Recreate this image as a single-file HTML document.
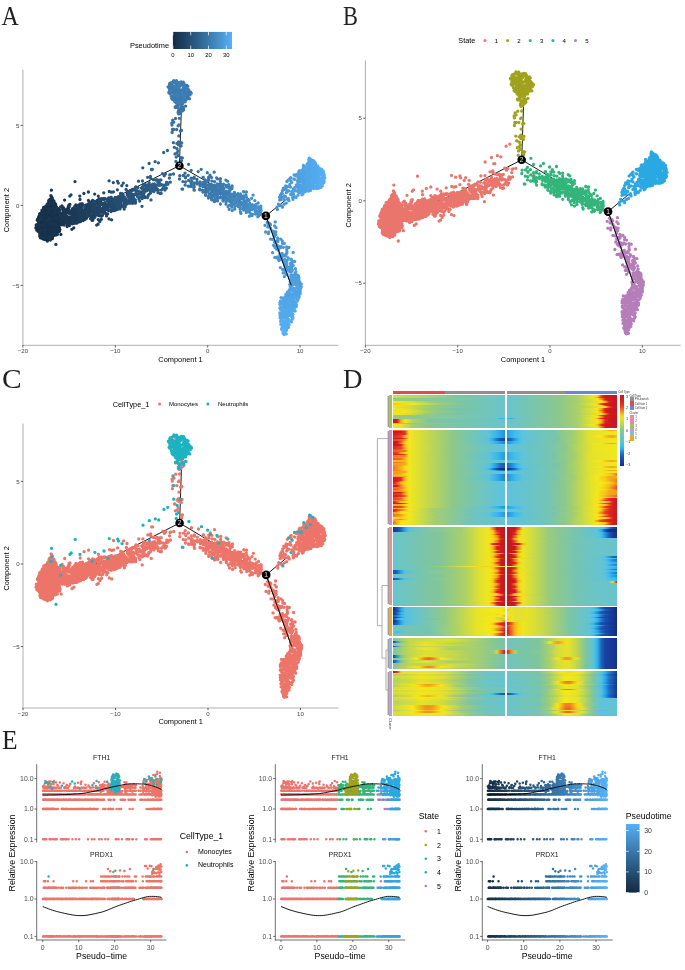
<!DOCTYPE html>
<html><head><meta charset="utf-8"><title>Figure</title>
<style>
html,body{margin:0;padding:0;background:#fff;}
#fig{position:relative;width:685px;height:970px;overflow:hidden;background:#fff;filter:blur(0.3px);font-family:"Liberation Sans",sans-serif;}
.hr{position:absolute;}
</style></head><body><div id="fig">
<div class="hr" style="left:393.2px;top:394.90px;width:112.1px;height:1.94px;background:linear-gradient(90deg,#d3dc3d 0%,#bdd655 21.4%,#80c59a 57.1%,#6ac4c9 100%)"></div>
<div class="hr" style="left:507.2px;top:394.90px;width:110.0px;height:1.94px;background:linear-gradient(90deg,#68c4cc 0%,#8ac88e 46.4%,#aad067 64.3%,#ede621 78.6%,#f7d717 82.1%,#e94724 85.7%,#cd181f 89.3%,#c8161e 100%)"></div>
<div class="hr" style="left:393.2px;top:396.53px;width:112.1px;height:1.94px;background:linear-gradient(90deg,#d3dc3d 0%,#bdd655 21.4%,#80c59a 57.1%,#6ac4c9 100%)"></div>
<div class="hr" style="left:507.2px;top:396.53px;width:110.0px;height:1.94px;background:linear-gradient(90deg,#68c4cc 0%,#8ac88e 46.4%,#acd166 64.3%,#f6ea16 78.6%,#f6a41d 82.1%,#dc1f22 85.7%,#cc181f 89.3%,#c8161e 100%)"></div>
<div class="hr" style="left:393.2px;top:398.17px;width:112.1px;height:1.94px;background:linear-gradient(90deg,#98cb7d 0%,#6ac4c9 100%)"></div>
<div class="hr" style="left:507.2px;top:398.17px;width:110.0px;height:1.94px;background:linear-gradient(90deg,#68c4cc 0%,#8ac88e 46.4%,#a9d069 64.3%,#f6e616 82.1%,#f5941f 85.7%,#d81d21 89.3%,#ca171e 96.4%,#c8161e 100%)"></div>
<div class="hr" style="left:393.2px;top:399.81px;width:112.1px;height:1.94px;background:linear-gradient(90deg,#98cb7d 0%,#6ac4c9 100%)"></div>
<div class="hr" style="left:507.2px;top:399.81px;width:110.0px;height:1.94px;background:linear-gradient(90deg,#68c4cc 0%,#8ac88e 46.4%,#a8d06a 64.3%,#ede621 82.1%,#f7d817 85.7%,#ea4924 89.3%,#cd181f 92.9%,#c8161e 100%)"></div>
<div class="hr" style="left:393.2px;top:401.44px;width:112.1px;height:1.94px;background:linear-gradient(90deg,#f4e919 0%,#d8de38 17.9%,#9bcc79 35.7%,#7ac5a7 64.3%,#6ac4c9 100%)"></div>
<div class="hr" style="left:507.2px;top:401.44px;width:110.0px;height:1.94px;background:linear-gradient(90deg,#68c4cc 0%,#8ac88e 46.4%,#a7cf6b 64.3%,#f5e917 85.7%,#f6af1b 89.3%,#de2522 92.9%,#cb171f 96.4%,#c8161e 100%)"></div>
<div class="hr" style="left:393.2px;top:403.07px;width:112.1px;height:1.94px;background:linear-gradient(90deg,#f8c918 0%,#f1e81c 17.9%,#cfdb41 28.6%,#9bcc7a 42.9%,#79c5a8 67.9%,#6ac4c9 100%)"></div>
<div class="hr" style="left:507.2px;top:403.07px;width:110.0px;height:1.94px;background:linear-gradient(90deg,#68c4cc 0%,#8ac88e 46.4%,#aad067 64.3%,#ede621 78.6%,#f7d817 82.1%,#e94824 85.7%,#cd181f 89.3%,#c8161e 100%)"></div>
<div class="hr" style="left:393.2px;top:404.71px;width:112.1px;height:1.94px;background:linear-gradient(90deg,#efe71e 0%,#d5dd3b 14.3%,#9dcd77 28.6%,#7dc5a0 53.6%,#6ac4c9 100%)"></div>
<div class="hr" style="left:507.2px;top:404.71px;width:110.0px;height:1.94px;background:linear-gradient(90deg,#68c4cc 0%,#8ac88e 46.4%,#a8d069 64.3%,#efe71e 82.1%,#f7d417 85.7%,#e63e23 89.3%,#cc181f 92.9%,#c8161e 100%)"></div>
<div class="hr" style="left:393.2px;top:406.34px;width:112.1px;height:1.94px;background:linear-gradient(90deg,#e7e328 0%,#d0db40 14.3%,#96cb7f 35.7%,#78c5ab 67.9%,#6ac4c9 100%)"></div>
<div class="hr" style="left:507.2px;top:406.34px;width:110.0px;height:1.94px;background:linear-gradient(90deg,#68c4cc 0%,#8ac88e 46.4%,#b3d35e 67.9%,#ede621 85.7%,#f7d817 89.3%,#ea4924 92.9%,#cc181f 96.4%,#c8161e 100%)"></div>
<div class="hr" style="left:393.2px;top:407.98px;width:112.1px;height:1.94px;background:linear-gradient(90deg,#f3e91a 0%,#dbdf35 14.3%,#9fcd74 28.6%,#7fc59c 50%,#6ac4c9 100%)"></div>
<div class="hr" style="left:507.2px;top:407.98px;width:110.0px;height:1.94px;background:linear-gradient(90deg,#68c4cc 0%,#8ac88e 46.4%,#a9d069 64.3%,#f5ea17 82.1%,#f6ab1c 85.7%,#dd2322 89.3%,#cc181f 92.9%,#c8161e 100%)"></div>
<div class="hr" style="left:393.2px;top:409.62px;width:112.1px;height:1.94px;background:linear-gradient(90deg,#f7db17 0%,#f2e81b 10.7%,#cfdb41 21.4%,#a0cd73 32.1%,#7ec59e 53.6%,#6ac4c9 100%)"></div>
<div class="hr" style="left:507.2px;top:409.62px;width:110.0px;height:1.94px;background:linear-gradient(90deg,#68c4cc 0%,#8ac88e 46.4%,#aad068 64.3%,#f7e017 82.1%,#f07122 85.7%,#d01920 89.3%,#c8161e 100%)"></div>
<div class="hr" style="left:393.2px;top:411.25px;width:112.1px;height:1.94px;background:linear-gradient(90deg,#f7dd17 0%,#f1e81c 10.7%,#cfdb41 21.4%,#98cb7d 35.7%,#7bc5a4 60.7%,#6ac4c9 100%)"></div>
<div class="hr" style="left:507.2px;top:411.25px;width:110.0px;height:1.94px;background:linear-gradient(90deg,#68c4cc 0%,#8ac88e 46.4%,#a9d069 64.3%,#f5ea17 82.1%,#f6ad1b 85.7%,#de2422 89.3%,#cc181f 92.9%,#c8161e 100%)"></div>
<div class="hr" style="left:393.2px;top:412.88px;width:112.1px;height:1.94px;background:linear-gradient(90deg,#f6e916 0%,#dcdf34 14.3%,#9bcc79 28.6%,#7ec59e 50%,#6ac4c9 100%)"></div>
<div class="hr" style="left:507.2px;top:412.88px;width:110.0px;height:1.94px;background:linear-gradient(90deg,#68c4cc 0%,#8ac88e 46.4%,#a8cf6a 64.3%,#f6e316 85.7%,#f38420 89.3%,#d41b20 92.9%,#c8161e 100%)"></div>
<div class="hr" style="left:393.2px;top:414.52px;width:112.1px;height:1.94px;background:linear-gradient(90deg,#98cb7d 0%,#6ac4c9 100%)"></div>
<div class="hr" style="left:507.2px;top:414.52px;width:110.0px;height:1.94px;background:linear-gradient(90deg,#68c4cc 0%,#8ac88e 46.4%,#abd067 64.3%,#f0e71d 78.6%,#f8d018 82.1%,#e53923 85.7%,#cc181f 89.3%,#c8161e 100%)"></div>
<div class="hr" style="left:393.2px;top:416.16px;width:112.1px;height:1.94px;background:linear-gradient(90deg,#98cb7d 0%,#6ac4c9 100%)"></div>
<div class="hr" style="left:507.2px;top:416.16px;width:110.0px;height:1.94px;background:linear-gradient(90deg,#68c4cc 0%,#8ac88e 46.4%,#a9d069 64.3%,#f6e916 82.1%,#f59e1d 85.7%,#db1e22 89.3%,#ca171e 96.4%,#c8161e 100%)"></div>
<div class="hr" style="left:393.2px;top:417.79px;width:112.1px;height:1.94px;background:linear-gradient(90deg,#98cb7d 0%,#6fc4be 85.7%,#6ac4c8 89.3%,#58c2e0 92.9%,#2eadec 96.4%,#3fbdef 100%)"></div>
<div class="hr" style="left:507.2px;top:417.79px;width:110.0px;height:1.94px;background:linear-gradient(90deg,#3bbbef 0%,#2baaeb 3.6%,#55c2e2 7.1%,#6ac4c9 10.7%,#95ca81 53.6%,#acd166 64.3%,#f6ea16 78.6%,#f6a81c 82.1%,#dd2122 85.7%,#cc181f 89.3%,#c8161e 100%)"></div>
<div class="hr" style="left:393.2px;top:419.43px;width:112.1px;height:1.94px;background:linear-gradient(90deg,#c8161e 0%,#d61c21 3.6%,#f6ac1c 7.1%,#f6e616 10.7%,#b2d35f 17.9%,#7fc59c 32.1%,#68c4cc 100%)"></div>
<div class="hr" style="left:507.2px;top:419.43px;width:110.0px;height:1.94px;background:linear-gradient(90deg,#68c4cc 0%,#8ac88e 46.4%,#a9d069 64.3%,#f4e919 82.1%,#f7b91a 85.7%,#e02b23 89.3%,#cc181f 92.9%,#c8161e 100%)"></div>
<div class="hr" style="left:393.2px;top:421.06px;width:112.1px;height:1.94px;background:linear-gradient(90deg,#c8161e 0%,#d61c21 3.6%,#f6ac1c 7.1%,#f6e616 10.7%,#b2d35f 17.9%,#7fc59c 32.1%,#68c4cc 100%)"></div>
<div class="hr" style="left:507.2px;top:421.06px;width:110.0px;height:1.94px;background:linear-gradient(90deg,#68c4cc 0%,#8ac88e 46.4%,#a9d069 64.3%,#f5e918 82.1%,#f7b11b 85.7%,#df2622 89.3%,#cc181f 92.9%,#c8161e 100%)"></div>
<div class="hr" style="left:393.2px;top:422.69px;width:112.1px;height:1.94px;background:linear-gradient(90deg,#98cb7d 0%,#6ac4c9 100%)"></div>
<div class="hr" style="left:507.2px;top:422.69px;width:110.0px;height:1.94px;background:linear-gradient(90deg,#68c4cc 0%,#8ac88e 46.4%,#a9d068 64.3%,#f6e516 82.1%,#f48c20 85.7%,#d61c21 89.3%,#c8161e 100%)"></div>
<div class="hr" style="left:393.2px;top:424.33px;width:112.1px;height:1.94px;background:linear-gradient(90deg,#f6e416 0%,#e9e426 7.1%,#a1ce72 17.9%,#85c694 32.1%,#6ac4c9 100%)"></div>
<div class="hr" style="left:507.2px;top:424.33px;width:110.0px;height:1.94px;background:linear-gradient(90deg,#68c4cc 0%,#8ac88e 46.4%,#abd067 64.3%,#f1e81b 78.6%,#f8ca18 82.1%,#e33423 85.7%,#cc181f 89.3%,#c8161e 100%)"></div>
<div class="hr" style="left:393.2px;top:425.97px;width:112.1px;height:1.94px;background:linear-gradient(90deg,#f6e416 0%,#e9e426 7.1%,#a1ce72 17.9%,#85c694 32.1%,#6ac4c9 100%)"></div>
<div class="hr" style="left:507.2px;top:425.97px;width:110.0px;height:1.94px;background:linear-gradient(90deg,#68c4cc 0%,#8ac88e 46.4%,#aad068 64.3%,#f6e216 82.1%,#f27f21 85.7%,#d31a20 89.3%,#c8161e 100%)"></div>
<div class="hr" style="left:388.9px;top:394.9px;width:3.1px;height:32.7px;background:#a8c43c"></div>
<div class="hr" style="left:393.2px;top:429.80px;width:112.1px;height:1.89px;background:linear-gradient(90deg,#ed6023 0%,#f06f22 7.1%,#f38420 10.7%,#f2e81b 14.3%,#c3d74e 32.1%,#8cc88b 53.6%,#60c3d8 85.7%,#34b4ee 92.9%,#238fda 100%)"></div>
<div class="hr" style="left:507.2px;top:429.80px;width:110.0px;height:1.89px;background:linear-gradient(90deg,#26a1e7 0%,#3ebdef 7.1%,#60c3d8 14.3%,#79c5aa 42.9%,#a4ce6f 60.7%,#e2e12e 75%,#f5e918 85.7%,#f6af1b 92.9%,#f6a81c 96.4%,#f8c618 100%)"></div>
<div class="hr" style="left:393.2px;top:431.39px;width:112.1px;height:1.89px;background:linear-gradient(90deg,#c9171e 0%,#d41b20 7.1%,#e53b23 10.7%,#f2e81b 14.3%,#c3d74e 32.1%,#8cc88b 53.6%,#60c3d8 85.7%,#34b4ee 92.9%,#238fda 100%)"></div>
<div class="hr" style="left:507.2px;top:431.39px;width:110.0px;height:1.89px;background:linear-gradient(90deg,#26a1e7 0%,#3ebdef 7.1%,#60c3d8 14.3%,#79c5aa 42.9%,#a4ce6f 60.7%,#e2e12e 75%,#f2e81a 100%)"></div>
<div class="hr" style="left:393.2px;top:432.98px;width:112.1px;height:1.89px;background:linear-gradient(90deg,#da1d22 0%,#e22f23 10.7%,#f2e81b 14.3%,#c3d74e 32.1%,#8cc88b 53.6%,#60c3d8 85.7%,#34b4ee 92.9%,#238fda 100%)"></div>
<div class="hr" style="left:507.2px;top:432.98px;width:110.0px;height:1.89px;background:linear-gradient(90deg,#26a1e7 0%,#3ebdef 7.1%,#60c3d8 14.3%,#79c5aa 42.9%,#a4ce6f 60.7%,#e2e12e 75%,#f2e81a 100%)"></div>
<div class="hr" style="left:393.2px;top:434.56px;width:112.1px;height:1.89px;background:linear-gradient(90deg,#dd2222 0%,#e73f24 7.1%,#f7ba1a 10.7%,#f2e81b 14.3%,#c3d74e 32.1%,#8cc88b 53.6%,#60c3d8 85.7%,#34b4ee 92.9%,#238fda 100%)"></div>
<div class="hr" style="left:507.2px;top:434.56px;width:110.0px;height:1.89px;background:linear-gradient(90deg,#26a1e7 0%,#3ebdef 7.1%,#60c3d8 14.3%,#79c5aa 42.9%,#a4ce6f 60.7%,#e2e12e 75%,#f5e918 85.7%,#f6af1b 92.9%,#f6a81c 96.4%,#f8c618 100%)"></div>
<div class="hr" style="left:393.2px;top:436.15px;width:112.1px;height:1.89px;background:linear-gradient(90deg,#e12e23 0%,#e74124 7.1%,#f6ac1c 10.7%,#f2e81b 14.3%,#c3d74e 32.1%,#8cc88b 53.6%,#60c3d8 85.7%,#34b4ee 92.9%,#238fda 100%)"></div>
<div class="hr" style="left:507.2px;top:436.15px;width:110.0px;height:1.89px;background:linear-gradient(90deg,#26a1e7 0%,#3ebdef 7.1%,#60c3d8 14.3%,#79c5aa 42.9%,#a4ce6f 60.7%,#e2e12e 75%,#f5e918 85.7%,#f6af1b 92.9%,#f6a81c 96.4%,#f8c618 100%)"></div>
<div class="hr" style="left:393.2px;top:437.74px;width:112.1px;height:1.89px;background:linear-gradient(90deg,#d11a20 0%,#da1d22 7.1%,#e63e23 10.7%,#f2e81b 14.3%,#c3d74e 32.1%,#8cc88b 53.6%,#63c3d4 82.1%,#4fc0e6 85.7%,#2baaeb 89.3%,#1d72c6 92.9%,#1a50ae 96.4%,#1943a3 100%)"></div>
<div class="hr" style="left:507.2px;top:437.74px;width:110.0px;height:1.89px;background:linear-gradient(90deg,#1b59b4 0%,#1c68bf 3.6%,#2498e0 7.1%,#3ebdef 10.7%,#5dc3dd 14.3%,#7dc5a0 46.4%,#b3d35e 64.3%,#e2e12e 75%,#f2e81a 100%)"></div>
<div class="hr" style="left:393.2px;top:439.33px;width:112.1px;height:1.89px;background:linear-gradient(90deg,#e84524 0%,#ec5823 7.1%,#f2e81b 14.3%,#c3d74e 32.1%,#8cc88b 53.6%,#63c3d4 82.1%,#4fc0e6 85.7%,#2baaeb 89.3%,#1d72c6 92.9%,#1a50ae 96.4%,#1943a3 100%)"></div>
<div class="hr" style="left:507.2px;top:439.33px;width:110.0px;height:1.89px;background:linear-gradient(90deg,#1b59b4 0%,#1c68bf 3.6%,#2498e0 7.1%,#3ebdef 10.7%,#5dc3dd 14.3%,#7dc5a0 46.4%,#b3d35e 64.3%,#e2e12e 75%,#f2e81a 100%)"></div>
<div class="hr" style="left:393.2px;top:440.92px;width:112.1px;height:1.89px;background:linear-gradient(90deg,#c8161e 0%,#cc181f 3.6%,#ec5623 7.1%,#f8ca18 10.7%,#f2e81b 14.3%,#c3d74e 32.1%,#8cc88b 53.6%,#5fc3da 85.7%,#2fafec 92.9%,#2083d2 100%)"></div>
<div class="hr" style="left:507.2px;top:440.92px;width:110.0px;height:1.89px;background:linear-gradient(90deg,#2498e0 0%,#28a7ea 3.6%,#3abaef 7.1%,#60c3d8 14.3%,#79c5aa 42.9%,#a4ce6f 60.7%,#e2e12e 75%,#f2e81a 100%)"></div>
<div class="hr" style="left:393.2px;top:442.51px;width:112.1px;height:1.89px;background:linear-gradient(90deg,#cf191f 0%,#d41b20 3.6%,#f38320 7.1%,#f8ce18 10.7%,#f2e81b 14.3%,#c3d74e 32.1%,#8cc88b 53.6%,#5fc3da 85.7%,#2fafec 92.9%,#2083d2 100%)"></div>
<div class="hr" style="left:507.2px;top:442.51px;width:110.0px;height:1.89px;background:linear-gradient(90deg,#2498e0 0%,#28a7ea 3.6%,#3abaef 7.1%,#60c3d8 14.3%,#79c5aa 42.9%,#a4ce6f 60.7%,#e2e12e 75%,#f5e918 85.7%,#f6af1b 92.9%,#f6a81c 96.4%,#f8c618 100%)"></div>
<div class="hr" style="left:393.2px;top:444.10px;width:112.1px;height:1.89px;background:linear-gradient(90deg,#c8161e 0%,#d71c21 7.1%,#f7b51a 10.7%,#f2e81b 14.3%,#c3d84e 32.1%,#8cc88b 53.6%,#65c4d1 89.3%,#5cc3de 100%)"></div>
<div class="hr" style="left:507.2px;top:444.10px;width:110.0px;height:1.89px;background:linear-gradient(90deg,#5cc3de 0%,#72c4b9 35.7%,#8fc988 53.6%,#c5d84c 67.9%,#e8e426 78.6%,#f2e81a 100%)"></div>
<div class="hr" style="left:393.2px;top:445.68px;width:112.1px;height:1.89px;background:linear-gradient(90deg,#de2422 0%,#e12d23 3.6%,#ea4d24 7.1%,#f7c019 10.7%,#f2e81b 14.3%,#c3d84e 32.1%,#8cc88b 53.6%,#65c4d1 89.3%,#5cc3de 100%)"></div>
<div class="hr" style="left:507.2px;top:445.68px;width:110.0px;height:1.89px;background:linear-gradient(90deg,#5cc3de 0%,#72c4b9 35.7%,#8fc988 53.6%,#c5d84c 67.9%,#e8e426 78.6%,#f2e81a 100%)"></div>
<div class="hr" style="left:393.2px;top:447.27px;width:112.1px;height:1.89px;background:linear-gradient(90deg,#e02a23 0%,#e63d23 7.1%,#f6a21d 10.7%,#f2e81b 14.3%,#c3d84e 32.1%,#8cc88b 53.6%,#65c4d1 89.3%,#5cc3de 100%)"></div>
<div class="hr" style="left:507.2px;top:447.27px;width:110.0px;height:1.89px;background:linear-gradient(90deg,#5cc3de 0%,#72c4b9 35.7%,#8fc988 53.6%,#c5d84c 67.9%,#e8e426 78.6%,#f2e81a 100%)"></div>
<div class="hr" style="left:393.2px;top:448.86px;width:112.1px;height:1.89px;background:linear-gradient(90deg,#e94624 0%,#eb4e24 3.6%,#ee6622 7.1%,#f7bc19 10.7%,#f2e81b 14.3%,#c3d84e 32.1%,#8cc88b 53.6%,#65c4d1 89.3%,#5cc3de 100%)"></div>
<div class="hr" style="left:507.2px;top:448.86px;width:110.0px;height:1.89px;background:linear-gradient(90deg,#5cc3de 0%,#72c4b9 35.7%,#8fc988 53.6%,#c5d84c 67.9%,#e8e426 78.6%,#f2e81a 100%)"></div>
<div class="hr" style="left:393.2px;top:450.45px;width:112.1px;height:1.89px;background:linear-gradient(90deg,#ec5723 0%,#f17521 10.7%,#f2e81b 14.3%,#c3d84e 32.1%,#8cc88b 53.6%,#65c4d1 89.3%,#5cc3de 100%)"></div>
<div class="hr" style="left:507.2px;top:450.45px;width:110.0px;height:1.89px;background:linear-gradient(90deg,#5cc3de 0%,#72c4b9 35.7%,#8fc988 53.6%,#c5d84c 67.9%,#e8e426 78.6%,#f2e81a 100%)"></div>
<div class="hr" style="left:393.2px;top:452.04px;width:112.1px;height:1.89px;background:linear-gradient(90deg,#e23223 0%,#e53a23 3.6%,#f59b1e 7.1%,#f8d018 10.7%,#f2e81b 14.3%,#c3d74e 32.1%,#8cc88b 53.6%,#61c3d7 85.7%,#39b9ef 92.9%,#259ae2 100%)"></div>
<div class="hr" style="left:507.2px;top:452.04px;width:110.0px;height:1.89px;background:linear-gradient(90deg,#2aa9eb 0%,#43beec 7.1%,#61c3d7 14.3%,#79c5aa 42.9%,#a4ce6f 60.7%,#e2e12e 75%,#f2e81a 100%)"></div>
<div class="hr" style="left:393.2px;top:453.62px;width:112.1px;height:1.89px;background:linear-gradient(90deg,#d71c21 0%,#de2622 7.1%,#ea4924 10.7%,#f2e81b 14.3%,#c3d74e 32.1%,#8cc88b 53.6%,#61c3d7 85.7%,#39b9ef 92.9%,#259ae2 100%)"></div>
<div class="hr" style="left:507.2px;top:453.62px;width:110.0px;height:1.89px;background:linear-gradient(90deg,#2aa9eb 0%,#43beec 7.1%,#61c3d7 14.3%,#79c5aa 42.9%,#a4ce6f 60.7%,#e2e12e 75%,#f2e81a 100%)"></div>
<div class="hr" style="left:393.2px;top:455.21px;width:112.1px;height:1.89px;background:linear-gradient(90deg,#f06f22 0%,#f38620 10.7%,#f2e81b 14.3%,#c3d74e 32.1%,#8cc88b 53.6%,#61c3d7 85.7%,#39b9ef 92.9%,#259ae2 100%)"></div>
<div class="hr" style="left:507.2px;top:455.21px;width:110.0px;height:1.89px;background:linear-gradient(90deg,#2aa9eb 0%,#43beec 7.1%,#61c3d7 14.3%,#79c5aa 42.9%,#a4ce6f 60.7%,#e2e12e 75%,#f2e81a 100%)"></div>
<div class="hr" style="left:393.2px;top:456.80px;width:112.1px;height:1.89px;background:linear-gradient(90deg,#f38121 0%,#f48c20 7.1%,#f6a81c 10.7%,#f2e81b 14.3%,#c3d74e 32.1%,#8cc88b 53.6%,#61c3d7 85.7%,#39b9ef 92.9%,#259ae2 100%)"></div>
<div class="hr" style="left:507.2px;top:456.80px;width:110.0px;height:1.89px;background:linear-gradient(90deg,#2aa9eb 0%,#43beec 7.1%,#61c3d7 14.3%,#79c5aa 42.9%,#a4ce6f 60.7%,#e2e12e 75%,#f2e81a 100%)"></div>
<div class="hr" style="left:393.2px;top:458.39px;width:112.1px;height:1.89px;background:linear-gradient(90deg,#ec5a23 0%,#f06d22 7.1%,#f7b61a 10.7%,#f2e81b 14.3%,#c3d74e 32.1%,#8cc88b 53.6%,#61c3d7 85.7%,#39b9ef 92.9%,#259ae2 100%)"></div>
<div class="hr" style="left:507.2px;top:458.39px;width:110.0px;height:1.89px;background:linear-gradient(90deg,#2aa9eb 0%,#43beec 7.1%,#61c3d7 14.3%,#79c5aa 42.9%,#a4ce6f 60.7%,#e2e12e 75%,#f2e81a 100%)"></div>
<div class="hr" style="left:393.2px;top:459.98px;width:112.1px;height:1.89px;background:linear-gradient(90deg,#f7b41b 0%,#f7b81a 7.1%,#f7b31b 10.7%,#f2e81b 14.3%,#c3d84e 32.1%,#8cc88b 53.6%,#65c4d1 89.3%,#5cc3de 100%)"></div>
<div class="hr" style="left:507.2px;top:459.98px;width:110.0px;height:1.89px;background:linear-gradient(90deg,#5cc3de 0%,#72c4b9 35.7%,#8fc988 53.6%,#c5d84c 67.9%,#e9e426 78.6%,#f5e918 85.7%,#f6af1b 92.9%,#f6a81c 96.4%,#f8c618 100%)"></div>
<div class="hr" style="left:393.2px;top:461.57px;width:112.1px;height:1.89px;background:linear-gradient(90deg,#f17921 0%,#f38520 7.1%,#f6a71c 10.7%,#f2e81b 14.3%,#c3d84e 32.1%,#8cc88b 53.6%,#65c4d1 89.3%,#5cc3de 100%)"></div>
<div class="hr" style="left:507.2px;top:461.57px;width:110.0px;height:1.89px;background:linear-gradient(90deg,#5cc3de 0%,#72c4b9 35.7%,#8fc988 53.6%,#c5d84c 67.9%,#e8e426 78.6%,#f2e81a 100%)"></div>
<div class="hr" style="left:393.2px;top:463.16px;width:112.1px;height:1.89px;background:linear-gradient(90deg,#f5951f 0%,#f6a71c 10.7%,#f2e81b 14.3%,#c3d74e 32.1%,#8cc88b 53.6%,#64c4d1 82.1%,#58c2e0 85.7%,#36b6ee 89.3%,#1c67bf 96.4%,#1b5ab5 100%)"></div>
<div class="hr" style="left:507.2px;top:463.16px;width:110.0px;height:1.89px;background:linear-gradient(90deg,#1c6ec4 0%,#2083d2 3.6%,#2aaaeb 7.1%,#47bfea 10.7%,#5ec3db 14.3%,#7dc5a0 46.4%,#b3d35e 64.3%,#e2e12e 75%,#f2e81a 100%)"></div>
<div class="hr" style="left:393.2px;top:464.74px;width:112.1px;height:1.89px;background:linear-gradient(90deg,#f48b20 0%,#f5981e 7.1%,#f2e81b 14.3%,#c3d74e 32.1%,#8cc88b 53.6%,#64c4d1 82.1%,#58c2e0 85.7%,#36b6ee 89.3%,#1c67bf 96.4%,#1b5ab5 100%)"></div>
<div class="hr" style="left:507.2px;top:464.74px;width:110.0px;height:1.89px;background:linear-gradient(90deg,#1c6ec4 0%,#2083d2 3.6%,#2aaaeb 7.1%,#47bfea 10.7%,#5ec3db 14.3%,#7dc5a0 46.4%,#b3d35e 64.3%,#e2e12e 75%,#f2e81a 100%)"></div>
<div class="hr" style="left:393.2px;top:466.33px;width:112.1px;height:1.89px;background:linear-gradient(90deg,#f07321 0%,#f7d817 10.7%,#f2e81b 14.3%,#c3d74e 32.1%,#8cc88b 53.6%,#64c4d1 82.1%,#58c2e0 85.7%,#36b6ee 89.3%,#1c67bf 96.4%,#1b5ab5 100%)"></div>
<div class="hr" style="left:507.2px;top:466.33px;width:110.0px;height:1.89px;background:linear-gradient(90deg,#1c6ec4 0%,#2083d2 3.6%,#2aaaeb 7.1%,#47bfea 10.7%,#5ec3db 14.3%,#7dc5a0 46.4%,#b3d35e 64.3%,#e2e12e 75%,#f5e918 85.7%,#f6af1b 92.9%,#f6a81c 96.4%,#f8c618 100%)"></div>
<div class="hr" style="left:393.2px;top:467.92px;width:112.1px;height:1.89px;background:linear-gradient(90deg,#f17621 0%,#f48f1f 3.6%,#f7d717 10.7%,#f2e81b 14.3%,#c3d74e 32.1%,#8cc88b 53.6%,#69c4cb 78.6%,#5fc3d9 82.1%,#3bbbef 85.7%,#207fcf 89.3%,#1a46a6 92.9%,#142c8a 96.4%,#142c8a 100%)"></div>
<div class="hr" style="left:507.2px;top:467.92px;width:110.0px;height:1.89px;background:linear-gradient(90deg,#163392 0%,#1941a1 3.6%,#1c6ac0 7.1%,#2eadec 10.7%,#54c2e2 14.3%,#69c4ca 25%,#85c694 50%,#b3d35e 64.3%,#e2e12e 75%,#f2e81a 100%)"></div>
<div class="hr" style="left:393.2px;top:469.51px;width:112.1px;height:1.89px;background:linear-gradient(90deg,#f28021 0%,#f48920 3.6%,#f6a31d 7.1%,#f8cf18 10.7%,#f2e81b 14.3%,#c3d74e 32.1%,#8cc88b 53.6%,#5bc3de 85.7%,#3bbbef 89.3%,#259be2 92.9%,#1e74c8 96.4%,#1c65bd 100%)"></div>
<div class="hr" style="left:507.2px;top:469.51px;width:110.0px;height:1.89px;background:linear-gradient(90deg,#1f7ccd 0%,#30afec 7.1%,#5fc3da 14.3%,#79c5aa 42.9%,#a4ce6f 60.7%,#e2e12e 75%,#f5e918 85.7%,#f6af1b 92.9%,#f6a81c 96.4%,#f8c618 100%)"></div>
<div class="hr" style="left:393.2px;top:471.10px;width:112.1px;height:1.89px;background:linear-gradient(90deg,#f59c1e 0%,#f6a71c 10.7%,#f2e81b 14.3%,#c3d84e 32.1%,#8cc88b 53.6%,#65c4d1 89.3%,#5cc3de 100%)"></div>
<div class="hr" style="left:507.2px;top:471.10px;width:110.0px;height:1.89px;background:linear-gradient(90deg,#5cc3de 0%,#72c4b9 35.7%,#8fc988 53.6%,#c5d84c 67.9%,#e8e426 78.6%,#f2e81a 100%)"></div>
<div class="hr" style="left:393.2px;top:472.69px;width:112.1px;height:1.89px;background:linear-gradient(90deg,#f48a20 0%,#f6a81c 7.1%,#f7d117 10.7%,#f2e81b 14.3%,#c3d84e 32.1%,#8cc88b 53.6%,#65c4d1 89.3%,#5cc3de 100%)"></div>
<div class="hr" style="left:507.2px;top:472.69px;width:110.0px;height:1.89px;background:linear-gradient(90deg,#5cc3de 0%,#72c4b9 35.7%,#8fc988 53.6%,#c5d84c 67.9%,#e8e426 78.6%,#f6e716 85.7%,#f8c219 92.9%,#f27d21 100%)"></div>
<div class="hr" style="left:393.2px;top:474.27px;width:112.1px;height:1.89px;background:linear-gradient(90deg,#f6a31d 0%,#f7bb1a 7.1%,#f2e81b 14.3%,#c3d74e 32.1%,#8cc88b 53.6%,#5fc3da 85.7%,#2fafec 92.9%,#2083d2 100%)"></div>
<div class="hr" style="left:507.2px;top:474.27px;width:110.0px;height:1.89px;background:linear-gradient(90deg,#2498e0 0%,#28a7ea 3.6%,#3abaef 7.1%,#60c3d8 14.3%,#79c5aa 42.9%,#a4ce6f 60.7%,#e2e12e 75%,#f6ea16 85.7%,#f7d117 92.9%,#f7b41b 96.4%,#f38221 100%)"></div>
<div class="hr" style="left:393.2px;top:475.86px;width:112.1px;height:1.89px;background:linear-gradient(90deg,#f59e1d 0%,#f6a91c 10.7%,#f2e81b 14.3%,#c3d74e 32.1%,#8cc88b 53.6%,#5fc3da 85.7%,#2fafec 92.9%,#2083d2 100%)"></div>
<div class="hr" style="left:507.2px;top:475.86px;width:110.0px;height:1.89px;background:linear-gradient(90deg,#2498e0 0%,#28a7ea 3.6%,#3abaef 7.1%,#60c3d8 14.3%,#79c5aa 42.9%,#a4ce6f 60.7%,#e2e12e 75%,#f3e81a 82.1%,#f8c419 89.3%,#f6a91c 92.9%,#f6aa1c 100%)"></div>
<div class="hr" style="left:393.2px;top:477.45px;width:112.1px;height:1.89px;background:linear-gradient(90deg,#d71c21 0%,#db1d22 3.6%,#e23023 7.1%,#f7b81a 10.7%,#f2e81b 14.3%,#c3d74e 32.1%,#8cc88b 53.6%,#5fc3da 85.7%,#2fafec 92.9%,#2083d2 100%)"></div>
<div class="hr" style="left:507.2px;top:477.45px;width:110.0px;height:1.89px;background:linear-gradient(90deg,#2498e0 0%,#28a7ea 3.6%,#3abaef 7.1%,#60c3d8 14.3%,#79c5aa 42.9%,#a4ce6f 60.7%,#e2e12e 75%,#f2e81b 82.1%,#f8ca18 89.3%,#f6aa1c 92.9%,#f59a1e 100%)"></div>
<div class="hr" style="left:393.2px;top:479.04px;width:112.1px;height:1.89px;background:linear-gradient(90deg,#d21a20 0%,#d61b21 3.6%,#e12d23 7.1%,#f7bb1a 10.7%,#f2e81b 14.3%,#c3d74e 32.1%,#8cc88b 53.6%,#5fc3da 85.7%,#2fafec 92.9%,#2083d2 100%)"></div>
<div class="hr" style="left:507.2px;top:479.04px;width:110.0px;height:1.89px;background:linear-gradient(90deg,#2498e0 0%,#28a7ea 3.6%,#3abaef 7.1%,#60c3d8 14.3%,#79c5aa 42.9%,#a4ce6f 60.7%,#e2e12e 75%,#f2e81b 82.1%,#f8cb18 89.3%,#f38121 100%)"></div>
<div class="hr" style="left:393.2px;top:480.63px;width:112.1px;height:1.89px;background:linear-gradient(90deg,#d61c21 0%,#da1d22 3.6%,#f48a20 7.1%,#f8ce18 10.7%,#f2e81b 14.3%,#c3d84e 32.1%,#8cc88b 53.6%,#65c4d1 89.3%,#5cc3de 100%)"></div>
<div class="hr" style="left:507.2px;top:480.63px;width:110.0px;height:1.89px;background:linear-gradient(90deg,#5cc3de 0%,#72c4b9 35.7%,#8fc988 53.6%,#c5d84c 67.9%,#e8e426 78.6%,#f6e616 85.7%,#f7be19 92.9%,#f27a21 100%)"></div>
<div class="hr" style="left:393.2px;top:482.22px;width:112.1px;height:1.89px;background:linear-gradient(90deg,#d31b20 0%,#eb4f24 3.6%,#f7ba1a 7.1%,#f2e81b 14.3%,#c3d84e 32.1%,#8cc88b 53.6%,#65c4d1 89.3%,#5cc3de 100%)"></div>
<div class="hr" style="left:507.2px;top:482.22px;width:110.0px;height:1.89px;background:linear-gradient(90deg,#5cc3de 0%,#72c4b9 35.7%,#8fc988 53.6%,#c5d84c 67.9%,#e8e426 78.6%,#f6ea16 85.7%,#f8d018 92.9%,#f7b31b 96.4%,#f38620 100%)"></div>
<div class="hr" style="left:393.2px;top:483.80px;width:112.1px;height:1.89px;background:linear-gradient(90deg,#e94824 0%,#eb5224 3.6%,#f8cc18 10.7%,#f2e81b 14.3%,#c3d84e 32.1%,#8cc88b 53.6%,#65c4d1 89.3%,#5cc3de 100%)"></div>
<div class="hr" style="left:507.2px;top:483.80px;width:110.0px;height:1.89px;background:linear-gradient(90deg,#5cc3de 0%,#72c4b9 35.7%,#8fc988 53.6%,#c5d84c 67.9%,#e8e426 78.6%,#f6e516 85.7%,#f5941f 100%)"></div>
<div class="hr" style="left:393.2px;top:485.39px;width:112.1px;height:1.89px;background:linear-gradient(90deg,#d31a20 0%,#d71c21 3.6%,#f27f21 7.1%,#f8cd18 10.7%,#f2e81b 14.3%,#c3d84e 32.1%,#8cc88b 53.6%,#65c4d1 89.3%,#5cc3de 100%)"></div>
<div class="hr" style="left:507.2px;top:485.39px;width:110.0px;height:1.89px;background:linear-gradient(90deg,#5cc3de 0%,#72c4b9 35.7%,#8fc988 53.6%,#c5d84c 67.9%,#e8e426 78.6%,#f6e516 85.7%,#f7bc1a 92.9%,#f5921f 96.4%,#ec5823 100%)"></div>
<div class="hr" style="left:393.2px;top:486.98px;width:112.1px;height:1.89px;background:linear-gradient(90deg,#ee6622 0%,#f17a21 7.1%,#f7b91a 10.7%,#f2e81b 14.3%,#c3d84e 32.1%,#8cc88b 53.6%,#65c4d1 89.3%,#5cc3de 100%)"></div>
<div class="hr" style="left:507.2px;top:486.98px;width:110.0px;height:1.89px;background:linear-gradient(90deg,#5cc3de 0%,#72c4b9 35.7%,#8fc988 53.6%,#c5d84c 67.9%,#f2e81b 82.1%,#f8ca18 89.3%,#f6ab1c 92.9%,#ea4c24 100%)"></div>
<div class="hr" style="left:393.2px;top:488.57px;width:112.1px;height:1.89px;background:linear-gradient(90deg,#eb4f24 0%,#ec5923 3.6%,#f6a61c 7.1%,#f7d117 10.7%,#f2e81b 14.3%,#c3d84e 32.1%,#8cc88b 53.6%,#65c4d1 89.3%,#5cc3de 100%)"></div>
<div class="hr" style="left:507.2px;top:488.57px;width:110.0px;height:1.89px;background:linear-gradient(90deg,#5cc3de 0%,#72c4b9 35.7%,#8fc988 53.6%,#c5d84c 67.9%,#e8e426 78.6%,#f6e716 85.7%,#f8c319 92.9%,#f59d1e 96.4%,#ed5e23 100%)"></div>
<div class="hr" style="left:393.2px;top:490.16px;width:112.1px;height:1.89px;background:linear-gradient(90deg,#f27a21 0%,#f48a20 7.1%,#f2e81b 14.3%,#c3d84e 32.1%,#8cc88b 53.6%,#65c4d1 89.3%,#5cc3de 100%)"></div>
<div class="hr" style="left:507.2px;top:490.16px;width:110.0px;height:1.89px;background:linear-gradient(90deg,#5cc3de 0%,#72c4b9 35.7%,#8fc988 53.6%,#c5d84c 67.9%,#f2e81b 82.1%,#f8ca18 89.3%,#f6ab1c 92.9%,#f5971e 100%)"></div>
<div class="hr" style="left:393.2px;top:491.75px;width:112.1px;height:1.89px;background:linear-gradient(90deg,#c8161e 0%,#d41b20 7.1%,#f48920 10.7%,#f2e81b 14.3%,#c3d84e 32.1%,#8cc88b 53.6%,#65c4d1 89.3%,#5cc3de 100%)"></div>
<div class="hr" style="left:507.2px;top:491.75px;width:110.0px;height:1.89px;background:linear-gradient(90deg,#5cc3de 0%,#72c4b9 35.7%,#8fc988 53.6%,#c5d84c 67.9%,#f3e919 82.1%,#f6a81c 92.9%,#f6a31d 100%)"></div>
<div class="hr" style="left:393.2px;top:493.33px;width:112.1px;height:1.89px;background:linear-gradient(90deg,#e12e23 0%,#e74224 7.1%,#f6ab1c 10.7%,#f2e81b 14.3%,#c3d84e 32.1%,#8cc88b 53.6%,#65c4d1 89.3%,#5cc3de 100%)"></div>
<div class="hr" style="left:507.2px;top:493.33px;width:110.0px;height:1.89px;background:linear-gradient(90deg,#5cc3de 0%,#72c4b9 35.7%,#8fc988 53.6%,#c5d84c 67.9%,#f2e81a 82.1%,#f8c518 89.3%,#f6a81c 92.9%,#f5961e 100%)"></div>
<div class="hr" style="left:393.2px;top:494.92px;width:112.1px;height:1.89px;background:linear-gradient(90deg,#db1d22 0%,#e12d23 7.1%,#ee6722 10.7%,#f2e81b 14.3%,#c3d84e 32.1%,#8cc88b 53.6%,#65c4d1 89.3%,#5cc3de 100%)"></div>
<div class="hr" style="left:507.2px;top:494.92px;width:110.0px;height:1.89px;background:linear-gradient(90deg,#5cc3de 0%,#72c4b9 35.7%,#8fc988 53.6%,#c5d84c 67.9%,#f5ea17 82.1%,#ef6822 100%)"></div>
<div class="hr" style="left:393.2px;top:496.51px;width:112.1px;height:1.89px;background:linear-gradient(90deg,#e94824 0%,#eb5224 3.6%,#f8cb18 10.7%,#f2e81b 14.3%,#c3d84e 32.1%,#8cc88b 53.6%,#65c4d1 89.3%,#5cc3de 100%)"></div>
<div class="hr" style="left:507.2px;top:496.51px;width:110.0px;height:1.89px;background:linear-gradient(90deg,#5cc3de 0%,#72c4b9 35.7%,#8fc988 53.6%,#c5d84c 67.9%,#e8e426 78.6%,#f6e416 85.7%,#f6ab1c 96.4%,#f6ae1b 100%)"></div>
<div class="hr" style="left:393.2px;top:498.10px;width:112.1px;height:1.89px;background:linear-gradient(90deg,#e73f24 0%,#e94724 3.6%,#ee6123 7.1%,#f7bd19 10.7%,#f2e81b 14.3%,#c3d84e 32.1%,#8cc88b 53.6%,#65c4d1 89.3%,#5cc3de 100%)"></div>
<div class="hr" style="left:507.2px;top:498.10px;width:110.0px;height:1.89px;background:linear-gradient(90deg,#5cc3de 0%,#72c4b9 35.7%,#8fc988 53.6%,#c5d84c 67.9%,#f6ea16 82.1%,#f8cd18 85.7%,#ef6a22 89.3%,#e02c23 92.9%,#d41b20 96.4%,#cd181f 100%)"></div>
<div class="hr" style="left:393.2px;top:499.69px;width:112.1px;height:1.89px;background:linear-gradient(90deg,#f07321 0%,#f28021 7.1%,#f59e1d 10.7%,#f2e81b 14.3%,#c3d84e 32.1%,#8cc88b 53.6%,#65c4d1 89.3%,#5cc3de 100%)"></div>
<div class="hr" style="left:507.2px;top:499.69px;width:110.0px;height:1.89px;background:linear-gradient(90deg,#5cc3de 0%,#72c4b9 35.7%,#8fc988 53.6%,#c5d84c 67.9%,#f6e216 82.1%,#f5a01d 85.7%,#e84324 89.3%,#de2522 92.9%,#cd181f 100%)"></div>
<div class="hr" style="left:393.2px;top:501.28px;width:112.1px;height:1.89px;background:linear-gradient(90deg,#ce181f 0%,#ec5723 3.6%,#f7bc19 7.1%,#f2e81b 14.3%,#c3d84e 32.1%,#8cc88b 53.6%,#65c4d1 89.3%,#5cc3de 100%)"></div>
<div class="hr" style="left:507.2px;top:501.28px;width:110.0px;height:1.89px;background:linear-gradient(90deg,#5cc3de 0%,#72c4b9 35.7%,#8fc988 53.6%,#c5d84c 67.9%,#f2e81b 82.1%,#f8cf18 89.3%,#f48b20 92.9%,#d41b20 96.4%,#cd181f 100%)"></div>
<div class="hr" style="left:393.2px;top:502.86px;width:112.1px;height:1.89px;background:linear-gradient(90deg,#ce181f 0%,#d81c21 7.1%,#eb4e24 10.7%,#f2e81b 14.3%,#c3d84e 32.1%,#8cc88b 53.6%,#65c4d1 89.3%,#5cc3de 100%)"></div>
<div class="hr" style="left:507.2px;top:502.86px;width:110.0px;height:1.89px;background:linear-gradient(90deg,#5cc3de 0%,#72c4b9 35.7%,#8fc988 53.6%,#c5d84c 67.9%,#e8e426 78.6%,#f7dc17 82.1%,#f38520 85.7%,#e63d23 89.3%,#de2322 92.9%,#cd181f 100%)"></div>
<div class="hr" style="left:393.2px;top:504.45px;width:112.1px;height:1.89px;background:linear-gradient(90deg,#f59b1e 0%,#f6af1b 7.1%,#f7d417 10.7%,#f2e81b 14.3%,#c3d84e 32.1%,#8cc88b 53.6%,#65c4d1 89.3%,#5cc3de 100%)"></div>
<div class="hr" style="left:507.2px;top:504.45px;width:110.0px;height:1.89px;background:linear-gradient(90deg,#5cc3de 0%,#72c4b9 35.7%,#8fc988 53.6%,#c5d84c 67.9%,#f3e81a 82.1%,#f8c818 89.3%,#ec5a23 92.9%,#d41b20 96.4%,#cd181f 100%)"></div>
<div class="hr" style="left:393.2px;top:506.04px;width:112.1px;height:1.89px;background:linear-gradient(90deg,#e33323 0%,#e84424 7.1%,#f5941f 10.7%,#f2e81b 14.3%,#c3d74e 32.1%,#8cc88b 53.6%,#60c3d8 85.7%,#34b4ee 92.9%,#238fda 100%)"></div>
<div class="hr" style="left:507.2px;top:506.04px;width:110.0px;height:1.89px;background:linear-gradient(90deg,#26a1e7 0%,#3ebdef 7.1%,#60c3d8 14.3%,#79c5aa 42.9%,#a4ce6f 60.7%,#e2e12e 75%,#f6e316 82.1%,#f6a61c 85.7%,#e84424 89.3%,#de2522 92.9%,#cd181f 100%)"></div>
<div class="hr" style="left:393.2px;top:507.63px;width:112.1px;height:1.89px;background:linear-gradient(90deg,#f5981e 0%,#f7df17 10.7%,#e8e327 17.9%,#a5cf6e 35.7%,#73c4b6 67.9%,#62c3d5 85.7%,#3ebdef 92.9%,#27a6ea 100%)"></div>
<div class="hr" style="left:507.2px;top:507.63px;width:110.0px;height:1.89px;background:linear-gradient(90deg,#26a1e7 0%,#3ebdef 7.1%,#60c3d8 14.3%,#79c5aa 42.9%,#a4ce6f 60.7%,#e2e12e 75%,#f4e918 82.1%,#f7d517 85.7%,#f5941f 89.3%,#e43623 92.9%,#d41b20 96.4%,#cd181f 100%)"></div>
<div class="hr" style="left:393.2px;top:509.22px;width:112.1px;height:1.89px;background:linear-gradient(90deg,#d91d21 0%,#e63f23 3.6%,#f5ea17 14.3%,#a5cf6e 35.7%,#73c4b6 67.9%,#64c4d2 100%)"></div>
<div class="hr" style="left:507.2px;top:509.22px;width:110.0px;height:1.89px;background:linear-gradient(90deg,#5cc3de 0%,#72c4b9 35.7%,#8fc988 53.6%,#c5d84c 67.9%,#f6e816 82.1%,#f8c918 85.7%,#ed5c23 89.3%,#e02a23 92.9%,#cd181f 100%)"></div>
<div class="hr" style="left:393.2px;top:510.81px;width:112.1px;height:1.89px;background:linear-gradient(90deg,#ce181f 0%,#ef6d22 3.6%,#f6e816 7.1%,#dedf32 21.4%,#a5cf6e 35.7%,#73c4b6 67.9%,#64c4d2 100%)"></div>
<div class="hr" style="left:507.2px;top:510.81px;width:110.0px;height:1.89px;background:linear-gradient(90deg,#5cc3de 0%,#72c4b9 35.7%,#8fc988 53.6%,#c5d84c 67.9%,#f6e416 82.1%,#f6a81c 85.7%,#e84524 89.3%,#de2622 92.9%,#cd181f 100%)"></div>
<div class="hr" style="left:393.2px;top:512.39px;width:112.1px;height:1.89px;background:linear-gradient(90deg,#f48820 0%,#f7dc17 7.1%,#f0e71d 14.3%,#cdda44 25%,#9ecd76 39.3%,#70c4bd 71.4%,#61c3d7 85.7%,#39b8ef 92.9%,#259ae2 100%)"></div>
<div class="hr" style="left:507.2px;top:512.39px;width:110.0px;height:1.89px;background:linear-gradient(90deg,#2498e0 0%,#28a7ea 3.6%,#3abaef 7.1%,#60c3d8 14.3%,#79c5aa 42.9%,#a4ce6f 60.7%,#e2e12e 75%,#f7dc17 82.1%,#f38520 85.7%,#e63d23 89.3%,#de2322 92.9%,#cd181f 100%)"></div>
<div class="hr" style="left:393.2px;top:513.98px;width:112.1px;height:1.89px;background:linear-gradient(90deg,#f07122 0%,#f59a1e 7.1%,#f8ca18 10.7%,#f3e919 14.3%,#a5cf6e 35.7%,#73c4b6 67.9%,#61c3d7 85.7%,#39b8ef 92.9%,#259ae2 100%)"></div>
<div class="hr" style="left:507.2px;top:513.98px;width:110.0px;height:1.89px;background:linear-gradient(90deg,#2498e0 0%,#28a7ea 3.6%,#3abaef 7.1%,#60c3d8 14.3%,#79c5aa 42.9%,#a4ce6f 60.7%,#e2e12e 75%,#f5e917 82.1%,#f7d317 85.7%,#e23223 92.9%,#d41b20 96.4%,#cd181f 100%)"></div>
<div class="hr" style="left:393.2px;top:515.57px;width:112.1px;height:1.89px;background:linear-gradient(90deg,#f27a21 0%,#f7d417 10.7%,#f2e81a 14.3%,#cdda44 25%,#9ecd76 39.3%,#70c4bd 71.4%,#61c3d7 85.7%,#39b8ef 92.9%,#259ae2 100%)"></div>
<div class="hr" style="left:507.2px;top:515.57px;width:110.0px;height:1.89px;background:linear-gradient(90deg,#2498e0 0%,#28a7ea 3.6%,#3abaef 7.1%,#60c3d8 14.3%,#79c5aa 42.9%,#a4ce6f 60.7%,#e2e12e 75%,#f7de17 82.1%,#e63f23 89.3%,#de2322 92.9%,#cd181f 100%)"></div>
<div class="hr" style="left:393.2px;top:517.16px;width:112.1px;height:1.89px;background:linear-gradient(90deg,#f7d717 0%,#f8c918 7.1%,#f1e81c 14.3%,#cdda44 25%,#9ecd76 39.3%,#70c4bd 71.4%,#64c4d2 100%)"></div>
<div class="hr" style="left:507.2px;top:517.16px;width:110.0px;height:1.89px;background:linear-gradient(90deg,#5cc3de 0%,#72c4b9 35.7%,#8fc988 53.6%,#c5d84c 67.9%,#f2e81b 82.1%,#f8cf18 89.3%,#f38520 92.9%,#d41b20 96.4%,#cd181f 100%)"></div>
<div class="hr" style="left:393.2px;top:518.75px;width:112.1px;height:1.89px;background:linear-gradient(90deg,#f6ab1c 0%,#f38720 7.1%,#f8c119 10.7%,#f4e918 14.3%,#a5cf6e 35.7%,#73c4b6 67.9%,#64c4d2 100%)"></div>
<div class="hr" style="left:507.2px;top:518.75px;width:110.0px;height:1.89px;background:linear-gradient(90deg,#5cc3de 0%,#72c4b9 35.7%,#8fc988 53.6%,#c5d84c 67.9%,#e8e426 78.6%,#f7db17 82.1%,#f28021 85.7%,#e63c23 89.3%,#dd2222 92.9%,#cd181f 100%)"></div>
<div class="hr" style="left:393.2px;top:520.34px;width:112.1px;height:1.89px;background:linear-gradient(90deg,#f48a20 0%,#f7dc17 7.1%,#f0e71d 14.3%,#cdda44 25%,#9ecd76 39.3%,#70c4bd 71.4%,#64c4d2 100%)"></div>
<div class="hr" style="left:507.2px;top:520.34px;width:110.0px;height:1.89px;background:linear-gradient(90deg,#5cc3de 0%,#72c4b9 35.7%,#8fc988 53.6%,#c5d84c 67.9%,#e8e426 78.6%,#f59c1e 82.1%,#e84524 85.7%,#dc1e22 92.9%,#cd181f 100%)"></div>
<div class="hr" style="left:393.2px;top:521.92px;width:112.1px;height:1.89px;background:linear-gradient(90deg,#ed5f23 0%,#f6ad1b 3.6%,#f6ea17 7.1%,#dedf32 21.4%,#a5cf6e 35.7%,#73c4b6 67.9%,#64c4d2 100%)"></div>
<div class="hr" style="left:507.2px;top:521.92px;width:110.0px;height:1.89px;background:linear-gradient(90deg,#5cc3de 0%,#72c4b9 35.7%,#8fc988 53.6%,#c5d84c 67.9%,#f3e91a 82.1%,#f7db17 85.7%,#f7be19 89.3%,#eb4e24 92.9%,#d41b20 96.4%,#cd181f 100%)"></div>
<div class="hr" style="left:393.2px;top:523.51px;width:112.1px;height:1.89px;background:linear-gradient(90deg,#f5961e 0%,#f7e017 7.1%,#f0e71d 14.3%,#cdda44 25%,#9ecd76 39.3%,#70c4bd 71.4%,#64c4d2 100%)"></div>
<div class="hr" style="left:507.2px;top:523.51px;width:110.0px;height:1.89px;background:linear-gradient(90deg,#5cc3de 0%,#72c4b9 35.7%,#8fc988 53.6%,#c5d84c 67.9%,#f4e919 82.1%,#f7d717 85.7%,#f5a01d 89.3%,#e53a23 92.9%,#d41b20 96.4%,#cd181f 100%)"></div>
<div class="hr" style="left:388.9px;top:429.8px;width:3.1px;height:95.3px;background:#e184c8"></div>
<div class="hr" style="left:393.2px;top:527.30px;width:112.1px;height:1.89px;background:linear-gradient(90deg,#173a99 0%,#1944a4 3.6%,#1c67be 7.1%,#28a7ea 10.7%,#54c1e3 14.3%,#6fc4bf 21.4%,#a1ce72 60.7%,#e3e12d 78.6%,#f0e71d 85.7%,#f27f21 89.3%,#cd181f 92.9%,#c8161e 100%)"></div>
<div class="hr" style="left:507.2px;top:527.30px;width:110.0px;height:1.89px;background:linear-gradient(90deg,#c8161e 0%,#c8161e 7.1%,#ea4d24 10.7%,#ece522 14.3%,#95ca81 39.3%,#74c4b4 64.3%,#5fc3da 85.7%,#39b9ef 89.3%,#1e78cb 92.9%,#1a47a7 96.4%,#173a99 100%)"></div>
<div class="hr" style="left:393.2px;top:528.89px;width:112.1px;height:1.89px;background:linear-gradient(90deg,#173a99 0%,#1944a4 3.6%,#1c67be 7.1%,#28a7ea 10.7%,#54c1e3 14.3%,#6fc4bf 21.4%,#a1ce72 60.7%,#e3e12d 78.6%,#f0e71d 85.7%,#f38420 89.3%,#cd181f 92.9%,#c8161e 100%)"></div>
<div class="hr" style="left:507.2px;top:528.89px;width:110.0px;height:1.89px;background:linear-gradient(90deg,#c8161e 0%,#c8161e 7.1%,#eb5223 10.7%,#ece522 14.3%,#95ca81 39.3%,#74c4b4 64.3%,#5dc3dd 82.1%,#2eadec 85.7%,#1b54b0 89.3%,#142c8a 92.9%,#142c8a 100%)"></div>
<div class="hr" style="left:393.2px;top:530.49px;width:112.1px;height:1.89px;background:linear-gradient(90deg,#173a99 0%,#1944a4 3.6%,#1c67be 7.1%,#28a7ea 10.7%,#54c1e3 14.3%,#6fc4bf 21.4%,#a1ce72 60.7%,#e3e12d 78.6%,#f0e71d 85.7%,#f8c319 89.3%,#e23023 92.9%,#cb171f 96.4%,#c8161e 100%)"></div>
<div class="hr" style="left:507.2px;top:530.49px;width:110.0px;height:1.89px;background:linear-gradient(90deg,#c8161e 0%,#d01920 7.1%,#f7b91a 10.7%,#ece522 14.3%,#95ca81 39.3%,#74c4b4 64.3%,#5dc3dd 82.1%,#2eadec 85.7%,#1b54b0 89.3%,#142c8a 92.9%,#142c8a 100%)"></div>
<div class="hr" style="left:393.2px;top:532.08px;width:112.1px;height:1.89px;background:linear-gradient(90deg,#68c4cc 0%,#84c695 42.9%,#add164 64.3%,#e3e12d 78.6%,#f0e71d 85.7%,#f8cf18 89.3%,#ed5b23 92.9%,#cc181f 96.4%,#c8161e 100%)"></div>
<div class="hr" style="left:507.2px;top:532.08px;width:110.0px;height:1.89px;background:linear-gradient(90deg,#c8161e 0%,#c8161e 3.6%,#e12f23 7.1%,#f8cf18 10.7%,#ece522 14.3%,#95ca81 39.3%,#74c4b4 64.3%,#60c3d7 82.1%,#45bfeb 85.7%,#2496df 89.3%,#1b5ab5 92.9%,#173b9a 96.4%,#15318f 100%)"></div>
<div class="hr" style="left:393.2px;top:533.68px;width:112.1px;height:1.89px;background:linear-gradient(90deg,#68c4cc 0%,#84c695 42.9%,#add164 64.3%,#e3e12d 78.6%,#f0e71d 85.7%,#f7b71a 89.3%,#db1e22 92.9%,#c8161e 100%)"></div>
<div class="hr" style="left:507.2px;top:533.68px;width:110.0px;height:1.89px;background:linear-gradient(90deg,#c8161e 0%,#c8161e 7.1%,#f5981e 10.7%,#ece522 14.3%,#95ca81 39.3%,#74c4b4 64.3%,#60c3d7 82.1%,#45bfeb 85.7%,#2496df 89.3%,#1b5ab5 92.9%,#173b9a 96.4%,#15318f 100%)"></div>
<div class="hr" style="left:393.2px;top:535.27px;width:112.1px;height:1.89px;background:linear-gradient(90deg,#68c4cc 0%,#84c695 42.9%,#add164 64.3%,#e3e12d 78.6%,#f0e71d 85.7%,#f7d517 89.3%,#f48c20 92.9%,#cd181f 96.4%,#c8161e 100%)"></div>
<div class="hr" style="left:507.2px;top:535.27px;width:110.0px;height:1.89px;background:linear-gradient(90deg,#c8161e 0%,#c8161e 3.6%,#ed5b23 7.1%,#f7d717 10.7%,#ece522 14.3%,#95ca81 39.3%,#74c4b4 64.3%,#60c3d7 82.1%,#45bfeb 85.7%,#2496df 89.3%,#1b5ab5 92.9%,#173b9a 96.4%,#15318f 100%)"></div>
<div class="hr" style="left:393.2px;top:536.86px;width:112.1px;height:1.89px;background:linear-gradient(90deg,#68c4cc 0%,#84c695 42.9%,#add164 64.3%,#e3e12d 78.6%,#f0e71d 85.7%,#f7d417 89.3%,#f48720 92.9%,#cd181f 96.4%,#c8161e 100%)"></div>
<div class="hr" style="left:507.2px;top:536.86px;width:110.0px;height:1.89px;background:linear-gradient(90deg,#c8161e 0%,#c8161e 3.6%,#ec5623 7.1%,#f7d617 10.7%,#ece522 14.3%,#95ca81 39.3%,#74c4b4 64.3%,#60c3d7 82.1%,#45bfeb 85.7%,#2496df 89.3%,#1b5ab5 92.9%,#173b9a 96.4%,#15318f 100%)"></div>
<div class="hr" style="left:393.2px;top:538.46px;width:112.1px;height:1.89px;background:linear-gradient(90deg,#68c4cc 0%,#84c695 42.9%,#add164 64.3%,#e3e12d 78.6%,#f0e71d 85.7%,#f7da17 89.3%,#f7b41b 92.9%,#e02b23 96.4%,#c8161e 100%)"></div>
<div class="hr" style="left:507.2px;top:538.46px;width:110.0px;height:1.89px;background:linear-gradient(90deg,#c8161e 0%,#cd181f 3.6%,#f6b11b 7.1%,#f7df17 10.7%,#e3e12d 17.9%,#9ecd76 35.7%,#79c5a9 57.1%,#6bc4c7 78.6%,#68c4cc 100%)"></div>
<div class="hr" style="left:393.2px;top:540.05px;width:112.1px;height:1.89px;background:linear-gradient(90deg,#68c4cc 0%,#84c695 42.9%,#add164 64.3%,#e3e12d 78.6%,#f0e71d 85.7%,#f7d317 89.3%,#f27d21 92.9%,#cc181f 96.4%,#c8161e 100%)"></div>
<div class="hr" style="left:507.2px;top:540.05px;width:110.0px;height:1.89px;background:linear-gradient(90deg,#c8161e 0%,#c8161e 3.6%,#ea4a24 7.1%,#f7d517 10.7%,#ece522 14.3%,#95ca81 39.3%,#74c4b4 64.3%,#6bc4c8 82.1%,#68c4cc 100%)"></div>
<div class="hr" style="left:393.2px;top:541.64px;width:112.1px;height:1.89px;background:linear-gradient(90deg,#68c4cc 0%,#84c695 42.9%,#add164 64.3%,#e3e12d 78.6%,#f0e71d 85.7%,#f7d417 89.3%,#f38620 92.9%,#cd181f 96.4%,#c8161e 100%)"></div>
<div class="hr" style="left:507.2px;top:541.64px;width:110.0px;height:1.89px;background:linear-gradient(90deg,#c8161e 0%,#c8161e 3.6%,#ec5423 7.1%,#f7d617 10.7%,#ece522 14.3%,#95ca81 39.3%,#74c4b4 64.3%,#6bc4c8 82.1%,#68c4cc 100%)"></div>
<div class="hr" style="left:393.2px;top:543.24px;width:112.1px;height:1.89px;background:linear-gradient(90deg,#68c4cc 0%,#84c695 42.9%,#add164 64.3%,#e3e12d 78.6%,#f0e71d 85.7%,#df2722 89.3%,#cc171f 92.9%,#c8161e 100%)"></div>
<div class="hr" style="left:507.2px;top:543.24px;width:110.0px;height:1.89px;background:linear-gradient(90deg,#c8161e 0%,#cb171f 10.7%,#f6a91c 14.3%,#e3e12d 17.9%,#9ecd76 35.7%,#79c5a9 57.1%,#6bc4c7 78.6%,#68c4cc 100%)"></div>
<div class="hr" style="left:393.2px;top:544.83px;width:112.1px;height:1.89px;background:linear-gradient(90deg,#68c4cc 0%,#84c695 42.9%,#add164 64.3%,#e3e12d 78.6%,#f0e71d 85.7%,#f7d517 89.3%,#f4911f 92.9%,#cd181f 96.4%,#c8161e 100%)"></div>
<div class="hr" style="left:507.2px;top:544.83px;width:110.0px;height:1.89px;background:linear-gradient(90deg,#c8161e 0%,#c8161e 3.6%,#ee6223 7.1%,#f7d817 10.7%,#ece522 14.3%,#95ca81 39.3%,#74c4b4 64.3%,#6bc4c8 82.1%,#68c4cc 100%)"></div>
<div class="hr" style="left:393.2px;top:546.43px;width:112.1px;height:1.89px;background:linear-gradient(90deg,#68c4cc 0%,#84c695 42.9%,#add164 64.3%,#e3e12d 78.6%,#f0e71d 85.7%,#f6af1b 89.3%,#d71c21 92.9%,#c8161e 100%)"></div>
<div class="hr" style="left:507.2px;top:546.43px;width:110.0px;height:1.89px;background:linear-gradient(90deg,#c8161e 0%,#c8161e 7.1%,#f48820 10.7%,#ece522 14.3%,#95ca81 39.3%,#74c4b4 64.3%,#6bc4c8 82.1%,#68c4cc 100%)"></div>
<div class="hr" style="left:393.2px;top:548.02px;width:112.1px;height:1.89px;background:linear-gradient(90deg,#68c4cc 0%,#84c695 42.9%,#add164 64.3%,#e3e12d 78.6%,#f0e71d 85.7%,#f6ac1c 89.3%,#d51b21 92.9%,#c8161e 100%)"></div>
<div class="hr" style="left:507.2px;top:548.02px;width:110.0px;height:1.89px;background:linear-gradient(90deg,#c8161e 0%,#c8161e 7.1%,#f38220 10.7%,#ece522 14.3%,#95ca81 39.3%,#74c4b4 64.3%,#6bc4c8 82.1%,#68c4cc 100%)"></div>
<div class="hr" style="left:393.2px;top:549.61px;width:112.1px;height:1.89px;background:linear-gradient(90deg,#68c4cc 0%,#84c695 42.9%,#add164 64.3%,#e3e12d 78.6%,#f0e71d 85.7%,#f7d517 89.3%,#f4911f 92.9%,#cd181f 96.4%,#c8161e 100%)"></div>
<div class="hr" style="left:507.2px;top:549.61px;width:110.0px;height:1.89px;background:linear-gradient(90deg,#c8161e 0%,#c8161e 3.6%,#ee6123 7.1%,#f7d817 10.7%,#ece522 14.3%,#95ca81 39.3%,#74c4b4 64.3%,#6bc4c8 82.1%,#68c4cc 100%)"></div>
<div class="hr" style="left:393.2px;top:551.21px;width:112.1px;height:1.89px;background:linear-gradient(90deg,#68c4cc 0%,#84c695 42.9%,#add164 64.3%,#e3e12d 78.6%,#f0e71d 85.7%,#f7b51a 89.3%,#da1d22 92.9%,#c8161e 100%)"></div>
<div class="hr" style="left:507.2px;top:551.21px;width:110.0px;height:1.89px;background:linear-gradient(90deg,#c8161e 0%,#c8161e 7.1%,#f5941f 10.7%,#ece522 14.3%,#95ca81 39.3%,#74c4b4 64.3%,#6bc4c8 82.1%,#68c4cc 100%)"></div>
<div class="hr" style="left:393.2px;top:552.80px;width:112.1px;height:1.89px;background:linear-gradient(90deg,#68c4cc 0%,#84c695 42.9%,#add164 64.3%,#e3e12d 78.6%,#f7e017 89.3%,#f6a51c 96.4%,#d31a20 100%)"></div>
<div class="hr" style="left:507.2px;top:552.80px;width:110.0px;height:1.89px;background:linear-gradient(90deg,#c8161e 0%,#f17a21 3.6%,#f8ce18 7.1%,#f6e616 10.7%,#95ca81 39.3%,#74c4b4 64.3%,#6bc4c8 82.1%,#68c4cc 100%)"></div>
<div class="hr" style="left:393.2px;top:554.40px;width:112.1px;height:1.89px;background:linear-gradient(90deg,#68c4cc 0%,#84c695 42.9%,#add164 64.3%,#e3e12d 78.6%,#f0e71d 85.7%,#f7d217 89.3%,#f07421 92.9%,#cc181f 96.4%,#c8161e 100%)"></div>
<div class="hr" style="left:507.2px;top:554.40px;width:110.0px;height:1.89px;background:linear-gradient(90deg,#c8161e 0%,#c8161e 3.6%,#e84324 7.1%,#f7d317 10.7%,#ece522 14.3%,#95ca81 39.3%,#74c4b4 64.3%,#6bc4c8 82.1%,#68c4cc 100%)"></div>
<div class="hr" style="left:393.2px;top:555.99px;width:112.1px;height:1.89px;background:linear-gradient(90deg,#68c4cc 0%,#84c695 42.9%,#add164 64.3%,#e3e12d 78.6%,#f0e71d 85.7%,#f8c319 89.3%,#e23023 92.9%,#cb171f 96.4%,#c8161e 100%)"></div>
<div class="hr" style="left:507.2px;top:555.99px;width:110.0px;height:1.89px;background:linear-gradient(90deg,#c8161e 0%,#d01920 7.1%,#f7b81a 10.7%,#ece522 14.3%,#95ca81 39.3%,#74c4b4 64.3%,#61c3d6 85.7%,#47bfea 89.3%,#259ae2 92.9%,#1c65bd 96.4%,#1b55b1 100%)"></div>
<div class="hr" style="left:393.2px;top:557.58px;width:112.1px;height:1.89px;background:linear-gradient(90deg,#68c4cc 0%,#84c695 42.9%,#add164 64.3%,#e3e12d 78.6%,#f0e71d 85.7%,#f7dc17 89.3%,#f7ba1a 92.9%,#e74124 96.4%,#c8161e 100%)"></div>
<div class="hr" style="left:507.2px;top:557.58px;width:110.0px;height:1.89px;background:linear-gradient(90deg,#c8161e 0%,#d91d21 3.6%,#f7be19 7.1%,#f7e117 10.7%,#c3d84e 25%,#8ec98a 42.9%,#6bc4c7 78.6%,#61c3d6 89.3%,#3ebdef 96.4%,#37b7ee 100%)"></div>
<div class="hr" style="left:393.2px;top:559.18px;width:112.1px;height:1.89px;background:linear-gradient(90deg,#68c4cc 0%,#84c695 42.9%,#add164 64.3%,#e3e12d 78.6%,#f0e71d 85.7%,#f7d617 89.3%,#f5981e 92.9%,#ce191f 96.4%,#c8161e 100%)"></div>
<div class="hr" style="left:507.2px;top:559.18px;width:110.0px;height:1.89px;background:linear-gradient(90deg,#c8161e 0%,#c8161e 3.6%,#ef6922 7.1%,#f7d917 10.7%,#ece522 14.3%,#95ca81 39.3%,#74c4b4 64.3%,#63c3d3 85.7%,#54c1e3 89.3%,#31b0ed 92.9%,#2188d6 96.4%,#1e74c8 100%)"></div>
<div class="hr" style="left:393.2px;top:560.77px;width:112.1px;height:1.89px;background:linear-gradient(90deg,#68c4cc 0%,#84c695 42.9%,#add164 64.3%,#e3e12d 78.6%,#f0e71d 85.7%,#f7d717 89.3%,#f6a31d 92.9%,#d21a20 96.4%,#c8161e 100%)"></div>
<div class="hr" style="left:507.2px;top:560.77px;width:110.0px;height:1.89px;background:linear-gradient(90deg,#c8161e 0%,#c8161e 3.6%,#f17721 7.1%,#f7da17 10.7%,#ece522 14.3%,#95ca81 39.3%,#74c4b4 64.3%,#64c4d2 85.7%,#59c2e0 89.3%,#38b8ef 92.9%,#2599e1 96.4%,#2188d5 100%)"></div>
<div class="hr" style="left:393.2px;top:562.37px;width:112.1px;height:1.89px;background:linear-gradient(90deg,#68c4cc 0%,#84c695 42.9%,#add164 64.3%,#e3e12d 78.6%,#f0e71d 85.7%,#f8c718 89.3%,#e53a23 92.9%,#cb171f 96.4%,#c8161e 100%)"></div>
<div class="hr" style="left:507.2px;top:562.37px;width:110.0px;height:1.89px;background:linear-gradient(90deg,#c8161e 0%,#d51b21 7.1%,#f8c119 10.7%,#ece522 14.3%,#95ca81 39.3%,#74c4b4 64.3%,#5fc3da 89.3%,#32b2ed 96.4%,#2aa9eb 100%)"></div>
<div class="hr" style="left:393.2px;top:563.96px;width:112.1px;height:1.89px;background:linear-gradient(90deg,#68c4cc 0%,#84c695 42.9%,#add164 64.3%,#e3e12d 78.6%,#f0e71d 85.7%,#f7d617 89.3%,#f59a1e 92.9%,#cf191f 96.4%,#c8161e 100%)"></div>
<div class="hr" style="left:507.2px;top:563.96px;width:110.0px;height:1.89px;background:linear-gradient(90deg,#c8161e 0%,#c8161e 3.6%,#ef6c22 7.1%,#f7d917 10.7%,#ece522 14.3%,#95ca81 39.3%,#74c4b4 64.3%,#64c4d2 85.7%,#58c2e0 89.3%,#36b6ee 92.9%,#2496df 96.4%,#2083d2 100%)"></div>
<div class="hr" style="left:393.2px;top:565.55px;width:112.1px;height:1.89px;background:linear-gradient(90deg,#68c4cc 0%,#79c5aa 25%,#99cc7b 42.9%,#eae425 64.3%,#f6e416 71.4%,#f8ca18 85.7%,#f7e017 100%)"></div>
<div class="hr" style="left:507.2px;top:565.55px;width:110.0px;height:1.89px;background:linear-gradient(90deg,#efe71f 0%,#ece522 14.3%,#95ca81 39.3%,#74c4b4 64.3%,#62c3d5 89.3%,#3dbdf0 100%)"></div>
<div class="hr" style="left:393.2px;top:567.15px;width:112.1px;height:1.89px;background:linear-gradient(90deg,#68c4cc 0%,#84c695 42.9%,#add164 64.3%,#e3e12d 78.6%,#f0e71d 85.7%,#f8cf18 89.3%,#ec5923 92.9%,#cc181f 96.4%,#c8161e 100%)"></div>
<div class="hr" style="left:507.2px;top:567.15px;width:110.0px;height:1.89px;background:linear-gradient(90deg,#c8161e 0%,#c8161e 3.6%,#e12e23 7.1%,#f8ce18 10.7%,#ece522 14.3%,#95ca81 39.3%,#74c4b4 64.3%,#5fc3d9 89.3%,#36b6ee 96.4%,#2eadec 100%)"></div>
<div class="hr" style="left:393.2px;top:568.74px;width:112.1px;height:1.89px;background:linear-gradient(90deg,#68c4cc 0%,#84c695 42.9%,#add164 64.3%,#e3e12d 78.6%,#f0e71d 85.7%,#f7d517 89.3%,#f48d20 92.9%,#cd181f 96.4%,#c8161e 100%)"></div>
<div class="hr" style="left:507.2px;top:568.74px;width:110.0px;height:1.89px;background:linear-gradient(90deg,#c8161e 0%,#c8161e 3.6%,#ed5d23 7.1%,#f7d717 10.7%,#ece522 14.3%,#95ca81 39.3%,#74c4b4 64.3%,#63c3d3 85.7%,#52c1e4 89.3%,#2eadec 92.9%,#2082d1 96.4%,#1c6dc3 100%)"></div>
<div class="hr" style="left:393.2px;top:570.33px;width:112.1px;height:1.89px;background:linear-gradient(90deg,#1a4fad 0%,#1c65bd 3.6%,#28a7ea 7.1%,#59c2e0 10.7%,#73c4b6 21.4%,#95cb80 53.6%,#add164 64.3%,#e3e12d 78.6%,#f0e71d 85.7%,#f7d917 89.3%,#f6b01b 92.9%,#dd2122 96.4%,#c8161e 100%)"></div>
<div class="hr" style="left:507.2px;top:570.33px;width:110.0px;height:1.89px;background:linear-gradient(90deg,#c8161e 0%,#c8161e 3.6%,#f59f1d 7.1%,#f7dd17 10.7%,#e3e12d 17.9%,#9ecd76 35.7%,#79c5a9 57.1%,#60c3d9 89.3%,#36b6ee 96.4%,#2eadec 100%)"></div>
<div class="hr" style="left:393.2px;top:571.93px;width:112.1px;height:1.89px;background:linear-gradient(90deg,#1a4fad 0%,#1c65bd 3.6%,#28a7ea 7.1%,#59c2e0 10.7%,#73c4b6 21.4%,#95cb80 53.6%,#add164 64.3%,#e3e12d 78.6%,#f0e71d 85.7%,#f7d217 89.3%,#f07321 92.9%,#cc181f 96.4%,#c8161e 100%)"></div>
<div class="hr" style="left:507.2px;top:571.93px;width:110.0px;height:1.89px;background:linear-gradient(90deg,#c8161e 0%,#c8161e 3.6%,#e74224 7.1%,#f7d317 10.7%,#ece522 14.3%,#95ca81 39.3%,#74c4b4 64.3%,#64c3d2 85.7%,#56c2e2 89.3%,#33b3ed 92.9%,#228eda 96.4%,#1f7bcc 100%)"></div>
<div class="hr" style="left:393.2px;top:573.52px;width:112.1px;height:1.89px;background:linear-gradient(90deg,#68c4cc 0%,#84c695 42.9%,#add164 64.3%,#e3e12d 78.6%,#f0e71d 85.7%,#f7de17 89.3%,#f8c219 92.9%,#ef6c22 96.4%,#c8161e 100%)"></div>
<div class="hr" style="left:507.2px;top:573.52px;width:110.0px;height:1.89px;background:linear-gradient(90deg,#c8161e 0%,#e63d23 3.6%,#f8c718 7.1%,#f6e316 10.7%,#95ca81 39.3%,#74c4b4 64.3%,#5dc3dc 89.3%,#42beed 92.9%,#2cabeb 96.4%,#269ee5 100%)"></div>
<div class="hr" style="left:393.2px;top:575.12px;width:112.1px;height:1.89px;background:linear-gradient(90deg,#68c4cc 0%,#84c695 42.9%,#add164 64.3%,#e3e12d 78.6%,#f0e71d 85.7%,#f7d717 89.3%,#f5a01d 92.9%,#d11a20 96.4%,#c8161e 100%)"></div>
<div class="hr" style="left:507.2px;top:575.12px;width:110.0px;height:1.89px;background:linear-gradient(90deg,#c8161e 0%,#c8161e 3.6%,#f07321 7.1%,#f7da17 10.7%,#ece522 14.3%,#95ca81 39.3%,#74c4b4 64.3%,#65c4d1 85.7%,#5bc3de 89.3%,#3abaef 92.9%,#269fe5 96.4%,#228eda 100%)"></div>
<div class="hr" style="left:393.2px;top:576.71px;width:112.1px;height:1.89px;background:linear-gradient(90deg,#68c4cc 0%,#84c695 42.9%,#add164 64.3%,#e3e12d 78.6%,#f0e71d 85.7%,#f7d617 89.3%,#f59f1d 92.9%,#d11920 96.4%,#c8161e 100%)"></div>
<div class="hr" style="left:507.2px;top:576.71px;width:110.0px;height:1.89px;background:linear-gradient(90deg,#c8161e 0%,#c8161e 3.6%,#f07221 7.1%,#f7da17 10.7%,#ece522 14.3%,#95ca81 39.3%,#74c4b4 64.3%,#5ec3db 89.3%,#45bfeb 92.9%,#27a4e9 100%)"></div>
<div class="hr" style="left:393.2px;top:578.30px;width:112.1px;height:1.89px;background:linear-gradient(90deg,#1a4fad 0%,#1c65bd 3.6%,#28a7ea 7.1%,#59c2e0 10.7%,#73c4b6 21.4%,#95cb80 53.6%,#add164 64.3%,#e3e12d 78.6%,#f0e71d 85.7%,#f8cf18 89.3%,#ed5f23 92.9%,#cc181f 96.4%,#c8161e 100%)"></div>
<div class="hr" style="left:507.2px;top:578.30px;width:110.0px;height:1.89px;background:linear-gradient(90deg,#c8161e 0%,#c8161e 3.6%,#e23223 7.1%,#f8cf18 10.7%,#ece522 14.3%,#95ca81 39.3%,#74c4b4 64.3%,#61c3d7 89.3%,#3cbcf0 96.4%,#35b4ee 100%)"></div>
<div class="hr" style="left:393.2px;top:579.90px;width:112.1px;height:1.89px;background:linear-gradient(90deg,#68c4cc 0%,#84c695 42.9%,#add164 64.3%,#e3e12d 78.6%,#f0e71d 85.7%,#f8c019 89.3%,#e02b23 92.9%,#cb171f 96.4%,#c8161e 100%)"></div>
<div class="hr" style="left:507.2px;top:579.90px;width:110.0px;height:1.89px;background:linear-gradient(90deg,#c8161e 0%,#cd181f 7.1%,#f6b01b 10.7%,#ece522 14.3%,#95ca81 39.3%,#74c4b4 64.3%,#62c3d5 89.3%,#3dbdf0 100%)"></div>
<div class="hr" style="left:393.2px;top:581.49px;width:112.1px;height:1.89px;background:linear-gradient(90deg,#68c4cc 0%,#84c695 42.9%,#add164 64.3%,#e3e12d 78.6%,#f0e71d 85.7%,#f8c518 89.3%,#e33423 92.9%,#cb171f 96.4%,#c8161e 100%)"></div>
<div class="hr" style="left:507.2px;top:581.49px;width:110.0px;height:1.89px;background:linear-gradient(90deg,#c8161e 0%,#d21a20 7.1%,#f7bc1a 10.7%,#ece522 14.3%,#95ca81 39.3%,#74c4b4 64.3%,#6bc4c8 82.1%,#6ac4c9 89.3%,#6fc4bf 92.9%,#ebe522 96.4%,#d71c21 100%)"></div>
<div class="hr" style="left:393.2px;top:583.09px;width:112.1px;height:1.89px;background:linear-gradient(90deg,#68c4cc 0%,#84c695 42.9%,#add164 64.3%,#e3e12d 78.6%,#f0e71d 85.7%,#f7d717 89.3%,#f5a01d 92.9%,#d11a20 96.4%,#c8161e 100%)"></div>
<div class="hr" style="left:507.2px;top:583.09px;width:110.0px;height:1.89px;background:linear-gradient(90deg,#c8161e 0%,#c8161e 3.6%,#f07321 7.1%,#f7da17 10.7%,#ece522 14.3%,#95ca81 39.3%,#74c4b4 64.3%,#6bc4c8 82.1%,#68c4cc 100%)"></div>
<div class="hr" style="left:393.2px;top:584.68px;width:112.1px;height:1.89px;background:linear-gradient(90deg,#68c4cc 0%,#84c695 42.9%,#add164 64.3%,#e3e12d 78.6%,#f0e71d 85.7%,#f7d417 89.3%,#f38320 92.9%,#cd181f 96.4%,#c8161e 100%)"></div>
<div class="hr" style="left:507.2px;top:584.68px;width:110.0px;height:1.89px;background:linear-gradient(90deg,#c8161e 0%,#c8161e 3.6%,#eb5124 7.1%,#f7d617 10.7%,#ece522 14.3%,#95ca81 39.3%,#74c4b4 64.3%,#6bc4c8 82.1%,#68c4cc 100%)"></div>
<div class="hr" style="left:393.2px;top:586.27px;width:112.1px;height:1.89px;background:linear-gradient(90deg,#68c4cc 0%,#84c695 42.9%,#add164 64.3%,#e3e12d 78.6%,#f0e71d 85.7%,#f8cc18 89.3%,#ea4a24 92.9%,#cc171f 96.4%,#c8161e 100%)"></div>
<div class="hr" style="left:507.2px;top:586.27px;width:110.0px;height:1.89px;background:linear-gradient(90deg,#c8161e 0%,#c8161e 3.6%,#dd2222 7.1%,#f8ca18 10.7%,#ece522 14.3%,#95ca81 39.3%,#74c4b4 64.3%,#6bc4c8 82.1%,#68c4cc 100%)"></div>
<div class="hr" style="left:393.2px;top:587.87px;width:112.1px;height:1.89px;background:linear-gradient(90deg,#68c4cc 0%,#84c695 42.9%,#add164 64.3%,#e3e12d 78.6%,#f0e71d 85.7%,#f7d617 89.3%,#f59d1e 92.9%,#d01920 96.4%,#c8161e 100%)"></div>
<div class="hr" style="left:507.2px;top:587.87px;width:110.0px;height:1.89px;background:linear-gradient(90deg,#c8161e 0%,#c8161e 3.6%,#f07022 7.1%,#f7d917 10.7%,#ece522 14.3%,#95ca81 39.3%,#74c4b4 64.3%,#6bc4c8 82.1%,#68c4cc 100%)"></div>
<div class="hr" style="left:393.2px;top:589.46px;width:112.1px;height:1.89px;background:linear-gradient(90deg,#68c4cc 0%,#84c695 42.9%,#add164 64.3%,#e3e12d 78.6%,#f0e71d 85.7%,#f8cb18 89.3%,#e94624 92.9%,#cc171f 96.4%,#c8161e 100%)"></div>
<div class="hr" style="left:507.2px;top:589.46px;width:110.0px;height:1.89px;background:linear-gradient(90deg,#c8161e 0%,#c8161e 3.6%,#dc1e22 7.1%,#f8c918 10.7%,#ece522 14.3%,#95ca81 39.3%,#74c4b4 64.3%,#6bc4c8 82.1%,#68c4cc 100%)"></div>
<div class="hr" style="left:393.2px;top:591.06px;width:112.1px;height:1.89px;background:linear-gradient(90deg,#68c4cc 0%,#84c695 42.9%,#add164 64.3%,#e3e12d 78.6%,#f0e71d 85.7%,#f7b61a 89.3%,#db1d22 92.9%,#c8161e 100%)"></div>
<div class="hr" style="left:507.2px;top:591.06px;width:110.0px;height:1.89px;background:linear-gradient(90deg,#c8161e 0%,#c8161e 7.1%,#f5961e 10.7%,#ece522 14.3%,#95ca81 39.3%,#74c4b4 64.3%,#6bc4c8 82.1%,#68c4cc 100%)"></div>
<div class="hr" style="left:393.2px;top:592.65px;width:112.1px;height:1.89px;background:linear-gradient(90deg,#68c4cc 0%,#84c695 42.9%,#add164 64.3%,#e3e12d 78.6%,#f0e71d 85.7%,#f7da17 89.3%,#f7b31b 92.9%,#df2722 96.4%,#c8161e 100%)"></div>
<div class="hr" style="left:507.2px;top:592.65px;width:110.0px;height:1.89px;background:linear-gradient(90deg,#c8161e 0%,#cb171f 3.6%,#f6aa1c 7.1%,#f7de17 10.7%,#e3e12d 17.9%,#9ecd76 35.7%,#79c5a9 57.1%,#6bc4c7 78.6%,#68c4cc 100%)"></div>
<div class="hr" style="left:393.2px;top:594.24px;width:112.1px;height:1.89px;background:linear-gradient(90deg,#68c4cc 0%,#84c695 42.9%,#add164 64.3%,#e3e12d 78.6%,#f0e71d 85.7%,#f7df17 89.3%,#f8c419 92.9%,#f27c21 96.4%,#c8161e 100%)"></div>
<div class="hr" style="left:507.2px;top:594.24px;width:110.0px;height:1.89px;background:linear-gradient(90deg,#c8161e 0%,#ea4924 3.6%,#f8c918 7.1%,#f6e416 10.7%,#95ca81 39.3%,#74c4b4 64.3%,#6bc4c8 82.1%,#68c4cc 100%)"></div>
<div class="hr" style="left:393.2px;top:595.84px;width:112.1px;height:1.89px;background:linear-gradient(90deg,#68c4cc 0%,#84c695 42.9%,#add164 64.3%,#e3e12d 78.6%,#f0e71d 85.7%,#f7b41b 89.3%,#d91d21 92.9%,#c8161e 100%)"></div>
<div class="hr" style="left:507.2px;top:595.84px;width:110.0px;height:1.89px;background:linear-gradient(90deg,#c8161e 0%,#c8161e 7.1%,#f4911f 10.7%,#ece522 14.3%,#95ca81 39.3%,#74c4b4 64.3%,#6bc4c8 82.1%,#68c4cc 100%)"></div>
<div class="hr" style="left:393.2px;top:597.43px;width:112.1px;height:1.89px;background:linear-gradient(90deg,#68c4cc 0%,#84c695 42.9%,#add164 64.3%,#e3e12d 78.6%,#f0e71d 85.7%,#f7d317 89.3%,#f27c21 92.9%,#cc181f 96.4%,#c8161e 100%)"></div>
<div class="hr" style="left:507.2px;top:597.43px;width:110.0px;height:1.89px;background:linear-gradient(90deg,#c8161e 0%,#c8161e 3.6%,#ea4924 7.1%,#f7d517 10.7%,#ece522 14.3%,#95ca81 39.3%,#74c4b4 64.3%,#6bc4c8 82.1%,#68c4cc 100%)"></div>
<div class="hr" style="left:393.2px;top:599.02px;width:112.1px;height:1.89px;background:linear-gradient(90deg,#68c4cc 0%,#84c695 42.9%,#add164 64.3%,#e3e12d 78.6%,#f0e71d 85.7%,#f8c818 89.3%,#e53b23 92.9%,#cb171f 96.4%,#c8161e 100%)"></div>
<div class="hr" style="left:507.2px;top:599.02px;width:110.0px;height:1.89px;background:linear-gradient(90deg,#c8161e 0%,#d61b21 7.1%,#f8c119 10.7%,#ece522 14.3%,#95ca81 39.3%,#74c4b4 64.3%,#6bc4c8 82.1%,#68c4cc 100%)"></div>
<div class="hr" style="left:393.2px;top:600.62px;width:112.1px;height:1.89px;background:linear-gradient(90deg,#68c4cc 0%,#84c695 42.9%,#add164 64.3%,#e3e12d 78.6%,#f0e71d 85.7%,#f7dd17 89.3%,#f7bd19 92.9%,#eb4e24 96.4%,#c8161e 100%)"></div>
<div class="hr" style="left:507.2px;top:600.62px;width:110.0px;height:1.89px;background:linear-gradient(90deg,#c8161e 0%,#de2522 3.6%,#f8c219 7.1%,#f6e216 10.7%,#95ca81 39.3%,#74c4b4 64.3%,#6bc4c8 82.1%,#68c4cc 100%)"></div>
<div class="hr" style="left:393.2px;top:602.21px;width:112.1px;height:1.89px;background:linear-gradient(90deg,#68c4cc 0%,#84c695 42.9%,#add164 64.3%,#e3e12d 78.6%,#f0e71d 85.7%,#f38320 89.3%,#cd181f 92.9%,#c8161e 100%)"></div>
<div class="hr" style="left:507.2px;top:602.21px;width:110.0px;height:1.89px;background:linear-gradient(90deg,#c8161e 0%,#c8161e 7.1%,#eb5124 10.7%,#ece522 14.3%,#95ca81 39.3%,#74c4b4 64.3%,#6bc4c8 82.1%,#68c4cc 100%)"></div>
<div class="hr" style="left:393.2px;top:603.81px;width:112.1px;height:1.89px;background:linear-gradient(90deg,#68c4cc 0%,#84c695 42.9%,#add164 64.3%,#e3e12d 78.6%,#f0e71d 85.7%,#f8c718 89.3%,#e43923 92.9%,#cb171f 96.4%,#c8161e 100%)"></div>
<div class="hr" style="left:507.2px;top:603.81px;width:110.0px;height:1.89px;background:linear-gradient(90deg,#c8161e 0%,#d41b20 7.1%,#f7c019 10.7%,#ece522 14.3%,#95ca81 39.3%,#74c4b4 64.3%,#6bc4c8 82.1%,#68c4cc 100%)"></div>
<div class="hr" style="left:388.9px;top:527.3px;width:3.1px;height:78.1px;background:#f28e8e"></div>
<div class="hr" style="left:393.2px;top:607.40px;width:112.1px;height:1.88px;background:linear-gradient(90deg,#153190 0%,#1b59b5 3.6%,#26a0e6 7.1%,#55c2e2 10.7%,#6dc4c4 25%,#92ca84 46.4%,#e7e327 75%,#f5e917 89.3%,#f7df17 100%)"></div>
<div class="hr" style="left:507.2px;top:607.40px;width:110.0px;height:1.88px;background:linear-gradient(90deg,#ece522 0%,#e0e030 7.1%,#e8e327 17.9%,#c9d948 32.1%,#7bc5a6 57.1%,#63c3d4 75%,#49bfe9 78.6%,#2aa9eb 82.1%,#1c68bf 85.7%,#1a49a9 89.3%,#142c8a 100%)"></div>
<div class="hr" style="left:393.2px;top:608.98px;width:112.1px;height:1.88px;background:linear-gradient(90deg,#142c8a 0%,#1b52af 3.6%,#28a7ea 7.1%,#55c2e2 10.7%,#6dc4c4 25%,#92ca84 46.4%,#e7e327 75%,#f5e918 89.3%,#f5e918 96.4%,#f7d517 100%)"></div>
<div class="hr" style="left:507.2px;top:608.98px;width:110.0px;height:1.88px;background:linear-gradient(90deg,#f7bf19 0%,#f3e81a 3.6%,#e0e030 7.1%,#e8e327 17.9%,#c9d948 32.1%,#7bc5a6 57.1%,#60c3d8 78.6%,#41beee 82.1%,#259be2 85.7%,#1b5eb8 89.3%,#173897 96.4%,#142c8a 100%)"></div>
<div class="hr" style="left:393.2px;top:610.57px;width:112.1px;height:1.88px;background:linear-gradient(90deg,#1941a1 0%,#1a50ae 3.6%,#228bd7 7.1%,#55c2e2 10.7%,#6dc4c4 25%,#92ca84 46.4%,#e7e327 75%,#f5e918 89.3%,#f3e91a 96.4%,#f7dd17 100%)"></div>
<div class="hr" style="left:507.2px;top:610.57px;width:110.0px;height:1.88px;background:linear-gradient(90deg,#f5ea17 0%,#e0e030 7.1%,#e8e327 17.9%,#c9d948 32.1%,#7bc5a6 57.1%,#61c3d6 75%,#45bfeb 78.6%,#26a2e7 82.1%,#1b63bb 85.7%,#1a48a8 89.3%,#142c8a 100%)"></div>
<div class="hr" style="left:393.2px;top:612.15px;width:112.1px;height:1.88px;background:linear-gradient(90deg,#142d8b 0%,#1c6ac1 3.6%,#32b2ed 7.1%,#55c2e2 10.7%,#6dc4c4 25%,#92ca84 46.4%,#e7e327 75%,#f2e81b 92.9%,#f2e81b 100%)"></div>
<div class="hr" style="left:507.2px;top:612.15px;width:110.0px;height:1.88px;background:linear-gradient(90deg,#e3e22c 0%,#e5e22a 10.7%,#e3e12c 21.4%,#bbd556 35.7%,#7bc5a6 57.1%,#5dc3dd 75%,#3abaef 78.6%,#228cd8 82.1%,#1b55b1 85.7%,#142c8a 100%)"></div>
<div class="hr" style="left:393.2px;top:613.73px;width:112.1px;height:1.88px;background:linear-gradient(90deg,#142c8a 0%,#1b59b4 3.6%,#26a3e8 7.1%,#55c2e2 10.7%,#6dc4c4 25%,#92ca84 46.4%,#e7e327 75%,#f6e516 89.3%,#f7d817 92.9%,#ede620 100%)"></div>
<div class="hr" style="left:507.2px;top:613.73px;width:110.0px;height:1.88px;background:linear-gradient(90deg,#f6e916 0%,#e0e030 7.1%,#e8e327 17.9%,#c9d948 32.1%,#7bc5a6 57.1%,#5ec3db 78.6%,#3dbdf0 82.1%,#2393dd 85.7%,#1b59b4 89.3%,#142c8a 100%)"></div>
<div class="hr" style="left:393.2px;top:615.32px;width:112.1px;height:1.88px;background:linear-gradient(90deg,#1b58b4 0%,#36b5ee 7.1%,#55c2e2 10.7%,#6dc4c4 25%,#92ca84 46.4%,#e7e327 75%,#f4e919 89.3%,#ede621 92.9%,#f6ea16 96.4%,#f6ae1b 100%)"></div>
<div class="hr" style="left:507.2px;top:615.32px;width:110.0px;height:1.88px;background:linear-gradient(90deg,#f7da17 0%,#ece622 3.6%,#e0e030 7.1%,#e8e327 17.9%,#c9d948 32.1%,#7bc5a6 57.1%,#65c4d1 75%,#55c2e2 78.6%,#34b4ee 82.1%,#1f7ccd 85.7%,#1a4eac 89.3%,#142c8a 100%)"></div>
<div class="hr" style="left:393.2px;top:616.90px;width:112.1px;height:1.88px;background:linear-gradient(90deg,#142c8a 0%,#1a4dac 3.6%,#2393dd 7.1%,#55c2e2 10.7%,#6dc4c4 25%,#92ca84 46.4%,#e7e327 75%,#f3e919 85.7%,#efe71f 89.3%,#d5dd3b 92.9%,#cfdb42 96.4%,#ede620 100%)"></div>
<div class="hr" style="left:507.2px;top:616.90px;width:110.0px;height:1.88px;background:linear-gradient(90deg,#e8e327 0%,#e5e22a 10.7%,#e3e12c 21.4%,#bbd556 35.7%,#7bc5a6 57.1%,#59c2e0 75%,#37b6ee 78.6%,#2082d1 82.1%,#1a4fad 85.7%,#142c8a 100%)"></div>
<div class="hr" style="left:393.2px;top:618.48px;width:112.1px;height:1.88px;background:linear-gradient(90deg,#1944a4 0%,#27a4e8 3.6%,#4cc0e7 7.1%,#6ac4c9 21.4%,#7fc59c 39.3%,#e7e327 75%,#f3e919 85.7%,#efe71e 89.3%,#bdd654 96.4%,#b7d45b 100%)"></div>
<div class="hr" style="left:507.2px;top:618.48px;width:110.0px;height:1.88px;background:linear-gradient(90deg,#f7bf19 0%,#f3e81a 3.6%,#e0e030 7.1%,#e8e327 17.9%,#c9d948 32.1%,#7bc5a6 57.1%,#65c4d0 75%,#57c2e1 78.6%,#35b5ee 82.1%,#1f7ecf 85.7%,#1a4eac 89.3%,#142c8a 100%)"></div>
<div class="hr" style="left:393.2px;top:620.07px;width:112.1px;height:1.88px;background:linear-gradient(90deg,#142c8a 0%,#1b59b4 3.6%,#27a6ea 7.1%,#55c2e2 10.7%,#6dc4c4 25%,#92ca84 46.4%,#e7e327 75%,#f6e716 92.9%,#f8cf18 96.4%,#f38520 100%)"></div>
<div class="hr" style="left:507.2px;top:620.07px;width:110.0px;height:1.88px;background:linear-gradient(90deg,#f7d617 0%,#ede620 3.6%,#e0e030 7.1%,#e8e327 17.9%,#c9d948 32.1%,#7bc5a6 57.1%,#65c4d1 75%,#55c2e2 78.6%,#34b4ee 82.1%,#1f7bcd 85.7%,#1a4eac 89.3%,#142c8a 100%)"></div>
<div class="hr" style="left:393.2px;top:621.65px;width:112.1px;height:1.88px;background:linear-gradient(90deg,#15318f 0%,#1b5cb6 3.6%,#26a3e8 7.1%,#55c2e2 10.7%,#6dc4c4 25%,#92ca84 46.4%,#e7e327 75%,#f3e919 85.7%,#f7db17 89.3%,#f6aa1c 92.9%,#e02a23 100%)"></div>
<div class="hr" style="left:507.2px;top:621.65px;width:110.0px;height:1.88px;background:linear-gradient(90deg,#ca171e 0%,#eb5024 3.6%,#f7b31b 7.1%,#f7d717 10.7%,#efe71e 14.3%,#c9d948 32.1%,#7bc5a6 57.1%,#5ec3db 75%,#3dbdf0 78.6%,#2392dd 82.1%,#1b59b4 85.7%,#163593 96.4%,#142c8a 100%)"></div>
<div class="hr" style="left:393.2px;top:623.23px;width:112.1px;height:1.88px;background:linear-gradient(90deg,#1a46a6 0%,#1c67be 3.6%,#27a5ea 7.1%,#55c2e2 10.7%,#6dc4c4 25%,#92ca84 46.4%,#e7e327 75%,#f3e919 85.7%,#f8cb18 89.3%,#ec5523 92.9%,#dc1e22 96.4%,#da1d22 100%)"></div>
<div class="hr" style="left:507.2px;top:623.23px;width:110.0px;height:1.88px;background:linear-gradient(90deg,#c8161e 0%,#ea4b24 3.6%,#f7b31b 7.1%,#f7d717 10.7%,#efe71e 14.3%,#c9d948 32.1%,#7bc5a6 57.1%,#65c4d0 71.4%,#55c2e2 75%,#34b4ee 78.6%,#1f7ccd 82.1%,#1a4eac 85.7%,#142c8a 100%)"></div>
<div class="hr" style="left:393.2px;top:624.82px;width:112.1px;height:1.88px;background:linear-gradient(90deg,#67c4cd 0%,#76c4b0 17.9%,#74c4b4 32.1%,#b0d261 57.1%,#e7e327 75%,#f3e919 85.7%,#f7df17 89.3%,#f7c019 92.9%,#ef6c22 96.4%,#cc181f 100%)"></div>
<div class="hr" style="left:507.2px;top:624.82px;width:110.0px;height:1.88px;background:linear-gradient(90deg,#e94624 0%,#f7b31b 7.1%,#f7d717 10.7%,#efe71e 14.3%,#c9d948 32.1%,#7bc5a6 57.1%,#60c3d8 78.6%,#42beed 82.1%,#259de4 85.7%,#1b5fb9 89.3%,#1945a5 92.9%,#142c8a 100%)"></div>
<div class="hr" style="left:393.2px;top:626.40px;width:112.1px;height:1.88px;background:linear-gradient(90deg,#6bc4c7 0%,#73c4b6 7.1%,#73c4b6 25%,#74c4b4 32.1%,#b0d261 57.1%,#e7e327 75%,#f3e919 85.7%,#f7e117 89.3%,#f8c918 92.9%,#f4911f 96.4%,#e63c23 100%)"></div>
<div class="hr" style="left:507.2px;top:626.40px;width:110.0px;height:1.88px;background:linear-gradient(90deg,#e02a23 0%,#f7b31b 7.1%,#f7d717 10.7%,#efe71e 14.3%,#c9d948 32.1%,#7bc5a6 57.1%,#60c3d8 75%,#42beed 78.6%,#259de4 82.1%,#1b5fb9 85.7%,#1a47a7 89.3%,#142c8a 100%)"></div>
<div class="hr" style="left:393.2px;top:627.98px;width:112.1px;height:1.88px;background:linear-gradient(90deg,#6bc4c7 0%,#71c4ba 10.7%,#75c4b3 21.4%,#74c4b4 32.1%,#b0d261 57.1%,#e7e327 75%,#f3e919 85.7%,#f7d917 89.3%,#de2522 100%)"></div>
<div class="hr" style="left:507.2px;top:627.98px;width:110.0px;height:1.88px;background:linear-gradient(90deg,#dd2122 0%,#f7b31b 7.1%,#f7d717 10.7%,#efe71e 14.3%,#c9d948 32.1%,#7bc5a6 57.1%,#5cc3dd 75%,#3ab9ef 78.6%,#228ad7 82.1%,#1b54b1 85.7%,#142c8a 100%)"></div>
<div class="hr" style="left:393.2px;top:629.57px;width:112.1px;height:1.88px;background:linear-gradient(90deg,#65c4d1 0%,#6ac4c9 7.1%,#76c4b0 17.9%,#74c4b4 32.1%,#b0d261 57.1%,#e7e327 75%,#f3e919 85.7%,#f7d517 89.3%,#e53b23 96.4%,#cf191f 100%)"></div>
<div class="hr" style="left:507.2px;top:629.57px;width:110.0px;height:1.88px;background:linear-gradient(90deg,#d01920 0%,#ec5823 3.6%,#f7b31b 7.1%,#f7d717 10.7%,#efe71e 14.3%,#c9d948 32.1%,#7bc5a6 57.1%,#65c4d1 75%,#54c1e3 78.6%,#33b3ed 82.1%,#1e79cb 85.7%,#1a4dac 89.3%,#142c8a 100%)"></div>
<div class="hr" style="left:393.2px;top:631.15px;width:112.1px;height:1.88px;background:linear-gradient(90deg,#71c4bb 0%,#40beee 3.6%,#50c1e5 7.1%,#71c4ba 10.7%,#75c4b3 21.4%,#74c4b4 32.1%,#b0d261 57.1%,#e7e327 75%,#f6e616 89.3%,#f7dc17 92.9%,#f59d1e 96.4%,#d81c21 100%)"></div>
<div class="hr" style="left:507.2px;top:631.15px;width:110.0px;height:1.88px;background:linear-gradient(90deg,#d21a20 0%,#ed5a23 3.6%,#f7b31b 7.1%,#f7d717 10.7%,#efe71e 14.3%,#c9d948 32.1%,#7bc5a6 57.1%,#62c3d4 75%,#48bfea 78.6%,#28a7ea 82.1%,#1c66be 85.7%,#1a48a8 89.3%,#142c8a 100%)"></div>
<div class="hr" style="left:393.2px;top:632.73px;width:112.1px;height:1.88px;background:linear-gradient(90deg,#59c2e0 0%,#71c4bb 7.1%,#75c4b3 21.4%,#74c4b4 32.1%,#b0d261 57.1%,#e7e327 75%,#f3e919 85.7%,#f7d517 89.3%,#e63c23 96.4%,#cc181f 100%)"></div>
<div class="hr" style="left:507.2px;top:632.73px;width:110.0px;height:1.88px;background:linear-gradient(90deg,#ca171e 0%,#eb5024 3.6%,#f7b31b 7.1%,#f7d717 10.7%,#efe71e 14.3%,#c9d948 32.1%,#7bc5a6 57.1%,#61c3d7 78.6%,#44beec 82.1%,#26a0e6 85.7%,#1b61ba 89.3%,#1945a5 92.9%,#142c8a 100%)"></div>
<div class="hr" style="left:393.2px;top:634.32px;width:112.1px;height:1.88px;background:linear-gradient(90deg,#79c5a9 0%,#71c4ba 10.7%,#75c4b3 21.4%,#74c4b4 32.1%,#b0d261 57.1%,#e7e327 75%,#f3e919 85.7%,#f7d517 89.3%,#e63f23 96.4%,#cf191f 100%)"></div>
<div class="hr" style="left:507.2px;top:634.32px;width:110.0px;height:1.88px;background:linear-gradient(90deg,#de2322 0%,#f7b31b 7.1%,#f7d717 10.7%,#efe71e 14.3%,#c9d948 32.1%,#7bc5a6 57.1%,#5fc3d9 75%,#3fbdef 78.6%,#2497e0 82.1%,#1b5cb7 85.7%,#183e9d 92.9%,#142c8a 100%)"></div>
<div class="hr" style="left:388.9px;top:607.4px;width:3.1px;height:28.5px;background:#f2a81e"></div>
<div class="hr" style="left:393.2px;top:637.90px;width:112.1px;height:1.86px;background:linear-gradient(90deg,#80c59a 0%,#c0d751 14.3%,#c0d751 42.9%,#a3ce70 75%,#76c4b0 100%)"></div>
<div class="hr" style="left:507.2px;top:637.90px;width:110.0px;height:1.86px;background:linear-gradient(90deg,#71c4bb 0%,#7fc59c 28.6%,#abd067 39.3%,#d6dd3b 46.4%,#e5e22a 53.6%,#e1e02f 57.1%,#b9d459 64.3%,#7fc59c 71.4%,#5ec3dc 78.6%,#33b3ed 82.1%,#1c64bd 85.7%,#1941a1 89.3%,#15318f 100%)"></div>
<div class="hr" style="left:393.2px;top:639.46px;width:112.1px;height:1.86px;background:linear-gradient(90deg,#80c59a 0%,#c0d751 14.3%,#e0e030 50%,#80c59b 92.9%,#76c4b0 100%)"></div>
<div class="hr" style="left:507.2px;top:639.46px;width:110.0px;height:1.86px;background:linear-gradient(90deg,#71c4bb 0%,#7fc59c 28.6%,#abd067 39.3%,#d6dd3b 46.4%,#e5e22a 53.6%,#e1e02f 57.1%,#b9d459 64.3%,#7fc59c 71.4%,#5ec3dc 78.6%,#33b3ed 82.1%,#1c64bd 85.7%,#1941a1 89.3%,#15318f 100%)"></div>
<div class="hr" style="left:393.2px;top:641.02px;width:112.1px;height:1.86px;background:linear-gradient(90deg,#1943a3 0%,#2496df 3.6%,#74c4b5 7.1%,#a3ce70 10.7%,#bfd653 14.3%,#e3e12d 28.6%,#c4d84c 57.1%,#80c59b 92.9%,#76c4b0 100%)"></div>
<div class="hr" style="left:507.2px;top:641.02px;width:110.0px;height:1.86px;background:linear-gradient(90deg,#71c4bb 0%,#80c59a 28.6%,#91c986 32.1%,#b8d459 35.7%,#f1e81c 39.3%,#f7b41b 42.9%,#f59a1e 46.4%,#f7e017 53.6%,#d0db40 60.7%,#7fc59c 71.4%,#5ec3dc 78.6%,#33b3ed 82.1%,#1c64bd 85.7%,#1941a1 89.3%,#15318f 100%)"></div>
<div class="hr" style="left:393.2px;top:642.58px;width:112.1px;height:1.86px;background:linear-gradient(90deg,#80c59a 0%,#c0d751 14.3%,#e3e12c 28.6%,#c5d84c 42.9%,#b0d262 53.6%,#aad068 71.4%,#76c4b0 100%)"></div>
<div class="hr" style="left:507.2px;top:642.58px;width:110.0px;height:1.86px;background:linear-gradient(90deg,#71c4bb 0%,#80c59a 28.6%,#91c986 32.1%,#b8d459 35.7%,#f1e81c 39.3%,#f7b41b 42.9%,#f59a1e 46.4%,#f7e017 53.6%,#d0db40 60.7%,#7fc59c 71.4%,#5ec3dc 78.6%,#33b3ed 82.1%,#1c64bd 85.7%,#1941a1 89.3%,#15318f 100%)"></div>
<div class="hr" style="left:393.2px;top:644.14px;width:112.1px;height:1.86px;background:linear-gradient(90deg,#80c59a 0%,#c0d751 14.3%,#ebe523 28.6%,#d2dc3e 46.4%,#88c790 89.3%,#76c4b0 100%)"></div>
<div class="hr" style="left:507.2px;top:644.14px;width:110.0px;height:1.86px;background:linear-gradient(90deg,#71c4bb 0%,#7fc59c 28.6%,#abd067 39.3%,#d6dd3b 46.4%,#e5e22a 53.6%,#e1e02f 57.1%,#b9d459 64.3%,#7fc59c 71.4%,#5ec3dc 78.6%,#33b3ed 82.1%,#1c64bd 85.7%,#1941a1 89.3%,#15318f 100%)"></div>
<div class="hr" style="left:393.2px;top:645.70px;width:112.1px;height:1.86px;background:linear-gradient(90deg,#1943a3 0%,#2496df 3.6%,#74c4b5 7.1%,#a3ce70 10.7%,#bfd653 14.3%,#c6d84b 39.3%,#a3ce70 75%,#76c4b0 100%)"></div>
<div class="hr" style="left:507.2px;top:645.70px;width:110.0px;height:1.86px;background:linear-gradient(90deg,#71c4bb 0%,#7fc59c 28.6%,#abd067 39.3%,#d6dd3b 46.4%,#e5e22a 53.6%,#e1e02f 57.1%,#b9d459 64.3%,#7fc59c 71.4%,#5ec3dc 78.6%,#33b3ed 82.1%,#1c64bd 85.7%,#1941a1 89.3%,#15318f 100%)"></div>
<div class="hr" style="left:393.2px;top:647.26px;width:112.1px;height:1.86px;background:linear-gradient(90deg,#80c59a 0%,#c0d751 14.3%,#ebe523 28.6%,#d9de38 39.3%,#b0d261 50%,#aad068 71.4%,#76c4b0 100%)"></div>
<div class="hr" style="left:507.2px;top:647.26px;width:110.0px;height:1.86px;background:linear-gradient(90deg,#71c4bb 0%,#7fc59c 28.6%,#abd067 39.3%,#d6dd3b 46.4%,#e5e22a 53.6%,#e1e02f 57.1%,#b9d459 64.3%,#7fc59c 71.4%,#5ec3dc 78.6%,#33b3ed 82.1%,#1c64bd 85.7%,#1941a1 89.3%,#15318f 100%)"></div>
<div class="hr" style="left:393.2px;top:648.82px;width:112.1px;height:1.86px;background:linear-gradient(90deg,#80c59a 0%,#c0d751 14.3%,#ede621 28.6%,#d7dd39 39.3%,#a8d06a 50%,#aad068 71.4%,#76c4b0 100%)"></div>
<div class="hr" style="left:507.2px;top:648.82px;width:110.0px;height:1.86px;background:linear-gradient(90deg,#71c4bb 0%,#7fc59c 28.6%,#abd067 39.3%,#d6dd3b 46.4%,#e5e22a 53.6%,#e1e02f 57.1%,#b9d459 64.3%,#7fc59c 71.4%,#5ec3dc 78.6%,#33b3ed 82.1%,#1c64bd 85.7%,#1941a1 89.3%,#15318f 100%)"></div>
<div class="hr" style="left:393.2px;top:650.38px;width:112.1px;height:1.86px;background:linear-gradient(90deg,#80c59a 0%,#c0d751 14.3%,#e1e02f 32.1%,#92ca84 85.7%,#94ca82 89.3%,#d4dc3c 92.9%,#ef6a22 96.4%,#d21a20 100%)"></div>
<div class="hr" style="left:507.2px;top:650.38px;width:110.0px;height:1.86px;background:linear-gradient(90deg,#d71c21 0%,#f38320 3.6%,#b4d35d 7.1%,#7dc5a2 10.7%,#7ac5a7 17.9%,#8ac88e 32.1%,#d6dd3b 46.4%,#e5e22a 53.6%,#e1e02f 57.1%,#b9d459 64.3%,#7fc59c 71.4%,#5ec3dc 78.6%,#33b3ed 82.1%,#1c64bd 85.7%,#1941a1 89.3%,#15318f 100%)"></div>
<div class="hr" style="left:393.2px;top:651.94px;width:112.1px;height:1.86px;background:linear-gradient(90deg,#80c59a 0%,#c0d751 14.3%,#e2e12d 28.6%,#b2d35f 64.3%,#92ca84 85.7%,#94ca82 89.3%,#d4dc3c 92.9%,#ef6a22 96.4%,#d21a20 100%)"></div>
<div class="hr" style="left:507.2px;top:651.94px;width:110.0px;height:1.86px;background:linear-gradient(90deg,#d71c21 0%,#f38320 3.6%,#b4d35d 7.1%,#7dc5a2 10.7%,#7ac5a7 17.9%,#8ac88e 32.1%,#d6dd3b 46.4%,#e5e22a 53.6%,#e1e02f 57.1%,#b9d459 64.3%,#7fc59c 71.4%,#5ec3dc 78.6%,#33b3ed 82.1%,#1c64bd 85.7%,#1941a1 89.3%,#15318f 100%)"></div>
<div class="hr" style="left:393.2px;top:653.50px;width:112.1px;height:1.86px;background:linear-gradient(90deg,#80c59a 0%,#c0d751 14.3%,#dcdf34 32.1%,#ccda44 53.6%,#80c59b 92.9%,#76c4b0 100%)"></div>
<div class="hr" style="left:507.2px;top:653.50px;width:110.0px;height:1.86px;background:linear-gradient(90deg,#71c4bb 0%,#7fc59c 28.6%,#abd067 39.3%,#d6dd3b 46.4%,#e5e22a 53.6%,#e1e02f 57.1%,#b9d459 64.3%,#7fc59c 71.4%,#5ec3dc 78.6%,#33b3ed 82.1%,#1c64bd 85.7%,#1941a1 89.3%,#15318f 100%)"></div>
<div class="hr" style="left:393.2px;top:655.06px;width:112.1px;height:1.86px;background:linear-gradient(90deg,#1943a3 0%,#2496df 3.6%,#74c4b5 7.1%,#a3ce70 10.7%,#bfd653 14.3%,#e6e329 28.6%,#d1dc3f 42.9%,#b6d45c 60.7%,#91ca85 85.7%,#76c4b0 100%)"></div>
<div class="hr" style="left:507.2px;top:655.06px;width:110.0px;height:1.86px;background:linear-gradient(90deg,#71c4bb 0%,#7fc59c 28.6%,#abd067 39.3%,#d6dd3b 46.4%,#e5e22a 53.6%,#e1e02f 57.1%,#b9d459 64.3%,#7fc59c 71.4%,#5ec3dc 78.6%,#33b3ed 82.1%,#1c64bd 85.7%,#1941a1 89.3%,#15318f 100%)"></div>
<div class="hr" style="left:393.2px;top:656.62px;width:112.1px;height:1.86px;background:linear-gradient(90deg,#1943a3 0%,#2496df 3.6%,#74c4b4 7.1%,#a4cf6e 10.7%,#dddf33 17.9%,#f1e81c 21.4%,#f8c918 25%,#f5941f 28.6%,#f28021 32.1%,#f59b1e 35.7%,#f8d018 39.3%,#ede621 42.9%,#c4d84d 50%,#91ca85 85.7%,#76c4b0 100%)"></div>
<div class="hr" style="left:507.2px;top:656.62px;width:110.0px;height:1.86px;background:linear-gradient(90deg,#71c4bb 0%,#7fc59c 28.6%,#aed164 39.3%,#f0e71d 46.4%,#f8c718 50%,#f5931f 53.6%,#f5a11d 57.1%,#f7dd17 60.7%,#dbde36 64.3%,#a0cd73 67.9%,#80c59a 71.4%,#5ec3dc 78.6%,#33b3ed 82.1%,#1c64bd 85.7%,#1941a1 89.3%,#15318f 100%)"></div>
<div class="hr" style="left:393.2px;top:658.18px;width:112.1px;height:1.86px;background:linear-gradient(90deg,#80c59a 0%,#c7d949 14.3%,#f6ea16 21.4%,#f27a21 28.6%,#ee6422 32.1%,#f38221 35.7%,#f6e816 42.9%,#cbda46 53.6%,#80c59b 92.9%,#76c4b0 100%)"></div>
<div class="hr" style="left:507.2px;top:658.18px;width:110.0px;height:1.86px;background:linear-gradient(90deg,#71c4bb 0%,#7fc59c 28.6%,#aed164 39.3%,#f0e71d 46.4%,#f8c718 50%,#f5931f 53.6%,#f5a11d 57.1%,#f7dd17 60.7%,#dbde36 64.3%,#a0cd73 67.9%,#80c59a 71.4%,#5ec3dc 78.6%,#33b3ed 82.1%,#1c64bd 85.7%,#1941a1 89.3%,#15318f 100%)"></div>
<div class="hr" style="left:393.2px;top:659.74px;width:112.1px;height:1.86px;background:linear-gradient(90deg,#1943a3 0%,#2496df 3.6%,#74c4b5 7.1%,#a3ce70 10.7%,#bfd653 14.3%,#ccda45 32.1%,#a3ce70 75%,#76c4b0 100%)"></div>
<div class="hr" style="left:507.2px;top:659.74px;width:110.0px;height:1.86px;background:linear-gradient(90deg,#71c4bb 0%,#7fc59c 28.6%,#abd067 39.3%,#d6dd3b 46.4%,#e5e22a 53.6%,#e1e02f 57.1%,#b9d459 64.3%,#7fc59c 71.4%,#5ec3dc 78.6%,#33b3ed 82.1%,#1c64bd 85.7%,#1941a1 89.3%,#15318f 100%)"></div>
<div class="hr" style="left:393.2px;top:661.30px;width:112.1px;height:1.86px;background:linear-gradient(90deg,#1943a3 0%,#2496df 3.6%,#74c4b5 7.1%,#a3ce70 10.7%,#bfd653 14.3%,#e8e427 28.6%,#d0db41 39.3%,#a6cf6c 50%,#aad068 71.4%,#76c4b0 100%)"></div>
<div class="hr" style="left:507.2px;top:661.30px;width:110.0px;height:1.86px;background:linear-gradient(90deg,#71c4bb 0%,#7fc59c 28.6%,#abd067 39.3%,#d6dd3b 46.4%,#e5e22a 53.6%,#e1e02f 57.1%,#b9d459 64.3%,#7fc59c 71.4%,#5ec3dc 78.6%,#33b3ed 82.1%,#1c64bd 85.7%,#1941a1 89.3%,#15318f 100%)"></div>
<div class="hr" style="left:393.2px;top:662.86px;width:112.1px;height:1.86px;background:linear-gradient(90deg,#80c59a 0%,#c0d751 14.3%,#c5d84c 53.6%,#88c790 89.3%,#76c4b0 100%)"></div>
<div class="hr" style="left:507.2px;top:662.86px;width:110.0px;height:1.86px;background:linear-gradient(90deg,#71c4bb 0%,#7fc59c 28.6%,#abd067 39.3%,#d6dd3b 46.4%,#e5e22a 53.6%,#e1e02f 57.1%,#b9d459 64.3%,#7fc59c 71.4%,#5ec3dc 78.6%,#33b3ed 82.1%,#1c64bd 85.7%,#1941a1 89.3%,#15318f 100%)"></div>
<div class="hr" style="left:393.2px;top:664.42px;width:112.1px;height:1.86px;background:linear-gradient(90deg,#80c59a 0%,#c0d751 14.3%,#bad557 32.1%,#dade36 50%,#7bc5a6 96.4%,#76c4b0 100%)"></div>
<div class="hr" style="left:507.2px;top:664.42px;width:110.0px;height:1.86px;background:linear-gradient(90deg,#71c4bb 0%,#7fc59c 28.6%,#abd067 39.3%,#d6dd3b 46.4%,#e5e22a 53.6%,#e1e02f 57.1%,#b9d459 64.3%,#7fc59c 71.4%,#5ec3dc 78.6%,#33b3ed 82.1%,#1c64bd 85.7%,#1941a1 89.3%,#15318f 100%)"></div>
<div class="hr" style="left:393.2px;top:665.98px;width:112.1px;height:1.86px;background:linear-gradient(90deg,#80c59a 0%,#f0e71e 21.4%,#f8cc18 25%,#f5981e 28.6%,#f38220 32.1%,#f5991e 35.7%,#f8cb18 39.3%,#f2e81b 42.9%,#c3d84e 57.1%,#80c59b 92.9%,#76c4b0 100%)"></div>
<div class="hr" style="left:507.2px;top:665.98px;width:110.0px;height:1.86px;background:linear-gradient(90deg,#71c4bb 0%,#7fc59c 28.6%,#abd067 39.3%,#d6dd3b 46.4%,#e5e22a 53.6%,#e1e02f 57.1%,#b9d459 64.3%,#7fc59c 71.4%,#5ec3dc 78.6%,#33b3ed 82.1%,#1c64bd 85.7%,#1941a1 89.3%,#15318f 100%)"></div>
<div class="hr" style="left:393.2px;top:667.54px;width:112.1px;height:1.86px;background:linear-gradient(90deg,#80c59a 0%,#c0d751 14.3%,#e8e327 28.6%,#d1db40 42.9%,#bad557 53.6%,#9dcd77 78.6%,#76c4b0 100%)"></div>
<div class="hr" style="left:507.2px;top:667.54px;width:110.0px;height:1.86px;background:linear-gradient(90deg,#71c4bb 0%,#7fc59c 28.6%,#abd067 39.3%,#d6dd3b 46.4%,#e5e22a 53.6%,#e1e02f 57.1%,#b9d459 64.3%,#7fc59c 71.4%,#5ec3dc 78.6%,#33b3ed 82.1%,#1c64bd 85.7%,#1941a1 89.3%,#15318f 100%)"></div>
<div class="hr" style="left:388.9px;top:637.9px;width:3.1px;height:31.2px;background:#8db6e6"></div>
<div class="hr" style="left:393.2px;top:670.90px;width:112.1px;height:1.91px;background:linear-gradient(90deg,#c8161e 0%,#e23023 3.6%,#f8cf18 7.1%,#e7e328 10.7%,#e8e427 35.7%,#cedb42 50%,#89c790 67.9%,#71c4ba 82.1%,#69c4ca 100%)"></div>
<div class="hr" style="left:507.2px;top:670.90px;width:110.0px;height:1.91px;background:linear-gradient(90deg,#71c4bb 0%,#7fc59b 28.6%,#b4d35e 39.3%,#e5e22a 46.4%,#f2e81a 50%,#f7db17 57.1%,#f0e71d 64.3%,#e2e12e 67.9%,#8dc88a 78.6%,#60c3d8 85.7%,#35b4ee 89.3%,#2082d1 92.9%,#183f9e 100%)"></div>
<div class="hr" style="left:393.2px;top:672.51px;width:112.1px;height:1.91px;background:linear-gradient(90deg,#d1dc3f 0%,#f2e81a 25%,#e2e12e 46.4%,#90c987 67.9%,#75c4b2 82.1%,#6cc4c6 100%)"></div>
<div class="hr" style="left:507.2px;top:672.51px;width:110.0px;height:1.91px;background:linear-gradient(90deg,#6ec4c3 0%,#7cc5a3 28.6%,#aad068 39.3%,#e0e030 46.4%,#f6e316 53.6%,#ebe523 64.3%,#d9de37 67.9%,#86c792 78.6%,#6fc4c0 82.1%,#5dc3dc 85.7%,#30afec 89.3%,#1f7acc 92.9%,#173b9b 100%)"></div>
<div class="hr" style="left:393.2px;top:674.12px;width:112.1px;height:1.91px;background:linear-gradient(90deg,#aed163 0%,#e1e02f 25%,#cada46 42.9%,#7cc5a3 67.9%,#69c4ca 82.1%,#62c3d5 100%)"></div>
<div class="hr" style="left:507.2px;top:674.12px;width:110.0px;height:1.91px;background:linear-gradient(90deg,#65c4d0 0%,#72c4b9 28.6%,#96cb7f 39.3%,#dedf32 50%,#ece522 53.6%,#e5e22a 60.7%,#dade36 64.3%,#8bc88c 75%,#4bc0e8 85.7%,#259de4 89.3%,#1c67be 92.9%,#153291 100%)"></div>
<div class="hr" style="left:393.2px;top:675.73px;width:112.1px;height:1.91px;background:linear-gradient(90deg,#d2dc3f 0%,#f2e81a 25%,#e2e12e 46.4%,#90c987 67.9%,#75c4b2 82.1%,#6cc4c6 100%)"></div>
<div class="hr" style="left:507.2px;top:675.73px;width:110.0px;height:1.91px;background:linear-gradient(90deg,#6cc4c7 0%,#7ac5a8 28.6%,#93ca84 35.7%,#eae524 50%,#f6e716 57.1%,#e8e426 64.3%,#82c697 78.6%,#6dc4c4 82.1%,#5bc3df 85.7%,#2dacec 89.3%,#1e76c9 92.9%,#173a99 100%)"></div>
<div class="hr" style="left:393.2px;top:677.34px;width:112.1px;height:1.91px;background:linear-gradient(90deg,#c2d74f 0%,#ebe524 25%,#dedf32 42.9%,#b8d459 53.6%,#7ec59f 71.4%,#6ec4c2 85.7%,#68c4cc 100%)"></div>
<div class="hr" style="left:507.2px;top:677.34px;width:110.0px;height:1.91px;background:linear-gradient(90deg,#6bc4c7 0%,#79c5a9 28.6%,#91ca85 35.7%,#e9e425 50%,#f6e916 53.6%,#e7e327 64.3%,#81c599 78.6%,#6cc4c6 82.1%,#5ac3df 85.7%,#2cabeb 89.3%,#1e74c8 92.9%,#173998 100%)"></div>
<div class="hr" style="left:393.2px;top:678.95px;width:112.1px;height:1.91px;background:linear-gradient(90deg,#b1d261 0%,#e2e12e 25%,#cdda44 42.9%,#7dc5a1 67.9%,#6ac4c9 82.1%,#63c3d4 100%)"></div>
<div class="hr" style="left:507.2px;top:678.95px;width:110.0px;height:1.91px;background:linear-gradient(90deg,#69c4cb 0%,#76c5af 28.6%,#9ecd76 39.3%,#e5e22a 50%,#f2e81a 53.6%,#e3e12c 64.3%,#7ec59f 78.6%,#6ac4c9 82.1%,#54c1e3 85.7%,#28a7ea 89.3%,#1c6ec3 92.9%,#163695 100%)"></div>
<div class="hr" style="left:393.2px;top:680.56px;width:112.1px;height:1.91px;background:linear-gradient(90deg,#afd263 0%,#e1e02f 25%,#cbda46 42.9%,#7cc5a2 67.9%,#6ac4ca 82.1%,#62c3d4 100%)"></div>
<div class="hr" style="left:507.2px;top:680.56px;width:110.0px;height:1.91px;background:linear-gradient(90deg,#69c4ca 0%,#77c5ae 28.6%,#8fc988 35.7%,#a7cf6b 39.3%,#f6e616 46.4%,#f07321 53.6%,#f17521 57.1%,#f7db17 64.3%,#e2e12d 67.9%,#b4d35d 71.4%,#7fc59d 78.6%,#6ac4c8 82.1%,#55c2e2 85.7%,#29a8ea 89.3%,#1d6fc4 92.9%,#163796 100%)"></div>
<div class="hr" style="left:393.2px;top:682.17px;width:112.1px;height:1.91px;background:linear-gradient(90deg,#bbd557 0%,#e7e328 25%,#d7dd3a 42.9%,#81c599 67.9%,#6dc4c4 82.1%,#66c4d0 100%)"></div>
<div class="hr" style="left:507.2px;top:682.17px;width:110.0px;height:1.91px;background:linear-gradient(90deg,#65c4d0 0%,#72c4b9 28.6%,#86c793 35.7%,#9dcd77 39.3%,#f2e81b 46.4%,#f38320 53.6%,#f38520 57.1%,#f6e616 64.3%,#d6dd3a 67.9%,#a6cf6c 71.4%,#4bc0e8 85.7%,#259de4 89.3%,#1c67be 92.9%,#153291 100%)"></div>
<div class="hr" style="left:393.2px;top:683.79px;width:112.1px;height:1.91px;background:linear-gradient(90deg,#c4d84d 0%,#f3e919 17.9%,#f7d617 21.4%,#f59e1d 28.6%,#f5981e 32.1%,#f6a71c 35.7%,#f6e416 42.9%,#bfd653 53.6%,#87c792 67.9%,#70c4bd 82.1%,#68c4cc 100%)"></div>
<div class="hr" style="left:507.2px;top:683.79px;width:110.0px;height:1.91px;background:linear-gradient(90deg,#70c4bd 0%,#7ec59e 28.6%,#b1d260 39.3%,#e4e22b 46.4%,#f1e81c 50%,#f7dd17 57.1%,#f6e916 60.7%,#e0e02f 67.9%,#8bc88d 78.6%,#71c4ba 82.1%,#5fc3d9 85.7%,#33b3ed 89.3%,#2080d0 92.9%,#183e9d 100%)"></div>
<div class="hr" style="left:393.2px;top:685.40px;width:112.1px;height:1.91px;background:linear-gradient(90deg,#b1d260 0%,#eae424 17.9%,#f6e416 21.4%,#f7b21b 28.6%,#f6ac1c 32.1%,#f0e71d 42.9%,#9dcd77 57.1%,#72c4b8 75%,#67c4cd 89.3%,#63c3d3 100%)"></div>
<div class="hr" style="left:507.2px;top:685.40px;width:110.0px;height:1.91px;background:linear-gradient(90deg,#66c4d0 0%,#72c4b8 28.6%,#96cb7f 39.3%,#dfe032 50%,#ece621 53.6%,#e5e22a 60.7%,#dade36 64.3%,#8cc88c 75%,#4bc0e8 85.7%,#259ee4 89.3%,#1c67be 92.9%,#153391 100%)"></div>
<div class="hr" style="left:393.2px;top:687.01px;width:112.1px;height:1.91px;background:linear-gradient(90deg,#d6dd3b 0%,#f3e81a 28.6%,#dddf33 50%,#9dcd77 64.3%,#76c5af 82.1%,#6dc4c3 100%)"></div>
<div class="hr" style="left:507.2px;top:687.01px;width:110.0px;height:1.91px;background:linear-gradient(90deg,#66c4cf 0%,#73c4b6 28.6%,#98cb7d 39.3%,#e1e02f 50%,#eee620 53.6%,#e6e329 60.7%,#dddf33 64.3%,#8ec98a 75%,#4dc0e7 85.7%,#26a0e6 89.3%,#1c68bf 92.9%,#163392 100%)"></div>
<div class="hr" style="left:393.2px;top:688.62px;width:112.1px;height:1.91px;background:linear-gradient(90deg,#e1e02f 0%,#f6e616 28.6%,#eae424 46.4%,#c7d94a 57.1%,#90c987 71.4%,#79c5aa 85.7%,#72c4ba 100%)"></div>
<div class="hr" style="left:507.2px;top:688.62px;width:110.0px;height:1.91px;background:linear-gradient(90deg,#69c4cb 0%,#76c5af 28.6%,#8ec989 35.7%,#a5cf6d 39.3%,#f6e716 46.4%,#f17521 53.6%,#f17721 57.1%,#f7dc17 64.3%,#e1e12e 67.9%,#b3d35f 71.4%,#7ec59e 78.6%,#6ac4c9 82.1%,#54c1e3 85.7%,#28a7ea 89.3%,#1c6ec3 92.9%,#163695 100%)"></div>
<div class="hr" style="left:393.2px;top:690.23px;width:112.1px;height:1.91px;background:linear-gradient(90deg,#c5d84c 0%,#ece522 25%,#e0e030 42.9%,#bbd557 53.6%,#7ec59e 71.4%,#6fc4c0 85.7%,#68c4cb 100%)"></div>
<div class="hr" style="left:507.2px;top:690.23px;width:110.0px;height:1.91px;background:linear-gradient(90deg,#69c4ca 0%,#77c5ae 28.6%,#8dc98a 35.7%,#e6e329 50%,#f3e919 53.6%,#e4e22b 64.3%,#7fc59d 78.6%,#6ac4c8 82.1%,#55c2e2 85.7%,#29a8ea 89.3%,#1d6fc4 92.9%,#163796 100%)"></div>
<div class="hr" style="left:393.2px;top:691.84px;width:112.1px;height:1.91px;background:linear-gradient(90deg,#e1e02f 0%,#f6e616 28.6%,#eae425 46.4%,#c6d84b 57.1%,#90c987 71.4%,#79c5aa 85.7%,#71c4ba 100%)"></div>
<div class="hr" style="left:507.2px;top:691.84px;width:110.0px;height:1.91px;background:linear-gradient(90deg,#6bc4c8 0%,#79c5aa 28.6%,#90c986 35.7%,#e8e426 50%,#f6ea17 53.6%,#e6e328 64.3%,#80c59a 78.6%,#6cc4c6 82.1%,#58c2e0 85.7%,#2baaeb 89.3%,#1d73c7 92.9%,#173897 100%)"></div>
<div class="hr" style="left:393.2px;top:693.45px;width:112.1px;height:1.91px;background:linear-gradient(90deg,#ccda45 0%,#f0e71e 25%,#dedf32 46.4%,#8cc88c 67.9%,#5fc3da 85.7%,#3abaef 89.3%,#228bd8 92.9%,#1b61ba 96.4%,#1b54b0 100%)"></div>
<div class="hr" style="left:507.2px;top:693.45px;width:110.0px;height:1.91px;background:linear-gradient(90deg,#1b51af 0%,#1c63bc 3.6%,#259ce3 7.1%,#4ec0e6 10.7%,#65c4d0 14.3%,#7dc5a1 32.1%,#b6d45b 42.9%,#e6e329 50%,#f3e81a 53.6%,#e3e22c 64.3%,#7ec59e 78.6%,#6ac4c9 82.1%,#54c1e3 85.7%,#28a7ea 89.3%,#1c6ec3 92.9%,#163795 100%)"></div>
<div class="hr" style="left:393.2px;top:695.06px;width:112.1px;height:1.91px;background:linear-gradient(90deg,#a8d06a 0%,#d3dc3d 14.3%,#f5e917 21.4%,#f7bc1a 28.6%,#f7b61a 32.1%,#f7dc17 39.3%,#ece522 42.9%,#a4ce6f 53.6%,#7ac5a8 67.9%,#68c4cd 82.1%,#61c3d7 100%)"></div>
<div class="hr" style="left:507.2px;top:695.06px;width:110.0px;height:1.91px;background:linear-gradient(90deg,#64c4d1 0%,#71c4bb 28.6%,#94ca82 39.3%,#eae524 53.6%,#e3e12d 60.7%,#d6dd3a 64.3%,#89c78f 75%,#66c4d0 82.1%,#48bfe9 85.7%,#259ae2 89.3%,#1c65bd 92.9%,#153190 100%)"></div>
<div class="hr" style="left:393.2px;top:696.67px;width:112.1px;height:1.91px;background:linear-gradient(90deg,#dddf33 0%,#f6ea16 28.6%,#e2e12e 50%,#97cb7e 67.9%,#79c5aa 82.1%,#70c4bd 100%)"></div>
<div class="hr" style="left:507.2px;top:696.67px;width:110.0px;height:1.91px;background:linear-gradient(90deg,#6bc4c7 0%,#79c5a9 28.6%,#92ca85 35.7%,#eae425 50%,#f6e916 53.6%,#e8e327 64.3%,#82c598 78.6%,#6cc4c5 82.1%,#5ac3df 85.7%,#2cabeb 89.3%,#1e75c8 92.9%,#173998 100%)"></div>
<div class="hr" style="left:393.2px;top:698.28px;width:112.1px;height:1.91px;background:linear-gradient(90deg,#ccda45 0%,#efe71e 25%,#dddf33 46.4%,#8cc88c 67.9%,#73c4b7 82.1%,#6ac4c8 100%)"></div>
<div class="hr" style="left:507.2px;top:698.28px;width:110.0px;height:1.91px;background:linear-gradient(90deg,#6bc4c8 0%,#78c5ab 28.6%,#90c987 35.7%,#e8e426 50%,#f5ea17 53.6%,#e6e329 64.3%,#80c59a 78.6%,#6cc4c7 82.1%,#5fc3d9 85.7%,#64c4d1 96.4%,#63c3d4 100%)"></div>
<div class="hr" style="left:393.2px;top:699.89px;width:112.1px;height:1.91px;background:linear-gradient(90deg,#bad558 0%,#e6e329 25%,#d6dd3b 42.9%,#80c59a 67.9%,#6dc4c5 82.1%,#65c4d0 100%)"></div>
<div class="hr" style="left:507.2px;top:699.89px;width:110.0px;height:1.91px;background:linear-gradient(90deg,#69c4ca 0%,#77c5ae 28.6%,#9fcd74 39.3%,#e6e329 50%,#f3e919 53.6%,#e4e22b 64.3%,#7ec59d 78.6%,#6ac4c8 82.1%,#5ec3db 85.7%,#63c3d3 96.4%,#61c3d6 100%)"></div>
<div class="hr" style="left:393.2px;top:701.50px;width:112.1px;height:1.91px;background:linear-gradient(90deg,#b3d35e 0%,#e3e12c 25%,#cfdb41 42.9%,#7ec59f 67.9%,#6bc4c8 82.1%,#64c3d2 100%)"></div>
<div class="hr" style="left:507.2px;top:701.50px;width:110.0px;height:1.91px;background:linear-gradient(90deg,#6ac4ca 0%,#77c5ad 28.6%,#8ec989 35.7%,#e7e328 50%,#f4e919 53.6%,#e4e22b 64.3%,#7fc59d 78.6%,#6bc4c8 82.1%,#5ec3da 85.7%,#63c3d3 96.4%,#62c3d6 100%)"></div>
<div class="hr" style="left:393.2px;top:703.11px;width:112.1px;height:1.91px;background:linear-gradient(90deg,#b7d45b 0%,#e5e22a 25%,#d3dc3e 42.9%,#7fc59c 67.9%,#6cc4c6 82.1%,#65c4d1 100%)"></div>
<div class="hr" style="left:507.2px;top:703.11px;width:110.0px;height:1.91px;background:linear-gradient(90deg,#67c4cd 0%,#74c4b4 28.6%,#8ac88e 35.7%,#a1ce72 39.3%,#f5e918 46.4%,#f27c21 53.6%,#f27e21 57.1%,#f7e117 64.3%,#dcdf34 67.9%,#acd165 71.4%,#68c4cc 82.1%,#5cc3de 85.7%,#61c3d7 96.4%,#5fc3d9 100%)"></div>
<div class="hr" style="left:393.2px;top:704.73px;width:112.1px;height:1.91px;background:linear-gradient(90deg,#cbda46 0%,#f6e916 17.9%,#f5971e 28.6%,#f4911f 32.1%,#f5a01d 35.7%,#f7df17 42.9%,#dee032 50%,#a1ce72 60.7%,#76c4b0 78.6%,#6ac4c9 100%)"></div>
<div class="hr" style="left:507.2px;top:704.73px;width:110.0px;height:1.91px;background:linear-gradient(90deg,#67c4ce 0%,#74c4b5 28.6%,#89c78f 35.7%,#a0cd73 39.3%,#f4e919 46.4%,#f27e21 53.6%,#f28021 57.1%,#f6e216 64.3%,#dbde35 67.9%,#abd067 71.4%,#68c4cc 82.1%,#5bc3df 85.7%,#60c3d7 96.4%,#5fc3da 100%)"></div>
<div class="hr" style="left:393.2px;top:706.34px;width:112.1px;height:1.91px;background:linear-gradient(90deg,#cedb42 0%,#f6e616 17.9%,#f5931f 28.6%,#f48d20 32.1%,#f59c1e 35.7%,#f7dc17 42.9%,#eee620 46.4%,#98cb7d 64.3%,#74c4b5 82.1%,#6bc4c7 100%)"></div>
<div class="hr" style="left:507.2px;top:706.34px;width:110.0px;height:1.91px;background:linear-gradient(90deg,#6ac4c9 0%,#78c5ac 28.6%,#90c986 35.7%,#a8d069 39.3%,#d7dd39 42.9%,#f6e416 46.4%,#f07122 53.6%,#f07321 57.1%,#f7d917 64.3%,#e3e12c 67.9%,#b6d45b 71.4%,#7fc59c 78.6%,#6bc4c8 82.1%,#5fc3da 85.7%,#64c3d3 96.4%,#62c3d5 100%)"></div>
<div class="hr" style="left:393.2px;top:707.95px;width:112.1px;height:1.91px;background:linear-gradient(90deg,#c9d947 0%,#f6ea16 17.9%,#f5981e 28.6%,#f5921f 32.1%,#f6a11d 35.7%,#f7e017 42.9%,#dddf33 50%,#a0cd73 60.7%,#75c4b2 78.6%,#6ac4c9 100%)"></div>
<div class="hr" style="left:507.2px;top:707.95px;width:110.0px;height:1.91px;background:linear-gradient(90deg,#6ec4c2 0%,#7cc5a3 28.6%,#99cb7c 35.7%,#b5d35c 39.3%,#e2e12e 42.9%,#f7db17 46.4%,#ee6322 53.6%,#ee6622 57.1%,#f8cf18 64.3%,#e9e425 67.9%,#a0cd74 75%,#87c792 78.6%,#6fc4bf 82.1%,#62c3d5 85.7%,#67c4cd 96.4%,#65c4d0 100%)"></div>
<div class="hr" style="left:393.2px;top:709.56px;width:112.1px;height:1.91px;background:linear-gradient(90deg,#a9d068 0%,#d5dd3c 14.3%,#f6ea17 21.4%,#f7bb1a 28.6%,#f7b51b 32.1%,#f7db17 39.3%,#ece621 42.9%,#a5cf6e 53.6%,#7ac5a6 67.9%,#68c4cc 82.1%,#61c3d7 100%)"></div>
<div class="hr" style="left:507.2px;top:709.56px;width:110.0px;height:1.91px;background:linear-gradient(90deg,#62c3d6 0%,#6dc4c3 28.6%,#8dc88a 39.3%,#e5e22a 53.6%,#dbdf35 60.7%,#afd262 67.9%,#63c3d4 82.1%,#4ec0e6 85.7%,#5dc3dc 92.9%,#56c2e2 100%)"></div>
<div class="hr" style="left:393.2px;top:711.17px;width:112.1px;height:1.91px;background:linear-gradient(90deg,#cedb43 0%,#f6e716 17.9%,#f5941f 28.6%,#f48e20 32.1%,#f59d1e 35.7%,#f7dc17 42.9%,#ede620 46.4%,#98cb7d 64.3%,#74c4b5 82.1%,#6bc4c8 100%)"></div>
<div class="hr" style="left:507.2px;top:711.17px;width:110.0px;height:1.91px;background:linear-gradient(90deg,#6cc4c6 0%,#7ac5a7 28.6%,#95cb81 35.7%,#afd262 39.3%,#dedf32 42.9%,#f7df17 46.4%,#ef6922 53.6%,#ef6c22 57.1%,#f7d417 64.3%,#e7e328 67.9%,#9ccc78 75%,#83c696 78.6%,#6dc4c4 82.1%,#61c3d7 85.7%,#66c4d0 96.4%,#64c3d2 100%)"></div>
<div class="hr" style="left:393.2px;top:712.78px;width:112.1px;height:1.91px;background:linear-gradient(90deg,#e3e12c 0%,#f6e516 21.4%,#f1e81c 42.9%,#dcdf34 53.6%,#9dcd77 67.9%,#7cc5a3 82.1%,#73c4b6 100%)"></div>
<div class="hr" style="left:507.2px;top:712.78px;width:110.0px;height:1.91px;background:linear-gradient(90deg,#6bc4c7 0%,#79c5a9 28.6%,#91ca85 35.7%,#e9e425 50%,#f6ea16 53.6%,#e7e328 64.3%,#81c599 78.6%,#6cc4c6 82.1%,#60c3d8 85.7%,#65c4d1 96.4%,#63c3d3 100%)"></div>
<div class="hr" style="left:393.2px;top:714.39px;width:112.1px;height:1.91px;background:linear-gradient(90deg,#d1dc3f 0%,#f2e81a 25%,#e2e12e 46.4%,#90c987 67.9%,#75c4b2 82.1%,#6cc4c6 100%)"></div>
<div class="hr" style="left:507.2px;top:714.39px;width:110.0px;height:1.91px;background:linear-gradient(90deg,#64c4d1 0%,#71c4bb 28.6%,#94ca82 39.3%,#eae524 53.6%,#e3e12d 60.7%,#d6dd3a 64.3%,#89c78f 75%,#66c4d0 82.1%,#55c2e2 85.7%,#5ec3db 96.4%,#5cc3dd 100%)"></div>
<div class="hr" style="left:388.9px;top:670.9px;width:3.1px;height:45.1px;background:#c69ad0"></div>
<div class="hr" style="left:393.2px;top:390.6px;width:52.0px;height:3.0px;background:#e8475a"></div>
<div class="hr" style="left:445.2px;top:390.6px;width:60.1px;height:3.0px;background:#909090"></div>
<div class="hr" style="left:507.2px;top:390.6px;width:57.6px;height:3.0px;background:#909090"></div>
<div class="hr" style="left:564.8px;top:390.6px;width:52.4px;height:3.0px;background:#6f86cc"></div>
<div class="hr" style="left:619.6px;top:395.1px;width:4.4px;height:70.7px;background:linear-gradient(180deg,#c8161e 0.0%,#dc1e22 8.3%,#e8401f 15.8%,#f07f1e 21.7%,#f6b81a 26.7%,#f4e31a 30.8%,#d8df30 36.7%,#b5d452 42.5%,#88c88c 50.0%,#70c3b8 58.3%,#5ec3d2 66.7%,#2dbff0 74.2%,#1e8fd8 79.2%,#1c62bc 85.0%,#1a48a8 91.7%,#142c8a 100.0%)"></div>
<div class="hr" style="left:629.5px;top:397.4px;width:4.4px;height:4.6px;background:#909090"></div>
<div class="hr" style="left:629.5px;top:401.4px;width:4.4px;height:4.9px;background:#e8475a"></div>
<div class="hr" style="left:629.5px;top:405.7px;width:4.4px;height:4.8px;background:#6f86cc"></div>
<div class="hr" style="left:629.5px;top:415.1px;width:4.4px;height:4.7px;background:#f28e8e"></div>
<div class="hr" style="left:629.5px;top:419.2px;width:4.4px;height:4.9px;background:#e184c8"></div>
<div class="hr" style="left:629.5px;top:423.5px;width:4.4px;height:4.8px;background:#a8c43c"></div>
<div class="hr" style="left:629.5px;top:427.7px;width:4.4px;height:4.9px;background:#c69ad0"></div>
<div class="hr" style="left:629.5px;top:432.0px;width:4.4px;height:5.0px;background:#8db6e6"></div>
<div class="hr" style="left:629.5px;top:436.4px;width:4.4px;height:4.8px;background:#f2a81e"></div>
<svg width="685" height="970" viewBox="0 0 685 970" style="position:absolute;left:0;top:0"><text x="0.0" y="0.0" font-size="27.60" fill="#231f20" text-anchor="start" font-family='"Liberation Serif", serif' transform="translate(1.40 24.50) scale(0.867 1)">A</text><text x="0.0" y="0.0" font-size="27.60" fill="#231f20" text-anchor="start" font-family='"Liberation Serif", serif' transform="translate(342.98 24.50) scale(0.810 1)">B</text><text x="0.0" y="0.0" font-size="27.60" fill="#231f20" text-anchor="start" font-family='"Liberation Serif", serif' transform="translate(1.97 387.70) scale(1.067 1)">C</text><text x="0.0" y="0.0" font-size="27.60" fill="#231f20" text-anchor="start" font-family='"Liberation Serif", serif' transform="translate(342.91 387.80) scale(0.976 1)">D</text><text x="0.0" y="0.0" font-size="27.60" fill="#231f20" text-anchor="start" font-family='"Liberation Serif", serif' transform="translate(2.03 749.00) scale(0.923 1)">E</text><defs><linearGradient id="gA" x1="0" x2="1" y1="0" y2="0"><stop offset="0.00" stop-color="#132b43"/><stop offset="0.10" stop-color="#193753"/><stop offset="0.20" stop-color="#1f4364"/><stop offset="0.30" stop-color="#265075"/><stop offset="0.40" stop-color="#2c5d86"/><stop offset="0.50" stop-color="#336a98"/><stop offset="0.60" stop-color="#3a78aa"/><stop offset="0.70" stop-color="#4186bd"/><stop offset="0.80" stop-color="#4894d0"/><stop offset="0.90" stop-color="#4fa2e3"/><stop offset="1.00" stop-color="#56b1f7"/></linearGradient><linearGradient id="gE" x1="0" x2="0" y1="1" y2="0"><stop offset="0.00" stop-color="#132b43"/><stop offset="0.10" stop-color="#193753"/><stop offset="0.20" stop-color="#1f4364"/><stop offset="0.30" stop-color="#265075"/><stop offset="0.40" stop-color="#2c5d86"/><stop offset="0.50" stop-color="#336a98"/><stop offset="0.60" stop-color="#3a78aa"/><stop offset="0.70" stop-color="#4186bd"/><stop offset="0.80" stop-color="#4894d0"/><stop offset="0.90" stop-color="#4fa2e3"/><stop offset="1.00" stop-color="#56b1f7"/></linearGradient></defs><rect x="172.9" y="31.9" width="59.1" height="17.1" fill="url(#gA)"/><line x1="172.9" y1="31.9" x2="172.9" y2="35.3" stroke="#fff" stroke-width="0.70"/><line x1="172.9" y1="45.6" x2="172.9" y2="49.0" stroke="#fff" stroke-width="0.70"/><text x="172.9" y="57.2" font-size="5.90" fill="#000" text-anchor="middle" font-family='"Liberation Sans", sans-serif' >0</text><line x1="190.7" y1="31.9" x2="190.7" y2="35.3" stroke="#fff" stroke-width="0.70"/><line x1="190.7" y1="45.6" x2="190.7" y2="49.0" stroke="#fff" stroke-width="0.70"/><text x="190.7" y="57.2" font-size="5.90" fill="#000" text-anchor="middle" font-family='"Liberation Sans", sans-serif' >10</text><line x1="208.5" y1="31.9" x2="208.5" y2="35.3" stroke="#fff" stroke-width="0.70"/><line x1="208.5" y1="45.6" x2="208.5" y2="49.0" stroke="#fff" stroke-width="0.70"/><text x="208.5" y="57.2" font-size="5.90" fill="#000" text-anchor="middle" font-family='"Liberation Sans", sans-serif' >20</text><line x1="226.3" y1="31.9" x2="226.3" y2="35.3" stroke="#fff" stroke-width="0.70"/><line x1="226.3" y1="45.6" x2="226.3" y2="49.0" stroke="#fff" stroke-width="0.70"/><text x="226.3" y="57.2" font-size="5.90" fill="#000" text-anchor="middle" font-family='"Liberation Sans", sans-serif' >30</text><text x="169.0" y="47.8" font-size="7.40" fill="#000" text-anchor="end" font-family='"Liberation Sans", sans-serif' >Pseudotime</text><text x="458.3" y="43.0" font-size="7.30" fill="#000" text-anchor="start" font-family='"Liberation Sans", sans-serif' >State</text><circle cx="485.0" cy="40.6" r="1.5" fill="#e9756c"/><text x="496.4" y="42.8" font-size="6.10" fill="#000" text-anchor="middle" font-family='"Liberation Sans", sans-serif' >1</text><circle cx="507.6" cy="40.6" r="1.5" fill="#a0a21e"/><text x="519.0" y="42.8" font-size="6.10" fill="#000" text-anchor="middle" font-family='"Liberation Sans", sans-serif' >2</text><circle cx="530.2" cy="40.6" r="1.5" fill="#32b47a"/><text x="541.6" y="42.8" font-size="6.10" fill="#000" text-anchor="middle" font-family='"Liberation Sans", sans-serif' >3</text><circle cx="552.9" cy="40.6" r="1.5" fill="#2aa8e2"/><text x="564.3" y="42.8" font-size="6.10" fill="#000" text-anchor="middle" font-family='"Liberation Sans", sans-serif' >4</text><circle cx="575.5" cy="40.6" r="1.5" fill="#b57db9"/><text x="586.9" y="42.8" font-size="6.10" fill="#000" text-anchor="middle" font-family='"Liberation Sans", sans-serif' >5</text><text x="112.8" y="406.7" font-size="7.30" fill="#000" text-anchor="start" font-family='"Liberation Sans", sans-serif' >CellType_1</text><circle cx="159.6" cy="404.1" r="1.5" fill="#ec7469"/><text x="168.9" y="406.2" font-size="6.00" fill="#000" text-anchor="start" font-family='"Liberation Sans", sans-serif' >Monocytes</text><circle cx="207.9" cy="404.1" r="1.5" fill="#1bb3c1"/><text x="218.0" y="406.2" font-size="6.00" fill="#000" text-anchor="start" font-family='"Liberation Sans", sans-serif' >Neutrophils</text><line x1="388.2" y1="396.0" x2="388.2" y2="427.0" stroke="#555" stroke-width="0.8"/><line x1="388.2" y1="431.0" x2="388.2" y2="524.0" stroke="#555" stroke-width="0.8"/><line x1="388.2" y1="528.0" x2="388.2" y2="604.0" stroke="#555" stroke-width="0.8"/><line x1="388.2" y1="608.0" x2="388.2" y2="635.0" stroke="#555" stroke-width="0.8"/><line x1="388.2" y1="639.0" x2="388.2" y2="668.0" stroke="#555" stroke-width="0.8"/><line x1="388.2" y1="672.0" x2="388.2" y2="715.0" stroke="#555" stroke-width="0.8"/><line x1="377.4" y1="438.6" x2="377.4" y2="625.7" stroke="#9a9a9a" stroke-width="0.8"/><line x1="377.4" y1="438.6" x2="388.0" y2="438.6" stroke="#9a9a9a" stroke-width="0.8"/><line x1="377.4" y1="625.7" x2="382.0" y2="625.7" stroke="#9a9a9a" stroke-width="0.8"/><line x1="382.0" y1="585.5" x2="382.0" y2="658.2" stroke="#9a9a9a" stroke-width="0.8"/><line x1="382.0" y1="585.5" x2="388.0" y2="585.5" stroke="#9a9a9a" stroke-width="0.8"/><line x1="382.0" y1="658.2" x2="386.0" y2="658.2" stroke="#9a9a9a" stroke-width="0.8"/><line x1="386.0" y1="650.0" x2="386.0" y2="690.0" stroke="#9a9a9a" stroke-width="0.8"/><line x1="386.0" y1="650.0" x2="388.0" y2="650.0" stroke="#9a9a9a" stroke-width="0.8"/><line x1="386.0" y1="690.0" x2="388.0" y2="690.0" stroke="#9a9a9a" stroke-width="0.8"/><text x="626.0" y="397.5" font-size="3.80" fill="#333" text-anchor="start" font-family='"Liberation Sans", sans-serif' >3</text><text x="626.0" y="409.0" font-size="3.80" fill="#333" text-anchor="start" font-family='"Liberation Sans", sans-serif' >2</text><text x="626.0" y="420.2" font-size="3.80" fill="#333" text-anchor="start" font-family='"Liberation Sans", sans-serif' >1</text><text x="626.0" y="432.1" font-size="3.80" fill="#333" text-anchor="start" font-family='"Liberation Sans", sans-serif' >0</text><text x="626.0" y="443.4" font-size="3.80" fill="#333" text-anchor="start" font-family='"Liberation Sans", sans-serif' >−1</text><text x="626.0" y="454.8" font-size="3.80" fill="#333" text-anchor="start" font-family='"Liberation Sans", sans-serif' >−2</text><text x="626.0" y="465.9" font-size="3.80" fill="#333" text-anchor="start" font-family='"Liberation Sans", sans-serif' >−3</text><text x="618.2" y="393.2" font-size="2.80" fill="#333" text-anchor="start" font-family='"Liberation Sans", sans-serif' >Cell Type</text><text x="629.5" y="396.6" font-size="2.80" fill="#333" text-anchor="start" font-family='"Liberation Sans", sans-serif' >Cell Type</text><text x="634.8" y="400.4" font-size="2.80" fill="#333" text-anchor="start" font-family='"Liberation Sans", sans-serif' >Pre-branch</text><text x="634.8" y="404.6" font-size="2.80" fill="#333" text-anchor="start" font-family='"Liberation Sans", sans-serif' >Cell fate 1</text><text x="634.8" y="408.8" font-size="2.80" fill="#333" text-anchor="start" font-family='"Liberation Sans", sans-serif' >Cell fate 2</text><text x="629.5" y="414.0" font-size="2.80" fill="#333" text-anchor="start" font-family='"Liberation Sans", sans-serif' >Cluster</text><text x="635.2" y="418.2" font-size="2.80" fill="#333" text-anchor="start" font-family='"Liberation Sans", sans-serif' >1</text><text x="635.2" y="422.4" font-size="2.80" fill="#333" text-anchor="start" font-family='"Liberation Sans", sans-serif' >2</text><text x="635.2" y="426.7" font-size="2.80" fill="#333" text-anchor="start" font-family='"Liberation Sans", sans-serif' >3</text><text x="635.2" y="430.9" font-size="2.80" fill="#333" text-anchor="start" font-family='"Liberation Sans", sans-serif' >4</text><text x="635.2" y="435.2" font-size="2.80" fill="#333" text-anchor="start" font-family='"Liberation Sans", sans-serif' >5</text><text x="635.2" y="439.4" font-size="2.80" fill="#333" text-anchor="start" font-family='"Liberation Sans", sans-serif' >6</text><text x="0.0" y="0.0" font-size="3.60" fill="#222" text-anchor="start" font-family='"Liberation Sans", sans-serif' transform="translate(389.0 718.2) rotate(90)">Cluster</text><line x1="22.9" y1="69.7" x2="22.9" y2="345.8" stroke="#a6a6a6" stroke-width="0.90"/><line x1="22.5" y1="345.3" x2="338.3" y2="345.3" stroke="#a6a6a6" stroke-width="0.90"/><line x1="20.7" y1="125.4" x2="22.9" y2="125.4" stroke="#333" stroke-width="0.80"/><text x="19.5" y="127.5" font-size="6.10" fill="#444" text-anchor="end" font-family='"Liberation Sans", sans-serif' >5</text><line x1="20.7" y1="205.4" x2="22.9" y2="205.4" stroke="#333" stroke-width="0.80"/><text x="19.5" y="207.5" font-size="6.10" fill="#444" text-anchor="end" font-family='"Liberation Sans", sans-serif' >0</text><line x1="20.7" y1="285.4" x2="22.9" y2="285.4" stroke="#333" stroke-width="0.80"/><text x="19.5" y="287.5" font-size="6.10" fill="#444" text-anchor="end" font-family='"Liberation Sans", sans-serif' >−5</text><line x1="22.9" y1="345.3" x2="22.9" y2="347.5" stroke="#333" stroke-width="0.80"/><text x="22.9" y="353.2" font-size="6.10" fill="#444" text-anchor="middle" font-family='"Liberation Sans", sans-serif' >−20</text><line x1="115.3" y1="345.3" x2="115.3" y2="347.5" stroke="#333" stroke-width="0.80"/><text x="115.3" y="353.2" font-size="6.10" fill="#444" text-anchor="middle" font-family='"Liberation Sans", sans-serif' >−10</text><line x1="207.7" y1="345.3" x2="207.7" y2="347.5" stroke="#333" stroke-width="0.80"/><text x="207.7" y="353.2" font-size="6.10" fill="#444" text-anchor="middle" font-family='"Liberation Sans", sans-serif' >0</text><line x1="300.1" y1="345.3" x2="300.1" y2="347.5" stroke="#333" stroke-width="0.80"/><text x="300.1" y="353.2" font-size="6.10" fill="#444" text-anchor="middle" font-family='"Liberation Sans", sans-serif' >10</text><text x="180.5" y="361.6" font-size="7.40" fill="#000" text-anchor="middle" font-family='"Liberation Sans", sans-serif' >Component 1</text><text x="0.0" y="0.0" font-size="7.40" fill="#000" text-anchor="middle" font-family='"Liberation Sans", sans-serif' transform="translate(8.7 210.1) rotate(-90)">Component 2</text><line x1="179.4" y1="165.7" x2="181.2" y2="114.0" stroke="#000" stroke-width="0.90"/><line x1="179.4" y1="165.7" x2="265.9" y2="215.9" stroke="#000" stroke-width="0.90"/><line x1="265.9" y1="215.9" x2="287.0" y2="198.9" stroke="#000" stroke-width="0.90"/><line x1="265.9" y1="215.9" x2="291.2" y2="285.2" stroke="#000" stroke-width="0.90"/><line x1="179.4" y1="165.7" x2="109.6" y2="200.3" stroke="#000" stroke-width="0.90"/><line x1="109.6" y1="200.3" x2="77.6" y2="211.5" stroke="#000" stroke-width="0.90"/><path d="M51.9 201.6h0m-3 .6h0m3.2-.3h0m.8 1.4h0m2.1 .4h0m-4 1.4h0m-1.9 .8h0m4.5 .3h0m-8.2 .4h0m3.5 .8h0m2 .2h0m-1.9 .7h0m6.2 .1h0m-.8 .5h0m-3.3 .4h0m6.1 .7h0m-10.5 1.1h0m2.8 .2h0m3.9 0h0m-8.9 1.2h0m3.1 0h0m2-.2h0m-4.6 .6h0m8.7 0h0m.5 .8h0m3.3 0h0m-17.8 .1h0m18.2 .2h0m-11.5 .6h0m4.1 .5h0m-5.1 .3h0m6.9 .2h0m-13.1 .2h0m4.8 .3h0m6.6 .3h0m-.5 .6h0m4.7-.1h0m-14 .8h0m4.5 0h0m4.7-.4h0m4.8 .4h0m-10.3 .4h0m.3 0h0m1.4 0h0m4.3 0h0m5.2 0h0m-17 .5h0m21 0h0m-11.3 .2h0m2.7 .3h0m6.5-.2h0m1.9 .1h0m-22 .6h0m12.2 0h0m2.4-.3h0m-9.2 .8h0m16.4-.1h0m1.7 .2h0m-12.6 .3h0m-3.2 .6h0m10.5 .1h0m.3-.1h0m-8.9 .3h0m1.8 .2h0m6.6 .4h0m-3.5 .6h0m-6.8 .6h0m13 .5h0m-17.2 .5h0m9.4-.4h0m6.5 .1h0m3.4 .2h0m-17 .5h0m.4 .3h0m1.6 .3h0m2.3-.1h0m7.4-.3h0m-12 .9h0m1.2 .1h0m.7 0h0m.8 .1h0m2.9 0h0m.2 0h0m6.4-.1h0m-14.2 .7h0m10.4-.2h0m2.3 .4h0m-13.6 .5h0m1.4 0h0m13.5-.4h0m-15.2 1.4h0m2.7 0h0m1-.1h0m1.2 1.1h0m8.5-.3h0m-13 .4h0m14.6 .4h0m4.7-.1h0m-20.8 .6h0m8.4-.1h0m4.6 0h0m1.9-.1h0m1.9-.1h0m3.8 .2h0m-15.9 .4h0m7 .2h0m1.3 0h0m1-.3h0m-9 .5h0m9.2 .3h0m2.5-.3h0m-15.7 .5h0m2.1 .1h0m2.5 .2h0m-2.6 .4h0m1-.3h0m6.5 .3h0m7.3 0h0m-11.4 .4h0m5.4 .2h0m1.2-.4h0m5.1 .2h0m-16.5 .3h0m.8 .2h0m1.3 0h0m6.7 .1h0m-8 .2h0m2.2 .3h0m3 .1h0m1.4 .4h0m1.4-.2h0m1.1 0h0m6.5 .1h0m-2.4 .6h0m-4.3 .6h0m-3.9 .5h0m-.3 .3h0m6.4 0h0m-8.3 .9h0m-3.2 1h0m1.8 .7h0m.9 0h0m9 0h0" stroke="#132b43" stroke-width="3.30" stroke-linecap="round" fill="none"/><path d="M52.2 197.8h0m-1.9 4.1h0m1.6 .9h0m1.6 .2h0m-1.6 .6h0m.7 .6h0m-5.4 .3h0m6.6-.2h0m1.9 .4h0m-8.3 .4h0m7.4 .4h0m-.9 .9h0m1.4 .1h0m-9.3 .7h0m10.4-.2h0m-12.7 .3h0m1.9 .3h0m7.8-.2h0m-8.2 1.1h0m2.5 .1h0m2-.1h0m1.3-.2h0m-5.8 .7h0m5.3-.2h0m1.4 .7h0m-6.1 .3h0m3.3 .4h0m-2.7 .5h0m3-.4h0m-7.4 .6h0m3 .1h0m5.6 0h0m.5 0h0m1-.2h0m-.2 .6h0m1.7 .3h0m5-.1h0m-13.4 .4h0m4.3-.2h0m.3 .1h0m8.7 .1h0m-1.7 .5h0m-16 .6h0m3.3-.3h0m2.4 .2h0m.3 0h0m6.5-.2h0m-5.4 .7h0m.8 .1h0m3.3-.3h0m2.2 .2h0m3.8-.2h0m-14 .5h0m1.2 .4h0m8.2-.3h0m6.4 .1h0m-19.2 .7h0m5.3-.4h0m9.2 0h0m-7.5 .8h0m1.8-.1h0m-7.7 .5h0m2.7 0h0m2-.2h0m.5 .2h0m9.6 0h0m2.3 .2h0m-11.7 .1h0m-3.4 .9h0m4.1-.1h0m3 .1h0m6.8-.1h0m.8-.1h0m-13.3 .5h0m.7 .2h0m14.2-.4h0m-18.6 .7h0m3.3 .2h0m5.9-.3h0m1.2-.1h0m8.1 .2h0m-20.7 .5h0m6-.1h0m6.1 .3h0m2.7-.4h0m3 .2h0m.5 .2h0m-19.2 .4h0m1.4-.1h0m2.3-.2h0m6.7 .3h0m5.7 .1h0m-14.9 .4h0m16 .1h0m2.1-.4h0m-17.7 .5h0m10.9 .1h0m1.6 .2h0m.5-.3h0m-9.1 .7h0m6-.2h0m-12.5 .5h0m6.3 .1h0m8 .2h0m1.9-.2h0m-11.6 .8h0m5.8-.1h0m.2 .1h0m-9.4 .5h0m2.6-.2h0m2.6 .2h0m14.2 0h0m-16.3 .2h0m.7-.1h0m2.9 .3h0m-6.2 .3h0m12.4 0h0m6.9-.1h0m-15.8 .6h0m2.3 0h0m1.4 0h0m2.7-.1h0m8.6 .1h0m-10.8 .4h0m6.1 .3h0m4 .1h0m-18.3 .4h0m4.5-.2h0m3.7 .3h0m1.2 0h0m-5.8 .3h0m1.1-.2h0m9.1 .1h0m3.8 0h0m-14.2 .4h0m3.7 .2h0m3.6 0h0m1.1-.1h0m2.9-.1h0m-12.2 .9h0m3-.3h0m6.6 .1h0m6.2-.1h0m-9.2 .4h0m1.5 .3h0m6.2 .1h0m1.3 0h0m-20.2 .2h0m.9-.1h0m2.5 .2h0m1.3-.2h0m3.3 .4h0m3.1 0h0m2.9-.2h0m2.4-.2h0m2.8 .3h0m3-.2h0m-14.7 .4h0m2.8 0h0m.4 0h0m-5.2 .6h0m.6 .3h0m3-.4h0m1.2 .2h0m1.2 0h0m2.4 .2h0m9-.2h0m-23.4 .4h0m6.1 0h0m7.9 .1h0m.5-.2h0m2.3 .3h0m3.6 .1h0m-19.1 .5h0m4.5 0h0m3.9-.3h0m8.6 .1h0m1-.1h0m1.8-.1h0m-13.5 .9h0m2.1 0h0m2.3-.2h0m5.6 .1h0m-7.9 .2h0m5.5 .3h0m8.8 0h0m-23.1 .6h0m3.7-.3h0m11.4 .3h0m2.6-.4h0m-8.5 .9h0m6.8-.3h0m-14.8 .8h0m8.2-.2h0m8.8 .1h0m4.4-.2h0m-20.5 .4h0m5.4 .2h0m6.3-.2h0m3.9 .2h0m5-.2h0m-18.3 .6h0m3.5 .3h0m.6-.4h0m2.3 0h0m.8 .2h0m6.2 0h0m-11.6 .4h0m2.4-.1h0m4.4 .1h0m2.8 .1h0m1.2 .2h0m-10.3 .1h0m.7 0h0m.4 .3h0m1.2-.3h0m1.5 .1h0m-5.7 .5h0m4.7 .3h0m5.7 0h0m.9-.2h0m-10.7 .5h0m-1.9 .3h0m8.8 .2h0m7.6 0h0m-15.9 .6h0m1.9-.1h0m1.8-.2h0m8.7 .4h0m.5 0h0m1 0h0m.2 0h0m1.4-.4h0m-7.9 .9h0m.5-.4h0m-5 .9h0m1.8-.3h0m6.2-.1h0m.4 .9h0m-7 .4h0m4-.2h0m1-.1h0m-10 .5h0m5.5 .7h0m1.4 .5h0m-3.4 .7h0m6.1-.3h0m-2.6 .6h0m3.3 .1h0m-.2 .5h0m-3 .9h0" stroke="#142e47" stroke-width="3.30" stroke-linecap="round" fill="none"/><path d="M50.9 195.7h0m.3 2.6h0m-1.3 1.1h0m1 .4h0m1.8 .4h0m-3.7 .7h0m4.9 .1h0m-3.6 .9h0m3.7 .1h0m-2.4 1.3h0m3.2 .4h0m-7.2 .2h0m6.7 .2h0m-5.5 .3h0m-1.4 2h0m4.8 .4h0m2.5 .3h0m-9.5 .4h0m.2-.1h0m0 .5h0m4.6 .6h0m1 0h0m2.9 .1h0m-2.3 .6h0m1.2-.2h0m-9.3 .4h0m1.9-.1h0m-2.1 .6h0m8.9-.1h0m3.5 0h0m-9.4 1.3h0m2.6-.3h0m.6 .1h0m1.7 0h0m1.7 .3h0m.4 0h0m-7.1 .4h0m2-.2h0m.7 .3h0m3.8 .3h0m1.8-.1h0m-10.2 .5h0m-1.8 .6h0m14.3 .4h0m-16.5 .7h0m.8-.3h0m5.7 .3h0m2.8-.3h0m5.7 .9h0m-10 .2h0m5.9 0h0m.5 .3h0m8.6-.2h0m-8.5 .7h0m-8.1 .2h0m-4.3 .6h0m4.9 0h0m1.7 0h0m.8 0h0m.5 .2h0m6.9-.1h0m.4-.2h0m-6.8 .5h0m6.8 .2h0m-16.2 .3h0m2.3 .1h0m11.9 .1h0m.7-.2h0m-3.6 .7h0m6.6 .4h0m.6 0h0m1.3 .2h0m-11.6 .4h0m-6.6 .5h0m3.8 .1h0m3.3-.2h0m1.1 .1h0m6.9-.2h0m1.2 0h0m-13.5 .8h0m9.4-.3h0m7.3 .3h0m-16.6 .3h0m.6-.2h0m2.7 .4h0m10.2-.2h0m4.8 0h0m-16.8 .6h0m15.7-.1h0m-17.5 .3h0m18.1 .3h0m-14.2 .5h0m6.8-.3h0m5.2 .1h0m-15.5 .5h0m2-.1h0m7 .3h0m1.2-.1h0m4.2 .1h0m-13 .2h0m6.9 .4h0m3.5-.3h0m-10.6 .5h0m1.9 .3h0m3.7-.2h0m7.4-.2h0m-12.4 .6h0m1.4 .3h0m8.6-.3h0m5.7-.1h0m-23.1 .9h0m1.5 0h0m4.7 0h0m1.7 0h0m2-.1h0m3.6 0h0m1.1-.1h0m.6 .1h0m-10.5 .5h0m2 .1h0m2.3-.2h0m1.3 0h0m7.4-.2h0m-9.1 .6h0m1.4 .2h0m7.3 0h0m.3-.1h0m1.1-.1h0m-15 .8h0m.4-.4h0m14.2 .4h0m1.3-.1h0m1.5 0h0m-12.7 .6h0m8.3-.1h0m.3 .1h0m-14 .4h0m7.3 .1h0m1.5-.2h0m-5.6 .6h0m.4-.2h0m1.6 0h0m10.7 .3h0m-19.9 .1h0m9.4 .3h0m.6-.3h0m4.8 .3h0m7-.3h0m-18.1 .8h0m2.7-.1h0m2.4 0h0m1.3 .2h0m1.5-.3h0m3.6-.1h0m-7.6 .5h0m12 .2h0m1.7-.2h0m-14.9 .7h0m1.3-.2h0m2.6 .2h0m6.1-.2h0m2.6 0h0m-11.3 .5h0m4.5 .2h0m6.6 .2h0m.1-.4h0m-12.2 .9h0m7.9 0h0m7.9-.4h0m-18.2 .5h0m2.2 0h0m6.8 .3h0m1-.1h0m2.1-.2h0m1.7 .1h0m1 .1h0m1.2-.2h0m-17.6 .8h0m1.4-.3h0m11.5 .3h0m4-.2h0m2.3 .3h0m-19.2 .3h0m14-.1h0m3.6 .1h0m-12 .5h0m6.6 0h0m-7.9 1h0m6.6-.1h0m-10.2 .7h0m5-.3h0m2.2 .1h0m4.9 .3h0m-2.1 .5h0m7.4-.4h0m3.7 .1h0m-20.7 .4h0m.7 .2h0m9.4 .1h0m3.7-.3h0m-14.2 1.3h0m6.6-.2h0m1.8-.1h0m1.7 .3h0m-4.5 .5h0m4.2-.1h0m1.9 .4h0m1-.1h0m-9.2 .6h0m1.9 .8h0m1.6 0h0m1.4-.4h0m-2.5 1.4h0m1.4-.2h0m-1.8 .7h0" stroke="#16314b" stroke-width="3.30" stroke-linecap="round" fill="none"/><path d="M51.4 196.9h0m13.2 3.2h0m-15.7 .4h0m4.4 1.9h0m-4.2 1.1h0m4.9 .2h0m-6.7 .7h0m1.3 .8h0m-1.4 .3h0m7.2 .8h0m1.7 1.4h0m-12.4 .3h0m19.2 .2h0m-15.9 .4h0m2.7-.1h0m3.4 .1h0m5.2 .1h0m-.3 .3h0m1.7 .7h0m-17.6 .4h0m7.7-.3h0m16.7 .5h0m-17.4 .7h0m6.1 .1h0m2.9 .6h0m.5-.4h0m.7 0h0m-4.9 1.4h0m6.7 .5h0m-1.7 .2h0m1.5 .3h0m-8.1 .5h0m9.7-.1h0M40 216.2h0m20.4-.1h0m.4-.3h0m1.4 .4h0m.1 0h0m-4.8 .2h0m-16.3 .7h0m21.1-.2h0m.8 0h0m-14.4 .7h0m11.9-.1h0m2.6-.1h0m.3 .7h0m-8 .2h0m5.8 .2h0m-19.3 .6h0m14.6-.3h0m3.5 .1h0m.8 .1h0m1.4 .1h0m-21.9 .2h0m10.2 0h0m12.4 .1h0m-13.9 .7h0m.7-.3h0m11 .2h0m.2 .6h0m.8-.2h0m.8 .1h0m1.4 0h0m-25.3 .6h0m7.7-.1h0m13.6-.2h0m1 .6h0m1.1 .3h0m-23.5 .5h0m23.5-.4h0m2.4 .4h0m-2.5 .1h0m-.2 .7h0m1.2-.2h0m1.6 .4h0m-13.3 .2h0m3.7 .2h0m6.9 .1h0m-12.9 .1h0m3.9 .2h0m1.7 .1h0m-11.5 .4h0m17.5 .2h0m.8-.1h0m.6-.1h0m-25.8 .4h0m4.1 0h0m15.3 .1h0m6.4-.2h0m2.2 .3h0m5.2 .5h0m-25.2 .2h0m10.1 3.8h0m-9.8 .4h0m1.4-.1h0m5 0h0m-9.8 .5h0m-.8 .9h0m15.3 .3h0m-11.3 1.1h0m11.2 .2h0m1.6 1.6h0m-4.8 .3h0m1.1 0h0m-1.6 .5h0m-11.5 .7h0m10.4 .4h0m.6-.1h0m-10.8 .5h0m3.8 .4h0m6.1-.2h0m-2.4 .4h0m.5 1.5h0m1.6 .2h0" stroke="#18344f" stroke-width="3.30" stroke-linecap="round" fill="none"/><path d="M51.4 190.2h0m.5 8.1h0m-1 4.6h0m11.1 2.9h0m6.3 .9h0m.5 .3h0m-5.4 .7h0m5.1 .5h0m-5.8 .7h0m4.2 0h0m1.3 .3h0m-3 .7h0m.4 .3h0m3.5-.3h0m-6.1 .6h0m2.2-.1h0m3.3 .2h0m-2.7 .2h0m-2.4 .7h0m1-.2h0m2.9 .9h0m1.5-.4h0m-3.7 .7h0m.3-.1h0m1 .1h0m.6 0h0m.4 0h0m-3.6 .4h0m4.6 .2h0m-2.1 .2h0m2.8 .1h0m-4.9 .5h0m-1.2 .6h0m1.5 .1h0m-.8 .7h0m0 1.4h0m3.3-.3h0m.6 .3h0m-.3 .4h0m2.4-.3h0m3.7 .3h0m-9.7 .5h0m1.5-.3h0m5.6 .4h0m-3 .1h0m1.1 .4h0m.1 .2h0m-5.1 .9h0m1 0h0m4.3 .3h0m-2.4 .6h0m1.7 .3h0m2.1 .2h0m.7-.1h0m-6.3 1.6h0m1.5-.3h0m1.2 .1h0m2 .2h0m.1 .4h0m.8 .6h0M67 224h0m1.9 0h0m3.2-.2h0m-5 2.8h0m6.7 1.2h0m-1.9 1.5h0" stroke="#193753" stroke-width="3.30" stroke-linecap="round" fill="none"/><path d="M69.9 204.4h0m-1 .5h0m7 0h0m-1 1.3h0m-5.7 .3h0m-8.6 .3h0m13.5 .9h0m-1.3 .7h0m1.1 .3h0m-1.6 .5h0m2 0h0m1.9 0h0m.3 0h0m-.7 .9h0m1.3-.3h0m-2.5 .5h0m2.1 .6h0m-6.1 .7h0m1.4 .1h0m.5 0h0m1.5-.1h0m2 0h0m2-.2h0m-5.3 .8h0m1.4-.4h0m2.6 0h0m-1.8 .5h0m3 .2h0m-3.1 .4h0m2.4 .2h0m-6.4 .5h0m2.9 .1h0m4.2-.4h0m-6.1 .6h0m3.2-.1h0m1.7 .2h0m.8 .1h0m-4.6 .3h0m.7 .7h0m.5 .1h0m4.4-.2h0m-17.9 1.1h0m11.1 0h0m1.2-.3h0m2.2 .4h0m2-.2h0m.6 0h0m-1.3 .6h0m-4 .6h0m.7 0h0m-.5 .5h0m3.4-.1h0m1.7-.1h0M72 218h0m6.5 .1h0m-4.6 .2h0m5.6 .4h0m-6.1 .2h0m.8 0h0m-1.8 .5h0m5 .4h0m-4.6 .5h0m1 .4h0m2.2-.2h0m-2.5 .5h0m.4 .1h0m5.2 .8h0m-5.4 .7h0m2.2-.1h0m1.5-.1h0m-2.2 .7h0m1.5 .1h0m-3.3 .2h0m-17.5 21h0" stroke="#1b3a57" stroke-width="3.30" stroke-linecap="round" fill="none"/><path d="M83.9 193.5h0M71 194.8h0m-1.2 1.3h0m10.2 3.4h0m2.2 4.1h0m-2 .3h0m-1.6 1.2h0m1.1-.1h0m3.3 0h0m-6.3 .7h0m3.3 .3h0m1.9-.1h0m0 .4h0m-4.5 .9h0m2.9-.3h0m.8 .2h0m1 0h0m-1.8 .6h0m-1.2 .8h0m.3-.1h0m2.3 .2h0m-4.2 .8h0m3.8-.1h0m3.5 .4h0m-4.9 .2h0m2.3-.1h0m1.4 .8h0m-5.7 .4h0m1.3 .2h0m-1.2 .3h0m.8-.2h0m1.1 .3h0m4.3-.2h0m-5.7 .6h0m.8 .1h0m5.2-.2h0m-3.6 .5h0m.8-.1h0m.5 .8h0m1-.1h0m.3 .1h0m-3.5 .5h0m.8 .1h0m3.9 .3h0m-4.2 .3h0m.2 .5h0m.5 .1h0m1 0h0m2.7 .4h0m1.3 .2h0m-7.1 .6h0m.7 .4h0m2-.1h0m2.8 0h0m.8 0h0m-5.1 .8h0m5.6 0h0m-2.9 .5h0m.5-.2h0m3 .7h0m-4.7 .1h0m2.6 .3h0m-.6 .5h0m-3.9 .3h0m5.4-.1h0m-3.8 .5h0m2.1 .1h0m-3.8 .8h0m3.1-.4h0m.4 .3h0m-2.8 1h0" stroke="#1c3d5b" stroke-width="3.30" stroke-linecap="round" fill="none"/><path d="M75 181.6h0M88.4 192h0m0 8.4h0m1.1 2.5h0m-1.2 1.1h0m2.1-.1h0m-4.7 1.3h0m.6-.3h0m1 .3h0m3.4-.1h0m-4.9 .6h0m3.8-.1h0m-2.3 .3h0m1.4 .6h0m1.2 .1h0m1.8 .1h0m-2.2 .1h0m.3 .2h0m.9-.2h0m-5.7 .7h0m3.9 .6h0m1.5-.2h0m.6 0h0m-4.2 .8h0m-1.6 .5h0m3.2-.2h0m3 0h0m-4.2 .3h0m1.5 .4h0m1.2-.2h0m-3.9 .7h0m1.2-.4h0m.6 .1h0m4.6 .2h0m-5.5 .5h0m1.8 0h0m-2.8 .5h0m.8 0h0m1-.2h0m1.2 .2h0m2.7 .1h0m1.3-.4h0m0 .9h0m-6.9 .2h0m.4 0h0m5.2 0h0m.5 .2h0m1.3-.2h0m-4.3 1h0m-2.3 .6h0m6.6 .7h0m-6.4 .2h0m2.7 .1h0m-2.5 .5h0m3.8 .1h0m-4.5 .4h0m.5-.2h0m2.4 0h0m4.2 .1h0m-6.1 .4h0m.6 .3h0m-.6 .2h0m.4 0h0m3.4 0h0m3.4 .8h0m-.2 .4h0m-1.3 .7h0m.1-.3h0m-2.8 .7h0m2.5 .4h0m-1 1.3h0m.8 0h0m5.3 3.9h0m-1.4 .9h0" stroke="#1e405f" stroke-width="3.30" stroke-linecap="round" fill="none"/><path d="M79.8 196.1h0m12.8 4.4h0m4.6 0h0m-3.2 .6h0m2.8 .1h0m-1 .4h0m-4.9 .3h0m1.2 .1h0m4-.2h0m1.5 .6h0m.1 .5h0m1.1 0h0m-2.9 .4h0m-2.1 1h0m-.8 .9h0m5.3-.2h0m-3.7 .8h0m3.5 0h0m.8 .1h0m.8 .1h0m-5.5 .6h0m1-.1h0m3.4 0h0m-4.9 .7h0m1.1-.4h0m-2.1 .6h0m.8 .2h0m4.2 .1h0m1.5-.3h0m-5.4 .4h0m.9 0h0m3.8 .1h0m-5.1 1.2h0m1.3-.3h0m.5 .3h0m.2 .2h0m1.3 .1h0m.1 .1h0m.8-.2h0m-1.2 .6h0m2.1 .3h0m.6-.4h0m-4.2 .9h0m.5-.1h0m.5 .6h0m.6 0h0m.9 .1h0m.9 0h0m1.9 0h0m-3.4 .6h0m1.4 .3h0m3.5 .1h0m-6.4 .6h0m2.5 0h0m1.5 0h0m-2.6 .5h0m-.9 .6h0m1.6 .7h0m.5-.3h0m-1.8 .4h0m3.5 .4h0m-1.1 .2h0m3.9 0h0m-2.6 .4h0m1.5 .4h0m-6.2 .4h0m3.1 3h0m3.2-.3h0m-1.6 2.2h0" stroke="#1f4364" stroke-width="3.30" stroke-linecap="round" fill="none"/><path d="M94.7 194.1h0m3.6 2h0m2.8 2.5h0m2.8-.1h0m.9 .1h0M99 199h0m3.6 0h0m-4.2 .7h0m5.5-.2h0m-3 .5h0m-2.2 .6h0m.8 .6h0m1.5-.3h0m-.6 .7h0m.4 .5h0m-8.7 .8h0m12.6 0h0m-3.4 .7h0m.6-.3h0m1.2 .9h0m3.3-.4h0m-5.5 .8h0m1.9 .1h0m.7 0h0m1-.3h0m-.4 .4h0m1 .4h0m2.1 0h0m-2.4 .5h0m2.5 .1h0m-.2 1h0m-3.9 .6h0m1 0h0m.4 .1h0m3.4 .2h0m.3-.3h0m-5.1 .4h0m4.5 .3h0m-6.9 .3h0m1.6 0h0m1.2 .2h0m4.5-.2h0m-6.2 .5h0m2.4-.1h0m2.1 .1h0m.7 .4h0m.5 .1h0m.4 .2h0m-5.3 .4h0m1.1 0h0m1 .6h0m3.6 0h0m-6.7 .8h0m1.1 .2h0m0 .5h0m2 .4h0m.8 .7h0m-1.7 .1h0m2.6 .3h0m1.2 .2h0m-1.2 2.1h0m2.5 3h0m2.6 .9h0" stroke="#214668" stroke-width="3.30" stroke-linecap="round" fill="none"/><path d="M109.3 191.5h0m-5.5 1.3h0m7 4.5h0m.5 .1h0m-2.7 .6h0m3.3 .6h0m-6.7 .2h0m1.3 .5h0m3.4 .4h0m1.9 .3h0m.7-.1h0m-3.4 .8h0m1.2 .1h0m.9 .2h0m.5 0h0m1.8 .1h0m.7 .1h0m-6.4 .1h0m3.1 0h0m.6 .3h0m.3 .1h0m-1.4 .5h0m1-.4h0m.5 .4h0m.9 0h0m.5-.2h0m.6 .2h0m-.3 .6h0m-4.9 .6h0m2.7 0h0m2.1 .3h0m-5 .3h0m4.8-.1h0m-4.9 .7h0m.7-.1h0m-1.5 .6h0m2.7-.3h0m.5 .3h0m3.6 .1h0m-4.3 .4h0m2.7 0h0m2.1-.3h0m-5.7 .5h0m2.2 0h0m-.9 .9h0m1.5 .5h0m2.1-.4h0m2 .1h0m-3.5 .4h0m.7 0h0m.8 .2h0m-.2 .4h0m1.1 .4h0m-3 .7h0m3.3-.1h0m.5 0h0m1.4 0h0m-6.1 .7h0m2.2-.2h0m.6 .1h0m1.9 .2h0m1.6-.3h0m-7.2 .8h0m3.5 0h0m2-.1h0m.4-.3h0m-4.4 .6h0m2.4 .3h0m.3-.4h0m-3.3 1.2h0" stroke="#22496c" stroke-width="3.30" stroke-linecap="round" fill="none"/><path d="M109.1 180.8h0m4.2 1.8h0m-1.8 9.6h0m2-.4h0m4.5 5.2h0m2.8 .2h0m-5.7 .2h0m2.8-.1h0m.9 .3h0m2.2 .4h0m-3.2 .5h0m1.6 .1h0m1.2 0h0m-2.2 .5h0m-3.2 .2h0m1 0h0m5.5 .1h0m-13.9 .5h0m8.3-.1h0m2.9 .2h0m-3.9 .5h0m1.2 .1h0m5.7 .5h0m-2.2 .5h0m-5.2 .6h0m2.3 0h0m1.3 0h0m2.8-.4h0m-4.3 .8h0m1.2 0h0m2.9 .5h0m-5.5 .6h0m.9-.4h0m1.4 .6h0m-.4 .6h0m1.2-.1h0m.6 0h0m-.3 .8h0m1.6-.3h0m1-.1h0m-3.2 .6h0m2.5 .7h0m-3.5 .4h0m1.9 .2h0m1.5-.3h0m2.4-.1h0m.6 .4h0m-6.1 .4h0m3.1 .3h0m3.4 .3h0m-4.3 .9h0m.4 .3h0m4.2 .2h0" stroke="#244d70" stroke-width="3.30" stroke-linecap="round" fill="none"/><path d="M117.5 181.3h0m.8 1.8h0m-.9 6.7h0m9.7 3.3h0m-6.6 .2h0m1.7 .3h0m-.4 .6h0m.2 .3h0m1.2 .7h0m4-.1h0m-6.6 .2h0m7.9 1.7h0m-6.1 .7h0m1.1-.3h0m1.1 .1h0m-2.5 .6h0m1.2-.2h0m2.4 .8h0m3.9 1h0m-5.9 .2h0m2.8 0h0m-1.3 1h0m-.8 .5h0m2.1 0h0m1.1 0h0m1.4 .3h0m-4.6 .1h0m.6 .2h0m1.6-.2h0m1.9 .9h0m2.5 0h0m-2.9 .5h0m2.3 0h0m-6.5 .4h0m1.5 .5h0m1.3-.1h0m-2.4 .7h0m-.1 .1h0m1 1.9h0" stroke="#265075" stroke-width="3.30" stroke-linecap="round" fill="none"/><path d="M123.3 183.1h0m-1.5 2.6h0m5-.1h0m-.7 3.9h0m6.3-.2h0m1.9 .7h0m-4 .5h0m1.6 .2h0m-4.7 .4h0m2.5-.3h0m.9 .3h0m-2.9 .3h0m2.8 .4h0m-1.4 .7h0m1.8 .4h0m-1.6 1.1h0m3.8 .3h0m2.4 .2h0m-6.6 .5h0m-.6 .3h0m2.3 .6h0m.8 .2h0m.9-.1h0m1.1-.1h0m-4.6 .5h0m.3 .5h0m1.5 .1h0m2.1-.2h0m-.6 1.4h0m0 .5h0m1.8-.4h0m-2.4 1h0m2.2 .2h0m.5-.1h0m-.4 .6h0m1.6-.1h0m-3.8 .6h0m-.8 .4h0m1.8 .3h0m2.9 .7h0m0 .5h0m-.2 .8h0m-2.7 .1h0" stroke="#275379" stroke-width="3.30" stroke-linecap="round" fill="none"/><path d="M135.8 187h0m-.4 .5h0m2.5 0h0m3.5 .6h0m-4.9 2.4h0m.1 .3h0m2.5 .3h0m3.8-.1h0m-6.8 1.6h0m4.6 .1h0m2.4-.1h0m.1 .4h0m-4 .7h0m2.1-.3h0m2.6 .1h0m-7.4 .4h0m3-.1h0m1.7 .1h0m2.2 .9h0m-5.9 1.7h0m5.6 0h0m1.9 .2h0m-6.5 .3h0m2.8 0h0m3.8 .5h0m-2.9 1h0m-3.3 .6h0m.8 2h0m2.3 5.2h0" stroke="#29567d" stroke-width="3.30" stroke-linecap="round" fill="none"/><path d="M142.8 167.8h0m-4.3 13.4h0m6.2 3.1h0m-1.7 .6h0m4 .1h0m1.1 0h0m-3.7 .4h0m2 .6h0m.8 .2h0m-4.8 .9h0m5.7-.1h0m-.1 .3h0m-2.6 1.2h0m3.9 .1h0m-6.5 .4h0m2.7 .1h0m-2.1 .4h0m7.2-.2h0m-3 .6h0m1.6 0h0m-2.3 .8h0m4.2 0h0m-7.8 .4h0m2.5-.1h0m4.6 0h0m-6.1 1h0m6.2 1.1h0m-1.2 1h0m-.7 .6h0m-.5 1.3h0m-.6 1.6h0m3.5 2.3h0" stroke="#2a5a82" stroke-width="3.30" stroke-linecap="round" fill="none"/><path d="M149.1 163.5h0m4.2 16.1h0m-10.8 1.4h0m6.6 1.6h0m3.6 1.6h0m1.7-.4h0m-4.3 1.2h0m5.1 .3h0m-4.8 .5h0m2.1 .5h0m-.4 .5h0m3.8 .1h0m-6.1 .8h0m.5-.3h0m.6 0h0m0 .4h0m2.4 0h0m2.3 .8h0m1.2-.1h0m-5.4 1.1h0m6.2-.3h0m-4.6 .6h0m2.2 .2h0m1.6-.2h0m-5.3 .6h0m6.7-.2h0m-4.5 1.4h0m4.3 1h0m2.2 .8h0" stroke="#2c5d86" stroke-width="3.30" stroke-linecap="round" fill="none"/><path d="M155.1 161.7h0m3.3 1.1h0m-8 13.6h0m-2.8 .9h0m3 .9h0m5 1.9h0m3.6 .1h0m1.7-.2h0m-3.1 .8h0m0 1.5h0m1 .1h0m.9 1h0m-6.2 1.2h0m6.4-.2h0m.7 .1h0m-3.4 .4h0m3.5 0h0m1.9 0h0m2.9 .1h0m-6.5 .3h0m4.9 .7h0m-.6 2.2h0m-.8 .8h0m0 .3h0m-1.2 .8h0m-3.1 .2h0m3 3h0" stroke="#2e608a" stroke-width="3.30" stroke-linecap="round" fill="none"/><path d="M167.4 150.5h0m-3.7 2h0m-12.3 17h0m.9 0h0m13.1 4.6h0m-1.2 1.7h0m5.2 2.3h0m-12.5 1.5h0m13.4 2.6h0m-3.8 .1h0m.9 .3h0m-7.8 1.8h0m6.6 .1h0m-6.4 .6h0m4.5 3h0m2.1 .1h0m-1.4 1.9h0" stroke="#2f638f" stroke-width="3.30" stroke-linecap="round" fill="none"/><path d="M181.4 160.7h0m-5.5 .7h0m-13.4 12.3h0m11 .3h0m-3 .6h0m-.7 .3h0m10 .8h0m-11.9 8.6h0" stroke="#316793" stroke-width="3.30" stroke-linecap="round" fill="none"/><path d="M178.6 144.9h0m2.5 1h0m-6.8 1.4h0m2.7 1.4h0m1 2.5h0m-1.1 1.7h0m-1.9 1h0m3.3 1.6h0m-2.1 1.6h0m4.5 .6h0m1.6 .2h0m2.8 15.2h0m-1.9 2.4h0m5-.2h0m-2.6 1.6h0m-.1 .9h0m-6 1.2h0m3.4 2.6h0m-.9 7.5h0m.6 .1h0" stroke="#336a98" stroke-width="3.30" stroke-linecap="round" fill="none"/><path d="M172.5 129.5h0m1.1 0h0m3 0h0m4.9 .9h0m-1.2 .6h0m-8.2 1.4h0m6.7 3.5h0m-.3 5.9h0m-5.1 .9h0m7 .2h0m1.3 0h0m-4.8 .5h0m11.7 20.9h0m2.6 6h0m3 6.9h0m-3 .9h0m-.2 .2h0m3 .1h0m3 1.1h0m-8.6 .9h0m3.3 .7h0m-6.2 .9h0m5.4-.1h0m.4 .9h0m-.1 .7h0m.1 .2h0m.2 .5h0m-6.4 .9h0m6.1 .2h0m-3 .8h0m.3 .3h0m2.8 0h0" stroke="#346e9c" stroke-width="3.30" stroke-linecap="round" fill="none"/><path d="M182.4 103.8h0m-3.6 .5h0m6.8 1.8h0m-6.8 5.2h0m1.9 1.5h0m-5.2 5.7h0m3.8-.2h0m-6.6 1.9h0m1 2h0m-1.9 1h0m.2 1.9h0m6.9-.2h0m-.8 .9h0m23.1 43.5h0m-3 2.3h0m1.8 10.2h0m-3.1 .6h0m-2.7 .6h0m5.9 .1h0m-2.9 .8h0m-3.1 1.7h0m5.9 0h0m-5.8 1.3h0m-.4 .9h0m6 1.2h0m-.1 .7h0m-5.7 .4h0m.3 .1h0" stroke="#3671a1" stroke-width="3.30" stroke-linecap="round" fill="none"/><path d="M179.2 96.8h0m-1.4 7.9h0m-1 1.2h0m4.5 .6h0m-6.2 .4h0m2.8 .2h0m5.1-.1h0m-7.6 .6h0m6.4-.3h0m-3.7 .8h0m3.7 0h0m1.6 0h0m-3.7 1.1h0m3.7-.3h0m-4.3 1.1h0m4.5-.1h0m-1.3 1h0m-4 .5h0m.7-.1h0m-.9 1.2h0m1.2 .2h0m1 .4h0m-.6 .2h0m.1 .1h0m-1.1 .5h0m28.6 58.8h0m2.7 2.5h0m-7.1 2.1h0m.4 0h0m5.2 .2h0m.1 1.9h0m-3.3 .5h0m3.3 .4h0m-2.8 1.3h0m.3 .6h0m-2.8 .1h0m2.4 0h0m-3 .6h0m3 .9h0m-3.1 .7h0m6.1 .1h0m-5.6 .3h0m2.9 .3h0m3.1-.4h0m-6.3 .6h0m.3 .4h0m2.6 .1h0m-2.9 .6h0m3.1 0h0m-.2 .4h0m-.1 .8h0m.4-.1h0m0 1.3h0m-.1 .5h0m.4 .1h0m-6.2 .3h0m2.5 .3h0m3-.1h0m0 1.4h0m-2.7 .7h0m2.7 .5h0m-.1 2.4h0m.2 .3h0" stroke="#3874a6" stroke-width="3.30" stroke-linecap="round" fill="none"/><path d="M173.3 81.9h0m7.9-.1h0m-8.7 .5h0m7.2 .2h0m.5 0h0m-8.7 .3h0m3.7 .2h0m.8 .2h0m-6.2 .1h0m11.7 .2h0m1.2 .2h0m-1.4 .5h0m-11.8 .2h0m1.7 .2h0m1 .6h0m4.6 0h0m6.7-.3h0m3.4 .5h0m-8.5 .4h0m9.5 .5h0m-14.5 .6h0m-3 .5h0m2.5 0h0m3.2-.1h0m8 .3h0m-8 .9h0m1.6 .3h0m.5 .3h0m8.1 .1h0m-12.1 .2h0m1 .7h0m4.6-.2h0m3.6 .3h0m-11.4 .2h0m2.9-.1h0m.7 .4h0m13.4-.1h0m-1.2 .6h0m-9.1 .5h0m-7.5 .1h0m19.4 .4h0m-18.1 .1h0m1.5 .1h0m.3 1.1h0m14.6-.2h0m-5 .5h0m-6.3 .6h0m1.6 .3h0m.7-.4h0m8.1 .2h0m.5 .5h0M178 96.5h0m9.5 .1h0m-5.4 .4h0m5.5 .1h0m-11.5 .3h0m7 0h0m.2 .5h0m5.5 .3h0m-17 .3h0m.7 .1h0m5.2-.1h0m.9 .1h0m8.8-.3h0m-13.1 .6h0m1.8 .3h0m.8-.1h0m4.1-.2h0m-6.3 .6h0m11.4 .2h0m-11.3 .3h0m6.4-.2h0m-1.7 1.4h0m2.2-.1h0m-.8 .5h0m4.3 .2h0m-5.7 .7h0m.6-.2h0m2.3 0h0m-.7 .5h0m.9 0h0m-1.4 1h0m33 68.4h0m-4.1 4.5h0m1.5 .9h0m5 .2h0m3.8 .9h0m-2.9 .2h0m-5.7 2.2h0m2.8 .5h0m-3.2 2.9h0m-.3 .7h0m3.3 0h0m-5.6 .8h0m3.1 .2h0m2.6 0h0m-5.5 1h0m3 0h0m-3.3 .1h0m3.2 .3h0m2.5-.3h0m-5.9 .9h0m5.6-.2h0m.5 .1h0m-3.1 .3h0m2.9 .3h0m.4 0h0m-6.2 .1h0m2.9 0h0m0 .7h0m.4 .2h0m2.3-.2h0m.1 .1h0m-5.8 .9h0m6.3 .1h0m-.4 .2h0m-7.3 .5h0m4.6 .4h0m-2.8 1.9h0m2.1-.1h0m.6 .8h0m2.9 0h0m-3 1h0m-3 1.2h0m3 1h0m-3.1 .5h0m3.5 1.8h0" stroke="#3a78aa" stroke-width="3.30" stroke-linecap="round" fill="none"/><path d="M176.4 80.6h0m6.9 1.5h0m-11 .3h0m-1.2 .6h0m9 .5h0m-9.5 .3h0m6.4 0h0m5.4 .2h0m-12.3 .3h0m10.4 1.3h0m3.4-.2h0m1 .1h0m1.6 0h0m-17.2 .6h0M172 86h0m1.7 .2h0m4-.1h0m2.6 0h0m5-.2h0m-7.5 .6h0m-9.7 .3h0m.3 .4h0m4.6 0h0m10.9-.2h0m-14.5 .5h0m8 .2h0m1.4-.1h0m6 .1h0m1.1 0h0m-13.8 .4h0m.5 .1h0m-2.5 .3h0m2.4-.2h0m-3 .7h0m14.1-.2h0m3.2 .3h0m-9.3 .4h0m5.1 0h0m.7 0h0m3.1-.2h0m-13.7 .6h0m.2 .1h0m12.7-.2h0m-8 .5h0m4.2 .1h0m5.8 .2h0m-14.2 .5h0m11.6 .1h0m2.1-.2h0m-17.6 .3h0m4.8 0h0m1.2 0h0m.7 .1h0m.9 0h0m8.9 .1h0m-17.2 1h0m.7-.1h0m.9 .3h0m9-.3h0m8.5 .1h0m2.4 .1h0m-21 .5h0m8.3-.1h0m9.5-.1h0m-16.9 .7h0m13.3-.2h0m5.7 .2h0m-12.9 .2h0m5.8 .1h0m4.1 0h0m-8.9 .5h0m11 .3h0m-14.5 .4h0m6 .1h0m4 0h0m-8.2 .2h0m9.4-.1h0m-13.2 .8h0m8.6 .5h0m4.9-.3h0m-8.5 .6h0m.3 .5h0m-4.6 .7h0m.9-.3h0m3.2 .1h0m-4.4 .6h0m1.6 0h0m4.8 0h0m5.3 .2h0m-8 .4h0m3.7 0h0m9.9-.3h0m-16.9 .6h0m3.6 0h0m.1 0h0m9-.1h0m-11.5 .6h0m3.6 .3h0m-2.7 .5h0m9.4-.4h0m-5.4 .5h0m0 .6h0m5.3 .2h0m-6.8 .4h0m4.2 .7h0m-.7 .1h0m-1.5 1h0m46.7 76.3h0m-5.6 1.4h0m.2 2.1h0m-3.3 .4h0m6.4 .2h0m-4.1 .2h0m-2.8 .9h0m1.5 .1h0m5 .2h0m-5.9 .3h0m2.8 .2h0m.5-.1h0m-.4 .4h0m.3 0h0m-.3 1h0m2.9 .3h0m-6.1 .6h0m.4 .4h0m6.4-.3h0m-3.4 .7h0m.4-.1h0m2.9-.1h0m-6.2 .8h0m2.5-.2h0m3.2 .2h0m-5.8 .1h0m-.1 .9h0m-3.2 .3h0m2.9 .1h0m3.1 0h0m-2.7 .6h0m-3.2 .1h0m.5 0h0m2.5 .2h0m3.3 .1h0m-3.4 .6h0m3.3-.1h0m-3.2 .6h0m.5-.1h0m-3.3 1h0m2.9-.1h0m3.3-.2h0m-2.8 .6h0m-.6 .6h0m-3.1 .8h0m.3 0h0m-.2 .5h0m6.3 .6h0m-3.3 .6h0m.7-.1h0m-6.2 .4h0m6.3 .4h0m2.3-.4h0m-3 .9h0m-2.4 .4h0m-3.1 .5h0m3.1-.1h0m2.4-.2h0m-2.8 1.1h0m3 .5h0m-3.3 .5h0m.4 .1h0" stroke="#3b7baf" stroke-width="3.30" stroke-linecap="round" fill="none"/><path d="M173.7 80.6h0m3 .7h0m2.4 1.4h0m-7.7 .4h0m6.8-.1h0m-7.3 .4h0m13.1 .1h0m-3.9 .3h0m-5.6 2.4h0m3.8 .3h0m5.2 1.1h0m-8.5 .3h0m3.8 .6h0m5.4 1h0m4.1 0h0m-17.5 1.1h0m15.7-.3h0m-6.8 1.3h0m11.5 1.6h0m-9 .5h0m-6.6 .8h0m9.7 .3h0m4.7 .1h0m-14.5 .5h0m-4.4 .5h0m6.6 .2h0m.7 0h0m5 .9h0m-2.9 4.4h0m-5.6 .4h0m8.5 .1h0m-4.4 .6h0m-2.7 .6h0m51.3 78.2h0m1.1 3.4h0m-2.8 .6h0m6.2 .6h0m-5.8 1h0m2.7 .1h0m3 0h0m-3.2 1h0m.6 .2h0m2.6 .3h0m-5.8 2.6h0m-3 .6h0m.4 0h0m2.7-.3h0m2.6 .1h0m.4 0h0m-.6 .7h0m.2-.2h0m-5.6 .6h0m5.9-.1h0m-5.9 .7h0m6-.3h0m-6.2 .5h0m3.3 .1h0m2.4 .7h0m-5.9 .1h0m3.5 .4h0m-2.9 .1h0m5 .2h0m-2.4 .4h0m.2 .2h0m-.3 .6h0m-2.8 .7h0m-2.8 .4h0m2.8 .4h0m2.4 .5h0m.7 0h0m2.7-.4h0m-12.9 1h0m7.2 .4h0m3.2-.4h0m-.4 .6h0m-3.2 .6h0m3.3 .4h0m-3.1 .6h0m-2.7 3h0" stroke="#3d7fb4" stroke-width="3.30" stroke-linecap="round" fill="none"/><path d="M230.3 189.9h0m4.1 2.6h0m3.5 1.1h0m-6.2 .5h0m2.9 .2h0m2.9 .1h0m-8.5 1.3h0m1.6-.2h0m1.2 0h0m2.9 .6h0m.6 .1h0m-3.3 .1h0m3 .2h0m-.2 .7h0m-2.8 .1h0m-2.5 .6h0m-.7 .4h0m6.2 0h0m-5.3 .8h0m5.2 .1h0m-3 .3h0m-5.7 .4h0m2.9 .3h0m2.8-.1h0m-5.4 .6h0m5.7-.4h0m2.7 .3h0m-5.4 .7h0m-3.4 1.2h0m5.4 .1h0m.5 .2h0m.3 .3h0m-6.3 1.1h0m5.9-.1h0m-2.3 1h0m2.3-.3h0m0 2.4h0m-2.7 2.1h0" stroke="#3f82b8" stroke-width="3.30" stroke-linecap="round" fill="none"/><path d="M243.5 191.6h0m.4 .3h0m-3.4 2h0m-.2 .5h0m5.7 .5h0m-5.4 .7h0m2.8 .2h0m-5.6 .5h0m3.5 .9h0m2.2-.1h0m-3.3 .2h0m.8 .4h0m5.6-.4h0m-8.7 .9h0m2.7 0h0m-3 .2h0m-5.8 .8h0m5.8-.2h0m3.1 0h0m2.7 0h0m.4 .2h0m-8.9 .4h0m2.7 0h0m5.7-.3h0m-5.9 .5h0m.6 .3h0m-.4 .8h0m-2.9 .7h0m9.3 .1h0m-6 .4h0m2.2 0h0m-2.9 .6h0m3.4-.1h0m-3.2 .5h0m.6-.1h0m5.2 0h0m-8.5 .6h0m5.9-.3h0m-6.3 1h0m6.5 .3h0m-3.1 .6h0m-6.2 .2h0m6.3-.1h0m-.1 .5h0m-9.8 .8h0m6.9-.2h0m3.4 .2h0m-3.5 2.4h0m-2.6 1.6h0" stroke="#4186bd" stroke-width="3.30" stroke-linecap="round" fill="none"/><path d="M246.4 192h0m1.9 7.4h0m-1.9 1.2h0m2.7-.2h0m-2.6 1h0m-.3 1.2h0m.2 .7h0m3.3 .1h0m-11.6 .8h0m5.6-.1h0m2.5 .1h0m-2.6 .2h0m2.5 .3h0m3-.1h0m-8.2 .5h0m3.1 .1h0m5.1-.1h0m-5.5 .6h0m.3 0h0m2.8 0h0m2.3-.1h0m-5.3 .4h0m2.8 .8h0m-3 .6h0m.3 .3h0m-3.5 .1h0m3.4 .2h0m2.4 0h0m.2 .1h0m-2.6 .6h0m.1-.3h0m-3.7 .5h0m3.1 .3h0m3.2-.3h0m-.2 .6h0m-2.7 .6h0m2.5 .2h0m-5.6 1.7h0m.5 1.4h0" stroke="#4289c2" stroke-width="3.30" stroke-linecap="round" fill="none"/><path d="M253.1 195.1h0m-1.5 3.2h0m3.2 2.3h0m3.3 2.4h0m-5.8 1.7h0m-3.2 .1h0m3.3 .6h0m2.4 0h0m-5.2 .4h0m-.1 .7h0m5.8 0h0m-6.1 .5h0m.2 .2h0m6-.1h0m-6.2 .2h0m.3 .2h0m2.7-.2h0m-3.3 .9h0m.1 .3h0m6.3 .2h0m-6.4 .2h0m3.5 .7h0m-5.8 .5h0m3-.2h0m.1 .5h0m-.3 1.3h0m6 0h0m-6.3 .3h0m-2.8 .5h0m6.2 1.8h0m-.5 1.3h0m-2.6 .6h0" stroke="#448dc6" stroke-width="3.30" stroke-linecap="round" fill="none"/><path d="M256 204.4h0m4.8 1.7h0m-2.5 .9h0m2.5 0h0m-2.6 .4h0m.1 .5h0m2.4 .2h0m-9.1 .2h0m9.3 .7h0m-5.6 .4h0m5.3 .2h0m-5.3 .2h0m5.5 .4h0m-2.2 .1h0m2.5 .2h0m-5.9 1.2h0m2.9-.2h0m-2.8 .4h0m.2 .6h0m2.9 .2h0m2.1-.2h0m-2.4 .6h0m-7.4 .5h0m6.8 .1h0m-2.1 .3h0m5.1 .3h0m-2 .6h0m-.4 1h0m.5 0h0m-.8 .9h0m17.4 5.1h0m-8 .5h0m.7 .5h0m.6 0h0m.8 .5h0m.8 .6h0m-1.5 1h0m-3.6 .3h0" stroke="#4690cb" stroke-width="3.30" stroke-linecap="round" fill="none"/><path d="M282.4 190.7h0m-.8 2.6h0m.7 .2h0m-1.3 .8h0m-.7 .9h0m-.8 2h0m2.6-.1h0m-.9 2.6h0m-1.5 .4h0m-1.3 4h0m1.1 1.4h0m2.3 .4h0m-4.8 1.3h0m5.4 0h0m-5 2.2h0m-6.9 15.5h0m4.1 .9h0m-6.8 1.1h0m8.2 .8h0m-5.4 .6h0m1.8 2.5h0m1.5 .8h0m-8.3 .4h0m3.2-.2h0m7 .2h0m-2.4 1h0m-5 .7h0m5.8-.1h0m.4 .9h0m.9 0h0m.3 .3h0m-1.8 1.7h0m.3 .3h0m3.4 1.1h0m-7.1 1.2h0m10.1 0h0m-7.9 .3h0m4.4 1.1h0m-.1 .7h0m.8-.4h0m0 .8h0m-3.4 .7h0m.8 .6h0m.7 0h0" stroke="#4894d0" stroke-width="3.30" stroke-linecap="round" fill="none"/><path d="M288.2 180.1h0m-1.3 1.4h0m-1.2 4.5h0m1.4 .6h0m-3.7 1.5h0m1.7-.1h0m.9 .5h0m.2 .6h0m-2 .3h0m4.4 1.6h0m-1.7 1h0m-.6 .7h0m-2.2 3.3h0m1.3 .5h0m2.6 2.1h0m.3-.1h0m-4.2 .8h0m3.6 0h0m.8 .4h0m-2.2 3.4h0m-2.2 1.1h0m-1.8 36.6h0m.1 2.5h0m1.9 .2h0m-10.8 1.8h0m4.1 .4h0m-1.1 .6h0m3.1 .2h0m1.8 .1h0m5.2 .4h0m-11.6 .6h0m5.6 0h0m2.8-.3h0m5.5 .2h0m-10 1.1h0m-2.4 .4h0m10.2 .5h0m-8.1 .8h0m8.3 1.2h0m-14.3 1.2h0m20.6-.3h0m-6.4 .7h0m-4.7 .3h0m4.8-.1h0m-7.1 .5h0m1.1 .2h0m4.1 1h0m-4.1 .4h0m-.9 .6h0m3.4 .1h0m2.6-.1h0m-7.1 .7h0m2.4-.1h0m-4.4 .6h0m2.7-.1h0m-4.8 .3h0m1 .3h0m3.7-.2h0m2.2 0h0m6.6 .5h0m-7.1 1h0m-2.7 .5h0m6.1-.1h0m-1.8 .8h0m-3.8 .3h0m5.2-.1h0" stroke="#4997d5" stroke-width="3.30" stroke-linecap="round" fill="none"/><path d="M294.1 174.9h0m-3.3 2.8h0m-.8 .8h0m3.9 .5h0m.6 .4h0m-3.6 1.5h0m.8 1.5h0m-1.9 2.1h0m-.7 1.8h0m1.5 .8h0m2.7 1.9h0m1 .6h0m-2.7 2h0m.9 .9h0m1 1.5h0m-2.9 .4h0m2.4 1.9h0m1.2 .6h0m-1.6 .6h0m.7 .3h0m-.3 1.6h0m-4.1 1.3h0m2.4 58.5h0m-.4 .5h0m-3.5 .4h0m-2.7 .5h0m7.8 .7h0m2.2 .2h0m-8.2 .9h0m5.5 .4h0m-7.5 .7h0m5.6 .1h0m.5-.3h0m-5.9 .9h0m1.5-.1h0m4.7 .4h0m1.6 .1h0m-5.8 .9h0m6.5 0h0m-8.3 .8h0m4.2 .9h0m2.8-.2h0m-11.6 .6h0m8.2 .5h0m.4-.2h0m.4 0h0m1.1 .1h0m-3.2 .5h0m8.2 .2h0m-12.8 .8h0m1.5 .1h0m.4-.3h0m2 .3h0m5.1 0h0m.6 .1h0m-3.4 .5h0m3.5 .3h0m-2.7 1h0m6.3 .2h0m-9.9 .1h0m4.5 .2h0m.8 .1h0m-8.1 .8h0m.5 0h0m11.3 .3h0m-8.6 1.2h0m.7 .1h0m9.3 .1h0m-2.9 .5h0m1.8-.1h0m1.3 0h0m-5.8 .3h0m.7 .1h0m4.4 .1h0m.7-.1h0m1.5 .2h0m-6.1 .6h0m.6-.2h0m.3 .2h0m4.3-.2h0m-12.9 .7h0" stroke="#4b9bda" stroke-width="3.30" stroke-linecap="round" fill="none"/><path d="M299.4 170.6h0m0 .5h0m-.5 .3h0m1.2 .3h0m-.2 .5h0m.4 0h0m-2.7 1.8h0m2.5 0h0m-3.7 .7h0m-1.7 .4h0m5 .4h0m-3.6 .4h0m2.7 .7h0m-.4 .2h0m.7 .5h0m.5 .9h0m-1.6 .7h0m.8 .5h0m-1.3 1.6h0m.5 0h0m.4 .4h0m1.8-.1h0m-.3 .8h0m-2 .2h0m-1.6 2.5h0m2 .1h0m1.6 .2h0m-1.2 1.5h0m-2.1 .6h0m2.7 0h0m-4.5 .1h0m3.7 1.4h0m.6-.2h0m.7 0h0m-1 .4h0m1.6 .4h0m-1.8 .8h0m1.6-.2h0m-4.8 .4h0m3.7 .3h0m1.3-.2h0m-5.7 .4h0m1.4 .1h0m2.5 1.3h0m1.4 .3h0m-1.9 2.7h0m-2.3 1.6h0m.3 .8h0m-4.7 78.7h0m6.4 .4h0m.9-.2h0m-7.9 .3h0m5.4 0h0m.3 .2h0m2 .2h0m-.2 .5h0m-6.2 .4h0m1.1-.1h0m.9-.2h0m.3 .2h0m2.5 .2h0m2-.2h0m-.2 .7h0m-3.2 .1h0m.8 .1h0m1.9-.1h0m-7.4 .6h0m6.7 0h0m-7 .7h0m4.8 .5h0m1.4-.3h0m2.3 .4h0m-7.5 .2h0m1.9 .2h0m5.8 0h0m-9 .4h0m5.3 .2h0m-1.3 .3h0m.5 .2h0m-4.3 .2h0m4.4-.1h0m1.3 0h0m4 .4h0m-4.2 .2h0m.7-.1h0m2.1 .1h0m-8.3 .9h0m3 .2h0m6-.2h0m1.9 .3h0m-11.6 .5h0m3.4-.2h0m2.7 .1h0m1.2-.1h0m-1 .6h0m1.7 .3h0m-7.5 .8h0m.2 .1h0m7.2-.3h0m1.8 .3h0m-9 .3h0m1 .2h0m9.8-.3h0" stroke="#4d9fde" stroke-width="3.30" stroke-linecap="round" fill="none"/><path d="M303.4 165.4h0m1.2 1.7h0m-.5 .6h0m-.7 .1h0m-1.1 2h0m3.4 .2h0m-2.1 .9h0m.4 .3h0m.6-.2h0m.6 .2h0m-.1 .5h0m1-.1h0m-2.7 .6h0m1.3 .1h0m-1.1 .6h0m1.5 .2h0m-3.5 .3h0m1.4-.1h0m.2 .7h0m1.3 .1h0m.9-.2h0m-4 .4h0m1.2 .1h0m-1.5 .5h0m1.7 .8h0m2.1-.2h0m-3.1 .4h0m.9 1.1h0m3.2 .1h0m-4.8 .2h0m4.7 1.4h0m-3.3 .4h0m2.4 0h0m-3.7 .4h0m.2 0h0m-.1 1.1h0m.7-.2h0m1.6 0h0m2.1 .8h0m.1-.4h0m.5 .3h0m-4.6 .5h0m2.9-.3h0m-2.5 .7h0m2.7 .2h0m-1.1 1h0m.7 0h0m.2 .8h0m-1.9 .4h0m1.2-.1h0m1.6 .4h0m-1.1 .4h0m1.4-.1h0m-2.8 .5h0m2.5 .1h0m.8 0h0m-3.2 .3h0m2.9 .1h0m-4.2 .4h0m2.9 .7h0m.1-.1h0m-1.6 .3h0m.9 .3h0m2.4-.2h0m-1.2 .5h0m-3.7 .8h0m.5-.4h0m3 .1h0m-2.5 .6h0m3.1-.1h0m-3.2 1.2h0m.7 0h0m.8-.2h0m.3 .2h0m1.2-.3h0m-3.5 1.3h0m.6-.3h0m1.1 0h0m.3 0h0m.3 .3h0m1.9-.2h0m-4 .5h0m.1 0h0m1 .1h0m1.7 .1h0m-1.2 .4h0m-.6 .9h0m-.4 1.3h0m-.9 .6h0m-9.8 92.3h0m4.9-.1h0m-5 .4h0m5.3 0h0m1.3-.1h0m2.2 .8h0m-10.6 .4h0m3 .2h0m1.3 0h0m-3.8 .1h0m1.3 0h0m.7 .3h0m1.1 .1h0m-2.2 .4h0m6.5-.3h0m1.1 .1h0m.4 .2h0m-10.4 .6h0m1.3-.1h0m3.3-.3h0m-1.9 .6h0m6.1 .3h0m1-.3h0m1.2 .2h0m-3.5 .2h0m-1.8 .6h0m1.8 0h0m.4-.1h0m2.7 .4h0m-12.5 .5h0m6.7 0h0m.8-.1h0m5.4 .1h0m-11.5 .3h0m6.2-.1h0m2.7 .5h0m2 .1h0m-8.7 .6h0m2.6 0h0m6.6-.3h0m-13.7 .9h0m3.3 0h0m.2-.4h0m8.9 .3h0m1.3-.2h0m-14.2 .4h0m.7 .3h0m2.9 0h0m1.4 .1h0m1.2-.2h0m-6.3 .3h0m.5 .4h0m7.4-.1h0m1.9 0h0m1.6-.3h0m1.1 .3h0m-10.2 .4h0m2.3-.1h0m.5 .2h0m7.6-.1h0m-2.3 .6h0m-9.5 .2h0m4.3 .3h0m.7-.3h0m2.5 .2h0m-8.8 .6h0m9 0h0m.8 0h0m2.1 0h0m1.8-.2h0m-18.1 .7h0m5.9-.1h0m2.1-.2h0m2.7 .2h0m3-.2h0m3.6 .1h0" stroke="#4fa2e3" stroke-width="3.30" stroke-linecap="round" fill="none"/><path d="M309.2 158.2h0m.1 .8h0m1-.1h0m-1.5 .9h0m.8 .4h0m.8-.2h0m1.4 .3h0m.5 .2h0m-2.7 .5h0m1.4-.1h0m1.3 .3h0m-3.4 .5h0m.9-.3h0m-1.6 1.8h0m3 0h0m.7-.4h0m-4.5 .9h0m.4-.1h0m2.8-.1h0m1.6 .1h0m-5.3 1.1h0m3.9-.3h0m-1.1 .7h0m2.5-.1h0m-4.8 .6h0m.8-.2h0m3.7 .3h0m-2.8 .1h0m2.2 .4h0m-4.7 .5h0m5-.3h0m-3.6 .8h0m-.5 .3h0m2.4-.2h0m-2.7 1.1h0m4.3 .1h0m-4.7 1.2h0m.7-.3h0m1.3-.1h0m1.2 .3h0m.9 .1h0m1-.3h0m.4 .1h0m-2.5 .3h0m.6 .4h0m2-.1h0m-5.7 .2h0m2.1 .2h0m-2 .3h0m.1 .9h0m.9-.2h0m-.6 .6h0m2.2-.2h0m.5-.1h0m-1 .8h0m2.5-.3h0m-4.2 .5h0m1.5 .1h0m-2.2 .5h0m4.9-.1h0m-1.1 .5h0m-3.2 .6h0m1.8 .8h0m3.5-.2h0m-1.1 .6h0m.5-.2h0m-3.9 .6h0m1.8 0h0m.2-.2h0m-2.6 .6h0m1.8 .3h0m-1.9 .5h0m4.4 .5h0m-3.6 .1h0m1.5 0h0m2.3 .9h0m-3.9 .1h0m.7 .4h0m1-.3h0m1.5-.1h0m-4.1 .9h0m1.9-.4h0m-1.9 .7h0m3.8-.2h0m-3 .8h0m2 0h0m0 .5h0m-2.6 1h0m.1 0h0m1.6 .4h0m2.3 .7h0m-2.3 .2h0m.7 .3h0m2.8-.4h0m-1.4 .6h0m1.4 .3h0m-2.4 .4h0m-3.3 .2h0m1.9 .3h0m1.4-.2h0m1.7 .4h0m.2 .2h0m.1 .6h0m-3.4 .2h0m3 0h0m-2.5 1.2h0m-1.3 .6h0m-1.2 .6h0m.7 0h0m.7-.2h0m1.6-.2h0m1.3 .3h0m-3 1.1h0m2.6 .7h0m-3.3 .5h0m1.3 .1h0m-25.2 106.8h0m7.7 .2h0m1.3 0h0m2.1 0h0m1.6-.2h0m1.7 0h0m.7 .3h0m-15.2 .4h0m2.5 .1h0m5.7-.2h0m1.9 .3h0m4.1 0h0m-14.3 .4h0m10.9 .1h0m-5.1 .5h0m-2.4 .3h0m6-.2h0m5.2 .2h0m.2 .2h0m-14.9 .2h0m2.8 .1h0m8.1 0h0m-13.4 .6h0m.3 0h0m5.8 .1h0m10.3 0h0m-11.2 .2h0m2.3 .3h0m2.6-.3h0m2.9 0h0m.4 .1h0m-13.1 .5h0m.8-.1h0m7.8-.1h0m1.5 0h0m5.1 .4h0m-15.1 .5h0m1.3-.1h0m1.1-.2h0m11.4-.1h0m-14.8 .5h0m.6 .2h0m3.5 .1h0m4 .1h0m-4.6 .4h0m3.9 .1h0m7-.1h0m1.2-.1h0m-14.9 .4h0m.8-.1h0m5.7 .1h0m5.9 0h0m1.5-.1h0m-14.6 .8h0m2.7 0h0m1.3-.3h0m1.2 .2h0m6.7-.1h0m4.6 .3h0m-9.5 .5h0m2.8-.2h0m4.5-.2h0m-10.7 .5h0m5.3 .1h0m6.9 .1h0m.2-.2h0m-12.5 .6h0m5.4 .2h0m3.2-.1h0m-2.9 .6h0m7.2-.2h0m-8.3 .5h0m2.8 .2h0m1.5 0h0m2 0h0m1 .1h0m-14.2 .3h0m.3 .2h0m.6-.3h0m2.3 .1h0m2.3-.2h0m2.2 .3h0m2.5-.3h0m-11.4 .6h0m13.4 .1h0m-8.1 .3h0m3.4 0h0m1.4 .1h0" stroke="#51a6e8" stroke-width="3.30" stroke-linecap="round" fill="none"/><path d="M312.5 160.3h0m1.3 .7h0m0 .9h0m1 .2h0m-.1 .4h0m-.1 .3h0m1 .8h0m-3 .5h0m2.5 .5h0m-2.6 .7h0m1.4 .5h0m3.7 .2h0m-4.1 .6h0m3.2 .1h0m-.8 .2h0m1.8 0h0m-4.8 .6h0m4 .1h0m.7-.1h0m.2 0h0m-3 .6h0m1-.3h0m1 .1h0m1.2 .1h0m-3.6 .4h0m-.8 .6h0m2.4-.2h0m-3.4 .7h0m4.9-.2h0m-4.9 .6h0m.7 .2h0m.5 .6h0m2.4-.4h0m1 .1h0m-4.5 .8h0m5.1-.2h0m-.4 .7h0m-1.7 .7h0m1.8 .1h0m-4.9 .6h0m2 .1h0m1.1 0h0m.4-.4h0m.7 .4h0m-3.6 .1h0m4.7 0h0m-1.7 .7h0m.5-.2h0m-4.1 .9h0m2-.1h0m.4-.3h0m2 .3h0m.8 .6h0m-3.8 .4h0m1.6-.2h0m.3 0h0m.4 .1h0m1.3-.1h0m-3.1 .9h0m.2 .6h0m2.2 .1h0m-3.3 .3h0m4 .2h0m-3.6 .3h0m.8 .4h0m2.8-.2h0m-3.4 .4h0m1.2-.1h0m.7 .3h0m-2.7 .3h0m.6 0h0m.9 .2h0m-2 .5h0m.5-.1h0m2.7 .6h0m.2-.3h0m1.1 .7h0m-.3 .7h0m-1.1 .1h0m1.1 .4h0m-4.5 .3h0m.9 .7h0m1.1-.2h0m-1.5 .8h0m3.8 .6h0m1.2 .1h0m-4.9 .6h0m3.8 .6h0m.8 0h0m-1 .1h0m-.8 .7h0m-3.1 1.2h0m2.6-.2h0m1.9 0h0m.5 .2h0m-4.4 .5h0m.6 0h0m.3-.4h0m-1.9 .7h0m5.4 .2h0m-4.4 .3h0m2.4-.2h0m.9 .3h0m-29.2 120h0m2.9 .4h0m2.2 .1h0m1.6-.2h0m-13.7 .4h0m8 .4h0m.7-.4h0m2.3 0h0m.3 0h0m-7.2 .9h0m.5-.1h0m4 0h0m1.1-.3h0m2.7 .3h0m-11 .2h0m8.1 .2h0m.6-.2h0m2.6 .4h0m-11.2 .5h0m9.6-.4h0m.4 .4h0m3.1-.1h0m-7.8 .4h0m1.5-.1h0m-4.6 .6h0m6.2 .2h0m-1.1 .3h0m1.1 0h0m-10.7 .4h0m3.9 .3h0m5-.1h0m-7.3 .4h0m-.1 .6h0m4.5-.2h0m1.5 .1h0m2.1 .2h0m3.3-.3h0m-9.3 .5h0m4.6-.1h0m5 0h0m-7.9 .7h0m.7 .1h0m3.1 0h0m-8.9 .2h0m1.9 .4h0m1.7-.2h0m6.3 0h0m-8.9 1h0m10.5 0h0m.9 0h0m-10.8 .6h0m.8-.1h0m-2.2 .5h0m1.8 0h0m3 .2h0m1.8-.2h0m.5 0h0m-7.1 .4h0m1.6 .3h0m2.8-.2h0m1.5 .1h0m6.9-.2h0m-10.6 .6h0m3.6-.1h0m1.9 .7h0" stroke="#52aaed" stroke-width="3.30" stroke-linecap="round" fill="none"/><path d="M318.9 167.8h0m.9 .8h0m-.5 .5h0m2.2 .1h0m-3 .5h0m.4-.1h0m.5 0h0m.5 .4h0m1.6 .2h0m-2.4 .2h0m1.7 .3h0m-.2 .4h0m2.7 .1h0m-4.1 .3h0m.5-.1h0m.5 0h0m2.8 .2h0m-3.1 .6h0m.6-.2h0m2.7 .9h0m-1.7 .5h0m2.1 0h0m-4.4 .8h0m.9 0h0m1.5-.1h0m-2.1 .6h0m4.7 .3h0m-5.8 .4h0m3.8 .5h0m1.2 .3h0m.7-.1h0m-1.6 .4h0m.3 .3h0m-3.7 .8h0m3.2 0h0m-2.9 .4h0m3.1-.2h0m.9 .4h0m.8-.3h0m-2.1 .5h0m.3 .2h0m-3.3 .2h0m2.9 .2h0m-2.7 .3h0m4.6 .4h0m-2.4 .3h0m1.8-.2h0m-4.7 1.3h0m4.4-.2h0m-1.9 .7h0m2.4-.2h0m.7 .2h0m-5.2 .4h0m1.6 0h0m.3-.1h0m2.6 .7h0m-3.7 .2h0m4 0h0m-2.9 .9h0m-2.2 .1h0m1.6 .4h0m.8-.4h0m1 .1h0m-1.6 .8h0m.7-.2h0m.6-.1h0m-3.4 .7h0m1.1 0h0m1.7 0h0m.2-.1h0m.6 0h0m.3 1h0m-1.5 1.4h0m-2.2 .4h0m.2 .3h0m-37.5 131.6h0m4.8-.4h0m6.1 0h0m-4.8 .6h0m.4 0h0m1.3 .1h0m-6.6 .6h0m3.1-.2h0m.2 0h0m.8-.1h0m-5.1 .6h0m4.4 .1h0m2.3-.1h0m1.5 .3h0m.8-.4h0m-10 .5h0m2.6 .2h0m3.4 0h0m-1.2 .5h0m3 0h0m3.1-.1h0m-8.4 1h0m1.6 .1h0m2.6 .2h0m-3 .3h0m2.6-.2h0m1.6 .6h0m-7.6 .4h0m3.7 .3h0m-1.2 .5h0m5.8-.3h0m-6.8 .7h0m3.5-.1h0m-1.6 .7h0m-1.1 .4h0m.5 .1h0m1-.1h0m-2.4 .3h0m2.4 0h0m1.1 .4h0m1.3-.4h0m.7 .9h0m.9-.4h0m-4.6 .9h0m2.8 0h0m.5-.1h0m-5.8 .6h0m1.3 .5h0m1.7-.4h0m2.1 .2h0" stroke="#54adf2" stroke-width="3.30" stroke-linecap="round" fill="none"/><path d="M324.9 177.8h0M282.1 330h0m1.3 .6h0m3 0h0m-3.3 1.3h0m.7 .1h0m.9 .2h0m-.9 .6h0m-.7 .6h0m.3 .3h0m2.9 .2h0m-2.2 .6h0" stroke="#56b1f7" stroke-width="3.30" stroke-linecap="round" fill="none"/><line x1="265.9" y1="215.9" x2="291.2" y2="285.2" stroke="#000" stroke-width="0.90"/><circle cx="179.4" cy="165.7" r="4.3" fill="#000"/><text x="179.4" y="168.0" font-size="6.60" fill="#e8e8e8" text-anchor="middle" font-family='"Liberation Sans", sans-serif' >2</text><circle cx="265.9" cy="215.9" r="4.3" fill="#000"/><text x="265.9" y="218.2" font-size="6.60" fill="#e8e8e8" text-anchor="middle" font-family='"Liberation Sans", sans-serif' >1</text><line x1="365.4" y1="60.4" x2="365.4" y2="345.8" stroke="#a6a6a6" stroke-width="0.90"/><line x1="365.0" y1="345.3" x2="680.8" y2="345.3" stroke="#a6a6a6" stroke-width="0.90"/><line x1="363.2" y1="118.2" x2="365.4" y2="118.2" stroke="#333" stroke-width="0.80"/><text x="362.0" y="120.3" font-size="6.10" fill="#444" text-anchor="end" font-family='"Liberation Sans", sans-serif' >5</text><line x1="363.2" y1="200.8" x2="365.4" y2="200.8" stroke="#333" stroke-width="0.80"/><text x="362.0" y="202.8" font-size="6.10" fill="#444" text-anchor="end" font-family='"Liberation Sans", sans-serif' >0</text><line x1="363.2" y1="283.2" x2="365.4" y2="283.2" stroke="#333" stroke-width="0.80"/><text x="362.0" y="285.4" font-size="6.10" fill="#444" text-anchor="end" font-family='"Liberation Sans", sans-serif' >−5</text><line x1="365.4" y1="345.3" x2="365.4" y2="347.5" stroke="#333" stroke-width="0.80"/><text x="365.4" y="353.2" font-size="6.10" fill="#444" text-anchor="middle" font-family='"Liberation Sans", sans-serif' >−20</text><line x1="457.7" y1="345.3" x2="457.7" y2="347.5" stroke="#333" stroke-width="0.80"/><text x="457.7" y="353.2" font-size="6.10" fill="#444" text-anchor="middle" font-family='"Liberation Sans", sans-serif' >−10</text><line x1="550.0" y1="345.3" x2="550.0" y2="347.5" stroke="#333" stroke-width="0.80"/><text x="550.0" y="353.2" font-size="6.10" fill="#444" text-anchor="middle" font-family='"Liberation Sans", sans-serif' >0</text><line x1="642.3" y1="345.3" x2="642.3" y2="347.5" stroke="#333" stroke-width="0.80"/><text x="642.3" y="353.2" font-size="6.10" fill="#444" text-anchor="middle" font-family='"Liberation Sans", sans-serif' >10</text><text x="523.0" y="361.6" font-size="7.40" fill="#000" text-anchor="middle" font-family='"Liberation Sans", sans-serif' >Component 1</text><text x="0.0" y="0.0" font-size="7.40" fill="#000" text-anchor="middle" font-family='"Liberation Sans", sans-serif' transform="translate(351.2 205.4) rotate(-90)">Component 2</text><line x1="521.7" y1="159.8" x2="523.5" y2="106.5" stroke="#000" stroke-width="0.90"/><line x1="521.7" y1="159.8" x2="608.1" y2="211.6" stroke="#000" stroke-width="0.90"/><line x1="608.1" y1="211.6" x2="629.2" y2="194.0" stroke="#000" stroke-width="0.90"/><line x1="608.1" y1="211.6" x2="633.4" y2="283.0" stroke="#000" stroke-width="0.90"/><line x1="521.7" y1="159.8" x2="452.0" y2="195.5" stroke="#000" stroke-width="0.90"/><line x1="452.0" y1="195.5" x2="420.0" y2="207.0" stroke="#000" stroke-width="0.90"/><path d="M509.8 144.2h0m-3.7 2h0m-8.7 9.5h0m3.4 1.1h0m-9.4 .7h0m-6.3 4.5h0m8.7 1.7h0m.9 0h0m10.1 4.4h0m3 .4h0m8-.2h0m-3 .7h0m-.7 .3h0m-5.6 .9h0m-13.7 .6h0m-2.8 1h0m3 .9h0m18.7-.1h0m-16.1 1.6h0m3.6-.1h0m-1.3 .6h0m5.4-.2h0m-1.7 .3h0m-50.1 .6h0m33.4 .2h0m15.2-.2h0m-82.6 .8h0m42.4-.3h0m21-.1h0m-25.2 1.4h0m35.7 0h0m8.8-.3h0m.9 .2h0m7.8-.2h0m.8 .3h0m2.9-.4h0m-46.9 .9h0m-5 .1h0m41.4 .3h0m-5.3 .4h0m-9.7 .5h0m7.9-.1h0m7 .2h0m1 .1h0m5.5 0h0m1.7-.2h0m-24.9 .6h0m5.1 .1h0m2.1 0h0m3.4-.4h0m3.6 .3h0m3.6 0h0m1.8 0h0m3 .1h0m-21.1 .4h0m2.6-.3h0m8.2 .2h0m3.8 0h0m.8-.2h0m-38 .6h0m5-.1h0m19.6 .4h0m4-.1h0m13.4 .1h0m-16.6 .3h0m5.2 .1h0m-.3 .4h0m3.8 .2h0m-20.1 .1h0m2.1 .4h0m4.5-.3h0m5.7-.1h0m2.2 .4h0m.5 0h0m-15.4 .1h0m2.5 0h0m11.8 .2h0m1.1 .1h0m2.5 0h0m-11.9 .3h0m21.8 .1h0m1.1-.1h0m2.1 .2h0m-21 .2h0m3.8 .1h0m6.4 0h0m1.1-.1h0m-24.3 .8h0m10.4-.3h0m.1 .3h0m2.6-.2h0m5.1 .2h0m6.9 0h0m5-.3h0m-45.1 .8h0m8.7-.3h0m17.2 .1h0m8 0h0m-99.9 .7h0m82.9-.2h0m13.3-.1h0m1.5 0h0m3.9 0h0m2.2 .2h0m1.5-.2h0m1.4 .4h0m3.1-.2h0m3.8 0h0m-35.3 .7h0m.6-.3h0m1.6 .1h0m4.7 .2h0m10.3-.1h0m4.1 0h0m.5-.2h0m-24.3 .6h0m3.4 0h0m8.4 0h0m3.9-.1h0m2.8-.1h0m4.6 .1h0m-41 .5h0m4.2 .3h0m14.2-.4h0m25.9 .3h0m-65.2 .4h0m23.1 .2h0m19-.4h0m13.8 .1h0m-15.2 .6h0m7 .1h0m4.6 .1h0m2.4-.2h0m14.9 .1h0m-54.2 .2h0m16.7 .4h0m6.6-.1h0m3.8-.2h0m12.3 .1h0m.5 .2h0m6.8-.1h0m10.6 .1h0m-77.2 .3h0m38.3 .1h0m16.9 0h0m2.2-.2h0m2.5 .1h0m16.3-.1h0m-65.4 .7h0m27.1 .1h0m7.5-.2h0m7.2-.1h0m3-.1h0m1.6 .1h0m8.1 .2h0m-27.2 .4h0m11-.2h0m2.5 .2h0m13.1 .2h0m-77.5 .1h0m56 .3h0m1.8-.1h0m14.5-.2h0m-22.8 .6h0m2.6-.1h0m5.1 0h0m-77.3 .5h0m18.9 .4h0m10 0h0m18.4 0h0m32.2-.2h0m.8 .1h0m1 0h0m1.1-.2h0m14.7 .2h0m-19.4 .3h0m8.8 .1h0m5.6 0h0m2-.1h0m-93.6 .6h0m66.5 .1h0m10.5 0h0m.6-.1h0m1.4 .1h0m2.2-.3h0m5.8 .3h0m2.8 0h0m3.6-.3h0m-34.1 .6h0m.5 .1h0m.4 .1h0m3.4-.1h0m2.7-.1h0m1 .3h0m.2-.3h0m1.8-.1h0m2.7 .2h0m1.1 .1h0m20.5 0h0m-92.9 .3h0m56.4 .2h0m6.4-.3h0m6 .3h0m1.1 .1h0m.3-.4h0m.9 .2h0m24.1-.2h0m-96.1 .6h0m.6 .1h0m52 .1h0m8.1 .1h0m5.8 0h0m14.3-.4h0m1.8 .1h0m8.3 .2h0m-43.2 .6h0m2.1-.4h0m1.5 .4h0m2.2-.4h0m.5 .1h0m14.1-.1h0m1.2 0h0m5.1 .1h0m6.3 0h0m6.9 .3h0m-89 .4h0m30.2 .1h0m23.8 0h0m2.6-.2h0m8.7-.1h0m1 .1h0m2.1-.2h0m3.4 .2h0m9.8 0h0m2.1 .2h0m.6-.1h0m-83.3 .4h0m47.5-.1h0m2.5 .3h0m6.9-.1h0m2.1-.3h0m1.9 .4h0m.7-.1h0m3.6-.1h0m2.9 .2h0m4.7-.1h0m2.8 0h0m3.1-.2h0m4.2 .3h0m1.6-.1h0m15.6 0h0m-102 .6h0m3.8-.3h0m11.8-.1h0m23.8 .3h0m4.2 .1h0m4.6 0h0m17.9 0h0m16.5 0h0m-82.5 .4h0m4.9 .1h0m44.7-.4h0m2.3 .3h0m8.1-.2h0m1.2 .1h0m.9 .2h0m.5 0h0m4.6-.4h0m8.9 .3h0m5.5 0h0m2 0h0m-38.6 .2h0m2.7 .1h0m2.7 0h0m1.1 .2h0m7.2 0h0m3.1 0h0m2.7-.3h0m.6 .1h0m7.8-.1h0m2.4 .3h0m2.1 0h0m1 0h0m5-.2h0m7.2 0h0m-89.4 .7h0m.1 .1h0m1.6-.4h0m2.1 .4h0m36.9 0h0m4.8-.4h0m.4 .3h0m4.2-.3h0m11 .2h0m1.9 .2h0m.7 0h0m5.8-.4h0m1.2 .3h0m3.4-.1h0m.6 .2h0m1.5-.1h0m2.4-.2h0m6.6 .2h0m-86.5 .3h0m4.4 .3h0m38.7-.4h0m5.6 .3h0m3.1-.2h0m9.6 0h0m1.5 0h0m.9 0h0m1.1 0h0m.7 .1h0m2.3 0h0m1.3-.1h0m17.3 .3h0m-84.6 .5h0m1.1-.1h0m37.6 .1h0m2.5 0h0m5.6-.1h0m1.2 .1h0m5.8 0h0m8.9-.1h0m3.1-.2h0m1.2 0h0m10.6 .1h0m2.5 0h0m-79.3 .6h0m1.3-.1h0m.6-.2h0m42.4 .3h0m6 0h0m6.7 .1h0m2.7 0h0m4.8-.1h0m4.6-.2h0m7.3 0h0m2.2 .1h0m2.3 .1h0m2.7-.1h0m-87.6 .7h0m1.5-.4h0m2.8 .1h0m2.1 .1h0m1 0h0m25.1 .2h0m2.1-.3h0m19 0h0m.6 0h0m4.5 .2h0m6.9 .1h0m.2-.2h0m1.8 0h0m2.3 .2h0m6.3-.3h0m-76.5 .8h0m1.5 0h0m3.8-.1h0m1.2 0h0m16 .1h0m9.9-.2h0m8.5-.2h0m2.1 0h0m3.4 .3h0m9.3-.1h0m1.4 .2h0m4-.4h0m10.3 .4h0m.2 0h0m6.4-.3h0m1.3-.1h0m-79.5 .5h0m8.6 .2h0m13.1 .2h0m32.1-.3h0m1.8 .1h0m.7 0h0m.6 .1h0m4.3-.1h0m.7-.2h0m1.2 .3h0m6.9-.3h0m1.2 0h0m2.9 .3h0m3 0h0m-76.9 .3h0m1.3 .2h0m2.4-.2h0m24.8-.1h0m2.8 .2h0m1.1-.1h0m3.3-.1h0m2.7 .3h0m.5-.3h0m1.1 .2h0m3.3 0h0m2.3 .1h0m5.4-.3h0m6.7 .2h0m2.1 0h0m.4 0h0m3.2-.1h0m3.6 .1h0m.5 .1h0m3.7-.1h0m1.7-.2h0m-73.1 .5h0m7.7 0h0m7.1 .3h0m14.8-.1h0m9 .1h0m1.6 .1h0m2.2-.2h0m5 .1h0m3.5 .1h0m6.7-.1h0m2.5 .1h0m1.9-.1h0m.9-.2h0m1.3 .3h0m1.4-.3h0m5.3-.1h0m-68.9 .5h0m4.4 .2h0m.8 .2h0m20.6-.1h0m5-.2h0m1.9 .2h0m17-.3h0m.8 .1h0m20.9 0h0m2.2 .3h0m19.2 0h0m-96.6 .3h0m2.1-.2h0m4.7 .4h0m1.8-.4h0m1.4 .1h0m5.2 .2h0m7.8 0h0m.9-.2h0m19.4-.1h0m.8 .4h0m.5-.2h0m.8 .2h0m.9-.1h0m2.6-.1h0m.5 .1h0m.5-.2h0m3.3 0h0m8.5 .3h0m3.4-.1h0m3.6 .1h0m2.7-.1h0m.3-.2h0m1.9 .2h0m1.5-.3h0m3 .3h0m1.7-.1h0m-81.5 .7h0m2.4-.1h0m8.6-.1h0m1.8-.1h0m12.3 0h0m8.7 .2h0m2.8-.3h0m.8 .2h0m.7-.2h0m.3 .2h0m7.7-.1h0m3.9 .2h0m18.3 .1h0m1.3 0h0m2.8-.4h0m1.3 .2h0m-72.1 .5h0m.2-.2h0m3.4 0h0m2 .2h0m2.5-.2h0m2.8 .3h0m7.2 0h0m10.7 .1h0m6.3-.1h0m4.6-.2h0m7.7 0h0m.8 .1h0m1.2 .2h0m3.1 0h0m1.4-.4h0m4 0h0m1 .1h0m.4 0h0m3.7-.1h0m4.3 0h0m1.5 .2h0m6.4-.2h0m3.4 .3h0m-80.1 .3h0m1.7 0h0m3.6 .3h0m2 0h0m11.9-.1h0m5.5 0h0m20.4-.1h0m1.5-.2h0m.6 0h0m2.8 0h0m.3 .2h0m4.4-.1h0m9.2 .1h0m6.2-.2h0m1.1 .4h0m-69.7 .2h0m1.8 .1h0m.7 .1h0m1.9-.1h0m.4-.1h0m.9 .1h0m2.2 0h0m.8 0h0m1.3-.2h0m3.1 .3h0m14.5-.2h0m1 .3h0m5.2-.3h0m.3-.1h0m2.4 .3h0m5.1 .1h0m7.8 0h0m6.1-.4h0m1.6 0h0m1.3 .3h0m.6 .1h0m3.8-.3h0m6.8 .3h0m4.7-.2h0m-74.4 .5h0m.3 .2h0m5-.4h0m.7 .4h0m.4 0h0m1.3-.2h0m1.6-.2h0m3.6 .2h0m4.7-.1h0m4.2 0h0m1.2 .3h0m4.1 0h0m2-.1h0m2 .1h0m.2 0h0m8.7 0h0m3.2-.2h0m3 0h0m2 0h0m1.8 .1h0m6.7-.2h0m4.5 0h0m5.6 .1h0m3.3-.2h0m.5 .1h0m1.4 0h0m2.8-.1h0m4.2 .2h0m-80.7 .4h0m2.4 .3h0m6-.3h0m7.9 .3h0m17.8-.3h0m3.7-.1h0m3.5 .4h0m2.5-.4h0m1.5 .3h0m1.2-.1h0m5.4-.2h0m1.3 .1h0m.5 .1h0m.4-.2h0m9.6 0h0m.4 .1h0m.4 .2h0m3.1 0h0m2.2-.2h0m.6 .1h0m1.9 .2h0m.3 0h0m1.3-.3h0m-75.2 .7h0m1.2-.2h0m5.8 .3h0m.6-.4h0m2.1 0h0m3.9 0h0m1.5 .2h0m7.9-.1h0m.4 .3h0m3.5-.3h0m6.7 .2h0m1.3-.3h0m2.9 .1h0m2.3-.1h0m5 0h0m.5 .1h0m4.5 .3h0m.1-.1h0m4-.2h0m2.1 .3h0m.6-.4h0m3.6 .2h0m1.2 0h0m6.3 .2h0m3.5 0h0m2-.1h0m-69.3 .6h0m3.1-.4h0m13.5 .2h0m2.2 0h0m1.3-.2h0m2.1 .3h0m6-.3h0m9 .3h0m2.5-.3h0m.8 .3h0m1.8 0h0m6.2 .1h0m.6-.1h0m9.3 .1h0m3.6 0h0m3.3-.3h0m2.4 .3h0m.3-.4h0m-72.3 .6h0m2.9 .1h0m1.4 .1h0m2.8 0h0m.3-.1h0m1.2 .1h0m.5-.1h0m1-.2h0m.7 .4h0m2.4-.1h0m10.6-.3h0m10.8 .1h0m1.2 .1h0m1.3 .2h0m6.7-.1h0m.9 .1h0m.9-.3h0m1.3 .3h0m2.6 0h0m1.4-.4h0m3.5 .4h0m-50.2 .4h0m2-.1h0m1.3-.1h0m2.3 0h0m1.4-.1h0m.2 .1h0m5.2 .3h0m.7-.4h0m4.1 .2h0m.9-.1h0m6.2 .3h0m2 0h0m1.5-.1h0m1.9 .1h0m2.1-.3h0m.8 0h0m1 .2h0m4.3-.1h0m8.8 .2h0m3-.4h0m1.5 .1h0m.8-.1h0m1.9 0h0m1.5 .1h0m1.1 .2h0m8.3-.1h0m-65.8 .6h0m3.7-.3h0m.5 0h0m.4 .2h0m2.8 .1h0m1-.3h0m.8 .1h0m3.6-.1h0m.4 .3h0m10.4-.3h0m3.2 0h0m2 0h0m2.7 0h0m1.8 .3h0m.7 0h0m5.2-.1h0m1.5-.1h0m.4 .1h0m5.2 0h0m.5 .1h0m1.3-.2h0m3.4 0h0m1.4 .3h0m4.6-.1h0m-58.3 .5h0m3.2 0h0m2-.2h0m4.8 .3h0m2.3-.2h0m8.3 .1h0m.3-.2h0m1 .2h0m.7 0h0m.3 0h0m5.3-.3h0m2.2 0h0m3 .2h0m1.5-.2h0m1.6 .2h0m.8-.1h0m19.9 0h0m3.1 .1h0m-63.9 .7h0m1.7-.1h0m1.6-.2h0m.9 .1h0m1.4 .1h0m.4 0h0m6.8-.1h0m10.2 0h0m4.6 .2h0m6.3-.2h0m2.5 .2h0m4.9 0h0m1-.1h0m.4 .1h0m5.5-.2h0m6.2 0h0m2.5-.1h0m1.5 .1h0m5.7-.2h0m-57.1 .8h0m.9 .1h0m3.2-.3h0m2.3 .2h0m2.6-.1h0m1.1-.1h0m1.5 .1h0m1.3-.1h0m.4-.1h0m5.1 .1h0m2.8 .1h0m1.7 .2h0m7.2-.3h0m2.1 .3h0m6.8-.1h0m9.8-.1h0m7.2-.1h0m1.7-.1h0m.9 .4h0m-66.7 .2h0m.6 .3h0m.8-.2h0m2.9-.1h0m2.8 .3h0m2.8-.3h0m3.7 .2h0m.9-.3h0m3.3 0h0m.4 .3h0m1.8 0h0m1.2-.3h0m1.6 .4h0m1.7-.2h0m7.6 0h0m1.8-.2h0m1.3 .1h0m1.8 .2h0m.7 .1h0m3.4-.4h0m3.8 .3h0m11.1 0h0m11.9-.2h0m-62.4 .4h0m.7 .1h0m.5 .3h0m6.3-.4h0m2.4 .1h0m7.9 .2h0m9.9-.1h0m7.5 0h0m6.6 0h0m2.6 .2h0m3.7-.4h0m4.6 .2h0m-57.3 .4h0m4.7 .2h0m4.1 .1h0m1.8-.1h0m4.1-.3h0m5 .3h0m4.2-.3h0m13.9 .3h0m2.2-.1h0m.5 0h0m1.1 .1h0m4.9 .1h0m3.8 0h0m5.1-.3h0m1.3-.1h0m-55.6 .9h0m2.6-.1h0m1 0h0m1.1-.1h0m.4 .2h0m.8-.4h0m2.9 0h0m1.1 .1h0m4.8 .3h0m7.2-.3h0m9.9-.1h0m.5 0h0m10.8 .2h0m1.3 .1h0m.3 .1h0m.5-.2h0m2.5 0h0m4.1 .1h0m4.9 0h0m1.1-.2h0m2.9 .2h0m-63.2 .4h0m4.5 .1h0m3.4-.1h0m4.7-.2h0m.5 0h0m6.4 .1h0m.1 0h0m2 0h0m1 .2h0m11-.1h0m4.3 .2h0m.5-.1h0m1.4 .1h0m8.4-.2h0m12.3-.1h0m6.7 .2h0m-67 .6h0m.6-.3h0m3.9-.1h0m.4 .4h0m1.7 0h0m.7 0h0m3.9-.1h0m4 0h0m2.9 0h0m.9 .1h0m2-.4h0m1.8 .1h0m4.8 .2h0m4.6-.3h0m3.4 0h0m4.8 .3h0m2 0h0m2.7 0h0m.8 0h0m2.1-.1h0m.7-.2h0m3.1 .2h0m10-.1h0m-57.6 .5h0m1.5 .3h0m2.2-.3h0m.5-.1h0m2.3 .4h0m.7-.3h0m3.3-.1h0m.6 .3h0m2.9-.3h0m2.3 .2h0m2.4 .1h0m.8 0h0m.6-.1h0m3.8-.1h0m2.2 .1h0m6.7-.2h0m18.6 0h0m-56.6 .8h0m2.3 .1h0m.5-.3h0m.2 .3h0m4.4-.3h0m4.2 .1h0m.6 .1h0m1.2 0h0m1.4 .1h0m1.4-.4h0m5.3 .4h0m.6 0h0m2.7-.1h0m2-.1h0m2.1-.2h0m5 .2h0m.8-.1h0m.2-.1h0m4.3 .4h0m2.6-.3h0m5.7 0h0m8.7-.1h0m-53.8 .6h0m3.9 0h0m.5 .2h0m.1-.2h0m3.4 0h0m3.9-.1h0m1.3 .2h0m.8-.1h0m2.2 .3h0m6.8-.4h0m4 .2h0m3.1 0h0m1.7-.1h0m3.5 0h0m7 0h0m.5-.1h0m9.7 .4h0m-54 .1h0m2.7 .3h0m2.6-.3h0m1.7 0h0m3.5 0h0m.8 0h0m.8 .2h0m4.1 .1h0m.8 .1h0m.7 0h0m.6-.3h0m3.7 .3h0m2.3-.4h0m5.5 .4h0m3-.4h0m1.9 .2h0m4.5-.1h0m3.4 .1h0m4.6-.1h0m6.7 0h0m-54.4 .5h0m1-.1h0m8.7 .3h0m6-.1h0m2.2 .1h0m.9 0h0m.7-.1h0m1.4-.1h0m.4 .3h0m13.4-.1h0m.8 0h0m5.2-.2h0m4.9 0h0m6.1-.1h0m18.5 .3h0m-69.4 .2h0m.4 .3h0m.5 0h0m1.6-.3h0m4.6 .1h0m4 .2h0m.2 .1h0m1.3-.1h0m.8 0h0m2.2 .1h0m.3-.2h0m.8 .2h0m3.3-.4h0m1.4 0h0m1.4 .1h0m.7 .3h0m.9-.1h0m1 0h0m7.5 .1h0m1.7-.4h0m5.7 .4h0m3.9-.3h0m1.5 .2h0m7.8-.3h0m8.3 .2h0m-63.8 .4h0m2.5 0h0m3.7 .1h0m3.4-.2h0m1 0h0m1.6 .1h0m.1 .2h0m2.4 .1h0m.1-.4h0m16.9 .1h0m8.1 .2h0m4.1 0h0m2.2 .1h0m14.5-.3h0m13.4 .2h0m-74.2 .6h0m5.6-.2h0m.7 .2h0m.2-.4h0m5.3 .1h0m4.4 .3h0m6-.1h0m1.2-.2h0m.2 .1h0m5.8 .1h0m6 .1h0m4.9-.2h0m2.2 .1h0m3.1 0h0m9.1 .1h0m.7-.1h0m-49.8 .2h0m3.3 .3h0m2.1-.2h0m3.3 .1h0m4.7-.2h0m3.6 .3h0m1.1-.2h0m.7-.1h0m.4 .2h0m.4-.2h0m1.5 .1h0m4.5-.1h0m2.1 .3h0m.6-.2h0m2.5 .1h0m2.3-.2h0m3.8 .2h0m3.4-.1h0m-44.5 .6h0m3.2 .1h0m.7 0h0m1.8-.1h0m.8 0h0m1.2-.2h0m1.3 .2h0m.2 .1h0m7.8 0h0m.2-.2h0m4.2-.1h0m13.4 .1h0m.4 .1h0m-35.5 .5h0m2.7-.2h0m1.2 .4h0m1.4-.1h0m3.4-.3h0m1.7 .2h0m4.5 .2h0m4.6-.2h0m.6 .2h0m2.1-.3h0m.3-.1h0m1.1 .3h0m18.4-.2h0m19.3 0h0m-61.2 .7h0m.5 .1h0m2.6-.4h0m1.2 .4h0m2.2 0h0m1.5-.3h0m6.5 .3h0m2.5-.4h0m2.7 .4h0m3.7 0h0m2.6-.1h0m.4 0h0m1.6-.3h0m1.1 .1h0m2 .1h0m9.5-.2h0m-36.1 .5h0m1.3 .4h0m4.6 0h0m2.4-.4h0m.7 .2h0m1.1-.1h0m4.2 .1h0m5.7 .2h0m6.7-.2h0m4 0h0m2.2-.1h0m1.4-.1h0m-34.9 .5h0m2.4 0h0m1.3 0h0m.6 .4h0m4.6-.1h0m3.4-.3h0m2.4 .4h0m.4-.4h0m4.2 .1h0m2.8 .2h0m6 0h0m4.6-.1h0m1.5 .1h0m-32.5 .3h0m2 .3h0m2.9 0h0m.7-.3h0m1.5-.1h0m1.6 .2h0m2.2 0h0m1.7 .2h0m1.5-.1h0m2.3 .1h0m1.4-.1h0m10.2 .1h0m1.2-.3h0M381 220h0m2.4 .2h0m2.1-.4h0m1.8 0h0m1.3 .3h0m.6 .1h0m1.1-.1h0m2.5-.3h0m2.6 .1h0m1.7 .1h0m.2-.2h0m2.1 0h0m3.4 .3h0m6.7-.1h0m1.8-.1h0m29.2 .2h0m-60.6 .5h0m1.5 0h0m3 .1h0m1.2-.3h0m.2 .1h0m2 .1h0m1.9-.1h0m3.7 .1h0m1.1-.1h0m.6 .1h0m.6 .1h0m1.7 0h0m1.2-.4h0m4.5 .3h0m.7-.1h0m.7-.1h0m-25.8 .4h0m4.1 .1h0m1.8 .2h0m1.6-.2h0m.4 .3h0m1.2 0h0m1.1-.3h0m1.3 .1h0m1.4 0h0m1.1-.2h0m4.9 0h0m.5 .2h0m8.6 0h0m32.4 .1h0m-55.7 .6h0m2.1 0h0m1-.4h0m2 .1h0m1.4 .2h0m3.2-.1h0m4.1 .1h0m.5 .1h0m.9-.3h0m.7-.1h0m12.6 .3h0m-28.3 .5h0m.4-.3h0m2.7 0h0m.7 0h0m.7 .1h0m2-.1h0m1.1 .1h0m.4 .2h0m6.5 .1h0m.9 0h0m.5-.1h0m1.5 0h0m-22.1 .3h0m.9-.1h0m2.5 .2h0m1.2 0h0m3.3 .2h0m1.5 0h0m1.7 0h0m2.9-.2h0m1-.2h0m1.3 0h0m.9 .4h0m.4-.1h0m.3 .1h0m1.3-.1h0m2.9-.2h0m8.6 .2h0m-27 .6h0m.3-.1h0m1.1 .1h0m2.3-.4h0m2.8 .1h0m.5-.1h0m2 .2h0m5.8-.2h0m-13 .6h0m1.7 .3h0m.4-.3h0m1.5 0h0m1.2 .1h0m.9-.2h0m.3 .3h0m2.4 .1h0m5.9 0h0m.2 0h0m2.9-.1h0m-23.4 .3h0m.5 0h0m5.6 .1h0m.5-.2h0m1 .4h0m2.2 0h0m.7-.3h0m3.5 .1h0m.5-.1h0m.7 .3h0m1.6 0h0m5.5-.3h0m15.5 0h0m-33.6 .8h0m1.6 0h0m1-.1h0m2.5-.1h0m.4 0h0m.8 .2h0m1.6-.2h0m3.5-.2h0m2.7 .3h0m.9-.1h0m1.2-.2h0m.7 .1h0m-19.8 .4h0m6.8 .1h0m3.8 .2h0m5.3-.1h0m.4 .2h0m2.5-.2h0m1.7-.2h0m-17.5 .6h0m2.5 .3h0m.8-.4h0m.6 .1h0m.6-.1h0m.9 0h0m1.1 .3h0m4.4 .1h0m1.7-.3h0m1.5 .3h0m1-.3h0m4.1 .3h0m.5 0h0m11.9-.3h0M383 226h0m3.6 0h0m.3 .1h0m1.5-.1h0m1.2 .2h0m1.5-.1h0m2.3-.1h0m.8 .2h0m1.9-.1h0m.9-.2h0m.3-.1h0m.5 .1h0m3.9 .3h0m-22.4 .2h0m1.9-.1h0m2.4 .2h0m1.8 .2h0m.5 0h0m7.7-.2h0m.7-.2h0m.9 .2h0m.1 0h0m2.3-.2h0m3.7 .2h0m-18.2 .5h0m2.2-.1h0m.9 .1h0m2.3-.1h0m4.7 .2h0m.2-.2h0m.7-.1h0m1.1 .2h0m1.8 .1h0m.9 0h0m1.2-.2h0m2.7 .1h0m-21.3 .4h0m.9 .1h0m.8 .1h0m.8-.1h0m1.3 .2h0m2.5 0h0m5.4-.4h0m.9 .2h0m1.4 .2h0m.9-.4h0m1.6 .4h0m.5-.4h0m.9 .3h0m3.6-.1h0m-20.5 .3h0m2.2 .2h0m1.5-.1h0m1.5 0h0m1.1 .1h0m2.2 0h0m.8 .1h0m4.8 0h0m1.5 .1h0m.9-.4h0m1.2 .4h0m1.6-.3h0m-16.6 .4h0m1.3 .3h0m1.7-.2h0m.4 .3h0m.3-.2h0m3.8-.2h0m.5 .3h0m2-.1h0m.9 .2h0m3.9-.4h0m-16.2 .7h0m.8 .2h0m1.3 0h0m1.1-.2h0m.7 0h0m.4 0h0m1.2 0h0m1.4 .1h0m.5 .1h0m2.8-.3h0m3.2 0h0m1.8 .2h0m-14.4 .4h0m.5 .2h0m3-.4h0m4.5 .1h0m.8 .3h0m2.1-.2h0m.9 .2h0m-10.7 .5h0m1.2-.4h0m1.4 .3h0m1.5-.2h0m.6 .2h0m2.2 .1h0m1.1 0h0m1.7-.2h0m-12.1 .3h0m.5 .3h0m4.7-.2h0m2.7-.1h0m4.1 .1h0m4.9-.1h0m.5 .3h0m3.7 .1h0m-20.7 .4h0m2.4 .1h0m1.9-.1h0m4.6-.3h0m.7 .1h0m2.5 .1h0m1 .1h0m.6 0h0m2.3 0h0m.5-.3h0m.4 0h0m-16.3 .6h0m8.1 .1h0m1.1 0h0m.3-.1h0m1.5 .2h0m1.3-.1h0m.6 0h0m1 0h0m.2 0h0m-9.2 .7h0m.4-.2h0m.3 .2h0m1.8-.1h0m.2-.1h0m3.5 .1h0m-12.2 .3h0m.6-.1h0m3.6 .2h0m1.9-.2h0m4.1 .1h0m.8 .3h0m.6-.1h0m.9-.3h0m-11.7 .8h0m3.4 .1h0m1.5-.3h0m3.9 .3h0m1-.1h0m1.1 .1h0m.8-.2h0m.2 .2h0m-12.1 .5h0m3 0h0m.9-.1h0m1.1-.2h0m5.1-.1h0m-2.2 .8h0m-7.6 .2h0m4.6 .3h0m.6-.2h0m1 .2h0m-4.3 .4h0m.8 0h0m3.8-.1h0m5.2 .1h0m-8.5 .7h0m1.9-.1h0m1.4-.2h0m1.3-.1h0m1.5 0h0m-4.6 .9h0m2-.3h0m3.3 .1h0m-.3 .5h0m-2.9 1h0m8.4 3.5h0" stroke="#e9756c" stroke-width="3.30" stroke-linecap="round" fill="none"/><path d="M516 72h0m2.7 .1h0m.3 .7h0m-3.4 .5h0m8 0h0m2 .3h0m-10.9 .3h0m.1-.1h0m7.2 .2h0m.5 0h0m-9 .6h0m.3-.3h0m3.8 .2h0m.7 .2h0m2.2-.2h0m1-.2h0m-9.3 .5h0m1 .2h0m.2 .2h0m8.7-.3h0m.4 .1h0m1.3 0h0m2.6 .1h0m-13.4 .2h0m6.3 0h0m3.1 0h0m1.2 .4h0m1.1-.1h0m.3-.3h0m-13.1 .7h0m.5-.1h0m1.1 .3h0m12.3 .3h0m-11.3 .3h0m4.7 0h0m3.6 .4h0m3.4-.2h0m1 .1h0m1.7 0h0m.4-.1h0m-17.3 .6h0m2.3 0h0m5.7 .1h0m.7-.3h0m1.9 .3h0m5-.2h0m-16 .3h0m4.4 0h0m.9 0h0m3.3 .4h0m.5-.1h0m9.5-.1h0m-19.8 .5h0m5.3 .1h0m10.6 0h0m-15.5 .3h0m1 .2h0m.9 0h0m2.6 0h0m3.2-.2h0m-4.1 .8h0m2.9-.1h0m2.4-.2h0m1.4-.1h0m4.7 0h0m.6 0h0m.7 0h0m1.1 .1h0m-15.8 .8h0m2.5-.3h0m3.5 .3h0m2.8 0h0m-9.3 .5h0m8.1-.2h0m5.9 0h0m-9.4 .6h0m4-.2h0m5.1 .3h0m.9 0h0m2.2-.2h0m.4-.2h0m-13.9 .9h0m4.7-.4h0m2.3 .3h0m2.7-.3h0m3 .2h0m2.7-.2h0m-16.3 .9h0m2.9-.2h0m.3-.1h0m2.5 .2h0m4.2 0h0m1.5-.1h0m3.2 0h0m.9 0h0m-16.7 .4h0m4.9 .1h0m11.9-.2h0m1.4 0h0m-19.5 .8h0m4-.2h0m.8 .2h0m1.2 0h0m.8 .1h0m.8 0h0m7.9-.2h0m2.1-.2h0m.7 .2h0m-16.6 .6h0m7.5-.1h0m1-.1h0m6.3-.1h0m-16.5 .9h0m3-.1h0m1.6 .1h0M533 84h0m-21.8 .4h0m1.6 .1h0m8.9-.2h0m7.7 .4h0m.8-.3h0m2.5 0h0m-21.1 .6h0m8.3-.1h0m11.3 .2h0m2.3-.1h0m-21 .4h0m4.2 0h0m1.9 .3h0m5.9-.1h0m1.4-.3h0m.4 .4h0m5.2-.3h0m-9.3 .8h0m2.2-.4h0m4.2 0h0m-10.7 .6h0m1.7-.1h0m.3 0h0m1.6 .3h0m6.1 .1h0m3-.2h0m-14.5 .5h0m6 .1h0m4 .1h0m4.7-.3h0m1.5-.1h0m-14.4 .5h0m9.4 0h0m-13.9 .5h0m.7 .3h0M520 88h0m.7 0h0m7 .2h0m-7.4 .2h0m2.5 .1h0m7 .1h0m-10.6 .3h0m2.4-.1h0m2.8 .1h0m1.3 .1h0m4.2 .1h0m-11.5 .3h0m1 0h0m6 0h0m-10.5 .7h0m.8-.3h0m3.2 .1h0m6.7 0h0m5.5 .3h0m-17 .3h0m.5 0h0m.2 .1h0m1.4-.1h0m3.8 0h0m1 .1h0m5.2 .1h0m3.5-.4h0m-13.1 .6h0m1.7 .2h0m.9 .1h0m2.8-.1h0m1.3-.2h0m8.5 0h0m-16.8 .5h0m2.1 .2h0m1.6-.2h0m8.9-.1h0m.8 .4h0m-12.2 .3h0m.9 .1h0m2.6 .1h0m3.8-.3h0m2.9 .5h0m-9.3 .4h0m3.9 .1h0m3.1 .3h0m-3.1 .3h0m.8-.2h0m1 .2h0m.5 .2h0m3 0h0m-9.1 .2h0m2.3 .2h0m6.2-.1h0m1.9-.1h0m-6.3 .7h0m.6 .1h0m.5-.2h0m2.4-.1h0m-1.8 .5h0m.7-.1h0m.3 .1h0m.9 .1h0m-6.3 .3h0m2.9 .6h0m2 .1h0m1.2 0h0m-3.5 .5h0m-1.1 .4h0m-.9 1.2h0m8.5 .3h0m.3-.1h0m-10.5 .9h0m6.1-.4h0m-3.3 .6h0m3.8 .2h0m1.2-.3h0m-7.6 .6h0m2.7 .5h0m3.7 0h0m1.6 0h0m.1 .8h0m-3.7 .4h0m-.7 .7h0m4.5 0h0m-4.7 1.4h0m3.4-.4h0m-4 .5h0m.7 0h0m-.9 1.2h0m1.2 .1h0m1 .4h0m.4-.2h0m-1 .5h0m-1 .6h0m-3.2 4.8h0m3.9-.2h0m-6.6 1.9h0m1 2h0m-2 1.1h0m.3 1.9h0m6.9-.1h0m-.8 .8h0m-5.7 3.9h0m1.2 0h0m2.9 0h0m4.9 .9h0m-1.2 .6h0m-8.1 1.5h0m6.6 3.6h0m-.3 6h0m-5 1h0m6.9 .2h0m1.3 0h0m-4.8 .5h0m1.7 1.6h0m2.5 .9h0m-6.8 1.5h0m.3 .1h0m2.4 1.3h0m1.1 2.6h0m-1.1 1.8h0m-2 1.1h0m3.3 1.6h0m-2.1 1.6h0m4.5 .7h0m1.6 .2h0m-.9 2.8h0m-5.5 .7h0" stroke="#a0a21e" stroke-width="3.30" stroke-linecap="round" fill="none"/><path d="M530.9 158.3h0m12.6 5.2h0m-10 1h0m7 1.4h0m16 .6h0m-6.9 .5h0m-22.2 .5h0m3.1 2.2h0m21.8-.1h0m-30.2 .5h0m3.4-.2h0m26.9 1.3h0m-24.5 .2h0m8.6 .2h0m8.7 .1h0m.4 0h0m5.2 .2h0m3 .2h0m-25.9 .2h0m5.6 .3h0m25.4-.3h0m-25.6 .5h0m3.1 .1h0m26.3 .3h0m-40.9 .3h0m38-.1h0m-20.5 .6h0m11.6-.1h0m-3.3 .5h0m20.6 .3h0m-37.5 .2h0m20.2 0h0m-16.9 .8h0m20.1 0h0m-28.8 .5h0m22.8 0h0m8.8 0h0m5.7-.1h0m7.2-.2h0m-42 .7h0m5.4-.1h0m9.1-.1h0m-3 .7h0m6.3-.2h0m2.4 .1h0m.4-.2h0m-14.8 .7h0m2.9 .2h0m5.9 0h0m2.6-.2h0m-11.4 .6h0m29.2 .1h0m-29.1 .2h0m5.8 .2h0m8.5-.1h0m11.5 .2h0m-25.7 .2h0m11.1 .3h0m8.8 0h0m8.1-.1h0m4.1-.2h0m-20.5 .7h0m5.6-.3h0m.4 .2h0m19.6-.1h0m-43.5 .4h0m6 .2h0m11.6 .2h0m3.2-.3h0m5.1 0h0m3.3 0h0m2.3 .1h0m1.5 .1h0m7.6-.1h0m-31.7 .3h0m5.9 0h0m3.1 .2h0m2.6 .2h0m3.1 0h0m8.4 0h0m3.4 0h0m2.6-.4h0m8.9 .3h0m-43.9 .2h0m.3 .4h0m2.8-.1h0m20.6-.2h0m2.6 0h0m5.9 .3h0m-26.2 .5h0m8.6-.4h0m2.9 .3h0m20.6 .1h0m2.7 0h0m-20.3 .4h0m.3-.1h0m2.9 0h0m2.5 .1h0m5.8 .1h0m2.8-.1h0m8.9-.3h0m-38.1 .8h0m11.8-.1h0m.4-.1h0m2.7 .3h0m3.2-.3h0m11.1 .1h0m-14.5 .6h0m3 .1h0m2.6-.4h0m.5 .1h0m2.4 .2h0m6.7 .1h0m5.1-.4h0m.6 .3h0m-29.6 .6h0m6.2 0h0m2.6 0h0m2.9-.1h0m2.9-.1h0m.4 .1h0m2-.1h0m.6 0h0m6.3 .2h0m8.2-.4h0m.2 .3h0m-50.1 .4h0m.6 .1h0m17.2-.3h0m8.5 .2h0m12.1-.1h0m.4 0h0m-21.1 .7h0m.4 0h0m5.8-.3h0m.4 0h0m5.1 .2h0m.5 0h0m2.3-.1h0m3.2 .3h0m.1-.1h0m2.5-.3h0m3.2 .2h0m-28.9 .6h0m5.8-.3h0m2.5 .2h0m3-.1h0m24.7-.1h0m-21.8 .6h0m5.9 .3h0m.4-.3h0m2.5 .2h0m.2 0h0m-10.4 .6h0m7-.3h0m2.9 .1h0m3.1 0h0m6.1 0h0m-20.5 .3h0m6 .4h0m2.5 0h0m3.2-.1h0m5.8 0h0m.4 0h0m2.7-.3h0m2.6 .2h0m.4 0h0m14.1 0h0m-40.5 .5h0m11.8-.2h0m2.5 .2h0m3.3 0h0m8.2 .1h0m15.2-.3h0m2.5 .1h0m-40.8 .6h0m11.5 .1h0m3.3-.1h0m2.9 .1h0m5.6 .1h0m.3-.3h0m5.2 .1h0m-17.2 .7h0m.4-.2h0m5.7 .2h0m6-.4h0m-20.4 .8h0m2.1-.2h0m12.1 0h0m3.3 .1h0m11.5 .1h0m-23.5 .5h0m2.9-.1h0m3.2-.2h0m8.2 .4h0m2.9-.1h0m8.8-.2h0m-28.8 .4h0m2.9 0h0m3.3 .1h0m5.1-.1h0m3.5 .4h0m8.2-.4h0m2.8 .1h0m2.9 0h0m-34.8 .6h0m11.7 .1h0m6.2-.3h0m5.1 .3h0m17.4-.2h0m7.2 .2h0m-47.4 .2h0m5.8 0h0m14.6 .2h0m2.9 .2h0m1.6-.2h0m1.2 0h0m8.8 .2h0m-26.2 .2h0m20.3 .3h0m.6 0h0m8.1-.3h0m-34.9 .6h0m5.7-.1h0m11.7-.1h0m6.1 .1h0m2.9 .2h0m2.9-.2h0m-17.3 .6h0m2.7 0h0m20.3 .2h0m-32 .4h0m5.7 0h0m.7-.1h0m2.5-.1h0m11.6 0h0m2.8-.1h0m5.4 .1h0m1-.1h0m5.4 .1h0m-38.2 .7h0m3.3-.2h0m8.5 0h0m3-.1h0m5.8 .1h0m.5 .1h0m11.5-.2h0m-23 .6h0m7.6-.1h0m.7 0h0m2.5 .1h0m6.2 0h0m2.6 .2h0m3-.3h0m10.9 .2h0m-36.6 .7h0m1.2-.2h0m1.2-.1h0m9.1 0h0m8.4 0h0m2.8 .3h0m3.1-.1h0m2.6 0h0m-28.4 .6h0m2.4-.3h0m5.9 0h0m2.9 .2h0m3.5-.3h0m2.3 .3h0m3-.3h0m8.3 .2h0m.6-.2h0m4.5 .3h0m-36.5 .2h0m11.1 .4h0m3.3-.1h0m8.6-.3h0m2.5 .2h0m.3-.2h0m-23.1 .8h0m11.6 0h0m3-.2h0m2.7-.1h0m.4 .2h0m5.8-.2h0m11.1 .3h0m-31.7 .6h0m5.7 0h0m3.4-.3h0m8.3-.1h0m2.8 .3h0m8.8-.3h0m8.4 0h0m-40.6 .8h0m.4 .1h0m14.8-.2h0m17.1 .1h0m-11.8 .2h0m9.3 .1h0m-6 .4h0m2.1 0h0m-14 .5h0m5.4 .1h0m.5 .2h0m5.3-.1h0m.4 .1h0m.3 .1h0m2.7-.3h0m5.5 0h0m-13.9 .5h0m5.2-.1h0m2.9 .3h0m.3-.1h0m2.6-.2h0m3.1 .3h0m3.3 .1h0m8.4-.4h0m-23.3 .6h0m-14.4 .4h0m5.6 .2h0m5.9-.1h0m2.5 .2h0m3.7-.1h0m5.2-.1h0m.3 .3h0m2.6-.2h0m9.7 .2h0m-24 .4h0m9-.2h0m5.2 .2h0m2.9 0h0m3.2-.1h0m-22.6 .4h0m2 .3h0m6.1-.2h0m3.2-.1h0m3 .2h0m2.4 0h0m2.7-.2h0m3.3 .3h0m-14.5 .5h0m5.7-.2h0m3.1 .1h0m2.3-.2h0m.6 .3h0m5.3-.4h0m-11.1 .6h0m17 .1h0m-32.7 .5h0m6.9-.2h0m3.4 .2h0m8.1 .2h0m3.1-.3h0m5.7-.1h0m-23.3 .8h0m17.3-.2h0m3 .3h0m3.1-.2h0m2.9-.1h0m2.6 0h0m-17.1 .7h0m5.4-.3h0m.4 .1h0m2.5 .1h0m6.2-.2h0m-17.9 .5h0m3.3 .2h0m2.6 .1h0m2.6 0h0m.2 .1h0m9.2-.3h0m2.4 .2h0m-16.9 .3h0m5.2 0h0m2.6-.1h0m3.8 .4h0m-20.6 .2h0m5.3 0h0m3.2 .2h0m3.2-.2h0m2.4-.1h0m12 .2h0m-31.6 .3h0m16.9 .2h0m6.2 .1h0m2.9-.3h0m5.4 .3h0m-17.1 .5h0m3 0h0m3.1-.2h0m11.1 .3h0m-28.5 .4h0m13.8-.3h0m3.6 .1h0m8.9-.1h0m2.5 .2h0m-11.7 1.2h0m.2-.4h0m5.6 .4h0m2.8-.1h0m.1-.1h0m-17.6 .6h0m8.6-.1h0m6.2-.1h0m-8.9 .7h0m9.1 0h0m5.1-.1h0m-2.5 .7h0m-17.1 .3h0m9.8 .2h0m4.6 .4h0m2.2-.3h0m-5.1 .6h0m8 0h0m-2 .6h0m-6.4 .8h0m6 .3h0m.5-.1h0m-9.1 .4h0m8.4 .6h0" stroke="#32b47a" stroke-width="3.30" stroke-linecap="round" fill="none"/><path d="M651.4 152h0m.1 .9h0m1-.1h0m-1.5 .9h0m.8 .4h0m.8-.2h0m1.4 .3h0m.3 .3h0m-2.5 .5h0m1.4-.2h0m1.3 .4h0m1.5-.3h0m-4.9 .8h0m.9-.4h0m4 .5h0m1 .3h0m-.1 .4h0m-3.5 .7h0m.7-.4h0m2.7 0h0m-7.2 .9h0m.4 0h0m.4-.4h0m2.4 .3h0m1.2-.1h0m.3 .2h0m3.5 0h0m-3 .4h0m-1.8 .4h0m4.2 .2h0m.1 0h0m-8.2 .1h0m2.8 .4h0m2.5-.1h0m-8.8 .4h0m4 .2h0m.8-.2h0m4.3-.1h0m-3.5 .8h0m.1-.3h0m2.8-.1h0m2 .1h0m3.7 .2h0m-6.3 .2h0m.3 .2h0m-7 .7h0m2-.4h0m6.9 0h0m2.4 .3h0m.8-.2h0m1 .1h0m-10.3 .6h0m.6-.2h0m1.9 0h0m2.9 .2h0m4.8 .1h0m-14.2 .3h0m.7-.1h0m10.7 .3h0m1-.2h0m1 .1h0m1.2 .1h0m.9-.2h0m-11.7 .6h0m4.3 .1h0m2.9-.1h0m-.8 .6h0m2.4-.2h0m3.8-.2h0m.3 0h0m-12.6 .8h0m1.3-.1h0m3.1 .1h0m.3 .1h0m5.3-.2h0m1.8-.2h0m2.2 .1h0m-19.2 .7h0m3.4 .1h0m1.1-.2h0m3.2-.2h0m.9 .1h0m1.6 .2h0m.1-.3h0m5.9 .1h0m.4-.1h0m.4 .1h0m.6 .3h0m-13.2 .4h0m3.7-.1h0m2-.2h0m.9 .1h0m2.9 .1h0m1 .2h0m1.8-.1h0m2.5-.1h0m-22 .4h0m4.1 .2h0m3.2 0h0m2-.3h0m5 .2h0m7 0h0m-21.9 .7h0m.5-.3h0m4.6 0h0m.6-.1h0m.6 .2h0m7.4 0h0m5.2-.2h0m1.9 .4h0m.5 0h0m.4-.3h0m2.7 .1h0m-23.2 .5h0m5 0h0m1-.1h0m.8 .1h0m.9-.2h0m1.6 .4h0m.5-.1h0m7.5-.1h0m1.7-.2h0m3.9 .1h0m-23.1 .6h0m.4 .1h0m3.1-.1h0m1.3 .1h0m2.5-.1h0m4.2 .1h0m4.3 .1h0m4.2-.2h0m.6-.2h0m-16.9 .9h0m3.6-.1h0m1.7-.2h0m7.2 .2h0m1.4-.3h0m5.7 .4h0m-21.7 .5h0m1.5 0h0m2.1-.3h0m1.4 .3h0m2.2-.4h0m2.7 .3h0m1.2-.2h0m.6 .2h0m1.4-.1h0m1 .1h0m1.2-.1h0m1 .1h0m3.7 .1h0m-16.1 .5h0m4.9-.1h0m6.4 .1h0m6.8-.4h0m-25.9 .6h0m2.5 0h0m1.3 .3h0m1.8-.3h0m1.3 .1h0m10.5 .2h0m1.2-.3h0m3 .2h0m.9-.1h0m1.5 0h0m-25.2 .6h0m6.2-.3h0m4.5 0h0m5.5 .3h0m2-.2h0m2.4 0h0m1.2 .3h0m1.3-.1h0m-25.4 .2h0m.7 .2h0m6.3-.2h0m7.8 .3h0m3.5-.2h0m5.4 .2h0m6.3-.2h0m-24.8 .4h0m.4 .1h0m3.1 .2h0m2.1-.2h0m4.6 .3h0m.4 0h0m1.4-.1h0m.5-.3h0m2.2 .2h0m1.3-.2h0m.3 .1h0m.6 .1h0m1.4-.2h0m.8 0h0m.2 0h0m-22.5 .6h0m5.7-.1h0m6.1 .1h0m1.7 0h0m4.9 .3h0m7.7-.3h0m1.1 .2h0m.8 0h0m-25.3 .5h0m8.5-.2h0m1.4 .1h0m.4 .1h0m13.3-.1h0m-24 .3h0m.7 .4h0m3.6-.3h0m3.2 .1h0m1.3 .1h0m7.5-.2h0m2.2 0h0m5.9-.1h0m-32 .9h0m10.3-.4h0m10.5 .3h0m2-.3h0m4 .2h0m1.5 .1h0m3.2 0h0m-22.7 .6h0m8.3-.4h0m1.6 0h0m4.5 0h0m.8 .4h0m2.8-.2h0m1.8 0h0m3.1-.2h0m.9 .4h0m.8-.3h0m.7-.1h0m-34.9 .7h0m15.8 .2h0m5.9 0h0m2.5-.3h0m1.2-.1h0m.7 .3h0m6.3 .1h0m-28.4 .4h0m4-.2h0m4.5 .3h0m2.4-.1h0m3-.3h0m.7 .4h0m1-.3h0m1.5-.1h0m2.3 .1h0m.6 0h0m.8 .3h0m4.3-.4h0m2.9 .2h0m-27.5 .4h0m4.3 .1h0m2.4 .1h0m5.8 .1h0m1.9-.4h0m4 .4h0m.5-.2h0m5.9-.1h0m-31.1 .8h0m13.5-.4h0m5.3 .3h0m3.8-.3h0m5.5 .1h0m5.2 .1h0m1.7-.2h0m.7 0h0m-22.6 .9h0m.7-.3h0m1.6 .1h0m4.2 .2h0m2 0h0m7.6-.1h0m-26.5 .4h0m6.6 .1h0m.5 0h0m7.8-.2h0m.5 .3h0m3.4 0h0m8.8 0h0m4.5-.2h0m-36.1 .6h0m11.5-.1h0m1.8-.1h0m1.5 .3h0m2.9-.3h0m1-.1h0m10.4 .1h0m1.1-.1h0m4 .4h0m2.4-.2h0m.7 .2h0m-24.3 .5h0m2.2-.1h0m4.9 .1h0m.1 0h0m5.4-.1h0m4.6-.3h0m1.8 .3h0m2-.1h0m-29.2 .5h0m6.2-.1h0m6.9-.1h0m4 .3h0m.4 .1h0m5.4-.1h0m-1.1 .3h0m6.3 0h0m3.7-.1h0m.3 .1h0m-20.1 .4h0m.7 .1h0m4.5 .1h0m2.3-.1h0m1.2 .1h0m.6 0h0m-8.4 .6h0m5-.2h0m1.4 .2h0m5.9-.1h0m1.2 .2h0m.6-.3h0m2.2 0h0m.2 .1h0m1 .1h0m-32.3 .6h0m12.9-.1h0m1.1-.1h0m8.6-.2h0m7.8 .1h0m.9 .3h0m.7-.1h0m-25.5 .4h0m2 .1h0m7.2-.2h0m.3 .3h0m.9-.2h0m3.3 .1h0m3.2-.3h0m7.3 .1h0m.9 .3h0m.5 0h0m-22 .1h0m3.1 .4h0m1.4-.4h0m4.2 0h0m3.1 .2h0m5 .1h0m1.1-.2h0m.6-.1h0m1.1 0h0m1.7 0h0m.5 .1h0m-18.6 .7h0m2.4-.3h0m.5 .4h0m.3-.4h0m5.6 0h0m4.1 .4h0m-30.3 .1h0m3.4 .3h0m12.7 .1h0m6.8-.1h0m3 0h0m10.7-.3h0m-35.2 .5h0m11.6 0h0m.8 .4h0m13.7-.1h0m-22.5 .3h0m4.1 .2h0m1.8-.1h0m2.7-.1h0m3.9 .2h0m1.5-.2h0m.4 .1h0m1.4 .2h0m6.4-.2h0m1.5 0h0m1.1-.2h0m1.9 0h0m.5 .2h0m2.8 .2h0m-16.6 .1h0m1.2 .4h0m3.8-.4h0m4.4 .2h0m.6 0h0m4.5 .1h0m-35.2 .3h0m1.8-.1h0m.8 .4h0m16.1-.1h0m5.7-.2h0m1.8 .2h0m2.8-.3h0m3.5 .3h0m2-.1h0m.9-.1h0m-32.8 .4h0m12.5 .2h0m.3 .2h0m.3-.4h0m.7 .1h0m1.8 .1h0m3.5-.2h0m.6 .4h0m.9-.2h0m.7 .1h0m.7-.3h0m2.9 .2h0m2.5-.1h0m3.4 0h0m-32.6 .8h0m2-.2h0m7.1-.1h0m7.1 .3h0m2.2-.3h0m-8.3 .5h0m9.7 .3h0m1.5-.1h0m2.4 0h0m-12.5 .5h0m3.2-.2h0m1.6-.1h0m2.3 .2h0m.7 0h0m1.1 0h0m-21.9 .6h0m12.3 .1h0m4.4-.2h0m1.3-.2h0m2.2 .4h0m1.1 0h0m6.8-.4h0m-21.9 .6h0m7.5-.1h0m5.9 .2h0m2.3 0h0m1.9-.2h0m1 0h0m1.3 .1h0m-16.9 .6h0m10.7-.2h0m1 .1h0m1.7 .1h0m-18.1 .5h0m11.7 .2h0m5.2-.3h0m-17.5 .8h0m6.2-.3h0m7.5 .1h0m3.2 .4h0m-21.6 .4h0m.7 .2h0m11.2 .5h0m9.3 .2h0m-21.8 .2h0m9.6 0h0m11.3 .4h0m-21.5 .5h0m17.7 0h0m-14 .7h0m1.3 .5h0m7.6-.1h0m-10.9 .8h0m12.1-.2h0m1.6-.1h0m-16.2 .4h0m13 .3h0m3.5 .1h0m-2.8 .2h0m-5 .8h0m-.3 .1h0m-3.9 .6h0m3.6 0h0m5.3 .2h0m-11.8 .3h0m6.3-.1h0m1 .1h0m-8.8 .4h0m9.2 .6h0m-2.6 2.5h0m-7.9 1h0m5.8 .1h0m-4.7 1.3h0m2.4 .4h0m-4.8 1.4h0m5.3 0h0m-4.9 2.3h0" stroke="#2aa8e2" stroke-width="3.30" stroke-linecap="round" fill="none"/><path d="M617.4 217.7h0m-7.9 .6h0m.7 .4h0m.6 .1h0m.7 .5h0m.8 .6h0m-1.4 1h0m1.8-.1h0m-5.5 .5h0m9.6 .5h0m-6.7 1.1h0m8.1 .8h0m-5.3 .7h0m1.7 2.5h0m-6.7 1.3h0m3.1-.3h0m5.2-.1h0m1.9 .4h0m-2.5 1h0m-4.9 .7h0m5.8-.1h0m.4 1h0m.9 0h0m-1.6 2.1h0m.4 .2h0m3.3 1.2h0m-7 1.2h0m10 0h0m-7.9 .3h0m4.4 1.1h0m.7 .3h0m-.8 .5h0m5.3-.4h0m-4.5 .8h0m-3.4 .7h0m.8 .6h0m.7 0h0m6.4 .4h0m1.9 .3h0m-10.8 1.8h0m4.1 .4h0m-1 .6h0m3 .2h0m1.8 .1h0m5.3 .4h0m-11.7 .6h0m8.4-.2h0m5.6 .2h0m-8.4 .1h0m-4.1 1.4h0m2.4-.4h0m7.8 1h0m-8.1 .7h0m8.3 1.3h0m6.3 .9h0m-20.5 .3h0m14.4 .2h0m-.2 .5h0m-7.1 .5h0m2.3-.4h0m-1.2 .6h0m4.1 1h0m-4.1 .4h0m-.9 .6h0m3.4 .1h0m2.6-.1h0m-7 .8h0m2.3-.2h0m-4.4 .7h0m2.8-.1h0m-4.9 .3h0m1.1 .2h0m3.6-.1h0m2.3 0h0m6.5 .5h0m-7 1.1h0m-2.8 .5h0m6.1-.1h0m6.7-.2h0m-8.5 .9h0m4.6-.1h0m3.5-.3h0m-11.9 .7h0m5.2-.1h0m.5 .3h0m7.8 .7h0m2.2 .2h0m-8.2 1h0m5.5 .3h0m-7.4 .8h0m6-.2h0m-.4 .3h0m-5.5 .6h0m1.5-.1h0m4.7 .4h0m1.6 .1h0m-5.8 .9h0m6.5 .1h0m-8.3 .8h0m7 .6h0m-2.8 .3h0m-8.7 .4h0m8.5 .3h0m.5 0h0m-.8 .2h0m1.8-.1h0m-3.2 .5h0m8.2 .2h0m-10.9 .6h0m-1.9 .3h0m1.5 .1h0m2.4 0h0m5.1 0h0m.6 .1h0m-3.3 .5h0m3.4 .3h0m-6.3 1.3h0m3.6-.3h0m6.3 .2h0m-5.4 .3h0m.8 .1h0m-8.1 .9h0m.6 0h0m11.2 .2h0m-8.6 1.3h0m.7 .2h0m9.3 0h0m-2.9 .6h0m1.8-.2h0m1.3 0h0m-5.8 .3h0m.7 .2h0m4.4 .1h0m.7-.1h0m1.5 .2h0m-6.1 .5h0m.6-.2h0m4.6 0h0m-5.8 .4h0m1.5-.1h0m5.8 .2h0m-14.4 .3h0m6.5 .1h0m5.7 .2h0m1.3-.3h0m.7 .5h0m-6.4 .9h0m1.1-.1h0m.9-.2h0m4.2-.1h0m.6 .3h0m-2 .2h0m-1.4 .6h0m.8 .1h0m1.9 0h0m.5-.2h0m-7.9 .7h0m5.8-.1h0m.9 .1h0m-7 .8h0m6.2 .1h0m-5.2 .7h0m3.8-.3h0m3.7 .1h0m-8.8 .8h0m3.3-.4h0m5.7 0h0m-5 .9h0m1.3-.2h0m-5 .7h0m4.3-.2h0m1 .2h0m.3-.1h0m-.2 .6h0m.7-.2h0m2.1 .1h0m1.4-.1h0m-9.6 1.1h0m8.9 0h0m-8.7 .3h0m2.4 .3h0m3.9 0h0m4.3-.3h0m-11.6 .5h0m6.1-.1h0m.2 .5h0m1.7 .3h0m-.1 .6h0m-7.2 .4h0m9 0h0m-9 .3h0m1 .2h0m9.8-.3h0m-9.1 .8h0m4.9-.2h0m1.6 .3h0m-6.6 .1h0m5.3 0h0m3.5 .8h0m-10.6 .3h0m.5 .3h0m1.3 0h0m1.2-.1h0m1.3 0h0m-1.8 .5h0m1.1 0h0m-2.2 .5h0m6.5-.3h0m1.1 .1h0m.4 .1h0m-10.3 .7h0m1.2-.1h0m3.3-.3h0m-1.9 .6h0m6.1 .3h0m1-.3h0m1.2 .2h0m-3.5 .2h0m-1.8 .7h0m1.8-.1h0m.4 0h0m2.7 .3h0m-12.5 .5h0m6.7 0h0m.8-.1h0m-6 .5h0m6.1-.1h0m5.3-.2h0m-2.6 .7h0m2 .1h0m-8.7 .6h0m2.6 0h0m6.6-.3h0m-10.2 .5h0m.9-.1h0m8 .4h0m1.3-.2h0m-14.2 .4h0m.5-.1h0m.2 .4h0m3.2-.4h0m2.3 .3h0m-6.2 .4h0m5.1-.2h0m2.7 .4h0m1.9 0h0m1.6-.3h0m1.1 .3h0m-12 .2h0m1.8 .3h0m2.3-.1h0m8.1 0h0m-7.6 .2h0m-4.2 .6h0m4.2 .2h0m.8-.1h0m2.5 .2h0m2-.4h0m-5.2 .5h0m8.1 .3h0m-13.7 .2h0m1.5 .4h0m2.2-.2h0m2.6 .2h0m2.7-.4h0m.3 .2h0m.5-.2h0m2.1 0h0m1 .4h0m-17.2 .2h0m2.2 .1h0m9 .2h0m2.1 0h0m1.6-.1h0m1.7-.1h0m.6-.1h0m-15.1 .8h0m7.8-.4h0m.4 .4h0m7-.4h0m-12.7 .6h0m6 .1h0m1.6 0h0m4.1 0h0m-14.2 .4h0m10.8 .1h0m-5.1 .5h0m3.6 .1h0m-9.4 .6h0m3.4-.4h0m11.4 .2h0m-12.1 .3h0m8.1 0h0m-13.4 .7h0m.3-.1h0m4.9 .3h0m.9-.2h0m10.3 .1h0m-15.2 .6h0m6.3-.2h0m1.4 .2h0m1.2-.4h0m2.9 0h0m.5 0h0m-13.2 .6h0m13.9 .3h0m1.3-.2h0m-16.1 .7h0m1.1-.1h0m1.2-.1h0m1.1-.2h0m4.5 .4h0m-7.2 .2h0m3.4 .1h0m4.1 .1h0m-6.7 .6h0m2-.1h0m3.9 .1h0m7-.1h0m1.2-.2h0m-14.8 .5h0m3.2 .3h0m3.2-.4h0m6 0h0m-13.2 .8h0m2.7-.1h0m2.5-.1h0m6.7 0h0m2.4 .3h0m2.2 0h0m-9.4 .4h0m2.7-.1h0m6.2 .2h0m-12.3 .1h0m5.2 .1h0m6.9 .1h0m-12.2 .4h0m5.3 .2h0m3.2-.1h0m-2.8 .6h0m7.1-.2h0m-8.3 .6h0m2.8 .1h0m1.6 0h0m1.9 .1h0m1 0h0m-14.2 .4h0m.9-.2h0m2.3 .2h0m2.3-.3h0m2.2 .3h0m2.1-.3h0m.4 .1h0m-11.3 .6h0m13.3 .1h0m-8 .3h0m2.3 .3h0m1-.3h0m1.4 .1h0m.5 .6h0m2.2 .1h0m1.6-.2h0m-13.7 .4h0m8.8 0h0m2.2 0h0m-6.4 .8h0m3.4-.4h0m.6 .4h0m1.1-.3h0m2.7 .3h0m-10.9 .2h0m2.6-.1h0m5.4 .3h0m.6-.2h0m1 .5h0m1.6-.1h0m.3 0h0m1.6 .4h0m-13.1 .1h0m5.3 .3h0m1.5 0h0m3.2-.3h0m-7.8 .9h0m5.1 .5h0m1.1-.3h0m-10.7 .8h0m1.6 .5h0m2.3-.3h0m5 0h0m-2.9 .7h0m1.5 .1h0m5.4 0h0m-11.4 .2h0m2.1 .3h0m2.4-.3h0m2.2 .1h0m1.4 0h0m3.6 0h0m-13 1.1h0m5.1-.3h0m.7 .1h0m3.1-.1h0m-7 .7h0m1.7-.2h0m6.3 0h0m-8.9 1h0m10.5 0h0m.9 0h0m-10.8 .6h0m.8 0h0m-2.2 .5h0m1.8 0h0m3 .1h0m1.9-.2h0m.4 .1h0m-7.1 .4h0m1.7 .2h0m2.7-.2h0m1.5 .2h0m6.9-.2h0m-10.6 .6h0m3.6-.1h0m.1 .9h0m1.9-.2h0m4.2 .2h0m-10.8 .4h0m5.2 .6h0m.8-.4h0m.5 0h0m1.2 .1h0m-6.6 .6h0m3.3-.2h0m-5.2 .9h0m1-.3h0m4.4 .1h0m2.2-.2h0m1.5 .3h0m.8-.3h0m-7.4 .6h0m3.4 .1h0m-1.1 .5h0m3 0h0m3.1-.1h0m-8.5 1h0m1.6 .1h0m2.6 .2h0m-2.9 .3h0m2.5-.2h0m1.6 .6h0m-7.6 .5h0m3.7 .2h0m-1.2 .6h0m5.8-.3h0m-6.8 .7h0m3.5-.1h0m-2.7 1.1h0m1.1-.3h0m.4 .4h0m-2.3 .3h0m1.3-.2h0m1 .1h0m2.4 0h0m-1.2 .4h0m2.8 .1h0m-.8 .5h0m-3.8 .5h0m2.8 0h0m.5-.1h0m-5.8 .6h0m3 .1h0m2.1 .2h0m-3.8 .2h0m-.6 .9h0m1.2 .6h0m3.1-.1h0m-3.4 1.4h0m.7 .1h0m.9 .2h0m-.9 .6h0m.3 .2h0m-1 .5h0m3.2 .5h0m-2.2 .5h0" stroke="#b57db9" stroke-width="3.30" stroke-linecap="round" fill="none"/><line x1="608.1" y1="211.6" x2="633.4" y2="283.0" stroke="#000" stroke-width="0.90"/><circle cx="521.7" cy="159.8" r="4.3" fill="#000"/><text x="521.7" y="162.1" font-size="6.60" fill="#e8e8e8" text-anchor="middle" font-family='"Liberation Sans", sans-serif' >2</text><circle cx="608.1" cy="211.6" r="4.3" fill="#000"/><text x="608.1" y="213.9" font-size="6.60" fill="#e8e8e8" text-anchor="middle" font-family='"Liberation Sans", sans-serif' >1</text><line x1="23.0" y1="423.6" x2="23.0" y2="708.5" stroke="#a6a6a6" stroke-width="0.90"/><line x1="22.6" y1="708.0" x2="338.4" y2="708.0" stroke="#a6a6a6" stroke-width="0.90"/><line x1="20.8" y1="481.4" x2="23.0" y2="481.4" stroke="#333" stroke-width="0.80"/><text x="19.6" y="483.5" font-size="6.10" fill="#444" text-anchor="end" font-family='"Liberation Sans", sans-serif' >5</text><line x1="20.8" y1="564.0" x2="23.0" y2="564.0" stroke="#333" stroke-width="0.80"/><text x="19.6" y="566.1" font-size="6.10" fill="#444" text-anchor="end" font-family='"Liberation Sans", sans-serif' >0</text><line x1="20.8" y1="646.6" x2="23.0" y2="646.6" stroke="#333" stroke-width="0.80"/><text x="19.6" y="648.8" font-size="6.10" fill="#444" text-anchor="end" font-family='"Liberation Sans", sans-serif' >−5</text><line x1="23.0" y1="708.0" x2="23.0" y2="710.2" stroke="#333" stroke-width="0.80"/><text x="23.0" y="715.9" font-size="6.10" fill="#444" text-anchor="middle" font-family='"Liberation Sans", sans-serif' >−20</text><line x1="115.5" y1="708.0" x2="115.5" y2="710.2" stroke="#333" stroke-width="0.80"/><text x="115.5" y="715.9" font-size="6.10" fill="#444" text-anchor="middle" font-family='"Liberation Sans", sans-serif' >−10</text><line x1="208.0" y1="708.0" x2="208.0" y2="710.2" stroke="#333" stroke-width="0.80"/><text x="208.0" y="715.9" font-size="6.10" fill="#444" text-anchor="middle" font-family='"Liberation Sans", sans-serif' >0</text><line x1="300.5" y1="708.0" x2="300.5" y2="710.2" stroke="#333" stroke-width="0.80"/><text x="300.5" y="715.9" font-size="6.10" fill="#444" text-anchor="middle" font-family='"Liberation Sans", sans-serif' >10</text><text x="180.6" y="724.3" font-size="7.40" fill="#000" text-anchor="middle" font-family='"Liberation Sans", sans-serif' >Component 1</text><text x="0.0" y="0.0" font-size="7.40" fill="#000" text-anchor="middle" font-family='"Liberation Sans", sans-serif' transform="translate(8.8 568.4) rotate(-90)">Component 2</text><line x1="179.6" y1="523.0" x2="181.4" y2="469.6" stroke="#000" stroke-width="0.90"/><line x1="179.6" y1="523.0" x2="266.2" y2="574.9" stroke="#000" stroke-width="0.90"/><line x1="266.2" y1="574.9" x2="287.4" y2="557.2" stroke="#000" stroke-width="0.90"/><line x1="266.2" y1="574.9" x2="291.6" y2="646.4" stroke="#000" stroke-width="0.90"/><line x1="179.6" y1="523.0" x2="109.8" y2="558.7" stroke="#000" stroke-width="0.90"/><line x1="109.8" y1="558.7" x2="77.7" y2="570.3" stroke="#000" stroke-width="0.90"/><path d="M175.5 437.5h0m.7 .3h0m3.8 .1h0m4.2 2.2h0m-14.3 .5h0m3 2.4h0m13.6 5.8h0m-8.5 2.3h0m9.9 1h0m-8.6 5.6h0m3.3 1.3h0m3 2.4h0m-4 .4h0m-3.4 .6h0m5-.1h0m-7.6 .6h0m6.5 .6h0m1.8 1.8h0m-1.4 1.1h0m-3.3 .4h0m1.4 1.8h0m.4-.2h0m-2 1h0m-3.3 4.8h0m3.9-.2h0m-5.6 4h0m-2 1.1h0m.3 1.9h0m6.9-.1h0m-.8 .8h0m-5.6 3.9h0m4.1 0h0m4.8 .9h0m-1.1 .7h0m-8.2 1.4h0m6.6 3.6h0m-.2 6.1h0m3.2 1.1h0m-4.9 .6h0m1.8 1.5h0m2.4 1h0m-6.8 1.5h0m.4 0h0m3.4 4h0m-1.1 1.8h0m-1.9 1h0m5.7 4h0m1.5 .1h0m127.2 1.1h0m1.1 0h0m-1.6 .8h0m1.6 .3h0m-.8 .2h0m2.2 .1h0m.4 .3h0m.3-.3h0m-131.2 .4h0m128.3 .3h0m1.4-.1h0m2.8 .1h0m-4 .4h0m2.5-.1h0m-3.4 .4h0m5 .2h0m.9 .3h0m-2.9 .7h0m2.7 0h0m-6.4 .4h0m3 0h0m.6 .3h0m-4 .2h0m2.8-.1h0m1.6 .1h0m3.4 0h0m-4.8 .8h0m1.8-.4h0m-5.7 .7h0m8.2-.1h0m-6.9 .8h0m1.6-.4h0m2.4 0h0m.3 .3h0m-5.1 .2h0m1.7 .3h0m2.8-.1h0m2 .1h0m-4.9 .3h0m2.3 .1h0m.3 .2h0m6.1-.4h0M307 524h0m6.9-.1h0m2.4 .3h0m.9-.2h0m.9 .2h0m-13.1 .2h0m3.4 .1h0m-4.6 .7h0m.7-.1h0m3.4-.3h0m5.4 0h0m2.9 .4h0m1.1-.2h0m.8-.1h0m1.2 .3h0m-4.1 .2h0m2-.1h0m1.3 0h0m-10.9 .5h0m4.3 0h0m2.9 0h0m1.7 .4h0m3.7-.2h0m.4-.1h0m-11.4 .8h0m4.8-.3h0m3.9 .3h0m1.8-.2h0m2.2 .1h0m-170.2 .3h0m.9 0h0m154.6 .3h0m.7-.4h0m2.3 .4h0m.2-.2h0m.9 .1h0m1.1-.3h0m.6 .1h0m5.9 .2h0m.4-.1h0m.5 .1h0m-128.3 .6h0m111.2-.4h0m4.4 .4h0m3.7 0h0m2-.2h0m1 .1h0m2.9 .1h0m3.6-.3h0m1.6 .3h0m-22.1 .4h0m9.4-.1h0m5.1 .2h0m3.4-.3h0m1.8-.1h0m1.7 .4h0m-21.4 .4h0m4.2-.3h0m.4 .3h0m.6-.1h0m.6 .2h0m1.6-.4h0m5.9 .4h0m5.1-.2h0m2.8 .1h0m2.8 .1h0m-125.3 .3h0m100.8-.1h0m1.2 .3h0m5 0h0m1-.2h0m.8 .2h0m.9-.2h0m9.7 .2h0m1.7-.2h0m.5-.1h0m.5 0h0m2.8 .2h0m-108.9 .6h0m85.8 0h0m3.5 0h0m3.8-.1h0m2.2-.2h0m.5-.1h0m10.1 .4h0m.5-.3h0m-15.8 .4h0m4.2 .3h0m2.5-.3h0m4.3 .1h0m1.8 .1h0m-132.6 .6h0m118.7-.2h0m1.5 .2h0m2.2-.3h0m1.4 .2h0m4 .1h0m1.9 .1h0m1.5-.4h0m.7 .4h0m6.5-.3h0m-21.7 .5h0m1.4 0h0m3.5 0h0m4.9-.1h0m1.8 0h0m2.5 0h0m2.2 0h0m3.6 .1h0m2.1 0h0m-161.3 .4h0m3 .4h0m8.1-.2h0m126.7 .1h0m3.1 0h0m1.3 .1h0m.9-.3h0m4.9-.1h0m5.9 .2h0m.6-.1h0m3.3 .3h0m1.5 0h0m-151.3 .4h0m131.1-.2h0m1.2 .1h0m4.5 0h0m7.5 .1h0m.4-.2h0m2 .2h0m2.3-.3h0m-149.7 .7h0m125.1 .2h0m1.7-.4h0m16.2 0h0m5.6 0h0m1.4 0h0m4.6 .3h0m-141.1 .5h0m4.9-.2h0m21.9-.1h0m89.4 .2h0m.4 .1h0m5.2 0h0m4-.3h0m2.9 .2h0m2.3 .2h0m1.5-.1h0m.7 .1h0m1.3-.2h0m.3-.2h0m.6 .2h0m-154.5 .4h0m15.6-.1h0m116.5 .3h0m5.7-.1h0m1-.2h0m5.1 .3h0m1.8 0h0m.2-.2h0m1.4-.1h0m11 .3h0m-172.1 .4h0m157.1 .1h0m1.5 .1h0m.1 0h0m5.7-.3h0m7.9 .3h0m.9-.4h0m.7 0h0m-138.6 .8h0m113.3-.3h0m3.9 .3h0m3.2 .1h0m3.2-.4h0m5.6 .3h0m2.2 0h0m5.9-.1h0m-175.4 .4h0m46.7-.1h0m8.7 .1h0m.4 0h0m5.2 .2h0m90.7-.2h0m2 .1h0m6.1-.2h0m6.5 .2h0m3.9 .2h0m-132.2 .3h0m26.1-.2h0m79.3 .1h0m17.2 .1h0m1.5 0h0m2.1-.2h0m2.4 .2h0m3.7 .2h0m1.4-.4h0m.4 .4h0m2.8-.4h0m.3 .2h0m1.7 .1h0m.6-.1h0m-174.4 .4h0m18.7-.1h0m21.7 .2h0m3 .1h0m96.1 .1h0m9.6-.3h0m14.6 .2h0m.6-.2h0m.6 .1h0m6.7 .1h0m.4-.3h0m.9 .1h0m-144 .8h0m38-.1h0m3-.2h0m77.6 .2h0m7.8-.2h0m2.1 .1h0m1.7 .1h0m1.5-.1h0m.7-.1h0m1.6 .2h0m.6 0h0m2.1-.3h0m3 .2h0m3 .2h0m.3-.3h0m-125.5 .8h0m11.6-.1h0m85.4-.3h0m.6 .3h0m4.3 .1h0m2.6 0h0m1.1-.3h0m2.4-.1h0m3.8 .1h0m.2 .1h0m4.5 .2h0m1.5-.3h0m4.4 .2h0m-166.2 .3h0m3.6-.1h0m4.1 .4h0m44.4-.1h0m96-.3h0m.5 .2h0m5.3-.1h0m3.8 .1h0m2.1-.1h0m3.4 .2h0m5.2 .1h0m1.8-.2h0m.6 0h0m-168.5 .4h0m3.7 .1h0m29.2 .1h0m20.2 0h0m17.3-.2h0m76.2 .2h0m1.6 .1h0m3.4-.4h0m9.2 .1h0m-158.6 .7h0m133.3 .1h0m10.4-.3h0m4.5 .2h0m2-.2h0m2 0h0m7.6-.1h0m5.6 .4h0m-184.6 .3h0m4-.2h0m49.2 .1h0m20.1 0h0m85.8-.1h0m.5 0h0m.4 .4h0m1.8-.1h0m4.4 0h0m1.1-.1h0m.6-.1h0m3.5 0h0m6.3 .2h0m1-.1h0m1.5-.1h0m4.9 .3h0m-140.7 .2h0m8 .3h0m9.1-.1h0m5.8-.2h0m8.8 0h0m5.7-.1h0m66.7 0h0m14.8 .1h0m15.4 .1h0m4-.1h0m3.2 0h0m-166.6 .7h0m8.7 .1h0m3.7-.2h0m15.3-.2h0m17.8 .3h0m2.4 .1h0m.4-.2h0m91.9 .1h0m2-.2h0m2.2-.1h0m2.7 .2h0m2.4-.1h0m5.4-.1h0m6.4 0h0m1.6 0h0m-207.5 .7h0m45.5-.2h0m8.7 .1h0m23.9 .3h0m5.6-.4h0m5.8 .4h0m106.3-.4h0m4.6 .3h0m1.1-.3h0m5.2 .3h0m3.7-.1h0m.4 .1h0m-200.8 .3h0m71 0h0m5.9 0h0m103.7 .1h0m.7 .1h0m4.5 .1h0m2.3-.1h0m1.2 .1h0m.7 0h0m-158.8 .5h0m5.3-.4h0m31.5 0h0m14.5 .4h0m14.8-.3h0m89.2 .2h0m9.1 .1h0m2.4 0h0m-176.6 .5h0m8-.1h0m15.2 .1h0m23.6-.1h0m5.8-.3h0m20 .1h0m6.4 .2h0m80.4 .1h0m.7-.3h0m6.4-.1h0m1.4 .3h0m4.6-.3h0m1.1 .1h0m2.2 .2h0m1.8-.3h0m-168.7 .7h0m6.1-.2h0m1 .1h0m5.6 .1h0m36.4-.1h0m6.1 .1h0m.4 .2h0m2.3-.3h0m8.1-.1h0m9.2 .3h0m61.2-.2h0m6.5 .3h0m6.4-.4h0m2.8 .3h0m1.2 .1h0m3.3-.2h0m3.2 0h0m7.4 .1h0m.6-.2h0m.6-.1h0m-179 .5h0m4 .2h0m1.1-.1h0m2.1 0h0m5.1 .3h0m1.9-.4h0m1.9 .4h0m.7-.2h0m1-.2h0m1.8 0h0m3 .1h0m19.6 .1h0m6.1 .2h0m11.9-.4h0m2.9 .3h0m5.1 0h0m3.3 0h0m2.3 .1h0m81.7-.3h0m1.6 .1h0m4.5 0h0m1.5 0h0m2.7 .1h0m1.4-.3h0m1.7 .4h0m5.3-.1h0m.9 0h0m.5-.1h0m1.2 0h0m1.6 0h0m.2-.1h0m.6 0h0m-195.4 .6h0m17.6-.2h0m49.8 .2h0m5.9 0h0m2.8-.1h0m.3 .3h0m20.1-.2h0m2.7-.2h0m77.2 .1h0m2.5 .2h0m.9-.1h0m5.5 0h0m4.9-.2h0m-170.5 .6h0m.8 .3h0m3.1-.4h0m13.5 .1h0m24.4 .1h0m14.8-.1h0m2.7 0h0m3.1 0h0m3.1 .2h0m2.6 0h0m2.8-.2h0m2.8 .1h0m.5-.1h0m11.6-.1h0m53.6 .2h0m17.4-.2h0m2.9 .1h0m6 .2h0m4-.2h0m6.3 .1h0m-170 .3h0m36.1 .1h0m2.8-.1h0m11.5 .2h0m3.1 0h0m14.3-.1h0m.3 0h0m66.7 .2h0m2-.3h0m9.6 .2h0m3.1-.1h0m6.9-.1h0m2.9 0h0m-176 .7h0m6.7 .1h0m5.6-.1h0m7.9-.1h0m38.3 0h0m11.5-.1h0m3.3 .4h0m2.9 0h0m.1 0h0m14.3-.3h0m2.8 .1h0m2.9 0h0m58.7 .1h0m6 .1h0m2.7 0h0m.2-.3h0m5.2 .2h0m.4 .1h0m7.8 0h0m2.7-.2h0m1.9 0h0m.4 .2h0m-182.6 .3h0m2.5 .1h0m10-.3h0m1.8 .4h0m.6-.3h0m.5 0h0m54.8 .3h0m.4 0h0m2.7-.4h0m3.2 .4h0m2.5-.4h0m5.8 .1h0m2.9 .3h0m71.8-.4h0m8.4 0h0m.9 .3h0m2.4-.1h0m2.6 0h0m4.4 .2h0m.9-.4h0m6.4 .2h0m-179.5 .6h0m9.4-.3h0m2.5 0h0m9.9 .4h0m1.1-.1h0m29.5-.2h0m14.9 .1h0m5.5 0h0m.4 .1h0m14.2-.1h0m54.7 .1h0m1.7-.1h0m20.2 0h0m2.5 .1h0m4.7-.1h0m1.6-.2h0m3.8 .4h0m.7-.4h0m-173.3 .7h0m3.8 .1h0m6.4 0h0m1.1-.1h0m9.7-.2h0m42.1 0h0m3.1 .1h0m5.2 .3h0m.2-.4h0m6.8 .1h0m5.6-.1h0m2.6 .2h0m54.1 0h0m12.5 .2h0m.5-.2h0m.8 .1h0m.2 .1h0m1.6 0h0m.5-.4h0m3 .2h0m1.5 .2h0m1.4-.2h0m1.6-.2h0m1.4 .4h0m2.5-.1h0m2.4-.3h0m.9 .4h0M143 547h0m2.8 .1h0m17-.1h0m37.3 .1h0m6.2-.2h0m2.3 .3h0m.3-.3h0m2.9-.1h0m3.3 0h0m2.6 0h0m3 .3h0m.4 0h0m2.9-.1h0m8.4-.2h0m54.2 .4h0m7.1-.1h0m5.5-.2h0m3.8 .2h0m3.1-.2h0m1.6-.1h0m-181.4 .7h0m6.3-.2h0m10.6 0h0m.4 .3h0m7.2-.3h0m.8 .3h0m6.2-.2h0m4.9-.1h0m43.5 .2h0m.4 0h0m5.1 .2h0m.1-.2h0m2.7 .1h0m5.9 0h0m64.1-.1h0m10.2 .2h0m6.1-.3h0m-183.2 .5h0m17 .2h0m13.3-.1h0m1.5 0h0m3.8 0h0m2.3 .2h0m1.5-.2h0m4.5 .2h0m3.8 0h0m29 0h0m5.7-.4h0m.4 0h0m2.5 .4h0m3-.1h0m6.3-.3h0m5.5 .1h0m.1-.1h0m5.7 0h0m7.1 .2h0m68.4 .2h0m1.6-.2h0m2.3 .2h0m.7 0h0m.8-.3h0m1.5-.1h0m2.4 0h0m-177.8 .8h0m1.7 0h0m4.5 0h0m15 0h0m6.7-.2h0m36.2-.1h0m14.2 .3h0m6.3 .1h0m2.8 0h0m77.9-.3h0m5 .1h0m10.1 0h0m-181 .4h0m2.2-.1h0m4.7 .1h0m2.5 .3h0m3.9 0h0m.3 0h0m2.5-.1h0m1.1-.3h0m3.5 .3h0m.7-.2h0m63.1 .2h0m3.2-.3h0m.2 0h0m8.7 .4h0m56.2-.4h0m6.3 .4h0m6.1-.3h0m1.4 .2h0m3-.3h0m2.9 .4h0m.6-.3h0m1.1 .1h0m.6 .1h0m1.9-.1h0m1 .1h0m1.3 0h0m-199.4 .5h0m17.9-.3h0m.5 .2h0m2.9-.2h0m75.1 .3h0m1.5-.1h0m13-.2h0m6.2 .2h0m3 .2h0m14.2 0h0m58.8-.2h0m.2 0h0m.9 .1h0m1-.3h0m.7 .4h0m-216.8 .5h0m25.1-.3h0m17 .1h0m13.9 .2h0m9.3-.3h0m49.3 .3h0m8.8-.3h0m2.5 .1h0m.6 0h0m2.4 .2h0m3.4 0h0m2.6-.3h0m.4-.1h0m5.3 .4h0m15.1-.1h0m2.4 0h0m40.6 .1h0m4.7-.4h0m12.2 .4h0m-192.5 .2h0m17.6 .3h0m14 0h0m59.9-.4h0m17.5 .4h0m2.9 0h0m5.4-.3h0m.5 .2h0m5.3 .1h0m58 0h0m6.2-.3h0m1.4 .3h0m-169.3 .4h0m5.2-.3h0m4.6 .1h0m2.6 .3h0m14.8-.4h0m47.6 0h0m11.5 .1h0m6.2-.1h0m5.6 .1h0m.4 .2h0m57.1-.2h0m16.9 .2h0m-219.5 .6h0m36.6-.2h0m6.6-.2h0m14.3 .3h0m2.5 .1h0m6.6-.4h0m9.7 .4h0m1-.2h0m49.9 .2h0m6.2-.3h0m.5-.1h0m5.6 .1h0m3.1 .3h0m55.3-.2h0m.7 .2h0m-160.3 .2h0m7.1 .3h0m7.3 0h0m2.6-.3h0m2 .2h0m67.8-.3h0m11.7 .2h0m17.3-.2h0m2.6 .3h0m-118.8 .3h0m11.3 .1h0m15.4 .2h0m.8-.4h0m62.5 .3h0m2.7-.3h0m.1 .2h0m2.8-.2h0m.5 .4h0m5.1-.2h0m5.9-.1h0m2.9-.1h0m3 .3h0m2.8 0h0m2.8 0h0m40.8 0h0m12.5-.3h0m9.3 .1h0m-174.1 .8h0m6.6-.4h0m7.9 .2h0m5.3-.1h0m68.6 .2h0m6.3-.1h0m2.9-.1h0m19.6 .2h0m56-.1h0m-181.5 .6h0m2.6-.1h0m4-.2h0m1.2 .3h0m77.2-.3h0m6 .3h0m5.7-.3h0m8.9 .4h0m2.4-.4h0m24.6 0h0m27.3 .2h0m17.7 0h0M51.1 554h0m79.7 .2h0m2.8-.1h0m81.1 0h0m11.9-.3h0m2.7 .2h0m1.6-.2h0m1.3 0h0m8.8 .1h0m2.8 .2h0m40.6 .1h0m-186 .2h0m30.6 .3h0m2.6-.3h0m.9-.1h0m12.9 .3h0m2.9-.3h0m66.2 .3h0m11.8-.1h0m6.1 .1h0m2.6-.2h0m.6 0h0m2.6 .2h0m55.2 0h0m-241.8 .6h0m77.7 0h0m3.6-.1h0m4.8-.3h0m5.6 0h0m1.9 .2h0m63.6-.2h0m12 .4h0m2.7 0h0m11.8-.3h0m50.5-.1h0m10.4 .3h0m-185.2 .5h0m.5 .1h0m6.6-.1h0m1.2 .1h0m1.7-.2h0m2.7 .2h0m5-.4h0m2.1 0h0m8 0h0m2.8 0h0m76.6 .4h0m2.5-.1h0m11.7 0h0m2.8-.1h0m5.3 .1h0m1.1-.1h0m2.3 0h0m3.1 .2h0m32.9-.1h0m2.5-.2h0m12.2-.1h0m-242.3 .8h0m59.6-.2h0m3.3 .1h0m.1-.2h0m3.7 .1h0m3.6 .2h0m.9 .1h0m1.3-.3h0m20.5-.1h0m2.4 .2h0m64.1-.2h0m5.7 0h0m3.1 .3h0m2.9 0h0m5.8 .1h0m12-.2h0m51.7-.2h0m.7 .4h0m2.8-.2h0m-245.1 .6h0m57.4-.3h0m12.4 0h0m1.1 .1h0m10.1 .1h0m1.7 .1h0m74.6-.2h0m9.6 .2h0m7.6-.1h0m.8 .1h0m2.5 0h0m.6-.3h0m5.5 .3h0m3-.1h0m2.7 0h0m10.9 .2h0m-150.6 .3h0m2.8-.1h0m.9 .1h0m.4 .2h0m6.7-.2h0m6-.1h0m1.5 .1h0m1.2 0h0m5.1 .1h0m6.4 0h0m10.1-.2h0m74 .3h0m1.2-.1h0m9.2 0h0m8.4 .1h0m2.8-.4h0m50.4 .2h0m-189.2 .4h0m3.5 0h0m4 .3h0m8.7 0h0m1 0h0m2.2-.2h0m13.1 .2h0m7.4-.2h0m76.1-.1h0m2.4 .2h0m6 0h0m6.4-.1h0m2.2 .1h0m3 0h0m.1 0h0m2.7-.2h0m3 0h0m2.7 0h0m.4 .2h0m40.4 .1h0m3.5 0h0m-238 .1h0m30.2 .2h0m18.3 .2h0m5.5-.3h0m6.1 .2h0m6.2 .1h0m5.6-.4h0m7.9 .3h0m4.1-.2h0m.6-.1h0m77.6 .2h0m3.1-.1h0m11.2-.1h0m5.8 .1h0m3 .1h0m2.5 .2h0m.2-.1h0m10.8-.3h0m32.8 .3h0m6.4-.1h0m1 .1h0m4.5-.3h0M51 558.3h0m1.8 .3h0m11.9-.1h0m36.4 0h0m10.9-.1h0m.7-.1h0m6.5 .1h0m4.7-.1h0m2.8 0h0m7.3 .1h0m1.6-.1h0m15.7 .1h0m71.9 0h0m3.3-.1h0m2.9 .4h0m2.8-.2h0m.3 .2h0m5.8-.2h0m41.8 0h0m-231 .4h0m39.5-.1h0m4.1 .2h0m4.7 0h0m1.5 .1h0m10.4 .1h0m1.1 0h0m4.9-.3h0m1.2 .1h0m15.4 0h0m83-.2h0m11.6 0h0m.3 .4h0m8.4-.2h0m11.5 0h0m2.8-.1h0m5.7 .2h0m34.1 0h0m-240.2 .2h0m4.9 .1h0m40.2 .2h0m2.8 .1h0m2.7 0h0m1.5-.3h0m10.2 0h0m.5 0h0m1.8 .1h0m.7 .1h0m7.8 0h0m3.2-.3h0m5.6 0h0m1.8 .3h0m7.1 0h0m77.9-.2h0m5.7 .1h0m14.5-.2h0m-186 .8h0m44-.1h0m4.6 0h0m.2-.1h0m7.2-.1h0m3.1 0h0m.6 .3h0m.3 0h0m8 0h0m4.6-.2h0m2.1 0h0m1.1 0h0m1.4 .2h0m85.3-.2h0m.4 0h0m14.9-.1h0m5.3 .3h0m9.3 .1h0m2.4-.3h0M49 560.7h0m1.4-.3h0m1.8 0h0m1.9 0h0m37 0h0m1.1 .1h0m4.1-.2h0m4.7 .3h0m9.6 .1h0m1-.4h0m.5 .4h0m.9 0h0m.5-.3h0m.6 .2h0m.7 .1h0m2.3 0h0m1.3 0h0m2.8-.4h0m3.4 0h0m.6 .1h0m1.6-.1h0m8.9 .1h0m102.7 .2h0m2.1-.1h0m-187.1 .4h0m44.4 0h0m19.1 .2h0m1.2 0h0m13.2 .1h0m4.4-.3h0m90.7 .1h0m5.4 .1h0m9.2 0h0m5.5 0h0M52 561.3h0m1.7 .2h0m36-.1h0m8.2 0h0m1.1 0h0m5.9 0h0m8.9-.1h0m7.2 .3h0m7.3 .1h0m.5-.4h0m1.8 .4h0m5 0h0m97.1-.1h0m4.9-.3h0m.3 .3h0m.5-.1h0m5.3 .1h0m14.8-.1h0m28.2 .2h0m-237.4 .4h0m2.8 .1h0m1-.4h0m1.1 .4h0m1 0h0m27.2-.1h0m13.7-.2h0m5.4 .3h0m.6-.3h0m6.8 0h0m2.7 0h0m4.8-.1h0m7.7 .3h0m8.7-.3h0m102.3 .4h0m6-.4h0m5.7 .1h0m3.2 .1h0m-202.2 .5h0m6.6 .1h0m.6-.3h0m25.4 .2h0m8.1 0h0m2.1 0h0m15.9-.2h0m2.2 .2h0m4.8-.1h0m2-.1h0m2.3 .1h0m7.8 .2h0m1.3 0h0m93.8-.1h0m5.7 .2h0m5.8 0h0m11.5-.1h0m.3 0h0m34.7 0h0M47.4 563h0m1.5 0h0m3.8-.2h0m1.2 .1h0m16.1 0h0m9.9-.1h0m14.1 0h0m7.1 .4h0m1.9 0h0m.3-.4h0m1.4 .2h0m3.9 .2h0m.7-.1h0m8.1 0h0m1.2-.1h0m.6 0h0m115.6-.1h0m3.7-.1h0m2.7 .3h0m2.8-.1h0m2.6-.2h0m2.9 .4h0m6.8-.3h0m28.2-.1h0m-237 .9h0m3.6 0h0m4.8-.4h0m13.1 .2h0m7 0h0m2.8 .2h0m1.1-.1h0m3.3 0h0m3.2-.1h0m4.5 .2h0m7.6-.1h0m5.8-.3h0m3.5 .4h0m2.7-.3h0m.5 .3h0m9.5-.2h0m1-.2h0m3 0h0m105.5 .4h0m2.3-.3h0m9 .3h0m5.2-.4h0m2.9 .1h0m3.2-.1h0m-205.3 .8h0m1.5-.3h0m6.1 .3h0m31-.3h0m1.6 0h0m5.7 0h0m12.1 0h0m2.1 0h0m2.9 .4h0m2.7 0h0m1.6-.4h0m.5 .1h0m3.2 .1h0m.6-.2h0m113 .2h0m6.2-.2h0m.2 .1h0m6-.1h0m2.4 .1h0m2.6 .3h0m3.4-.2h0m2.5 0h0m24.7 .1h0m-230.7 .4h0m12.9-.1h0m14.8-.1h0m3.2 .3h0m2 0h0m3.8-.3h0m1.6 .2h0m2.3-.2h0m5 .1h0m3.5 0h0m.8 .1h0m.8 .1h0m5.1-.3h0m2.5 .1h0m1.9 0h0m2.2 0h0m9.2 .3h0m117.3-.3h0m5.8-.1h0m.4 0h0m2.7 0h0m2.9 .1h0m11.2 .3h0m21.1-.2h0m-236.7 .7h0m2.1-.2h0m6.1-.2h0m.4 .2h0m.4 0h0m1 .1h0m13.9 .1h0m5.7-.4h0m7 .1h0m6.7 .2h0m6.6 .1h0m3.4-.1h0m18.5 0h0m3.4-.1h0m.1-.2h0m2.3 .1h0m19.1 0h0m86.1 .3h0m7-.1h0m3.3 .1h0m11.3-.1h0m5.8 0h0m-203.4 .4h0m2.5 .2h0m1.7-.1h0m12-.2h0m.4 .3h0m11.5-.1h0m.8 .1h0m.8-.2h0m7.6-.1h0m.5-.1h0m.8 .1h0m1-.1h0m2.5 0h0m.6 .1h0m12.2 0h0m3.5-.1h0m3.6 .1h0m2 .1h0m.7-.1h0m2.2-.1h0m4.5 .1h0m1.7-.1h0m121.4 .1h0m2.8 .2h0m9.1 0h0m2.5 .1h0m-217.4 .2h0m1.7 .1h0m.6-.2h0m2.9 .3h0m4.5 0h0m24.1-.2h0m4.6-.1h0m3 .4h0m7.7-.1h0m1-.2h0m5.5 .2h0m3.9-.1h0m1.4 .1h0m3.8 0h0m3.7-.2h0m.6 .1h0m.7 0h0m.8 .2h0m3.3-.4h0m3.1 .2h0m111.6-.2h0m11.5 .3h0m5.7-.1h0m.4 .2h0m2.7-.2h0m3.1-.2h0m2.9 .3h0m18.8-.2h0m-233.6 .8h0m1.9-.4h0m5.3 0h0m5.3 .1h0m7.2 0h0m10.7 0h0m6.3 0h0m10 .1h0m.7 .1h0m2.5-.3h0m.2 .2h0m.9-.1h0m3.1 0h0m.8 .2h0m4.7-.1h0m4.8-.1h0m5.9 .2h0m10-.2h0m116.6 .1h0m3.3 .2h0m2.5-.1h0m12.2 0h0m-213.3 .6h0m3.8-.2h0m.6 .2h0m1.3 0h0m4.3-.1h0m7.7-.2h0m5.5 0h0m4.4 .2h0m6.2 .1h0m.3-.1h0m9.6-.3h0m11.9 .3h0m1.6 0h0m5.3-.3h0m.4 .3h0m6.9-.1h0m128.9 .1h0m2.5-.3h0m2.6 .1h0m.1 .3h0m2.6-.2h0m9.1-.2h0m-213.9 .5h0m.7 0h0m2.8 .2h0m.4-.1h0m1.9 .3h0m.4-.4h0m.8 0h0m.5 .3h0m3.9-.2h0m4.4 .2h0m4.2 0h0m7-.2h0m7.8-.1h0m5.1 .2h0m1.6 .2h0m3 0h0m3.3-.2h0m7.2 .1h0m1.7-.3h0m.7 .2h0m2.1 .1h0m5.6 .1h0m2.9-.3h0m.4 .2h0m.5 .1h0m1.4-.1h0m2.4-.3h0m115.3 .4h0m5.3-.1h0m3.7-.2h0m2.7 .2h0m2.4 0h0m6.5-.2h0m5.5 .3h0m-217.6 .4h0m1.9-.1h0m5.8 0h0m.7 .2h0m6.2-.4h0m10.1 .2h0m4.1-.1h0m2 0h0m2.3 0h0m1 .3h0m3.7-.2h0m3.9-.1h0m2.1 .1h0m6.2-.2h0m2 .2h0m1.2 .2h0m.9-.2h0m9.6 .1h0m6.2 .1h0m.6 0h0m1.9 0h0m1.6-.1h0m6.8-.3h0m105.1 .2h0m14.1-.1h0m12 .2h0m22.2 0h0m-234.3 .6h0m2.4-.2h0m4 .1h0m2.1-.1h0m.4 0h0m3.4 0h0m1.6 .2h0m2.4-.2h0m5.5 .2h0m3.9 0h0m8-.1h0m2.9 0h0m2.3 0h0m2.5-.1h0m2.5 .1h0m.5 0h0m1-.2h0m1.2-.1h0m6.5 .3h0m.8-.3h0m1.9 .3h0m3.6 .1h0m1.1 0h0m4.2-.3h0m2 .1h0m1-.1h0m4.8 .1h0m.3 0h0m130.2-.2h0m3.5 .3h0m2.7-.3h0m3 .2h0m5.3-.1h0m-218.7 .5h0m7 0h0m2.7 .1h0m11.1 .2h0m2.6-.3h0m.9 .2h0m8.2-.1h0m1.1-.1h0m10.3 .1h0m6.4-.2h0m6.1 .2h0m11.7 0h0m1.5 .2h0m2-.2h0m.7 .1h0m1.3-.2h0m128-.1h0m2.4 .2h0m.6-.1h0m3.1 .3h0m8.9-.2h0m2.2 0h0m-219 .7h0m4.4-.2h0m2.5 .1h0m.6 .1h0m1.7 0h0m1-.2h0m13.7 0h0m2.7-.1h0m8.1 .2h0m6.9-.3h0m3.3 .1h0m.9 .3h0m.9-.3h0m4.3 .1h0m2 0h0m.5-.1h0m9.4 0h0m3.6 0h0m5.7 .1h0m118.2-.1h0m28.9-.1h0m-216.3 .5h0m1.3 .1h0m.4 0h0m1.5 .3h0m.9-.4h0m.5 .3h0m1-.3h0m.5 0h0m.8 .4h0m1-.2h0m.4 0h0m2-.1h0m3.3 .1h0m.8 0h0m5 .1h0m13.7 .1h0m.8-.1h0m.4-.1h0m4.9 .2h0m1.7-.4h0m.9 .1h0m2.2 0h0m2.6-.1h0m.1 .2h0m4.3 0h0m.6 0h0m.9 .1h0m.9 0h0m1.8 0h0m1.6 .1h0m148-.1h0m-203.6 .3h0m2.7 .1h0m.6 .1h0m.3 .1h0m3.8-.2h0m.9 .2h0m3.6-.2h0m.6-.1h0m4.8-.1h0m5.4 .3h0m1.7-.2h0m1.5 .1h0m.5 0h0m1.5 .1h0m1.9-.2h0m.8 .2h0m1.2-.3h0m2 .1h0m4.5 .3h0m1.5 0h0m.5 0h0m5.2 0h0m1.3-.2h0m.5 .2h0m3.3 0h0m6.1-.3h0m8.3-.1h0m138.4 .2h0m5.8 0h0m2.9-.2h0m-214 .9h0m.9-.4h0m4.5 .4h0m3-.3h0m5.8-.1h0m6.9 .4h0m1.9-.1h0m5.4-.1h0m2.2 .1h0m3.7-.3h0m.8 .1h0m1.6 .3h0m.8 0h0m10.4-.3h0m6.1 .1h0m3.5 .2h0m1.1-.3h0m137.7-.1h0m8.7 0h0m-205.2 .8h0m.4-.3h0m3.1 .1h0m5.8 .3h0m.3 0h0m.7-.2h0m2.4-.2h0m8.3 0h0m1.3 .1h0m.7-.1h0m.3 0h0m7.4 .4h0m3.1-.4h0m3.1 .2h0m16.9 .2h0m7-.4h0m141.7 .1h0m9.1-.1h0m3 .2h0m2.1-.2h0m-220 .7h0m1.7-.2h0m2.5 0h0m1.5 0h0m.4 0h0m5.1 .4h0m6 0h0m1.5 0h0m1.3-.1h0m.4-.1h0m2.7-.2h0m2.4 .4h0m2.2-.3h0m.6 .3h0m8.2-.2h0m.7 .2h0m4.2-.2h0m1.1-.2h0m5.9 0h0m6.2 0h0m4 0h0m4.6 .4h0m1.7-.1h0m135.5 .1h0m17.1-.2h0m-218.6 .7h0m1.4 0h0m2.9 0h0m3.9-.3h0m.3 0h0m.5 0h0m1 .2h0m4.6 0h0m2.6-.3h0m.6 .3h0m3.5-.1h0m9.8-.1h0m1.1 .3h0m1.9-.1h0m1.2 .1h0m5.1-.2h0m.8 0h0m6-.1h0m9.8-.1h0m9.8 .2h0m1.3 .2h0m143.2-.2h0m6.8 0h0M40.4 573h0m4.9 .1h0m.7 .1h0m.9-.2h0m6 .1h0m.6-.3h0m1.7 .4h0m2.8-.3h0m1.9-.1h0m2.7 .2h0m1.8-.2h0m12.5 .1h0m.7 0h0m3 .3h0m4.3-.4h0m8.6 .3h0m2.5-.3h0m156.8 .4h0m2.9-.3h0m5.1 .3h0m-220.1 .4h0m5.8-.1h0m8.9 .1h0m7.8-.2h0m1.5 .1h0m8.4-.2h0m7.8 .4h0m1.2 0h0m5.1-.4h0m2.7 .1h0m6.4 .3h0m1.3-.1h0m.5-.3h0m-52.6 .6h0m2.3 .2h0m1.7-.1h0m1.1 0h0m.7-.1h0m.5 .3h0m8.7-.3h0m3.3 .3h0m9.9-.1h0m.5 0h0m4.4-.2h0m2.2 .1h0m.5-.2h0m1.1 .1h0m4.7 .3h0m.3-.3h0m2.2 .3h0m1.6-.2h0m8.6 .2h0m159-.4h0m-219.5 .9h0m2.5-.2h0m2.7-.1h0m1-.1h0m1 0h0m.5 .2h0m5 .1h0m.4-.1h0m4.2-.1h0m2.3 .3h0m2.1 0h0m24-.4h0m1.7 .2h0m7.1-.1h0m4.9 0h0m1.2 .3h0m2.7-.3h0m149.8 .2h0m-212.2 .6h0m3.9-.1h0m3.2-.3h0m13.3 .3h0m1.4-.3h0m.4 .4h0m9.4-.1h0m1.2-.3h0m2.2 .3h0m2.1-.1h0m.5-.1h0m1.4 .1h0m8.4 .2h0m.7-.2h0m13.1 .1h0m5.3-.3h0m143.1 .4h0m8.6-.3h0m.5-.1h0m-219.4 .6h0m4.3 .3h0m.7-.3h0m1.7 0h0m.7 .1h0m.6 .1h0m.5 0h0m2.8-.2h0m3.9 0h0m2.9 0h0m.2 .2h0m.8-.1h0m1.5 .2h0m3.8 0h0m3.3-.4h0m.5 .4h0m8.9-.2h0m3.4-.1h0m2 0h0m2.7 0h0m.9-.1h0m2.5 0h0m3.4 0h0m3.8 .2h0m-54 .6h0m3.9-.1h0m.7 .2h0m2-.3h0m2.3 .1h0m4.6 .1h0m7.6-.2h0m.8 0h0m4.3 .1h0m2.4-.2h0m2.6 .4h0m1-.1h0m6.9 .1h0m5.7 0h0m8.7-.2h0m163.4-.2h0m-219.6 .6h0m2.3 .3h0m.6-.2h0m3.3 .2h0m.7 0h0m3.4-.1h0m1.3-.3h0m.5 .1h0m1.2-.1h0m.9 .3h0m.6-.2h0m1.5 .3h0m5.1-.2h0m.7 0h0m2.7-.2h0m.4 .3h0m1.6-.3h0m7.3 .4h0m3.5-.1h0m1.6-.1h0m5.4 .2h0m.5-.2h0m11 0h0m-55.4 .6h0m5.3 0h0m.3 0h0m.4-.2h0m1 .2h0m3.3 .1h0m.2-.1h0m.8 0h0m.9 .1h0m2.6-.4h0m1.8 .3h0m1.2-.1h0m.5 .2h0m6-.1h0m4.3-.3h0m1.1 .4h0m2-.4h0m1.2 .3h0m6.4 .1h0m8.1 0h0m6.7 0h0m-55 .5h0m.4-.1h0m1-.1h0m2.3-.1h0m6.7 .3h0m6.8-.4h0m.8 .2h0m.6 0h0m1.4 .2h0m1.4 0h0m1.6-.2h0m7.8 0h0m4.9-.2h0m5.5 .4h0m2.4-.4h0m2.5 .4h0m6.1-.1h0m-50.9 .5h0m2.4 0h0m4.6 .1h0m1.9-.3h0m2.6 .2h0m3.3-.3h0m1.1 .4h0m1.2-.3h0m.9-.1h0m.1 .1h0m1.9 .1h0m.5 0h0m.9 0h0m1.4 .2h0m11.1-.3h0m.8 0h0m9.6 .3h0m9.2-.1h0m16-.2h0m-71.6 .7h0m2.4-.2h0m.5-.1h0m3.4 .4h0m3.3-.1h0m1.1 0h0m1.5 .1h0m.9-.3h0m.2 .1h0m1.4-.2h0m.7 .1h0m2.2 .1h0m1.2 0h0m6.8 0h0m.2-.1h0m.7-.1h0m1 .1h0m4.3 .3h0m3.2-.2h0m7.5 0h0m5.3-.1h0m12.9 .2h0m3.3-.3h0m-58.6 .9h0m.9-.1h0m5.4 .1h0m.7-.3h0m2.3 .1h0m7.2 0h0m1.4 .1h0m16.6-.2h0m4.2 0h0m2.1 .1h0m28-.1h0m-74.4 .5h0m5.6 .2h0m.7-.2h0m4.8 .2h0m3.3 .1h0m1.9-.2h0m2.8 .1h0m3.2-.3h0m1.5 .4h0m.2-.1h0m.5-.1h0m.8 .1h0m1.4 0h0m2.8-.3h0m1.8 .3h0m2.7 .1h0m1.5-.3h0m3.3 .2h0m1.6-.3h0m2.2 .1h0m3.1 0h0m.4 .3h0m8.7-.3h0m.8 0h0m-54.2 .8h0m5.8 0h0m.7 0h0m1.3-.1h0m1.2 .1h0m8.3 0h0m4-.3h0m2.2-.1h0m8.5 0h0m2.9 .3h0m.4 .1h0m5.9-.4h0m-38.7 .8h0m.7-.2h0m.7 0h0m4.5 .1h0m.8-.2h0m7.9 .1h0m5.2 .1h0m19.5 .2h0m19.4-.1h0m-61.4 .2h0m3.1 .2h0m.7-.1h0m1.4 0h0m2.8 .3h0m2.4-.4h0m4.4 .2h0m2.2 .1h0m2.4-.3h0m.7 .2h0m3.5-.2h0m.1 .2h0m4.4 .1h0m1.1 .1h0m11.5-.1h0m196.3-.1h0m-236.9 .4h0m.4 .1h0m4 .1h0m2.1-.1h0m.1-.2h0m6.2 .3h0m.6 .1h0m1.1-.3h0m.1 .3h0m5.1-.2h0m3.7 0h0m2.6-.1h0m.4 0h0m4.7-.1h0m6.3 .4h0m1.4-.1h0m190.1 0h0m-225 .5h0m1.9-.1h0m.4 .1h0m1.4-.1h0m2.7 0h0m3.1-.2h0m2.8 .3h0m2.6-.3h0m4.4 .4h0m1.3-.3h0m10.7-.1h0m194.4 .2h0m.6 .1h0m-224.6 .5h0m1-.2h0m1.6 .1h0m3 .2h0m1.6-.3h0m5.8 .1h0m7.4-.1h0m6 0h0m2.8 .2h0m1.8-.3h0m1.5 .1h0m192.9 .2h0m-226.6 .5h0m1.8 0h0m1.3-.1h0m3 0h0m1.3 0h0m2.4-.2h0m2.2 0h0m1.8 .1h0m1.5 0h0m2.3 .1h0m1.3-.1h0m5.2 .3h0m1.8 0h0m3.3-.2h0m198.2 .2h0m-231.9 .1h0m2.5 .2h0m2.2 .2h0m2.4-.1h0m.6-.2h0m.5 .1h0m1.2-.1h0m4.4 .2h0m2.3-.3h0m1.6 .3h0m4.2-.2h0m1.7 .3h0m36.1-.3h0m-62 .7h0m1.2-.2h0m1.5 0h0m1.4 .2h0M42 584h0m1.5-.2h0m.3 .4h0m1.6-.3h0m1.1 .3h0m.9-.4h0m3 .3h0m.7-.2h0m1.1-.1h0m.6 .1h0m.6 .1h0m1.7 0h0m5.7-.1h0m.7-.1h0m.6 .2h0m206.9 .2h0m1.9-.1h0m-228.7 .2h0m2 .1h0m1.3 .1h0m.6 .2h0m1.6-.3h0m.1-.1h0m1.5 0h0m6.4 0h0m.6 .4h0m.6-.1h0m7.5-.3h0m32.5 .1h0m168.4 .1h0m-224.2 .4h0m.6 .2h0m1.4-.1h0m1.3 .1h0m.6 0h0m.8 .1h0m1.7-.3h0m.3 .2h0m1.1 .1h0m1.9-.4h0m4.4 0h0m.1 .2h0m14.3-.1h0m205.3 .2h0m-238.4 .6h0m.9-.1h0m3.8-.2h0m8.1 0h0m2.2 .2h0m1.4 0h0m2.6-.1h0m.3 0h0m.9 0h0m.5-.1h0m1.5 .3h0m-18.8 .1h0m1.3 0h0m2.8 .3h0m.5-.1h0m1.4 0h0m.9 .2h0m.8-.2h0m3-.2h0m3.6 .1h0m.3 .1h0m.6 .1h0m.6-.2h0m11.6 0h0m200.9 .3h0m-228 .3h0m.3-.1h0m1.1 .1h0m.5 .2h0m2 0h0m1.5 0h0m2.2-.1h0m1.5-.3h0m-13.3 .9h0m.5 0h0m6.1-.1h0m1.2-.1h0m2.8 .1h0m.2-.3h0m1.2 0h0m2.5 .2h0m5.9 0h0m1.9 .2h0m1.2-.4h0m14.4 .4h0m202.5-.2h0m-236.5 .5h0m2.3-.2h0m.4 .2h0m1 0h0m2.3 0h0m4.1-.2h0m1.3 .2h0m.5 .2h0m1.1-.2h0m3.6 .1h0m.6 .1h0m213.9 0h0m-233.7 .4h0m2.9-.1h0m1.6 0h0m1.1-.1h0m1.3 .3h0m1.1-.4h0m1.3 .2h0m1.5-.2h0m6.3 .1h0m.9-.1h0m2.6 .3h0m-17.6 .6h0m3.3-.2h0m.6 .2h0m.6-.1h0m.9 0h0m2.3-.2h0m5 .3h0m.6-.2h0m1.9 .2h0m.7-.4h0m15.8 .4h0m-29.1 .2h0m2.6 0h0m1.3 0h0m4.5 .1h0m3.1 0h0m.5 .1h0m.6 .1h0m4.1-.2h0m.5 0h0m-23.2 .7h0m1.9-.1h0m1.8-.3h0m3.6 0h0m.4 .1h0m1.4-.1h0m1.3 .2h0m1.4-.1h0m2.3-.1h0m1 .3h0m1.7-.2h0m1.6 .2h0m4.1-.1h0m-18.2 .3h0m1.8 .4h0m.5-.2h0m2.6 .2h0m4.4 0h0m.6-.1h0m.2-.3h0m.5 .3h0m1.1-.3h0m3.9 .4h0m2.2-.4h0m213.8 .4h0m-234.7 .5h0m2.3 0h0m.4-.4h0m3 0h0m2.6 .1h0m3.5 .2h0m.9-.2h0m2.2 .2h0m1.7-.2h0m.4 .2h0m.5-.2h0m3.9-.1h0m-20.4 .5h0m.7 .1h0m.8-.1h0m1.3 .2h0m1 .2h0m1.5 0h0m6.3-.4h0m1.4 .2h0m2.5 0h0m1.1 .1h0m.4-.2h0m2.4 .3h0m1.2-.4h0m209.4 .4h0m5.2-.1h0m-235.1 .4h0m2.1-.2h0m.5 .3h0m3 .1h0m.6-.4h0m2.3 0h0m.8 .1h0m.9 .2h0m3.9-.2h0m1.4 .1h0m2 .1h0m.2-.1h0m209.1 0h0m10.2 0h0m-233 .4h0m1.2 .3h0m.5-.2h0m.4 0h0m4.6-.1h0m.7 .3h0m.9-.2h0m.3-.2h0m1 .2h0m1.1 .2h0m3-.3h0m-16.5 .4h0m.8 .2h0m1.3 0h0m1.1-.2h0m1.1 .3h0m1.2-.3h0m1.5 .1h0m.5 .1h0m1.3 .2h0m6.4-.3h0m218.1 .1h0m-232.5 .3h0m.5 .2h0m1.8 .1h0m2.9 .1h0m3.7-.2h0m2.1-.2h0m.9 .2h0m215.7 .2h0m5.8-.1h0M40 593.6h0m2.4-.1h0m2.5-.1h0m2.2 0h0m.7 .2h0m1.4-.1h0m1.1 0h0m1.8-.2h0m4.8 .3h0m-16.5 .3h0m8.8 .2h0m.7 .1h0m4.5 0h0m2.5-.1h0m.4-.2h0m3.8 .1h0m213.9 .1h0m.9 0h0m-235.6 .3h0m.7 .3h0m1.8-.1h0m1.8-.2h0m5.8 .3h0m2-.4h0m1.1 .1h0m.6 0h0m2.3 0h0m219.8 0h0m-227.1 .5h0m1.1-.1h0m1.8 .1h0m1.3-.1h0m.5 0h0m1.1 0h0m-15 .9h0m.5-.1h0m5.8-.3h0m.3 .2h0m1.9-.1h0m1.6 .3h0m2.1-.3h0m.2 .2h0m-8.3 .2h0m5.7 .3h0m1.1-.1h0m.7-.1h0m222.9 .3h0m-233.8 .2h0m3.4 .1h0m1.5-.2h0m3.9 .2h0m1-.1h0m1.2 .1h0m1 0h0m222.1-.1h0M40.4 597h0m3 0h0m1-.1h0m3.7 .2h0m-7.3 .5h0m5.1 .1h0m2.5-.3h0m229.7 .2h0m-232.8 .3h0m1.6 0h0m.4 .3h0m-4.6 .1h0m.8 0h0m3.8 .4h0m1.3-.1h0m1.4 0h0m2.5-.3h0M44 599h0m1.8-.1h0m2.1 .3h0m2.3-.4h0m220.8 0h0m2.1 .3h0m7.9-.3h0m-235.6 .7h0m2.1-.2h0m3.3 0h0m-.3 .5h0m227.1 .4h0m.7 .3h0m4.4 .1h0m-235.2 .2h0m230 .2h0m.7 .4h0m-3.3 .7h0m.8 .6h0m.7 0h0m6.4 .4h0m1.8 .3h0m-10.7 1.8h0m4.1 .5h0m-1.1 .6h0m3.1 .2h0m1.8 0h0m5.2 .4h0m-11.6 .7h0m5.6 0h0m2.8-.3h0m5.5 .2h0m-10.1 1.1h0m-2.3 .5h0m10.2 .5h0m-8.2 .8h0m8.4 1.2h0m6.3 .9h0m-20.6 .4h0m14.2 .3h0m.2-.2h0m-4.9 .6h0m4.8-.1h0m-7.2 .5h0m1.2 .2h0m4 1h0m-4 .4h0m-.9 .7h0m3.4 .1h0m2.6-.1h0m-7.1 .7h0m2.4-.1h0m-6.6 .8h0m2.1-.2h0m2.8-.1h0m-3.8 .6h0m3.7-.2h0m2.2 .1h0m6.5 .4h0m-7 1.1h0m10.1 .2h0m-12.9 .3h0m6.2-.1h0m6.3 .3h0m-8.1 .5h0m4.6-.1h0m-8.5 .4h0m5.2-.1h0m.6 .2h0m7.8 .8h0m2.2 .2h0m-8.2 .9h0m5.5 .4h0m-7.5 .7h0m5.6 .1h0m.5-.2h0m-4.4 .7h0m-1.6 .2h0m6.3 .3h0m1.6 0h0m-5.9 1h0m6.6 0h0m-8.3 .9h0m7 .6h0m-11.6 .6h0m8.8-.4h0m-.2 .8h0m1.5 .1h0m-3.2 .5h0m1.3-.4h0m6.9 .6h0m-12.8 .8h0m1.8-.2h0m-.4 .4h0m2.5 0h0m5.1 0h0m.6 0h0m-3.4 .6h0m3.5 .3h0m-6.3 1.3h0m3.5-.3h0m6.4 .2h0m-5.4 .3h0m.7 .1h0m-8 .9h0m.5 0h0m11.3 .2h0m-8.6 1.3h0m.7 .1h0m9.3 .1h0m-5.6 .7h0m2.7-.2h0m1.8-.1h0m1.3 0h0m-5.1 .5h0m4.4 0h0m.7-.1h0m.6 .4h0m.9-.2h0m-6.1 .6h0m.6-.2h0m.3 .3h0m4.3-.3h0m-12.9 .8h0m7.1-.4h0m4.8 .4h0m1.6 0h0m.9-.3h0m-7.9 .4h0m5.7 .2h0m2 .1h0m-.3 .6h0m-6.1 .4h0m1.1-.1h0m.9-.2h0m.3 .2h0m2.5 .2h0m2-.2h0m-.2 .7h0m-3.2 .1h0m.8 .1h0m1.9 0h0m-7.4 .5h0m5.7-.1h0m1 .1h0m-7 .8h0m4.8 .5h0m1.4-.4h0m-5.2 .7h0m1.9 .2h0m5.6-.4h0m-8.8 .8h0m4 .5h0m1.3-.2h0m-5.1 .6h0m4.4-.1h0m1 .2h0m.3-.1h0m-.2 .6h0m.7-.2h0m2.1 .1h0m1.4-.1h0m-9.7 1.1h0m3 .2h0m6-.2h0m-8.7 .3h0m2.4 .3h0m2.7 .1h0m1.2-.1h0m4.3-.3h0m-11.6 .5h0m6.3 .4h0m1.7 .3h0m-.1 .6h0m-7.4 .3h0m.2 .1h0m9 0h0m1.8 .2h0m-10.8 .1h0m1 .2h0m.6 .7h0m5-.4h0m1.6 .3h0m2.2 .9h0m-10.6 .3h0m.5 .3h0m1.3 0h0m1.2-.1h0m1.3 0h0m-1.8 .5h0m1.1 0h0m4.3 .2h0m-6.5 .3h0m2.2 .2h0m5.4-.4h0m.4 .2h0m-10.4 .7h0m1.3-.2h0m1.4 .3h0m4.8 .4h0m1.3-.1h0m1-.3h0m1.2 .2h0m-5.3 .9h0m1.8 0h0m.4-.1h0m2.7 .3h0m-12.5 .5h0m6.7 0h0m.8-.1h0m5.4 .2h0m-11.5 .3h0m6.1-.1h0m2.8 .5h0m2 .1h0m-8.7 .6h0m2.6 0h0m6.6-.3h0m-13.7 .9h0m3.5-.4h0m.9 0h0m8 .3h0m1.3-.2h0m-14.2 .4h0m.7 .3h0m3.1-.3h0m1.2 .4h0m1.2-.2h0m-6.3 .4h0m7.9 .2h0m1.9 .1h0m1.6-.4h0m1.1 .3h0m-12 .2h0m1.8 .3h0m2.7 .1h0m7.7-.1h0m-2.3 .6h0m-9.6 .2h0m4.4 .3h0m.7-.3h0m2.5 .2h0m.2 .6h0m.7 0h0m2.2 0h0m1.8-.2h0m-13.7 .3h0m1.5 .3h0m2.1-.2h0m2.7 .3h0m3-.2h0m3.6 .1h0m-17.3 .2h0m2.3 .1h0m7.7 .3h0m1.3-.1h0m2.1 0h0m1.6-.1h0m1.7-.1h0m.6-.1h0m-15.1 .9h0m8.2-.1h0m7-.3h0m-12.7 .5h0m6 .1h0m1.6 0h0m4.1 0h0m-14.3 .4h0m10.9 .2h0m-7.5 .7h0m2.4-.2h0m3.6 0h0m-9.5 .6h0m10.9 .1h0m3.8-.4h0m.2 .1h0m-12.1 .4h0m-5 .6h0m4.9 .2h0m.9-.2h0m4 .3h0m2.9 0h0m3.4-.2h0m-15.3 .7h0m6.4-.2h0m1.4 .1h0m1.5 0h0m2.5-.1h0m.5-.2h0m-13.1 .5h0m2.5 .4h0m11.4-.1h0m1.3-.1h0m-16.1 .6h0m1-.1h0m1.3-.1h0m5.6 .2h0m-7.3 .2h0m3.5 .1h0m4 .1h0m-6.6 .6h0m2-.1h0m3.7 .2h0m7.2-.2h0m.2 .1h0m1-.2h0m-14.9 .4h0m3.3 .3h0m9.1-.3h0m-13.1 .7h0m2.7-.1h0m2.5 0h0m6.7-.1h0m.1 0h0m2.3 .4h0m2.2-.1h0m-12.9 .6h0m3.4-.1h0m2.8-.2h0m6.2 .3h0m-7.1 .1h0m6.9 .1h0m-12.3 .4h0m5.4 .3h0m3.2-.1h0m-2.9 .5h0m7.2-.2h0m-9.7 .9h0m1.4-.3h0m2.8 .2h0m.1 .1h0m1.4-.1h0m2 0h0m.9 0h0m-14.1 .4h0m.9-.1h0m2.3 .1h0m4.5 .1h0m2.5-.3h0m-11.4 .6h0m13.4 .1h0m-8.1 .3h0m2.4 .3h0m1-.2h0m1.4 0h0m.5 .7h0m2.2 0h0m1.6-.1h0m-13.7 .3h0m8 .4h0m.7-.4h0m2.3 .1h0m.3-.1h0m-6.7 .9h0m4-.1h0m1.1-.3h0m2.7 .4h0m-11 .2h0m2.7-.1h0m5.4 .2h0m.6-.1h0m1 .5h0m1.6-.1h0m.3 0h0m1.6 .4h0m-13.1 .1h0m5.3 .3h0m1.5-.1h0m3.2-.2h0m-7.8 .9h0m5.1 .4h0m1.1-.3h0m-10.7 .8h0m1.6 .6h0m2.2-.3h0m5.1-.1h0m-3 .8h0m1.6 .1h0m5.4-.1h0m-11.4 .2h0m2.1 .4h0m2.3-.3h0m2.2 .1h0m1.4 0h0m3.5 0h0m.2 0h0m-8 .7h0m-5.1 .3h0m3.6 .2h0m2.3-.3h0m3.1-.1h0m1 .4h0m-8 .2h0m8-.1h0m-8.9 1h0m10.5 0h0m.9 0h0m-10.8 .6h0m.7-.1h0m-2.2 .6h0m1.9-.1h0m3 .2h0m1.8-.2h0m.5 0h0m5.7 .4h0m-11.2 .3h0m2.8-.2h0m1.5 .2h0m-3.7 .3h0m3.7 .9h0m1.8-.2h0m4.3 .2h0m-10.9 .4h0m5.3 .6h0m.8-.4h0m1.7 .1h0m-6.7 .6h0m3.4-.2h0m4.7 .4h0m-10 .5h0m1-.3h0m4.4 0h0m2.3-.1h0m1.5 .3h0m-6.7 .3h0m3.5 .1h0m-1.2 .5h0m3 0h0m3.1-.1h0m-8.5 1h0m1.7 .1h0m2.6 .2h0m-3 .3h0m2.6-.2h0m1.6 .6h0m-7.7 .4h0m3.5 .4h0m.3-.1h0m-1.2 .6h0m5.7-.3h0m-6.7 .7h0m3.5-.1h0m-1.6 .7h0m-1.1 .4h0m.5 .1h0m1-.1h0m-2.4 .4h0m2.4-.1h0m2.4 0h0m-1.3 .4h0m2.9 .1h0m-.9 .5h0m-3.7 .5h0m2.8-.1h0m.5 0h0m-5.8 .6h0m3 .1h0m2.1 .2h0m-3.8 .2h0m-.7 .9h0m1.3 .6h0m3-.1h0m-3.4 1.4h0m.8 0h0m.9 .3h0m-.9 .6h0m.3 .1h0m-1 .6h0m.3 .2h0m2.9 .3h0m-2.2 .5h0" stroke="#ec7469" stroke-width="3.30" stroke-linecap="round" fill="none"/><path d="M173.9 435h0m2.7 .1h0m.3 .7h0m-3.3 .6h0m7.9-.1h0m2.1 .3h0m-11 .3h0m.2-.1h0m7.1 .3h0m.6-.1h0m-9.1 .6h0m.4-.3h0m6.7 .2h0m.9-.2h0m-9.3 .6h0m1 .1h0m.3 .2h0m9-.2h0m1.4 0h0m2.5 .1h0m-13.4 .2h0m6.3 0h0m3.1 0h0m1.2 .4h0m1.2-.1h0m.3-.3h0m-13.2 .7h0m.6-.1h0m1 .3h0m12.3 .3h0m-11.3 .4h0m4.7-.1h0m3.7 .4h0m4.4-.1h0m1.6 0h0m-14.6 .5h0m5.8 .1h0m.7-.3h0m1.9 .3h0m5-.2h0m-16.1 .3h0m4.4 0h0m.9 0h0m3.3 .4h0m.5-.1h0m9.5-.1h0m-19.7 .5h0m5.3 .1h0m10.5 0h0m-15.5 .3h0m1 .3h0m.9-.1h0m2.6 0h0m.1-.3h0m3.1 .1h0m-1.1 .7h0m2.3-.2h0m1.4-.1h0m4.7 0h0m.7 0h0m.7 .1h0m1 0h0m-15.8 .8h0m2-.4h0m4 .4h0m2.8 0h0m-9.3 .5h0m8.1-.1h0m6-.1h0m-9.5 .6h0m4-.2h0m5.1 .3h0m3.1-.2h0m.4-.2h0m-14.1 .9h0m4.9-.4h0m2.3 .4h0m2.8-.4h0m1.5 0h0m1.5 .3h0m2.7-.3h0m-16.4 .9h0m1-.4h0m1.9 .3h0m.3-.2h0m2.5 .2h0m4.2 .1h0m1.5-.2h0m3.2 0h0m.9 .1h0m-16.7 .3h0m4.9 .1h0m12-.1h0m1.4 0h0m-19.5 .7h0m3.9-.2h0m.9 .3h0m1.2-.1h0m9.5-.1h0m2.1-.2h0m.6 .2h0m-16.5 .7h0m5-.4h0m.9 0h0m1.5 .3h0m1-.1h0m6.3-.1h0m-13.5 .7h0m1.6 .1h0m16.6-.2h0m-21.8 .4h0m.6-.1h0m1 .3h0m9-.3h0m8.5 .1h0m2.4 .1h0m-21.1 .5h0m8.3-.1h0m9.6-.1h0m1.8 .4h0m2.3-.2h0m-21 .5h0m4.1-.1h0m2 .3h0m5.9-.1h0m1.3-.3h0m5.7 .2h0m-9.3 .7h0m2.2-.4h0m-6.5 .6h0m1.6-.1h0m.4 0h0m1.6 .3h0m8.7-.2h0m.3 .2h0m-14.5 .5h0m6 .1h0m4.1 0h0m1.5-.4h0m3.1 .1h0m1.5-.1h0m-14.4 .6h0m9.5-.1h0m-13.9 .6h0m.7 .2h0m6.5 0h0m-.3 .4h0m2.4 .1h0m4.9-.3h0m2.1 .3h0m-10.6 .4h0m2.4-.2h0m2.9 .2h0m1.2 0h0m-7.3 .4h0m1 0h0m6.1 0h0m-10.6 .7h0m.8-.2h0m3.3 0h0m6.7 .1h0m-11.6 .6h0m.7 0h0m1.4-.1h0m3.9 .1h0m.9 .1h0m8.8-.3h0m1.4-.1h0m-14.5 .7h0m1.6 .2h0m.9 0h0m2.8 0h0m1.3-.2h0m2.9-.2h0m5.7 .1h0m-16.9 .6h0m2.1 .1h0m1.6-.1h0m9-.2h0m-11.5 .8h0m1 0h0m6.4-.2h0m4.8-.1h0m-8.6 .5h0m6.6 .1h0m-9.3 .5h0m4 0h0m-.1 .7h0m.8-.3h0m1 .2h0m1.3-.2h0m-6.9 .7h0m2.3 .2h0m3.8-.4h0m2.4 .3h0m.7-.3h0m1.2 .1h0m-5.7 .8h0m.5-.2h0m2.4-.1h0m.1 .2h0m-1.8 .4h0m.7-.1h0m.3 .1h0m.9 0h0m-6.3 .3h0m2.8 .7h0m2 0h0m-2.3 .5h0m-1 .5h0m-1 1.2h0m8.8 .2h0m-10.5 .9h0m6.7 .4h0m-3.8 .8h0m5.4 0h0m-3.7 1.2h0m3.7-.4h0m-4.3 1.1h0m-.8 1.5h0m-.3 1.2h0m1.3 .1h0m.3 .6h0M173 476h0m.9 9.6h0m-.2 13.6h0m7 .2h0m-3.5 6h0m-9.5 1.9h0m-3.7 2.1h0m14.5 3.1h0m-2 1.6h0m133.1 1.1h0m3.1 2.4h0m-136.5 .9h0m-20.9 .4h0m3.4 1.1h0m-9.4 .7h0m39.6 .8h0m114.9 1.2h0m6.5 1.9h0m-167.3 .6h0m58.5 1.5h0m104.6 .7h0m-98.5 2.8h0m90.4 1.4h0m-3.5 .9h0m7 0h0m-91.1 1.9h0m6.5 1.1h0m71.7 2.4h0m-179.3 .7h0m8.4 .5h0m110.2 0h0m-152.7 .3h0m216.9 .8h0m-142.8 .2h0m-30.8 .6h0m3.5 2.6h0m96.5-.3h0m-36.2 3.9h0m.6 .1h0m-131.4 1h0M104 551h0m-9.1 1.3h0m196.1 .3h0M71.2 553h0m-1.2 1.4h0m10 0h0m-28 2.3h0m160.2 1.5h0m-104.2 .1h0m-57 3.1h0m41.3 0h0m-31.6 4h0m222.1 .5h0m-222.1 9.2h0M56 604.3h0" stroke="#1bb3c1" stroke-width="3.30" stroke-linecap="round" fill="none"/><line x1="266.2" y1="574.9" x2="291.6" y2="646.4" stroke="#000" stroke-width="0.90"/><circle cx="179.6" cy="523.0" r="4.3" fill="#000"/><text x="179.6" y="525.3" font-size="6.60" fill="#e8e8e8" text-anchor="middle" font-family='"Liberation Sans", sans-serif' >2</text><circle cx="266.2" cy="574.9" r="4.3" fill="#000"/><text x="266.2" y="577.2" font-size="6.60" fill="#e8e8e8" text-anchor="middle" font-family='"Liberation Sans", sans-serif' >1</text><line x1="36.7" y1="764.2" x2="36.7" y2="842.5" stroke="#333" stroke-width="0.70"/><line x1="34.5" y1="778.6" x2="36.7" y2="778.6" stroke="#333" stroke-width="0.70"/><text x="33.5" y="781.0" font-size="6.90" fill="#4d4d4d" text-anchor="end" font-family='"Liberation Sans", sans-serif' >10.0</text><line x1="34.5" y1="809.0" x2="36.7" y2="809.0" stroke="#333" stroke-width="0.70"/><text x="33.5" y="811.4" font-size="6.90" fill="#4d4d4d" text-anchor="end" font-family='"Liberation Sans", sans-serif' >1.0</text><line x1="34.5" y1="839.3" x2="36.7" y2="839.3" stroke="#333" stroke-width="0.70"/><text x="33.5" y="841.7" font-size="6.90" fill="#4d4d4d" text-anchor="end" font-family='"Liberation Sans", sans-serif' >0.1</text><text x="101.6" y="760.0" font-size="6.90" fill="#1a1a1a" text-anchor="middle" font-family='"Liberation Sans", sans-serif' >FTH1</text><path d="M157.2 771.7h0m2.7 1h0m-2.7 1.2h0m-41.1 .6h0m2.2-.1h0m35 .7h0m2.2-.3h0m-36.8 .6h0m.3 .3h0m-2.1 .2h0m42.9 .2h0m-42 .6h0m-2.8 1.5h0m37-.2h0m8.4-.2h0m.6 .4h0m-43.9 .2h0m.6 .1h0m31.6-.1h0m2.3 0h0m-2.7 .8h0m8.1-.3h0m3.2-.1h0m1.3 0h0m-16.2 .8h0m5.9 .1h0m.3-.4h0m6.9 .1h0m1-.1h0m1.1 .2h0m-14.4 .5h0m.5-.1h0m4.7 .2h0m1.5-.3h0m3.7 .2h0m.6-.1h0m2.6 .2h0m-16.1 .6h0m1.4-.2h0m9.7 0h0m3.6 .2h0m1.5-.4h0m.9 .1h0m.4 .2h0m.3-.2h0M45.3 781h0m8.7 0h0m62.5 .1h0m33.8-.1h0m7.7 .1h0m1.5-.1h0m-110.4 .4h0m1.5 0h0m3.4 0h0m27.4 .1h0m23.2 .2h0m7.2-.4h0m.6 .4h0m34.1-.1h0m6.4-.1h0m7.2-.2h0M49 782.1h0m.9-.3h0m3 .2h0m28.2 0h0m17.8 .2h0m8.2-.1h0m8 0h0m1.7-.3h0m7.5 .4h0m28.6-.4h0m1.2 .3h0m3.4 0h0m1.7-.3h0M56 782.5h0m3.8-.1h0m18.1 .3h0m48.5-.2h0m24.2-.2h0m4.7 0h0m4.1 .1h0m-112.3 .5h0m46.7 .3h0m18.6 0h0m2.9-.1h0m2.5 .1h0m1.8-.2h0m25.9 .2h0m6.6-.4h0m2 .1h0m3.1 .3h0m-107.5 .4h0m13.9-.3h0m48.6 0h0m13.9 .4h0m22.2 0h0m3 0h0m6.2-.3h0m1.6 0h0m1.6 0h0m-109.5 .8h0m2.4 0h0m16.6-.4h0m.1 .1h0m10.6 .2h0m22 .1h0m5.8-.4h0m6.7 0h0m18.5 .4h0m14.3-.1h0m1.6-.1h0m4.3 .2h0m3.2-.1h0m3.4-.2h0M48 784.6h0m61.8 .1h0m.7 0h0m1.2-.3h0m4.9 .2h0m1.6-.2h0m11.6 .2h0m15.9-.3h0m.1 .2h0m1.4 .2h0m3.5-.1h0m2.8-.1h0m3.9 .2h0m1.2 0h0m.2-.3h0m2.4 .1h0M57.3 785h0m9.6-.1h0m18.5-.1h0m17.3 0h0m7.7 0h0m19.6 .3h0m18.6 .1h0m5.5-.4h0m2.3 0h0m1.7 .2h0m.6 0h0m-114.9 .5h0m14-.1h0m8.7-.1h0m21.9 .2h0m11.7-.2h0m.8 0h0m.8 0h0m.9 0h0m.5 0h0m.5 0h0m.6 0h0m.6 0h0m2.5 0h0m.5 .1h0m1.2-.1h0m1.8 0h0m.5 0h0m.7 0h0m1.6 0h0m.9 0h0m.8 0h0m.5 .4h0m.5-.4h0m.5 0h0m.6 0h0m.6 0h0m1.4 0h0m.5 .3h0m3.7-.3h0m1.2 0h0m1.3 0h0m.8 0h0m1.4 0h0m.7 0h0m.9 0h0m1.7 0h0m.7 0h0m2.5 0h0m1.2 0h0m21.2 .2h0m1.9-.1h0m.9 .2h0m1.2-.1h0m-117.7 .4h0m7 .3h0m18.7-.3h0m26.6 .2h0m12.3 .1h0m9.1 0h0m7.2-.1h0m2.6-.1h0m2.9-.1h0m12.8 .2h0m10.6-.3h0M43 786.6h0m2.3-.1h0m2.3 .1h0m27.4-.2h0m13.7 .1h0m15.8 .1h0m5.1-.1h0m15.8 .1h0m33.1-.2h0m.8 .2h0m1.3-.1h0m-113.4 .7h0m1.8-.1h0m2.2 0h0m13.6 .1h0m37.7-.2h0m10.8-.1h0m5.5 .2h0m3-.1h0m1.7-.2h0m22.7 0h0m3.1 0h0m4.8 .3h0m2.4 .1h0m.3-.3h0m.7-.1h0m.6 .3h0m2.9-.2h0m-117.6 .8h0m.9 0h0m.6 0h0m.6 0h0m.6 0h0m.2 0h0m.9 0h0m.3 0h0m.7 0h0m.2 0h0m.5 0h0m.4 0h0m1.1 0h0m.4 0h0m1.3 0h0m.5 0h0m.5 0h0m.3 0h0m.7 0h0m.7 0h0m1.4 0h0m2.2 0h0m.6 0h0m.9 0h0m.9 0h0m3.3 0h0m.6 0h0m1.7 0h0m1.7 0h0m5.8 0h0m.8 0h0m.6 0h0m.6 0h0m1.2 0h0m.7 0h0m.9 0h0m2.8-.1h0m.7 .1h0m1 0h0m.5 0h0m.9 0h0m1.1 0h0m.7 0h0m3.7 0h0m.5 0h0m.2 0h0m2.2-.2h0m2.5 .2h0m.9 0h0m.6 0h0m.4 0h0m1 0h0m1.8 0h0m.8 0h0m1.2 0h0m.6 0h0m.8 0h0m1.2 0h0m2.3 0h0m.6-.1h0m.1 .1h0m1.9 0h0m3.3 0h0m.3 0h0m.9 0h0m3.3 0h0m.5 0h0m1.7 0h0m4.5 0h0m2.1 0h0m.8 0h0m1.1 0h0m.2 0h0m1.6 0h0m.4 0h0m1.5 0h0m1-.2h0m.7 0h0m.8 .2h0m1 0h0m4.9-.1h0m2.4 .1h0m.1 0h0m1.6 0h0m1 0h0m.5 0h0m.7 0h0m.7 0h0m.9-.1h0m.2 .1h0m1 0h0m.6 0h0m.5 0h0m.7 0h0m.4 0h0m.4 0h0m.6 0h0m.2 0h0m.5 0h0m.6 0h0m.7-.1h0m.5-.2h0m.5 .3h0m.3 0h0m.6 0h0m.5 0h0m.6-.2h0m.5 .2h0m.5 0h0m1.1 0h0m.5-.4h0m.4 .4h0m.3 0h0m-52.3 .1h0m38.5 0h0m11.1 .2h0m-57 .4h0m7.7-.1h0m.6 0h0m9.8 .3h0m5.8 .1h0m17.5-.4h0m1.6 0h0m8.6 .3h0m4.2 .1h0m1.9-.3h0m.4-.1h0m-45.2 .6h0m5 .2h0m36-.3h0m2.7 .4h0m.9 0h0m-52.8 .1h0m3.7 0h0m39 .4h0m10.3-.1h0m.7-.3h0m-56.8 .9h0m5.1 0h0m1.9-.3h0m20.5 .1h0m16.8 0h0m6.4 0h0m7-.2h0M43 790.7h0m.6 0h0m.6 0h0m.2 0h0m.6 0h0m.3 0h0m.6 0h0m.7 0h0m.2 0h0m.7 0h0m.3 0h0m.5 0h0m1.3 0h0m.6 0h0m.3 0h0m.5 0h0m.6 0h0m.4 0h0m.4 0h0m.8 0h0m.6 0h0m.5 0h0m.6 0h0m.4 0h0m.9 0h0m.2 0h0m1.5 0h0m1.3 0h0m.6 0h0m1.1 0h0m.4 0h0m.7 0h0m2.1 0h0m2.2 0h0m1.8 0h0m.3 0h0m.7 0h0m.5 0h0m1.1 0h0m.7 0h0m.9 0h0m.7 0h0m.5 0h0m.4 0h0m.7 0h0m.9 0h0m.4 0h0m.4 0h0m.8 0h0m1.9 0h0m.6 0h0m.2 0h0m.5 0h0m1.1 0h0m.5 0h0m1.2 0h0m.4 0h0m.8 0h0m1.8 0h0m1.7 0h0m.9 0h0m.3 0h0m.8 0h0m.9 0h0m.2 0h0m.9 0h0m1.6 0h0m.6 0h0m1.2 0h0m1.5 0h0m.2 0h0m.7 0h0m.2 0h0m.5 0h0m.9 0h0m.3 0h0m1 0h0m1.1 0h0m.6 0h0m1.3 0h0m4.2 0h0m.3 0h0m.5-.3h0m1.6 .3h0m.8 0h0m.8 0h0m.5 0h0m2.5 0h0m.5 0h0m.4 0h0m1.2 0h0m2.4 0h0m.8 0h0m4.9 0h0m.6 0h0m1 0h0m.3 0h0m1 0h0m2 0h0m.5 0h0m.7 0h0m.3 0h0m.7 0h0m.9 0h0m1.2 0h0m.8 0h0m.9 0h0m2.8 0h0m1.9 0h0m2.3 0h0m1.1 0h0m.8 0h0m1.1 0h0m.6 0h0m.6 0h0m.7-.4h0m.1 .4h0m.8 0h0m.3 0h0m.7 0h0m1.1 0h0m.1 0h0m.8 0h0m.5 0h0m.6-.4h0m.4 .4h0m.8 0h0m.8 0h0m1.9 0h0m.5 0h0m.3 0h0m1.1 0h0m1 0h0m.3 0h0m.7 0h0m.3 0h0m.6 0h0m-39.2 .3h0m27.3 0h0m9.7 0h0m-51.4 .6h0m6.4-.3h0m34.8 .3h0m2.6-.2h0m5.3 .2h0m-56.2 .6h0m.2-.4h0m7.4 .2h0m17.1 .1h0m.6 0h0m6.4-.3h0m22.1 0h0m1.6 .2h0m1.5-.2h0m.9 0h0m-50.2 .5h0m.9 .4h0m1.3-.1h0m1.8-.1h0m4.8 0h0m2.9 .2h0m.9-.2h0m36.6-.1h0m1.1-.1h0m.3 0h0m.4 .3h0m-50.8 .2h0m1.6 .2h0m4.6 .2h0m2.3-.1h0m.7-.2h0m.2-.1h0m1 .2h0m33.8 0h0m4.2-.1h0m2 .1h0m.8-.2h0m1 0h0m.3 .1h0m-49.8 .6h0m1.9 .2h0m3.2-.3h0m5.5 0h0m21.3-.1h0m3.2 .3h0m.9 .1h0m4.8-.4h0m7 0h0m1.1 0h0m-53.9 .8h0m.7 0h0m4.7 0h0m1-.1h0m4.6 0h0m.3 .2h0m2.2-.3h0m5.3 .3h0m1.8-.4h0m17 .3h0m1.3 0h0m3.8-.3h0m5.8 .3h0m4.3 0h0m2.1-.2h0m-118.2 .6h0m.7 0h0m.3 0h0m.4 0h0m.9 0h0m.1 0h0m.5 0h0m.7 0h0m.6 0h0m.4 0h0m.7 0h0m.4 0h0m.2 0h0m.8 0h0m.2 0h0m.7 0h0m.5 0h0m.5 0h0m.7 0h0m.3 0h0m.7 0h0m.3 0h0m.4 0h0m.4 0h0m.6 0h0m.4 0h0m.6 0h0m.8 0h0m.2 0h0m.6 0h0m.3 0h0m.9 0h0m.4 0h0m.5 0h0m.4 0h0m.4 0h0m.7 0h0m.2 0h0m.7 0h0m1.1 0h0m.2 0h0m.9 0h0m.3 0h0m.6 0h0m1 0h0m.5 0h0m.5 0h0m.6 0h0m.3 0h0m.6 0h0m.5 0h0m.4 0h0m.6 0h0m1 0h0m.4 0h0m.8 0h0m.9 0h0m.4 0h0m.6 0h0m.3 0h0m.4 0h0m.4 0h0m.6 0h0m.4 0h0m1.8 0h0m.5 0h0m.6 0h0m.1 0h0m1.1 0h0m1.7 0h0m.7 0h0m1.2 0h0m.5 0h0m.6 0h0m.3 0h0m2.2 0h0m.9 0h0m.8 0h0m.7 0h0m.4 0h0m.6 0h0m.6 0h0m.4 0h0m.7 0h0m.2 0h0m.6 0h0m.7 0h0m.2 0h0m.5 0h0m.4 0h0m.7 0h0m.4 0h0m.8 0h0m.1 0h0m.8 0h0m.3 0h0m.6 0h0m.6 0h0m.3 0h0m1.2 0h0m.3 0h0m1 0h0m1.2 0h0m.3 0h0m.7 0h0m.2 0h0m1.3 0h0m.5 0h0m.4 0h0m.4 0h0m.6-.1h0m.6 .1h0m.5 0h0m.6 0h0m.8 0h0m1.1 0h0m.2 0h0m.6 0h0m.5 0h0m1.5 0h0m1 0h0m.6 0h0m.6 0h0m.2 0h0m.8 0h0m.4 0h0m.4 0h0m1 0h0m1.8 0h0m.4 0h0m.6 0h0m1.8 0h0m1 0h0m.7 0h0m.4 0h0m.2 0h0m.6 0h0m.4 0h0m1.1 0h0m.6 0h0m.8 0h0m.9 0h0m.1 0h0m1 0h0m.8 0h0m.4 0h0m.5 0h0m.7 0h0m.5 0h0m.9 0h0m3.9 0h0m1.5 0h0m.3 0h0m.7 0h0m2.2 0h0m.1 0h0m1 0h0m1.4 0h0m.4 0h0m.4 0h0m.3 0h0m.5 0h0m1 0h0m.6 0h0m.5-.2h0m.5 .2h0m.7 0h0m.5 0h0m.4 0h0m.3 0h0m.9 0h0m.5 0h0m.4 0h0m.2 0h0m.7 0h0m.5 0h0m.3 0h0m.8 0h0m.4 0h0m.5 0h0m.6 0h0m.2 0h0m.7 0h0m.7 0h0m.1 0h0m.6 0h0m.6 0h0m-16.6 .3h0m16.3 0h0m-8.8 .5h0m2.7 .1h0m1.1 .3h0m4.5-.1h0m.3 .5h0m-2.5 .4h0m1.8-.1h0m-4.5 .4h0m-112.7 3h0m.2 0h0m.6 0h0m.6 0h0m.4 0h0m.6 0h0m.3 0h0m.6 0h0m.4 0h0m.7 0h0m.7 0h0m.5 0h0m.3 0h0m.5 0h0m.6 0h0m.6 0h0m.4 0h0m.6 0h0m.3 0h0m.7 0h0m.3 0h0m.7 0h0m.5 0h0m.1 0h0m.5 0h0m.8 0h0m.6 0h0m.3 0h0m.6 0h0m.6 0h0m.1 0h0m.6 0h0m.8 0h0m.4 0h0m1 0h0m.9 0h0m1.1 0h0m.5 0h0m.3 0h0m.7 0h0m.6 0h0m.4 0h0m1.1 0h0m.2 0h0m.4 0h0m1 0h0m.9 0h0m.3 0h0m.7 0h0m.3 0h0m.4 0h0m.4 0h0m.6 0h0m1.3 0h0m.5 0h0m.8 0h0m.3 0h0m.7 0h0m.6 0h0m.3 0h0m.4 0h0m.7 0h0m.6 0h0m.5 0h0m.7 0h0m.5 0h0m.6 0h0m.7 0h0m.5 0h0m.9 0h0m.5 0h0m1.5 0h0m.3 0h0m.6 0h0m.4 0h0m.7 0h0m.3 0h0m.6 0h0m.5 0h0m.7 0h0m.2 0h0m1.1 0h0m.4 0h0m.7 0h0m1.1 0h0m.3 0h0m.5 0h0m.6 0h0m.6 0h0m1 0h0m1 0h0m.2 0h0m.6 0h0m.4 0h0m.9 0h0m.1 0h0m.7 0h0m.5 0h0m.4 0h0m1.8 0h0m1.3 0h0m.5 0h0m.6 0h0m.6 0h0m4.4 0h0m1.1 0h0m1 0h0m2.8 0h0m.3 0h0m.6 0h0m6.2 0h0m1.3 0h0m.5 0h0m.5 0h0m1 0h0m1.3 0h0m3.3 0h0m.9 0h0m1.3 0h0m.4 0h0m.5 0h0m.9 0h0m.8 0h0m1.1 0h0m.5 0h0m5.3 0h0m1.1 0h0m.9 0h0m.4 0h0m2.1 0h0m.7 0h0m1.8 0h0m.5 0h0m.4 0h0m.8 0h0m.9 0h0m.8 0h0m.8 0h0m.8 0h0m.3 0h0m.7 0h0m.6 0h0m.5 0h0m.6 0h0m1.3 0h0m.4 0h0m.2 0h0m.8 0h0m.2 0h0m.7 0h0m.5 0h0m.7 0h0m.3 0h0m.4 0h0m.6 0h0m.3 0h0M42.9 809h0m.6 0h0m.4 0h0m.8 0h0m.3 0h0m.3 0h0m.9 0h0m.3 0h0m.7 0h0m.5 0h0m.1 0h0m.6 0h0m.6 0h0m.4 0h0m.7 0h0m.5 0h0m.3 0h0m.8 0h0m.3 0h0m.3 0h0m.5 0h0m.7 0h0m.3 0h0m.6 0h0m.6 0h0m1.8 0h0m1 0h0m3.9 0h0m.1 0h0m.8 0h0m.4 0h0m.5 0h0m.4 0h0m1.2 0h0m.2 0h0m1.4 0h0m.3 0h0m.4 0h0m2 0h0m.8 0h0m1.3 0h0m.6 0h0m1.6 0h0m.8 0h0m1 0h0m1.6 0h0m.2 0h0m1.6 0h0m.5 0h0m1 0h0m.8 0h0m.6 0h0m.6 0h0m.8 0h0m.6 0h0m.7 0h0m1.6 0h0m.4 0h0m1.4 0h0m1.2 0h0m.4 0h0m.6 0h0m.2 0h0m.5 0h0m1.3 0h0m1.1 0h0m.2 0h0m1 0h0m1.4 0h0m1.8 0h0m5.7 0h0m.8 0h0m1.5 0h0m2.6 0h0m.7 0h0m1.8 0h0m.2 0h0m1.5 0h0m.7 0h0m3.4 0h0m2.4 0h0m2.2 0h0m8.6 0h0m2.9 0h0m14 0h0m2 0h0m1 0h0m1.7 0h0m1 0h0m.8 0h0m.2 0h0m.8 0h0m.4 0h0m.3 0h0m1.1 0h0m.5 0h0m.6 0h0m.6 0h0m.2 0h0m.6 0h0m.6 0h0m.3 0h0m.9 0h0m.3 0h0m.4 0h0m.5 0h0M43.1 839.3h0m.6 0h0m.3 0h0m.5 0h0m.3 0h0m.8 0h0m.8 0h0m3.1 0h0m.7 0h0m1.6 0h0m2.2 0h0m1.6 0h0m.5 0h0m.6 0h0m4.3 0h0m1 0h0m1.5 0h0m2 0h0m1.1 0h0m1.9 0h0m4 0h0m3.4 0h0m3.3 0h0m8.8 0h0m3.9 0h0m2.5 0h0m4.8 0h0m2.5 0h0m3.6 0h0m2.7 0h0m7.7 0h0m.3 0h0m.4 0h0m2.2 0h0m3.3 0h0m4.6 0h0m.4 0h0m.7 0h0m1.4 0h0m.3 0h0m2.9 0h0m.7 0h0m3.4 0h0m8.7 0h0m1.8 0h0m4 0h0m1.4 0h0m1.2 0h0m.5 0h0m.9 0h0m.7 0h0m1.6 0h0m.3 0h0m.9 0h0m.9 0h0m.5 0h0m1 0h0m.3 0h0" stroke="#ec7469" stroke-width="2.50" stroke-linecap="round" fill="none"/><path d="M116.4 773.8h0m.5 0h0m-3.8 .6h0m3.8-.1h0m.6 0h0m-2.8 .6h0m.2 .8h0m2.2-.4h0m-4.6 .7h0m2.5 .1h0m3.1 .4h0m1.1 .2h0m29.6-.2h0m6.6 0h0m-43.5 .6h0m2.1-.2h0m.5 .2h0m4.4-.2h0m-.8 .4h0m.6 .3h0m-6.9 .2h0m38.4 .1h0m-37.2 .7h0m4 .2h0m1.4 .2h0m25.8-.1h0m-32.8 .8h0m1.1-.1h0m43.5 0h0m5.3-.3h0m-10.6 .6h0m.6-.1h0m-38.4 .6h0m4.2 .3h0m1.9-.3h0m.6-.1h0m.4 .2h0m-23.4 .4h0m17.7 .1h0m31.9 0h0m7.3 .1h0m-81.4 .4h0m43.2-.1h0m-68.7 .6h0m60.5-.2h0m53.8 .2h0m-107.5 .4h0m60.5 .3h0m5.1 0h0m24.5 0h0m-98.5 .5h0m66.9-.1h0m4.9 0h0m2 .1h0m-70.2 .3h0m26.1 .1h0m36.8-.3h0m3.8 0h0m2 .1h0m36.3 .3h0m-40 .5h0m.7-.2h0m2.7-.2h0m40.3 .4h0m-45.6 .3h0m6.3-.1h0m-25.6 .8h0m18.8-.3h0m.8 .1h0m2.5 .1h0m.7-.1h0m.4 .2h0m-53.7 .5h0m50.9-.1h0m1.9 .1h0m4.5-.4h0m-5.3 .5h0m.9 .3h0m1.7-.3h0m-66.8 1h0m61.4 .4h0m4-.4h0m2.6 .4h0m-20.1 1h0m13.2-.1h0m-31 .4h0m32.9 .1h0m.3-.1h0m2 0h0m.4 .1h0m2-.1h0m2.2 0h0m-67.6 .3h0m63.2 .4h0m.1 0h0m-4 .5h0m7.7 0h0m.4-.4h0m-4.9 .5h0m2 1.2h0m1.7-.1h0m.3 .3h0m-2.8 .6h0m-.3 .6h0" stroke="#1bb3c1" stroke-width="2.50" stroke-linecap="round" fill="none"/><path d="M42.7 795.0 L44.7 795.0 L46.7 795.0 L48.7 794.9 L50.8 794.9 L52.8 794.9 L54.8 794.8 L56.8 794.8 L58.8 794.7 L60.8 794.7 L62.8 794.6 L64.8 794.6 L66.9 794.5 L68.9 794.4 L70.9 794.3 L72.9 794.2 L74.9 794.0 L76.9 793.9 L78.9 793.8 L81.0 793.6 L83.0 793.3 L85.0 793.0 L87.0 792.7 L89.0 792.3 L91.0 791.9 L93.0 791.5 L95.1 791.1 L97.1 790.7 L99.1 790.2 L101.1 789.8 L103.1 789.3 L105.1 788.7 L107.1 788.2 L109.1 787.7 L111.2 787.2 L113.2 786.8 L115.2 786.4 L117.2 786.0 L119.2 785.6 L121.2 785.2 L123.2 784.8 L125.3 784.4 L127.3 784.1 L129.3 783.9 L131.3 783.8 L133.3 783.8 L135.3 783.8 L137.3 783.8 L139.4 783.9 L141.4 784.0 L143.4 784.1 L145.4 784.2 L147.4 784.6 L149.4 785.1 L151.4 785.6 L153.4 786.2 L155.5 786.9 L157.5 787.6 L159.5 788.5 L161.5 789.5" stroke="#000" stroke-width="0.9" fill="none"/><line x1="36.7" y1="861.0" x2="36.7" y2="940.5" stroke="#333" stroke-width="0.70"/><line x1="34.5" y1="861.6" x2="36.7" y2="861.6" stroke="#333" stroke-width="0.70"/><text x="33.5" y="864.0" font-size="6.90" fill="#4d4d4d" text-anchor="end" font-family='"Liberation Sans", sans-serif' >10.0</text><line x1="34.5" y1="899.0" x2="36.7" y2="899.0" stroke="#333" stroke-width="0.70"/><text x="33.5" y="901.4" font-size="6.90" fill="#4d4d4d" text-anchor="end" font-family='"Liberation Sans", sans-serif' >1.0</text><line x1="34.5" y1="936.4" x2="36.7" y2="936.4" stroke="#333" stroke-width="0.70"/><text x="33.5" y="938.8" font-size="6.90" fill="#4d4d4d" text-anchor="end" font-family='"Liberation Sans", sans-serif' >0.1</text><text x="101.6" y="857.2" font-size="6.90" fill="#1a1a1a" text-anchor="middle" font-family='"Liberation Sans", sans-serif' >PRDX1</text><path d="M153.5 869h0m-38.2 1.8h0m-66.7 5.7h0m64.5 0h0m2.1 0h0m.1 0h0m1.1 0h0m2.8 0h0m31 0h0m-36.3 4.7h0m47 0h0m-50.1 6.5h0m1.1 0h0m.8 0h0m.3 0h0m1.5 0h0m.3 0h0m1.7 0h0m.5 0h0m1 0h0m.7 0h0m.3 0h0m.6 0h0m31.1 0h0m4.7 0h0m.6 0h0M45 899h0m1.6 0h0m6.8 0h0m8.5 0h0m10.2 0h0m20.3 0h0m4.2 0h0m15.2 0h0m.7 0h0m.4 0h0m1.4 0h0m.7 0h0m.6 0h0m1.4 0h0m.3 0h0m.8 0h0m.4 0h0m.4 0h0m24.6 0h0m.7 0h0m9.4 0h0m3.7 0h0m4 0h0M49.7 936.4h0m2.3 0h0m22.7 0h0m5.1 0h0m17.8 0h0m9.5 0h0m4 0h0m.2 0h0m.6 0h0m.9 0h0m.8 0h0m.3 0h0m.6 0h0m.4 0h0m.5 0h0m1.1 0h0m.3 0h0m.7 0h0m1.3 0h0m.6 0h0m.6 0h0m26.2 0h0m2.6 0h0m2.5 0h0" stroke="#1bb3c1" stroke-width="2.50" stroke-linecap="round" fill="none"/><path d="M160.6 864.3h0m-10.8 1.4h0m8.7-.1h0M145 866h0m1.1 .1h0m5.4 .1h0m9.1-.3h0m.8 .5h0m-5.1 .5h0m.7 .1h0m2.9-.2h0m.4 .3h0m-.7 1h0m-11.9 .3h0m-39.8 .6h0m22-.1h0m25.4 .2h0m1.9-.2h0m1.1-.1h0m2.4 .8h0m-7.6 .5h0m6.4-.1h0m1 .1h0m-40.5 .4h0m4.4 .5h0m-14.3 .3h0m3.2 .8h0M152 872h0m2.1 .2h0m4.1 0h0m3.1-.3h0m-8 1.2h0m1.8-.2h0m3.9-.1h0m-2.6 .5h0m-4.3 .5h0m7.3 0h0m-58.2 2.7h0m1.7 0h0m1.9 0h0m.5 0h0m1.3 0h0m1.2 0h0m1.8 0h0m1.7 0h0m3.4 0h0m.6 0h0m.8 0h0m2.2 0h0m1 0h0m3.1 0h0m2.5 0h0m2.3 0h0m2.1 0h0m5.6 0h0m1.1 0h0m6.6 0h0m3.1 0h0m.5 0h0m1.2 0h0m.9 0h0m1 0h0m1 0h0m1 0h0m1.6 0h0m.6 0h0m.8 0h0m2.1 0h0m.4 0h0m.7 0h0m.3 0h0m.9 0h0m.3 0h0m.4 0h0m.8 0h0m.1 0h0m.8 0h0m-117.2 4.7h0m.8 0h0m.6 0h0m2.6 0h0m5.6 0h0m19.7 0h0m3.6 0h0m9.3 0h0m4.7 0h0m2.2 0h0m8.1 0h0m.6 0h0m.5 0h0m.3 0h0m.5 0h0m.6 0h0m.9 0h0m1.1 0h0m1.5 0h0m.5 0h0m.2 0h0m1.8 0h0m.5 0h0m1.6 0h0m.7 0h0m.5 0h0m1.3 0h0m.2 0h0m1 0h0m1 0h0m.9 0h0m1.4 0h0m.4 0h0m.5 0h0m2.2 0h0m1.7 0h0m2.6 0h0m.8 0h0m.7 0h0m.8 0h0m1.4 0h0m.5 0h0m1 0h0m.5 0h0m.6 0h0m.7 0h0m2.7 0h0m7 0h0m3.8 0h0m.5 0h0m.7 0h0m.8 0h0m.7 0h0m1.3 0h0m.3 0h0m.5 0h0m1 0h0m.7 0h0m1 0h0m1 0h0m.4 0h0m1.4 0h0m.6 0h0m.5 0h0m.4 0h0m.7 0h0m.6 0h0m.3 0h0m.4 0h0m.7 0h0m.3 0h0m-117.7 6.5h0m.3 0h0m.4 0h0m.7 0h0m.6 0h0m.4 0h0m1.4 0h0m.7 0h0m.2 0h0m.5 0h0m.5 0h0m.7 0h0m.4 0h0m1 0h0m.5 0h0m.4 0h0m.6 0h0m.5 0h0m.5 0h0m.5 0h0m.4 0h0m.5 0h0m.6 0h0m.5 0h0m2.3 0h0m2.3 0h0m.2 0h0m1.8 0h0m3.1 0h0m2.5 0h0m.3 0h0m1.4 0h0m.7 0h0m1.4 0h0m.5 0h0m.6 0h0m1.3 0h0m.6 0h0m.8 0h0m2.3 0h0m.6 0h0m.2 0h0m2.1 0h0m.9 0h0m2.1 0h0m2.2 0h0m3.4 0h0m1.7 0h0m.6 0h0m.7 0h0m1.3 0h0m1.3 0h0m.7 0h0m1.6 0h0m.3 0h0m2.2 0h0m1.2 0h0m.9 0h0m.2 0h0m.7 0h0m.4 0h0m.7 0h0m2.5 0h0m.6 0h0m.5 0h0m.3 0h0m.7 0h0m1.2 0h0m.5 0h0m.8 0h0m.6 0h0m.8 0h0m.2 0h0m1.8 0h0m.3 0h0m1.1 0h0m.3 0h0m.9 0h0m.3 0h0m.8 0h0m.9 0h0m2.2 0h0m2 0h0m1.2 0h0m.6 0h0m.4 0h0m.8 0h0m.9 0h0m.7 0h0m.4 0h0m.5 0h0m1 0h0m.6 0h0m.6 0h0m.6 0h0m.3 0h0m.7 0h0m.1 0h0m1.4 0h0m.7 0h0m4.1 0h0m1 0h0m1.7 0h0m.5 0h0m.4 0h0m2.3 0h0m1.2 0h0m.4 0h0m.5 0h0m.4 0h0m.4 0h0m.6 0h0m.8 0h0m.9 0h0m.6 0h0m.4 0h0m.5 0h0m.4 0h0m.7 0h0m.1 0h0m.8 0h0m.5 0h0m.3 0h0m.7 0h0m.3 0h0m.5 0h0m.8 0h0m.4 0h0m.4 0h0m.3 0h0m.7 0h0m.6 0h0m.4 0h0m.4 0h0m.7 0h0m.4 0h0M42.9 899h0m.6 0h0m.5 0h0m.3 0h0m.6 0h0m.7 0h0m.2 0h0m.8 0h0m.2 0h0m.9 0h0m.1 0h0m.8 0h0m.4 0h0m.3 0h0m.8 0h0m.5 0h0m.3 0h0m.6 0h0m.3 0h0m.5 0h0m.5 0h0m.9 0h0m.3 0h0m.4 0h0m.5 0h0m.4 0h0m.9 0h0m.5 0h0m.4 0h0m.6 0h0m.1 0h0m.6 0h0m.7 0h0m.4 0h0m.3 0h0m.6 0h0m.7 0h0m.2 0h0m.9 0h0m.4 0h0m.9 0h0m.4 0h0m.4 0h0m.8 0h0m.4 0h0m.6 0h0m.3 0h0m.5 0h0m.5 0h0m.4 0h0m.9 0h0m.5 0h0m.3 0h0m.5 0h0m.6 0h0m.2 0h0m.6 0h0m.7 0h0m.6 0h0m.3 0h0m.5 0h0m.5 0h0m.5 0h0m.5 0h0m.3 0h0m.6 0h0m.4 0h0m.8 0h0m1 0h0m.8 0h0m.7 0h0m.3 0h0m.6 0h0m.7 0h0m.2 0h0m.8 0h0m.2 0h0m.8 0h0m.1 0h0m.9 0h0m.3 0h0m.4 0h0m.5 0h0m.7 0h0m.4 0h0m1 0h0m.4 0h0m.6 0h0m.9 0h0m.7 0h0m.2 0h0m.7 0h0m.6 0h0m.4 0h0m.7 0h0m.5 0h0m.2 0h0m.8 0h0m.2 0h0m.8 0h0m.1 0h0m.5 0h0m.6 0h0m.5 0h0m.8 0h0m.5 0h0m.3 0h0m.7 0h0m.2 0h0m.5 0h0m.6 0h0m.7 0h0m.4 0h0m1.1 0h0m.1 0h0m.8 0h0m.6 0h0m.6 0h0m2.7 0h0m.8 0h0m.6 0h0m.8 0h0m.1 0h0m.9 0h0m1 0h0m.5 0h0m.4 0h0m.6 0h0m.3 0h0m.6 0h0m.6 0h0m.5 0h0m.4 0h0m.7 0h0m.8 0h0m.6 0h0m.2 0h0m.7 0h0m.4 0h0m.3 0h0m1.3 0h0m.6 0h0m.4 0h0m.6 0h0m.7 0h0m1.4 0h0m.5 0h0m.7 0h0m.6 0h0m.3 0h0m.7 0h0m1.2 0h0m.7 0h0m.7 0h0m.1 0h0m.6 0h0m1.6 0h0m.3 0h0m.6 0h0m.7 0h0m.3 0h0m9.7 0h0m.2 0h0m.5 0h0m.8 0h0m.7 0h0m.8 0h0m.5 0h0m.4 0h0m.6 0h0m.5 0h0m.3 0h0m.6 0h0m.4 0h0m.7 0h0m.2 0h0m.8 0h0m.4 0h0m.6 0h0m.3 0h0m.6 0h0m.6 0h0m.5 0h0m.2 0h0m1.3 0h0m.4 0h0m.7 0h0m.1 0h0m.8 0h0m.4 0h0m.5 0h0m.5 0h0m.3 0h0m.7 0h0m.3 0h0m.6 0h0M43 936.4h0m.3 0h0m.6 0h0m.8 0h0m.3 0h0m.5 0h0m.7 0h0m.2 0h0m.8 0h0m.3 0h0m.3 0h0m.5 0h0m.5 0h0m.8 0h0m.6 0h0m.5 0h0m.4 0h0m.3 0h0m.6 0h0m.5 0h0m.3 0h0m.6 0h0m.8 0h0m.1 0h0m.5 0h0m.6 0h0m.8 0h0m.5 0h0m.2 0h0m.4 0h0m.6 0h0m.6 0h0m.7 0h0m.4 0h0m.4 0h0m.6 0h0m.2 0h0m.5 0h0m.7 0h0m1.1 0h0m.3 0h0m.7 0h0m.6 0h0m.4 0h0m1 0h0m.5 0h0m.2 0h0m.9 0h0m.4 0h0m.5 0h0m.5 0h0m.6 0h0m.5 0h0m.1 0h0m.9 0h0m1.1 0h0m.9 0h0m.5 0h0m.3 0h0m.6 0h0m.4 0h0m.7 0h0m.1 0h0m1.3 0h0m.2 0h0m.5 0h0m.9 0h0m.3 0h0m.3 0h0m.5 0h0m.8 0h0m.3 0h0m.5 0h0m.7 0h0m.3 0h0m.8 0h0m.3 0h0m.3 0h0m.5 0h0m.8 0h0m.3 0h0m.6 0h0m.3 0h0m.6 0h0m.7 0h0m.4 0h0m.7 0h0m.4 0h0m.2 0h0m.5 0h0m.9 0h0m.1 0h0m.8 0h0m.2 0h0m.8 0h0m.3 0h0m.7 0h0m.2 0h0m.6 0h0m.7 0h0m.5 0h0m.2 0h0m.6 0h0m.4 0h0m.5 0h0m.8 0h0m.2 0h0m1.2 0h0m.7 0h0m.7 0h0m.5 0h0m.8 0h0m.2 0h0m1.2 0h0m.6 0h0m.4 0h0m.2 0h0m1.4 0h0m.7 0h0m.5 0h0m.6 0h0m.5 0h0m.7 0h0m.5 0h0m.4 0h0m.4 0h0m.7 0h0m.6 0h0m.6 0h0m.5 0h0m.6 0h0m.3 0h0m.6 0h0m.6 0h0m.6 0h0m.4 0h0m.6 0h0m.5 0h0m.4 0h0m.3 0h0m.6 0h0m1 0h0m.6 0h0m.9 0h0m1 0h0m1.7 0h0m.5 0h0m1.3 0h0m.6 0h0m.3 0h0m.7 0h0m.3 0h0m.9 0h0m.1 0h0m.7 0h0m1 0h0m.7 0h0m.4 0h0m.5 0h0m.3 0h0m.7 0h0m.3 0h0m.6 0h0m.6 0h0m.2 0h0m.5 0h0m.8 0h0m.7 0h0m2.3 0h0m1.6 0h0m.1 0h0m.7 0h0m.3 0h0m1.4 0h0m1.5 0h0m.5 0h0m.3 0h0m.4 0h0m.4 0h0m.5 0h0m.6 0h0m.6 0h0m.7 0h0m.4 0h0m.4 0h0m.3 0h0m.5 0h0m.9 0h0m.1 0h0m.5 0h0m.9 0h0m.5 0h0m.5 0h0m.5 0h0m.4 0h0m.4 0h0m.4 0h0m.6 0h0m.5 0h0m.5 0h0m.5 0h0m.5 0h0m.5 0h0m.4 0h0m.4 0h0m.8 0h0m.4 0h0m.7 0h0m.2 0h0m.6 0h0" stroke="#ec7469" stroke-width="2.50" stroke-linecap="round" fill="none"/><path d="M42.7 906.5 L44.7 907.3 L46.7 908.1 L48.7 908.9 L50.8 909.6 L52.8 910.3 L54.8 910.9 L56.8 911.5 L58.8 912.0 L60.8 912.5 L62.8 912.9 L64.8 913.4 L66.9 913.8 L68.9 914.3 L70.9 914.6 L72.9 915.0 L74.9 915.3 L76.9 915.5 L78.9 915.6 L81.0 915.6 L83.0 915.6 L85.0 915.4 L87.0 915.2 L89.0 914.9 L91.0 914.5 L93.0 914.1 L95.1 913.7 L97.1 913.2 L99.1 912.7 L101.1 912.3 L103.1 911.7 L105.1 911.0 L107.1 910.3 L109.1 909.4 L111.2 908.6 L113.2 907.7 L115.2 906.9 L117.2 906.1 L119.2 905.4 L121.2 904.7 L123.2 904.0 L125.3 903.3 L127.3 902.6 L129.3 901.9 L131.3 901.2 L133.3 900.6 L135.3 900.0 L137.3 899.5 L139.4 898.8 L141.4 898.2 L143.4 897.6 L145.4 897.1 L147.4 896.7 L149.4 896.4 L151.4 896.4 L153.4 896.4 L155.5 896.5 L157.5 896.7 L159.5 896.9 L161.5 897.3" stroke="#000" stroke-width="0.9" fill="none"/><line x1="36.4" y1="940.0" x2="166.4" y2="940.0" stroke="#333" stroke-width="0.70"/><line x1="42.7" y1="940.0" x2="42.7" y2="942.2" stroke="#333" stroke-width="0.70"/><text x="42.7" y="949.7" font-size="6.90" fill="#4d4d4d" text-anchor="middle" font-family='"Liberation Sans", sans-serif' >0</text><line x1="78.7" y1="940.0" x2="78.7" y2="942.2" stroke="#333" stroke-width="0.70"/><text x="78.7" y="949.7" font-size="6.90" fill="#4d4d4d" text-anchor="middle" font-family='"Liberation Sans", sans-serif' >10</text><line x1="114.7" y1="940.0" x2="114.7" y2="942.2" stroke="#333" stroke-width="0.70"/><text x="114.7" y="949.7" font-size="6.90" fill="#4d4d4d" text-anchor="middle" font-family='"Liberation Sans", sans-serif' >20</text><line x1="150.7" y1="940.0" x2="150.7" y2="942.2" stroke="#333" stroke-width="0.70"/><text x="150.7" y="949.7" font-size="6.90" fill="#4d4d4d" text-anchor="middle" font-family='"Liberation Sans", sans-serif' >30</text><text x="101.6" y="959.4" font-size="8.70" fill="#000" text-anchor="middle" font-family='"Liberation Sans", sans-serif' >Pseudo−time</text><text x="0.0" y="0.0" font-size="8.70" fill="#000" text-anchor="middle" font-family='"Liberation Sans", sans-serif' transform="translate(15.1 853.0) rotate(-90)">Relative Expression</text><line x1="275.3" y1="764.2" x2="275.3" y2="842.5" stroke="#333" stroke-width="0.70"/><line x1="273.1" y1="778.6" x2="275.3" y2="778.6" stroke="#333" stroke-width="0.70"/><text x="272.1" y="781.0" font-size="6.90" fill="#4d4d4d" text-anchor="end" font-family='"Liberation Sans", sans-serif' >10.0</text><line x1="273.1" y1="809.0" x2="275.3" y2="809.0" stroke="#333" stroke-width="0.70"/><text x="272.1" y="811.4" font-size="6.90" fill="#4d4d4d" text-anchor="end" font-family='"Liberation Sans", sans-serif' >1.0</text><line x1="273.1" y1="839.3" x2="275.3" y2="839.3" stroke="#333" stroke-width="0.70"/><text x="272.1" y="841.7" font-size="6.90" fill="#4d4d4d" text-anchor="end" font-family='"Liberation Sans", sans-serif' >0.1</text><text x="340.1" y="760.0" font-size="6.90" fill="#1a1a1a" text-anchor="middle" font-family='"Liberation Sans", sans-serif' >FTH1</text><path d="M283.6 781h0m8.7 0h0m42.5-.1h0m-47.4 .5h0m1.5 0h0m3.3 0h0m18.1 .1h0m9.4 0h0m-34.8 .5h0m2.4 .1h0m.9-.3h0m.1 0h0m2.9 .2h0m28.1 0h0m17.8 .2h0m-45.4 .2h0m2.6 .1h0m3.7-.1h0m18.1 .3h0m-32.8 .5h0m2-.3h0m46.7 .3h0m-45.1 .3h0m1 .1h0m14-.3h0m11 .3h0m-23.4 .6h0m2.4 0h0m16.7-.3h0m10.6 .2h0m-32.9 .5h0m9.2 .4h0m9.6-.1h0m18.5-.1h0m7 .4h0m-48.5 .3h0m14-.1h0m4.1 .3h0m4.5-.4h0m22 .2h0m11.6-.2h0m-56.5 .6h0m7 .3h0m18.6-.3h0m26.6 .2h0m-52.7 .5h0m2.3-.1h0m2.3 .1h0m27.4-.2h0m13.6 .1h0m-41.4 .7h0m1.8-.1h0m.7-.3h0m1.5 .3h0m13.6 .1h0m-21.4 .5h0m.9 0h0m.6 0h0m.5 0h0m.5 0h0m.2 0h0m1.1 0h0m.6 0h0m.4 0h0m.7 0h0m.4 0h0m1.1 0h0m.4 0h0m.4-.2h0m.9 .2h0m.5 0h0m.4 0h0m1.1 0h0m.7 0h0m.2-.3h0m1.1 .3h0m2.2 0h0m.7 0h0m.9 0h0m.2 0h0m.7 0h0m.4 0h0m2.9 0h0m.5 0h0m1.7 0h0m1.7 0h0m5.8 0h0m.8 0h0m.7 0h0m.6 0h0m1.2 0h0m.7 0h0m.9 0h0m2.7-.1h0m.7 .1h0m1 0h0m.6 0h0m.8 0h0m1.1 0h0m.7 0h0m3.7 0h0m.7 0h0m2.2-.2h0m.1 .2h0m2.4 0h0m.9 0h0m.6 0h0m.4 0h0m1 0h0m1.8 0h0m-2.6 .5h0m-17.7 .3h0m-27.9 .3h0m-9 1.9h0m.1 0h0m.6 0h0m.5 0h0m.4 0h0m.8 0h0m.6 0h0m.3 0h0m.4 0h0m.6 0h0m.6 0h0m.4 0h0m1.2 0h0m.2 0h0m.6 0h0m.3 0h0m.5 0h0m.6 0h0m.4 0h0m1.2 0h0m.5 0h0m.6 0h0m.5 0h0m.2 0h0m1.2 0h0m1.6 0h0m.2 0h0m1.2 0h0m.5 0h0m.3 0h0m.9 0h0m.4 0h0m.7 0h0m2 0h0m2.3 0h0m1.8 0h0m.5 0h0m.4 0h0m.5 0h0m1.1 0h0m.7 0h0m1 0h0m.7 0h0m.9 0h0m.7 0h0m.8 0h0m.5 0h0m.3 0h0m.9 0h0m1.8 0h0m.6 0h0m.8 0h0m1.1 0h0m.4 0h0m.4 0h0m1 0h0m.3 0h0m.7 0h0m1.8 0h0m1.7 0h0m1.2 0h0m.8 0h0m.9 0h0m1.1 0h0m1.6 0h0m.6 0h0m.8 0h0m.4 0h0m1.1 0h0m.6 0h0m.9 0h0m.5 0h0m.3 0h0m.5 0h0m-56.1 3.8h0m.5 0h0m.2 0h0m.7 0h0m.4 0h0m.6 0h0m.5 0h0m.2 0h0m.5 0h0m.9 0h0m.4 0h0m.4 0h0m.6 0h0m.6 0h0m.2 0h0m.4 0h0m.5 0h0m.5 0h0m.5 0h0m.6 0h0m.4 0h0m.7 0h0m.3 0h0m.8 0h0m.6 0h0m.4 0h0m.6 0h0m.8 0h0m.7 0h0m.2 0h0m1 0h0m.5 0h0m.4 0h0m.9 0h0m.2 0h0m.5 0h0m.9 0h0m1 0h0m1.4 0h0m.5 0h0m.1 0h0m.7 0h0m.4 0h0m.4 0h0m.6 0h0m.5 0h0m.6 0h0m.3 0h0m.9 0h0m.6 0h0m1 0h0m.5 0h0m.7 0h0m.9 0h0m.4 0h0m.6 0h0m.4 0h0m.7 0h0m.6 0h0m.4 0h0m1.6 0h0m.2 0h0m.5 0h0m.8 0h0m.4 0h0m.7 0h0m.2 0h0m1.4 0h0m.7 0h0m1.2 0h0m.5 0h0m.9 0h0m2.1 0h0m.1 0h0m.9 0h0m.8 0h0m.3 0h0m.8 0h0m.6 0h0m1 0h0m.1 0h0m.6 0h0m.8 0h0m.7 0h0m.7 0h0m.4 0h0m.7 0h0m.4 0h0m.2 0h0m.7 0h0m.7 0h0m.1 0h0m.9 0h0m.5 0h0m.4 0h0m-56.5 5.3h0m.6 0h0m.3 0h0m.7 0h0m.2 0h0m.4 0h0m.9 0h0m.4 0h0m.5 0h0m.2 0h0m.8 0h0m.4 0h0m.3 0h0m.8 0h0m.3 0h0m.6 0h0m.4 0h0m.5 0h0m.8 0h0m.2 0h0m.8 0h0m.3 0h0m.6 0h0m.4 0h0m.4 0h0m.8 0h0m.5 0h0m.3 0h0m.4 0h0m.5 0h0m.7 0h0m.4 0h0m.5 0h0m.4 0h0m1 0h0m.9 0h0m1.1 0h0m.8 0h0m.5 0h0m.1 0h0m.6 0h0m.4 0h0m1.4 0h0m.2 0h0m.6 0h0m.6 0h0m.5 0h0m.4 0h0m.3 0h0m.7 0h0m.5 0h0m.3 0h0m.9 0h0m.2 0h0m.7 0h0m.4 0h0m.4 0h0m.8 0h0m.1 0h0m1.4 0h0m.4 0h0m.3 0h0m.9 0h0m.5 0h0m.6 0h0m.6 0h0m.5 0h0m.3 0h0m.9 0h0m.2 0h0m.5 0h0m.8 0h0m.1 0h0m1.9 0h0m.3 0h0m.7 0h0m.3 0h0m1 0h0m.7 0h0m.4 0h0m.9 0h0m1.1 0h0m.4 0h0m.3 0h0m1.4 0h0m.1 0h0m.8 0h0m.6 0h0m.2 0h0m.4 0h0m1 0h0m.9 0h0m.3 0h0m.6 0h0m.4 0h0m.8 0h0m.9 0h0m.5 0h0m.4 0h0m-56.4 9.2h0m.1 0h0m.9 0h0m.1 0h0m.7 0h0m.6 0h0m.2 0h0m.8 0h0m.2 0h0m.7 0h0m.5 0h0m.3 0h0m.9 0h0m.5 0h0m.5 0h0m.2 0h0m.8 0h0m.4 0h0m.5 0h0m.2 0h0m.8 0h0m1 0h0m.6 0h0m.5 0h0m1.9 0h0m.2 0h0m.8 0h0m4 0h0m.8 0h0m.4 0h0m.5 0h0m1.6 0h0m1.2 0h0m.3 0h0m.8 0h0m1.9 0h0m.8 0h0m1.3 0h0m.7 0h0m1.5 0h0m.8 0h0m.9 0h0m.2 0h0m1.2 0h0m.6 0h0m1.5 0h0m.6 0h0m.9 0h0m.8 0h0m.6 0h0m.6 0h0m.8 0h0m.6 0h0m.4 0h0m1.7 0h0m.6 0h0m1.4 0h0m1.6 0h0m.3 0h0m.5 0h0m.5 0h0m1 0h0m.3 0h0m1.1 0h0m1.2 0h0m1.4 0h0m1.8 0h0m-54.4 30.3h0m.6 0h0m.3 0h0m.8 0h0m.8 0h0m.7 0h0m3.2 0h0m.7 0h0m1.6 0h0m2.1 0h0m1.7 0h0m.5 0h0m.5 0h0m4.3 0h0m1 0h0m1.6 0h0m1.9 0h0m1.1 0h0m1.9 0h0m4.1 0h0m3.4 0h0m3.3 0h0m8.7 0h0m3.9 0h0m2.5 0h0m4.8 0h0" stroke="#e9756c" stroke-width="2.50" stroke-linecap="round" fill="none"/><path d="M342.8 781.7h0m2.5 .1h0m8 .3h0m1.6-.3h0m7.5 .4h0m2.2 .3h0m-14 .7h0m2.9-.1h0m-3.1 .2h0m3.1 0h0m10.8 .4h0m-23.2 .5h0m5.7-.4h0m6.7 0h0m18.6 .4h0m-24.1 .5h0m8.4-.3h0m11.6 .2h0m-27.1 .2h0m27.2 .3h0m-29 .2h0m.5 0h0m.3 0h0m.6 0h0m.3 0h0m1 0h0m.5 0h0m.7 0h0m2.5 0h0m.5 .1h0m1.2-.1h0m.2 0h0m1.6 0h0m.5 0h0m.6 0h0m1.7 0h0m.8 0h0m.8 0h0m1 0h0m.5 0h0m.7 0h0m.6 0h0m1.4 0h0m.5 .3h0m3.7-.3h0m1.2 0h0m1.2 0h0m.9 0h0m.2 0h0m1.1 0h0m.7 0h0m.9 0h0m1.8 0h0m.7 0h0m2.4 0h0m1.3 0h0m-27.9 .9h0m6.7-.1h0m9.6 0h0m2.5-.1h0m3-.1h0m-25.4 .7h0m20.8 0h0m-22.8 .4h0m10.8-.1h0m4.3 .3h0m4.1-.2h0m1.8-.2h0m-22.5 .9h0m1.2 0h0m.6 0h0m.8 0h0m1.2 0h0m2.2 0h0m.7 0h0m2 0h0m3.2 0h0m.4 0h0m4.1 0h0m.5 0h0m1.6 0h0m.1 0h0m4.5 0h0m2.2 0h0m.7 0h0m.1 0h0m.8 0h0m.2 0h0m1.9 0h0m.4 0h0m1.5 0h0m1-.2h0m.7 0h0m.8 .2h0m.9 0h0m-34.1 .7h0m7.7-.1h0m16.2 .4h0m-11 .2h0m5 .2h0m-13.2 .2h0m-3.2 .9h0m5.2 0h0m22.4-.2h0m-29.8 .7h0m.9 0h0m.2 0h0m.5 0h0m1.3 0h0m4 0h0m.5 0h0m.2 0h0m2 0h0m.8 0h0m.8 0h0m.5 0h0m2.5 0h0m.8 0h0m1.3 0h0m2.3 0h0m.8 0h0m4.9 0h0m.7 0h0m1 0h0m.2 0h0m1 0h0m2 0h0m.5 0h0m.7 0h0m.4 0h0m.6 0h0m.9 0h0m.3 0h0m.9 0h0m.8 0h0m.9 0h0m-13.5 .3h0m-8 .3h0m-13.6 .9h0m24.7-.1h0m.7 0h0m6.4-.3h0m-23.3 .8h0m11.8-.1h0m.8 .9h0m-2 .5h0m5.3 .3h0m1.8-.4h0m-25.7 .7h0m1.2 0h0m1.3 0h0m1 0h0m1.5 0h0m.9 0h0m.3 0h0m.5 0h0m.4 0h0m.4 0h0m.5 0h0m.6 0h0m.8 0h0m1.2 0h0m.7 0h0m.4 0h0m1.6 0h0m1 0h0m.5 0h0m.3 0h0m.4 0h0m.9 0h0m.4 0h0m.5 0h0m.2 0h0m.8 0h0m1.7 0h0m.9 0h0m.1 0h0m1.8 0h0m1.1 0h0m.4 0h0m.2 0h0m.5 0h0m.7 0h0m.4 0h0m1.1 0h0m.6 0h0m.3 0h0m.5 0h0m.6 0h0m.3 0h0m1.1 0h0m.8 0h0m.4 0h0m.6 0h0m.7 0h0m.5 0h0m.8 0h0m-34.3 5.3h0m1.3 0h0m.5 0h0m.5 0h0m.7 0h0m4.4 0h0m.7 0h0m.4 0h0m1 0h0m2.8 0h0m.2 0h0m.7 0h0m6.2 0h0m1.3 0h0m.5 0h0m.4 0h0m1 0h0m1.3 0h0m3.3 0h0m1 0h0m1.6 0h0m.5 0h0m.9 0h0m.8 0h0m1.2 0h0m.4 0h0m-31.5 9.2h0m.8 0h0m1.5 0h0m2.6 0h0m2.5 0h0m2.2 0h0m.2 0h0m3.2 0h0m4.5 0h0m.3 0h0m8.6 0h0m2.9 0h0m-30.9 30.3h0m3.6 0h0m2.7 0h0m7.6 0h0m.7 0h0m2.3 0h0m3.2 0h0m4.7 0h0m.3 0h0m.7 0h0m1.4 0h0m.3 0h0m2.9 0h0m.8 0h0m.2 0h0m3.1 0h0" stroke="#32b47a" stroke-width="2.50" stroke-linecap="round" fill="none"/><path d="M380.8 787.7h0m1.7 0h0m1 0h0m.5 0h0m.7 0h0m.7 0h0m.6 0h0m.5 0h0m1 0h0m.6 0h0m.5 0h0m.4 0h0m.3 0h0m.8 0h0m.2 0h0m.6 0h0m.5 0h0m.6 0h0m.9 0h0m.8 0h0m.4 0h0m.4 0h0m.5 0h0m.7 0h0m.5 0h0m.5 0h0m1.1 0h0m.8 0h0m.4 0h0m-18.1 3h0m1.1 0h0m.8 0h0m1.2 0h0m1.1 0h0m.5 0h0m.3 0h0m.8 0h0m.2 0h0m2.4 0h0m1.2 0h0m2.3 0h0m1.8 0h0m.2 0h0m1.9 0h0m.9 0h0m.6 0h0m.1 0h0m.7 0h0m.3 0h0m-21.7 3.8h0m1.5 0h0m.3 0h0m.7 0h0m2.4 0h0m.9 0h0m1.3 0h0m.6 0h0m.5 0h0m1 0h0m.7 0h0m.3 0h0m.8 0h0m.4 0h0m.3 0h0m.9 0h0m.4 0h0m.3 0h0m.9 0h0m.8 0h0m.6 0h0m.1 0h0m.9 0h0m.1 0h0m.9 0h0m.5 0h0m.4 0h0m.6 0h0m.1 0h0m.8 0h0m1 0h0m.6 0h0m.2 0h0m-21.1 5.3h0m1.1 0h0m.5 0h0m.8 0h0m2 0h0m.1 0h0m2.5 0h0m.9 0h0m.8 0h0m1 0h0m.4 0h0m1.1 0h0m1.1 0h0m.5 0h0m.2 0h0m.6 0h0m.4 0h0m.9 0h0m.1 0h0m.7 0h0m.5 0h0m.6 0h0m.2 0h0m.8 0h0m.2 0h0m1.4 0h0m.1 0h0m.7 0h0m.4 0h0m.6 0h0m-14.8 9.2h0m2 0h0m1 0h0m2.7 0h0m.5 0h0m.5 0h0m.5 0h0m.6 0h0m.4 0h0m1.1 0h0m.3 0h0m.8 0h0m.5 0h0m.2 0h0m.9 0h0m.4 0h0m.6 0h0m.1 0h0m.5 0h0m.7 0h0m.3 0h0m-14.4 30.3h0m.4 0h0m4 0h0m2.2 0h0m.4 0h0m1 0h0m2.8 0h0m1.1 0h0m.9 0h0m1.1 0h0" stroke="#b57db9" stroke-width="2.50" stroke-linecap="round" fill="none"/><path d="M354.6 773.8h0m.5 0h0m-3.9 .6h0m3 .1h0m.9-.2h0m.5 0h0m.8 .1h0m-3.5 .5h0m.2 .8h0m2.2-.4h0m1.9 .4h0m-6.5 .3h0m2.4 .1h0m1.9-.2h0m1.2 .6h0m1.2 .2h0m-7.4 .4h0m2.2-.2h0m.4 .2h0m4.5-.2h0m-.8 .4h0m.6 .3h0m-6.9 .2h0m3.1 .4h0m-2 .4h0m4.2-.2h0m.6 .1h0m-.8 .3h0m1.4 .2h0m-6.9 .7h0m1.1-.1h0m.3 .8h0m4.3 .3h0m1.9-.3h0m.6-.1h0m-5.4 .7h0m2.3 .1h0m-4.8 .2h0m.7 .4h0m2.9-.3h0m-1.4 1.3h0m5.1 0h0m-7.1 .4h0m4.8 0h0m1 .1h0m1 0h0m.8-.2h0m-8.1 .3h0m5.9 .1h0m-3.7 .8h0m.6-.2h0m2.7-.2h0m-6.5 .9h0m1.3-.3h0m4.9 .2h0m1.4-.2h0m-7.7 .4h0m.9 .1h0m.7 .1h0m2.6 .1h0m.6-.1h0m.5 .2h0m-2.9 .4h0m2 .1h0m1 0h0m3.5-.4h0m-5.3 .5h0m2.6 0h0m.7 .4h0m-7.7 .3h0m1.6 .7h0m4-.4h0m3.7 .3h0m-11.1 .5h0m6.5 .1h0m-5.6 .1h0m2.1 .3h0m-1.3 .2h0m3.6 .2h0m2 0h0m.3 .1h0m2.1-.1h0m2.1 0h0m-4.3 .7h0m-5.6 .1h0m1.7 .4h0m7.7 0h0m.4-.4h0m-9.6 .6h0m4.7-.1h0m-6 .6h0m8 .6h0m1.9 .2h0m-10.7 .4h0m.6 .4h0m7.3-.2h0m-7.3 .5h0m.8 .4h0m1.4-.1h0m1.7-.1h0m3.2-.1h0m1.7 .1h0m2.9 .2h0m-11.6 .1h0m1.7 .2h0m4.3-.2h0m.2 .4h0m2.4-.1h0m.8-.3h0m1 .2h0m-7.6 .5h0m1.9 .2h0m3.1-.3h0m-10.1 .7h0m.7 0h0m4.7 0h0m1.1-.1h0m4.8 .2h0m-9.4 .2h0m.9 14.6h0m2 0h0m1.5 0h0m4 0h0m2.4 0h0m-2.9 30.3h0" stroke="#a0a21e" stroke-width="2.50" stroke-linecap="round" fill="none"/><path d="M395.3 771.7h0m2.7 1h0m-2.8 1.2h0m-3.8 1.2h0m2.2-.3h0m4.3 1.3h0m-11 .4h0m6.6 0h0m-5.2 1.4h0m1.8 .1h0m8.4-.2h0m.5 .4h0m-11.6 .2h0m2.3 0h0m-7.4 .5h0m4.7 .3h0m8.1-.3h0m3.2-.1h0m1.3 0h0m-16.2 .8h0m5.9 .1h0m4.8-.1h0m2.4-.2h0m.9-.1h0m1.2 .2h0m.7-.2h0m-15.1 .7h0m.5-.1h0m4 0h0m.7 .2h0m1.4-.3h0m3.8 .2h0m.6-.1h0m2.6 .2h0m-16.1 .6h0m1.4-.2h0m9.7 0h0m3.5 .2h0m1.6-.4h0m.8 .1h0m.4 .2h0m.4-.2h0m-15.2 .6h0m4.1 0h0m3.2 .1h0m4.4 0h0m1.5-.1h0m-12.9 .6h0m6.4-.1h0m7.2-.2h0m-7.2 .5h0m1.2 .3h0m3.4 0h0m1.7-.3h0m1.7 .2h0m-17.4 .7h0m7.1-.4h0m4.7 0h0m4 .1h0m-13.8 .8h0m6.6-.4h0m1.9 .1h0m3.2 .3h0m-8.9 .5h0m3 0h0m2.3 0h0m3.9-.3h0m1.6 0h0m1.6 0h0m-12.5 .7h0m1.6-.1h0m4.3 .2h0m3.2 0h0m3.3-.3h0m-14.9 .4h0m1.5 .4h0m3.5-.1h0m2.7-.1h0m4 .2h0m1.1 0h0m.3-.3h0m.4 .2h0m2-.1h0m-12.6 .7h0m5.4-.4h0m2.3 0h0m1.8 .2h0m.6 0h0m-1.8 .3h0m.3 .2h0m1.9-.1h0m.9 .2h0m1.2-.1h0m-18.5 .6h0m10.6-.3h0m5.2 .6h0m.7 .2h0m1.3-.1h0m-14.3 .3h0m3.1 0h0m4.7 .3h0m2.5 .1h0m.3-.3h0m.6-.1h0m.7 .3h0m2.9-.2h0m-20.7 .7h0m7.9 0h0m4.3 .1h0m2-.1h0m.6-.2h0m.7 .3h0m1.8-.2h0m2.6-.2h0m-13.1 .5h0m11 .2h0m-15.5 .3h0m1.6 0h0m8.6 .3h0m4.2 .1h0m1.9-.3h0m.4-.1h0m-4.3 .5h0m2.8 .4h0m.8 0h0m-10 .5h0m10.3-.1h0m.6-.3h0m-12.4 .7h0m6.4 0h0m6.9-.2h0m-21.8 .9h0m1.9 0h0m5.3 0h0m.6 0h0m1.3-.4h0m1.9 .4h0m1.2 0h0m.8 0h0m.5 0h0m1 0h0m.1 0h0m.7 0h0m2.7 0h0m.4 0h0m.4 0h0m1.1 0h0m.2 0h0m.8 0h0m.2 0h0m.7 0h0m.4 0h0m.5 0h0m-11.8 .3h0m9.7 0h0m-10.2 .6h0m2.6-.2h0m5.3 .2h0m-2.4 .2h0m1.5 .2h0m1.6-.2h0m.8 0h0m-.9 .6h0m1.1-.1h0m.3 0h0m.3 .3h0m-6.5 .4h0m4.1-.1h0m2.1 .1h0m.8-.2h0m.8 .1h0m.2-.1h0m-17.6 .5h0m3.2 .3h0m.6-.2h0m.3 .3h0m4.8-.4h0m7 0h0m1.1 0h0m-16.3 .8h0m1.3 0h0m3.8-.3h0m5.8 .3h0m4.2 0h0m2.2-.2h0m-16.9 .6h0m2.9 0h0m.4 0h0m.3 0h0m.5 0h0m1 0h0m.6 0h0m.5-.2h0m.5 .2h0m1.2 0h0m1.2 0h0m.4 0h0m.9 0h0m.2 0h0m.6 0h0m.6 0h0m.3 0h0m.8 0h0m.4 0h0m.5 0h0m.8 0h0m.7 0h0m.6 0h0m.1 0h0m.6 0h0m.6 0h0m-16.5 .3h0m16.3 0h0m-8.8 .5h0m2.7 .1h0m1.1 .3h0m4.5-.1h0m.3 .5h0m-2.5 .4h0m1.8-.1h0m-4.5 .4h0m-10.4 3h0m4.4 0h0m.8 0h0m2.5 0h0m.1 0h0m1.1 0h0m.6 0h0m1.7 0h0m.2 0h0m.8 0h0m.2 0h0m.7 0h0m.4 0h0m.7 0h0m.3 0h0m.5 0h0m.6 0h0m.3 0h0m-10 9.2h0m1.7 0h0m1.1 0h0m.4 0h0m1.9 0h0m.6 0h0m.6 0h0m.2 0h0m.5 0h0m.7 0h0m.3 0h0m.9 0h0m.7 0h0m.3 0h0m-16.2 30.3h0m5.8 0h0m1.4 0h0m3.3 0h0m1.5 0h0m.4 0h0m.8 0h0m.9 0h0m.3 0h0m.3 0h0m1.3 0h0" stroke="#2aa8e2" stroke-width="2.50" stroke-linecap="round" fill="none"/><path d="M281.0 795.0 L283.0 795.0 L285.0 795.0 L287.0 794.9 L289.0 794.9 L291.0 794.9 L293.1 794.8 L295.1 794.8 L297.1 794.7 L299.1 794.7 L301.1 794.6 L303.1 794.6 L305.1 794.5 L307.1 794.4 L309.1 794.3 L311.1 794.2 L313.2 794.0 L315.2 793.9 L317.2 793.8 L319.2 793.6 L321.2 793.3 L323.2 793.0 L325.2 792.7 L327.2 792.3 L329.2 791.9 L331.2 791.5 L333.3 791.1 L335.3 790.7 L337.3 790.2 L339.3 789.8 L341.3 789.3 L343.3 788.7 L345.3 788.2 L347.3 787.7 L349.3 787.2 L351.3 786.8 L353.3 786.4 L355.4 786.0 L357.4 785.6 L359.4 785.2 L361.4 784.8 L363.4 784.4 L365.4 784.1 L367.4 783.9 L369.4 783.8 L371.4 783.8 L373.4 783.8 L375.5 783.8 L377.5 783.9 L379.5 784.0 L381.5 784.1 L383.5 784.2 L385.5 784.6 L387.5 785.1 L389.5 785.6 L391.5 786.2 L393.5 786.9 L395.5 787.6 L397.6 788.5 L399.6 789.5" stroke="#000" stroke-width="0.9" fill="none"/><line x1="275.3" y1="861.0" x2="275.3" y2="940.5" stroke="#333" stroke-width="0.70"/><line x1="273.1" y1="861.6" x2="275.3" y2="861.6" stroke="#333" stroke-width="0.70"/><text x="272.1" y="864.0" font-size="6.90" fill="#4d4d4d" text-anchor="end" font-family='"Liberation Sans", sans-serif' >10.0</text><line x1="273.1" y1="899.0" x2="275.3" y2="899.0" stroke="#333" stroke-width="0.70"/><text x="272.1" y="901.4" font-size="6.90" fill="#4d4d4d" text-anchor="end" font-family='"Liberation Sans", sans-serif' >1.0</text><line x1="273.1" y1="936.4" x2="275.3" y2="936.4" stroke="#333" stroke-width="0.70"/><text x="272.1" y="938.8" font-size="6.90" fill="#4d4d4d" text-anchor="end" font-family='"Liberation Sans", sans-serif' >0.1</text><text x="340.1" y="857.2" font-size="6.90" fill="#1a1a1a" text-anchor="middle" font-family='"Liberation Sans", sans-serif' >PRDX1</text><path d="M286.9 876.5h0m-4.7 4.7h0m.8 0h0m.6 0h0m2.6 0h0m5.6 0h0m19.6 0h0m3.6 0h0m9.3 0h0m4.7 0h0m2.2 0h0m-49.2 6.5h0m.7 0h0m.1 0h0m.6 0h0m.6 0h0m.4 0h0m1.3 0h0m.4 0h0m.4 0h0m.7 0h0m.5 0h0m.4 0h0m.3 0h0m.4 0h0m.9 0h0m.6 0h0m.9 0h0m.2 0h0m.4 0h0m.9 0h0m.4 0h0m.3 0h0m1.3 0h0m2.3 0h0m2.4 0h0m.6 0h0m1.3 0h0m3.2 0h0m2.4 0h0m.4 0h0m1.3 0h0m.7 0h0m1.5 0h0m.5 0h0m.5 0h0m1.3 0h0m.7 0h0m.7 0h0m2.3 0h0m.6 0h0m2.3 0h0m.9 0h0m2.1 0h0m2.2 0h0m3.4 0h0m1.7 0h0m.6 0h0m.7 0h0m1.3 0h0m1.3 0h0m.7 0h0m1.6 0h0m.3 0h0m.4 0h0M281.2 899h0m.2 0h0m.8 0h0m.1 0h0m.9 0h0m.4 0h0m.5 0h0m.5 0h0m.3 0h0m.6 0h0m.5 0h0m.3 0h0m.6 0h0m.7 0h0m.5 0h0m.3 0h0m.8 0h0m.4 0h0m.2 0h0m.8 0h0m.5 0h0m.4 0h0m.7 0h0m.5 0h0m.4 0h0m.5 0h0m.3 0h0m.6 0h0m.6 0h0m.6 0h0m.2 0h0m.7 0h0m.3 0h0m.5 0h0m.6 0h0m.7 0h0m.2 0h0m.7 0h0m.2 0h0m.7 0h0m.4 0h0m.6 0h0m.3 0h0m.6 0h0m.5 0h0m.4 0h0m1.4 0h0m.4 0h0m.6 0h0m.4 0h0m.4 0h0m.5 0h0m.4 0h0m.8 0h0m.2 0h0m.4 0h0m.8 0h0m.3 0h0m.4 0h0m.7 0h0m.3 0h0m.9 0h0m.1 0h0m.5 0h0m.8 0h0m.5 0h0m.3 0h0m1 0h0m.7 0h0m.2 0h0m.8 0h0m.6 0h0m.1 0h0m.9 0h0m.7 0h0m.6 0h0m.5 0h0m.5 0h0m.4 0h0m.8 0h0m.2 0h0m.8 0h0m.4 0h0m.3 0h0m.8 0h0m.2 0h0m.8 0h0m.4 0h0m.6 0h0m.3 0h0m.6 0h0m.3 0h0m.6 0h0m.7 0h0m.5 0h0m.1 0h0m.8 0h0m.3 0h0m.5 0h0m.8 0h0m.2 0h0m.6 0h0m.5 0h0m.5 0h0m.6 0h0m.2 0h0m1 0h0m.6 0h0m.4 0h0m.5 0h0m.8 0h0m.2 0h0m-57.1 37.4h0m.4 0h0m.6 0h0m.3 0h0m.5 0h0m.7 0h0m.1 0h0m.9 0h0m.1 0h0m.7 0h0m.3 0h0m.7 0h0m.6 0h0m.2 0h0m.9 0h0m.3 0h0m.5 0h0m.4 0h0m.4 0h0m.5 0h0m.5 0h0m.9 0h0m.4 0h0m.5 0h0m.4 0h0m.5 0h0m.7 0h0m.2 0h0m.6 0h0m.5 0h0m.6 0h0m.2 0h0m.5 0h0m.7 0h0m.4 0h0m.4 0h0m.8 0h0m.4 0h0m.6 0h0m.2 0h0m1.4 0h0m.5 0h0m.1 0h0m.9 0h0m.1 0h0m.7 0h0m.4 0h0m.4 0h0m.5 0h0m.6 0h0m.5 0h0m.4 0h0m.8 0h0m.4 0h0m.5 0h0m.9 0h0m1.2 0h0m.8 0h0m.5 0h0m.7 0h0m.3 0h0m.4 0h0m.7 0h0m1.6 0h0m.5 0h0m.3 0h0m.8 0h0m.4 0h0m.4 0h0m.7 0h0m.2 0h0m.5 0h0m.7 0h0m.5 0h0m.8 0h0m.4 0h0m.7 0h0m.3 0h0m.8 0h0m.5 0h0m.4 0h0m.7 0h0m.4 0h0m.6 0h0m.5 0h0m.2 0h0m.6 0h0m.5 0h0m.7 0h0m.2 0h0m1.1 0h0m.3 0h0m.8 0h0m.2 0h0m.5 0h0m.8 0h0m.2 0h0m.5 0h0m.5 0h0m.8 0h0m.4 0h0m.5 0h0m.3 0h0m.5 0h0m.5 0h0m.9 0h0m.1 0h0m.6 0h0" stroke="#e9756c" stroke-width="2.50" stroke-linecap="round" fill="none"/><path d="M346.1 869h0m21.9-.1h0m-5.4 2.1h0m-11.1 1.1h0m-12.5 4.4h0m.4 0h0m1.7 0h0m1.8 0h0m.6 0h0m1.3 0h0m1.2 0h0m3.5 0h0m3.4 0h0m.6 0h0m3.9 0h0m3.2 0h0m2.4 0h0m2.4 0h0m2 0h0m5.6 0h0m1.2 0h0m-34.9 4.7h0m.5 0h0m.9 0h0m.5 0h0m.6 0h0m.9 0h0m1.1 0h0m1.5 0h0m.5 0h0m.6 0h0m1.9 0h0m1.6 0h0m1.1 0h0m.3 0h0m1.3 0h0m.9 0h0m1 0h0m1 0h0m1.8 0h0m2.6 0h0m1.8 0h0m2.5 0h0m.8 0h0m.3 0h0m1.2 0h0m1.5 0h0m.4 0h0m1.1 0h0m.4 0h0m.7 0h0m.7 0h0m2.6 0h0m-35.2 6.5h0m.9 0h0m.3 0h0m.6 0h0m.3 0h0m.8 0h0m.5 0h0m.2 0h0m.5 0h0m2.4 0h0m.7 0h0m.5 0h0m1 0h0m1.6 0h0m.9 0h0m1.6 0h0m.3 0h0m1.2 0h0m.6 0h0m.8 0h0m.5 0h0m.4 0h0m.8 0h0m1.2 0h0m.6 0h0m2.1 0h0m2 0h0m1.2 0h0m.1 0h0m.5 0h0m.5 0h0m.7 0h0m.3 0h0m.6 0h0m.7 0h0m.4 0h0m.5 0h0m1.1 0h0m.5 0h0m.7 0h0m.8 0h0m.7 0h0m1.2 0h0m.4 0h0m.6 0h0M338.7 899h0m.1 0h0m.6 0h0m.4 0h0m.9 0h0m.2 0h0m.9 0h0m.5 0h0m.7 0h0m2.7 0h0m1.5 0h0m.1 0h0m.6 0h0m.8 0h0m.2 0h0m1.2 0h0m.3 0h0m.7 0h0m.5 0h0m.7 0h0m1.4 0h0m.7 0h0m.6 0h0m.7 0h0m.4 0h0m.3 0h0m.4 0h0m1 0h0m1 0h0m.5 0h0m.9 0h0m.1 0h0m.7 0h0m1.4 0h0m.6 0h0m.6 0h0m1 0h0m.6 0h0m1.3 0h0m.6 0h0m.5 0h0m.3 0h0m.6 0h0m1.6 0h0m.4 0h0m.6 0h0m.7 0h0m-32.7 37.4h0m.5 0h0m.9 0h0m1.2 0h0m.1 0h0m.6 0h0m.6 0h0m1.1 0h0m.2 0h0m.9 0h0m.3 0h0m.6 0h0m.2 0h0m.5 0h0m.7 0h0m.5 0h0m1.1 0h0m1 0h0m.5 0h0m.5 0h0m.6 0h0m.2 0h0m.7 0h0m1.1 0h0m.4 0h0m.4 0h0m.4 0h0m.7 0h0m.2 0h0m.8 0h0m.2 0h0m.8 0h0m.5 0h0m1 0h0m1 0h0m.3 0h0m1.8 0h0m.1 0h0m1.2 0h0m.7 0h0m.3 0h0m.6 0h0m.3 0h0m.7 0h0m.2 0h0m.8 0h0m.3 0h0m.7 0h0m.4 0h0m.7 0h0m.5 0h0m.4 0h0m.6 0h0m.1 0h0m.9 0h0m.5 0h0m.2 0h0m.5 0h0m.8 0h0m.7 0h0" stroke="#32b47a" stroke-width="2.50" stroke-linecap="round" fill="none"/><path d="M385.5 876.5h0m12.2 0h0m-16.8 4.7h0m3.8 0h0m2 0h0m.8 0h0m1.1 0h0m.3 0h0m1.6 0h0m1.7 0h0m4.5 0h0m.5 0h0m1.5 0h0m.2 0h0m-21.3 6.5h0m2.3 0h0m.4 0h0m.5 0h0m4.3 0h0m.3 0h0m.6 0h0m.8 0h0m1 0h0m1.2 0h0m.3 0h0m1.3 0h0m.3 0h0m.4 0h0m.9 0h0m.8 0h0m.7 0h0m.3 0h0m1.1 0h0m.2 0h0m.5 0h0m.7 0h0m.6 0h0m.5 0h0m.4 0h0m.5 0h0m.5 0h0M382.2 899h0m.3 0h0m.3 0h0m1.9 0h0m.9 0h0m.6 0h0m1.3 0h0m.5 0h0m.4 0h0m.5 0h0m.4 0h0m.8 0h0m.2 0h0m.6 0h0m.6 0h0m.4 0h0m.4 0h0m.6 0h0m.4 0h0m.7 0h0m.3 0h0m.9 0h0m.1 0h0m.8 0h0m.2 0h0m.6 0h0m.7 0h0m.2 0h0m.7 0h0m.3 0h0m.7 0h0m-21.2 37.4h0m.8 0h0m.3 0h0m1.3 0h0m1.3 0h0m.5 0h0m.3 0h0m.7 0h0m.5 0h0m.9 0h0m.4 0h0m.5 0h0m.9 0h0m.2 0h0m.6 0h0m.5 0h0m.6 0h0m.5 0h0m.6 0h0m.5 0h0m.1 0h0m.7 0h0m.4 0h0m.6 0h0m.6 0h0m.6 0h0m.8 0h0m.3 0h0m.8 0h0m.6 0h0m.1 0h0m.7 0h0m.6 0h0m.5 0h0m.2 0h0m.5 0h0m.5 0h0m.5 0h0" stroke="#b57db9" stroke-width="2.50" stroke-linecap="round" fill="none"/><path d="M358.2 870.5h0m-4.8 .3h0m-5.1 .5h0m-.7 5.2h0m.2 0h0m3.4 0h0m2.2 0h0m.8 0h0m.4 0h0m1.8 0h0m1 0h0m-11.5 4.7h0m1.8 0h0m2.9 0h0m1.5 0h0m.3 0h0m4.5 0h0m.8 0h0m-11.8 6.5h0m.8 0h0m1.8 0h0m.4 0h0m1.1 0h0m.4 0h0m.7 0h0m.2 0h0m1.4 0h0m2 0h0m.4 0h0m.2 0h0m.9 0h0m.8 0h0m.8 0h0M346.5 899h0m.6 0h0m.9 0h0m.3 0h0m1.4 0h0m.2 0h0m.8 0h0m.3 0h0m.3 0h0m1.1 0h0m.7 0h0m.2 0h0m.5 0h0m1.3 0h0m.2 0h0m.7 0h0m.3 0h0m.9 0h0m.2 0h0m-13.1 37.4h0m.7 0h0m1.2 0h0m.4 0h0m.7 0h0m1 0h0m1.2 0h0m.4 0h0m1 0h0m1.2 0h0m.5 0h0m.5 0h0m.5 0h0m.2 0h0m.9 0h0m.1 0h0m.5 0h0m.6 0h0m1 0h0m.7 0h0m.6 0h0" stroke="#a0a21e" stroke-width="2.50" stroke-linecap="round" fill="none"/><path d="M398.6 864.3h0m-10.7 1.4h0m8.7-.1h0m-13.5 .4h0m1.1 .1h0m5.4 .1h0m9.1-.3h0m.7 .5h0m-5 .5h0m.7 .1h0m2.9-.2h0m.4 .3h0m-.7 1h0m-11.9 .3h0m5.8 .6h0m1.8 .1h0m1.9-.2h0m1-.1h0m2.5 .8h0m-7.6 .5h0m6.3-.1h0m1.1 .1h0m-8.5 1.9h0m2.1 .2h0m4 0h0m3.2-.3h0m-8 1.2h0m1.8-.2h0m3.9-.1h0m-2.7 .5h0m-4.2 .5h0m7.2 0h0m-16.7 2.7h0m2.9 0h0m.2 0h0m.5 0h0m2.1 0h0m1 0h0m.9 0h0m1.1 0h0m1.6 0h0m.5 0h0m.9 0h0m2.1 0h0m.4 0h0m.7 0h0m.3 0h0m.8 0h0m.3 0h0m.5 0h0m.3 0h0m.5 0h0m.9 0h0m-14 4.7h0m.1 0h0m.6 0h0m1.5 0h0m1.6 0h0m.5 0h0m1.7 0h0m1 0h0m1 0h0m.4 0h0m1.4 0h0m.5 0h0m.5 0h0m.4 0h0m1.3 0h0m.3 0h0m.4 0h0m.7 0h0m.4 0h0m-20.9 6.5h0m2.6 0h0m2.3 0h0m1.2 0h0m.9 0h0m.8 0h0m2.3 0h0m.6 0h0m.9 0h0m.7 0h0m.5 0h0m.8 0h0m.5 0h0m.3 0h0m.5 0h0m.6 0h0m.4 0h0m.7 0h0m.5 0h0m.6 0h0m.5 0h0m1.7 0h0m.7 0h0m.3 0h0M381.6 899h0m.3 0h0m.4 0h0m.9 0h0m.7 0h0m1.3 0h0m1.5 0h0m.3 0h0m.6 0h0m.4 0h0m.7 0h0m.2 0h0m.8 0h0m.4 0h0m.5 0h0m.4 0h0m.6 0h0m.5 0h0m.5 0h0m.3 0h0m1.2 0h0m.5 0h0m.4 0h0m.3 0h0m.9 0h0m.4 0h0m.5 0h0m.5 0h0m.3 0h0m.6 0h0m.4 0h0m.4 0h0m-22.6 37.4h0m1.7 0h0m2.4 0h0m1.5 0h0m.8 0h0m.8 0h0m.4 0h0m.7 0h0m.3 0h0m1 0h0m.8 0h0m.3 0h0m.5 0h0m.8 0h0m.2 0h0m.5 0h0m1.1 0h0m.3 0h0m.5 0h0m.8 0h0m.5 0h0m.4 0h0m.6 0h0m.5 0h0m.2 0h0m.8 0h0m.5 0h0m.5 0h0m.4 0h0m.4 0h0m.7 0h0m.5 0h0m.5 0h0m.4 0h0m.6 0h0" stroke="#2aa8e2" stroke-width="2.50" stroke-linecap="round" fill="none"/><path d="M281.0 906.5 L283.0 907.3 L285.0 908.1 L287.0 908.9 L289.0 909.6 L291.0 910.3 L293.1 910.9 L295.1 911.5 L297.1 912.0 L299.1 912.5 L301.1 912.9 L303.1 913.4 L305.1 913.8 L307.1 914.3 L309.1 914.6 L311.1 915.0 L313.2 915.3 L315.2 915.5 L317.2 915.6 L319.2 915.6 L321.2 915.6 L323.2 915.4 L325.2 915.2 L327.2 914.9 L329.2 914.5 L331.2 914.1 L333.3 913.7 L335.3 913.2 L337.3 912.7 L339.3 912.3 L341.3 911.7 L343.3 911.0 L345.3 910.3 L347.3 909.4 L349.3 908.6 L351.3 907.7 L353.3 906.9 L355.4 906.1 L357.4 905.4 L359.4 904.7 L361.4 904.0 L363.4 903.3 L365.4 902.6 L367.4 901.9 L369.4 901.2 L371.4 900.6 L373.4 900.0 L375.5 899.5 L377.5 898.8 L379.5 898.2 L381.5 897.6 L383.5 897.1 L385.5 896.7 L387.5 896.4 L389.5 896.4 L391.5 896.4 L393.5 896.5 L395.5 896.7 L397.6 896.9 L399.6 897.3" stroke="#000" stroke-width="0.9" fill="none"/><line x1="275.0" y1="940.0" x2="405.3" y2="940.0" stroke="#333" stroke-width="0.70"/><line x1="281.0" y1="940.0" x2="281.0" y2="942.2" stroke="#333" stroke-width="0.70"/><text x="281.0" y="949.7" font-size="6.90" fill="#4d4d4d" text-anchor="middle" font-family='"Liberation Sans", sans-serif' >0</text><line x1="316.9" y1="940.0" x2="316.9" y2="942.2" stroke="#333" stroke-width="0.70"/><text x="316.9" y="949.7" font-size="6.90" fill="#4d4d4d" text-anchor="middle" font-family='"Liberation Sans", sans-serif' >10</text><line x1="352.9" y1="940.0" x2="352.9" y2="942.2" stroke="#333" stroke-width="0.70"/><text x="352.9" y="949.7" font-size="6.90" fill="#4d4d4d" text-anchor="middle" font-family='"Liberation Sans", sans-serif' >20</text><line x1="388.8" y1="940.0" x2="388.8" y2="942.2" stroke="#333" stroke-width="0.70"/><text x="388.8" y="949.7" font-size="6.90" fill="#4d4d4d" text-anchor="middle" font-family='"Liberation Sans", sans-serif' >30</text><text x="340.1" y="959.4" font-size="8.70" fill="#000" text-anchor="middle" font-family='"Liberation Sans", sans-serif' >Pseudo−time</text><text x="0.0" y="0.0" font-size="8.70" fill="#000" text-anchor="middle" font-family='"Liberation Sans", sans-serif' transform="translate(253.7 853.0) rotate(-90)">Relative Expression</text><line x1="482.3" y1="764.2" x2="482.3" y2="842.5" stroke="#333" stroke-width="0.70"/><line x1="480.1" y1="778.6" x2="482.3" y2="778.6" stroke="#333" stroke-width="0.70"/><text x="479.1" y="781.0" font-size="6.90" fill="#4d4d4d" text-anchor="end" font-family='"Liberation Sans", sans-serif' >10.0</text><line x1="480.1" y1="809.0" x2="482.3" y2="809.0" stroke="#333" stroke-width="0.70"/><text x="479.1" y="811.4" font-size="6.90" fill="#4d4d4d" text-anchor="end" font-family='"Liberation Sans", sans-serif' >1.0</text><line x1="480.1" y1="839.3" x2="482.3" y2="839.3" stroke="#333" stroke-width="0.70"/><text x="479.1" y="841.7" font-size="6.90" fill="#4d4d4d" text-anchor="end" font-family='"Liberation Sans", sans-serif' >0.1</text><text x="547.2" y="760.0" font-size="6.90" fill="#1a1a1a" text-anchor="middle" font-family='"Liberation Sans", sans-serif' >FTH1</text><path d="M489.9 783.2h0m-1.1 2.3h0m-.4 .4h0m-.5 .7h0m.5 1.1h0m.8 0h0m.4 0h0m.2 0h0m-1.9 3h0m.6 0h0m.6 0h0m.2 0h0m.6 0h0m-2.1 3.8h0m.7 0h0m.7 0h0m.4 0h0m.4 0h0m-1.8 5.3h0m.2 0h0m.4 0h0m.6 0h0m.4 0h0m-2 9.2h0m.6 0h0m.4 0h0m.8 0h0m.3 0h0m-1.9 30.3h0m.6 0h0m.3 0h0m.8 0h0" stroke="#132b43" stroke-width="2.50" stroke-linecap="round" fill="none"/><path d="M490.3 781h0m3.7 .4h0m-2.5 .6h0m2.4 .1h0m.9-.3h0m-2.8 1.1h0m1.6 .6h0m1 .1h0m-1.6 1h0m-2.8 1.9h0m2.3 .1h0m-.4 .6h0m1.8-.1h0m.7-.3h0m-4.2 .9h0m.6 0h0m1.1 0h0m.6 0h0m.4 0h0m.2 0h0m.9 0h0m-3.9 3h0m.5 0h0m.7 0h0m.3 0h0m.6 0h0m.8 0h0m1.3 0h0m.3 0h0m-4.6 3.8h0m.5 0h0m.2 0h0m.5 0h0m.7 0h0m.3 0h0m.7 0h0m.4 0h0m.3 0h0m.8 0h0m.3 0h0m-4.7 5.3h0m.2 0h0m.7 0h0m.2 0h0m.9 0h0m.2 0h0m.8 0h0m.5 0h0m.3 0h0m.5 0h0m.5 0h0m-4.8 9.2h0m.1 0h0m.9 0h0m.2 0h0m.7 0h0m.6 0h0m.3 0h0m.3 0h0m.7 0h0m.4 0h0m.7 0h0m-4.6 30.3h0m.8 0h0m3.2 0h0" stroke="#15304a" stroke-width="2.50" stroke-linecap="round" fill="none"/><path d="M498.9 781h0m-3.3 .4h0m3.3 0h0m-1 .6h0m.5 .4h0m-2.3 1.8h0m2.5 0h0m-3.1 2h0m.6 .9h0m-.8 .6h0m.5 0h0m1.2 0h0m.6 0h0m.4 0h0m.3 0h0m.7 0h0m.8 0h0m-2.9 1.1h0m-1.8 1.9h0m.3 0h0m.5 0h0m.7 0h0m.3 0h0m.4 0h0m.9 0h0m.5 0h0m.4 0h0m.2 0h0m.5 0h0m-4.6 3.8h0m.2 0h0m.6 0h0m.5 0h0m.6 0h0m.3 0h0m.7 0h0m.4 0h0m.3 0h0m.5 0h0m.6 0h0m-4.7 5.3h0m.4 0h0m.4 0h0m.6 0h0m.3 0h0m.7 0h0m.3 0h0m.7 0h0m.5 0h0m.6 0h0m.3 0h0m-4.4 9.2h0m.3 0h0m.7 0h0m.4 0h0m.4 0h0m.4 0h0m.9 0h0m.1 0h0m.6 0h0m.5 0h0m-4.8 30.3h0m1.7 0h0m1.9 0h0m.2 0h0" stroke="#183550" stroke-width="2.50" stroke-linecap="round" fill="none"/><path d="M501 782.5h0m3.7-.1h0m-2.5 2.6h0m.6 .4h0m-1.7 2.3h0m2.2 0h0m.7 0h0m.9 0h0m-4.6 3h0m.8 0h0m.2 0h0m1.5 0h0m1.4 0h0m.5 0h0m.3 0h0m-4.8 3.8h0m.1 0h0m.6 0h0m.8 0h0m.2 0h0m.5 0h0m.4 0h0m.8 0h0m.5 0h0m.4 0h0m.5 0h0m-4.9 5.3h0m.4 0h0m.6 0h0m.3 0h0m.7 0h0m.5 0h0m.2 0h0m.9 0h0m.4 0h0m.5 0h0m-2.8 9.2h0m.9 0h0m-2.1 30.3h0m.5 0h0m.5 0h0" stroke="#1b3a57" stroke-width="2.50" stroke-linecap="round" fill="none"/><path d="M508.6 783.3h0m-1.7 2.4h0m2.9 1.5h0m-4 .5h0m3.3 0h0m.6 0h0m-3.8 3h0m.4 0h0m.7 0h0m2 0h0m-3.6 3.8h0m.7 0h0m.2 0h0m.7 0h0m1 0h0m1.2 0h0m.2 0h0m.7 0h0m-4.5 5.3h0m.9 0h0m1.1 0h0m.4 0h0m.4 0h0m.6 0h0m.6 0h0m.5 0h0m-3.4 9.2h0m.1 0h0m.8 0h0m.4 0h0m.5 0h0m.4 0h0m-3 30.3h0m1.1 0h0m1.5 0h0" stroke="#1d3f5e" stroke-width="2.50" stroke-linecap="round" fill="none"/><path d="M511.8 784.9h0m-.4 .4h0m2.8 .6h0m-2.8 1.8h0m1.6 0h0m-1.7 3h0m1.8 0h0m.3 0h0m.7 0h0m.5 0h0m-3.9 3.8h0m.4 0h0m.5 0h0m.5 0h0m.6 0h0m.3 0h0m.6 0h0m.5 0h0m.3 0h0m.7 0h0m-3.9 5.3h0m.2 0h0m.4 0h0m1 0h0m.9 0h0m.3 0h0m.7 0h0m.3 0h0m-4.9 9.2h0m.2 0h0m1.4 0h0m.3 0h0m.4 0h0m2 0h0m-3.9 30.3h0m1.1 0h0m1.9 0h0" stroke="#204465" stroke-width="2.50" stroke-linecap="round" fill="none"/><path d="M517.1 781.5h0m2.6 2.1h0m-4.5 .2h0m.1 .1h0m4.7 2.5h0m-1.1 1.3h0m.8 0h0m-4 3h0m.7 0h0m.9 0h0m.8 0h0m.5 0h0m.3 0h0m.7 0h0m-3.5 3.8h0m.4 0h0m.8 0h0m.9 0h0m.4 0h0m.6 0h0m.3 0h0m.4 0h0m-4.7 5.3h0m.2 0h0m.4 0h0m.6 0h0m1.3 0h0m.5 0h0m.8 0h0m.3 0h0m.7 0h0m-4.8 9.2h0m1.3 0h0m.6 0h0m1.6 0h0m.8 0h0m-1.9 30.3h0" stroke="#22496c" stroke-width="2.50" stroke-linecap="round" fill="none"/><path d="M522.9 782.7h0m-2.5 5h0m.5 0h0m1.3 0h0m.7 0h0m.9 0h0m1.1 .8h0m-4.4 2.2h0m.4 0h0m.4 0h0m.8 0h0m1.9 0h0m.7 0h0m.2 0h0m-4.6 3.8h0m.6 0h0m.4 0h0m1.8 0h0m.5 0h0m.6 0h0m.2 0h0m.4 0h0m-4.1 5.3h0m.2 0h0m.4 0h0m.7 0h0m.6 0h0m.6 0h0m.6 0h0m.5 0h0m.6 0h0m-4.4 9.2h0m1.6 0h0m.3 0h0m1.5 0h0m.6 0h0m-3.6 30.3h0m3.4 0h0" stroke="#254f73" stroke-width="2.50" stroke-linecap="round" fill="none"/><path d="M526.5 781.5h0m-.4 .5h0m-.1 2.1h0m.5 3.5h0m.7 .1h0m1 0h0m.6 0h0m.9 0h0m-4.3 3h0m1.1 0h0m.5 0h0m.3 0h0m.9 0h0m.4 0h0m.8 0h0m-3.9 3.8h0m1.7 0h0m.7 0h0m1.2 0h0m.5 0h0m-4.4 5.3h0m.5 0h0m.5 0h0m.1 0h0m.8 0h0m.4 0h0m1.5 0h0m.3 0h0m.7 0h0m-4.6 9.2h0m.9 0h0m.5 0h0m.6 0h0m.8 0h0m.6 0h0m.5 0h0" stroke="#28547a" stroke-width="2.50" stroke-linecap="round" fill="none"/><path d="M530.4 784.8h0m3.1 .7h0m.2 1h0m-2.9 1.2h0m.6 0h0m-.3 3h0m1.7 0h0m1.3 0h0m.8 0h0m-4.7 3.8h0m.3 0h0m2.1 0h0m.9 0h0m.8 0h0m.8 0h0m-4.8 5.3h0m.8 0h0m.3 0h0m.6 0h0m.5 0h0m.6 0h0m.3 0h0m1.1 0h0m.4 0h0m-3.7 9.2h0m.3 0h0m1.5 0h0m1.2 0h0m.3 0h0m.4 0h0m-1.8 30.3h0" stroke="#2a5a82" stroke-width="2.50" stroke-linecap="round" fill="none"/><path d="M538.8 783.2h0m-1.3 2h0m-2.3 2.5h0m.5 0h0m.2 0h0m2.2-.2h0m-2.5 3.2h0m.2 0h0m1.1 0h0m1.5 0h0m.7 0h0m.8 0h0m-4.4 3.8h0m.6 0h0m.6 0h0m.4 0h0m.6 0h0m.1 0h0m.8 0h0m.7 0h0m.7 0h0m-4.8 5.3h0m.4 0h0m1.1 0h0m.3 0h0m.5 0h0m.6 0h0m.6 0h0m.9 0h0m-4.4 9.2h0m.1 0h0m.6 0h0m1.2 0h0m.2 0h0m.9 0h0m.3 0h0m1 0h0m-2.5 30.3h0m2.5 0h0" stroke="#2d5f89" stroke-width="2.50" stroke-linecap="round" fill="none"/><path d="M541.7 780.9h0m2.3 1.3h0m-3.1 3.9h0m-.3 1.6h0m.9 0h0m.6 0h0m.4 0h0m1 0h0m-.8 .5h0m-2.5 2.5h0m.1 0h0m1.1 0h0m.6 0h0m.7 0h0m.2 0h0m.5 0h0m.9 0h0m-3.9 3.8h0m.7 0h0m.4 0h0m.3 0h0m.6 0h0m.8 0h0m.1 0h0m.8 0h0m.6 0h0m.3 0h0m-4.3 5.3h0m.2 0h0m.6 0h0m.4 0h0m.9 0h0m.8 0h0m.5 0h0m.4 0h0m-3.7 9.2h0m1.9 0h0m.1 0h0m1.5 30.3h0" stroke="#306590" stroke-width="2.50" stroke-linecap="round" fill="none"/><path d="M549.8 781.7h0m-1.7 2.5h0m-.3 .6h0m-2.6 .5h0m.8 0h0m.5 0h0m.3 0h0m.9 0h0m.5 0h0m.6 0h0m.5 0h0m.6 0h0m-.2 1.3h0m-2.1 .4h0m-2.4 .7h0m.1 0h0m.9 0h0m1.1 0h0m.6 0h0m.8 0h0m1.2 0h0m-3.6 .7h0m1.6 1.8h0m-2.3 .5h0m1.1 0h0m.1 0h0m.5 0h0m1.3 0h0m-2.8 1.5h0m.5 2.3h0m1.2 0h0m1.2 0h0m.4 0h0m.6 0h0m.2 0h0m-3.6 5.3h0m1.3 0h0m.6 0h0m.5 0h0m.6 0h0m-.9 9.2h0m.9 0h0m-2.5 30.3h0" stroke="#336a98" stroke-width="2.50" stroke-linecap="round" fill="none"/><path d="M552.2 781.8h0m.1 .3h0m1.5 1.7h0m1.2 .9h0m-2.6 .6h0m.6 .1h0m1.2-.1h0m.2 0h0m-1.1 .9h0m1.4 .3h0m-2.5 1.2h0m.7-.1h0m2 .1h0m-1.1 .1h0m.3 .5h0m.5 0h0m-3.5 1h0m3.7 0h0m-1.8 .9h0m2-.3h0m-2.4 .8h0m.5 0h0m.6-.3h0m-.8 1.2h0m.5 .4h0m0 .3h0m.9 .4h0m-.7 .1h0m-2.3 1.3h0m.7 0h0m-.7 .4h0m.8 0h0m.4 0h0m.6-.1h0m.6 .1h0m.6 0h0m.6 0h0m-1.2 5.3h0m.7 0h0m.5 0h0m-4.2 9.2h0m2.6 0h0m.7 0h0m-3.6 30.3h0m2.7 0h0" stroke="#3670a0" stroke-width="2.50" stroke-linecap="round" fill="none"/><path d="M558.2 774.4h0m1.7 .5h0m-2.2 1.1h0m-.7 1.1h0m2.2-.2h0m.4 .2h0m-2.6 .7h0m1.1 .8h0m-1.5 1.1h0m1.1-.1h0m.3 .8h0m1.4 .6h0m-2.5 .3h0m.6 .4h0m1.6 1h0m-2 .4h0m.4 .1h0m-.9 .1h0m.8 0h0m1.3 .9h0m.7-.2h0m-3.8 .7h0m1.3-.3h0m-1.4 .4h0m.8 .1h0m.8 .1h0m2.6 .1h0m-3.7 .2h0m.5 0h0m.6 0h0m.8 .3h0m.9-.3h0m.8 0h0m.3 .4h0m-.8 .1h0m.9 .3h0m-3.7 1.1h0m2.2-.3h0m-.4 .8h0m.4 0h0m.8 0h0m-3.4 .4h0m2.3 .4h0m1.1 .4h0m-2.9 .8h0m3.3 .1h0m-4.5 .9h0m.9 0h0m.8 0h0m.5 0h0m2.5 0h0m-.5 .6h0m-3.8 1.3h0m1.8-.1h0m-2.2 .7h0m.1-.2h0m4.3-.2h0m.2 .4h0m-3.4 .3h0m1.9 .2h0m-1.6 .4h0m1.1-.1h0m-2.1 .5h0m1.2 0h0m.7 0h0m.4 0h0m1.6 0h0m-3.7 5.3h0m2.8 0h0m.2 0h0m.7 0h0M556 809h0m1.6 0h0m.5 0h0m.2 0h0" stroke="#3875a7" stroke-width="2.50" stroke-linecap="round" fill="none"/><path d="M561.6 773.8h0m.5 0h0m-.9 .7h0m.9-.2h0m.5 0h0m.8 .1h0m-3.3 1.3h0m2.2-.4h0m1.9 .4h0m-4 .4h0m1.8-.2h0m1.2 .6h0m1.2 .2h0m-.3 .2h0m-.8 .4h0m.6 .3h0m-3.8 .6h0m2.2 .2h0m.6 .1h0m-.7 .3h0m1.4 .2h0m-1.3 1.7h0m1.9-.3h0m.6-.1h0m-3.1 .8h0m-1.2 .3h0m-.2 .7h0m1.6-.3h0m2.3 .9h0m-3.7 .4h0m1.5 0h0m.9 .1h0m1 0h0m.9-.2h0m-4.3 .3h0m2 .1h0m-2 .4h0m1.7 0h0m-.4 .8h0m1.4-.2h0m.2 0h0m-3.1 .6h0m.5 .2h0m-.4 .1h0m.5 .4h0m.5-.4h0m.6 0h0m.6 0h0m.6 0h0m1.2 0h0m.4 0h0m-3.1 .5h0m.7 .4h0m-2.1 .6h0m2.5 .4h0m1.2-.1h0m-1.3 .6h0m.5 0h0m1.2 0h0m.5 0h0m-4.7 .8h0m.3 .1h0m2.1-.1h0m1.9 .1h0m.3-.1h0m-4.4 .7h0m3.9-.1h0m-.1 .6h0m.4-.4h0m-3.9 1.4h0m1.3 0h0m2.4 0h0m-2.7 .3h0m1.9 .2h0m-2.8 .6h0m-.2 .6h0m1.7 .1h0m-.1 .6h0m.8-.3h0m1 .2h0m-2.5 .4h0m1.2 .8h0m2.2-.3h0m-4.3 .6h0m.5 0h0m.3 0h0m.4 0h0m.9 0h0m.4 0h0m.5 0h0m.3 0h0m.7 0h0m-2.9 14.5h0m2.4 0h0m-3 30.3h0m.4 0h0m2.3 0h0" stroke="#3b7baf" stroke-width="2.50" stroke-linecap="round" fill="none"/><path d="M565.2 780.5h0m4.3 1.7h0m-4.4 3.4h0m3.7-.3h0m1.2 0h0m-.4 .8h0m-2.6 .9h0m1.7-.2h0m.6 .9h0m-4.1 3h0m2.2 .3h0m-2.2 1.7h0m.9-.2h0m.9 .9h0m-.6 1.1h0m.6 0h0m.4 0h0m1.8 0h0m-3.4 5.3h0m1.3 0h0m.5 0h0m.5 0h0m1 0h0m.2 0h0M566 809h0m.3 0h0m.7 30.3h0" stroke="#3e81b7" stroke-width="2.50" stroke-linecap="round" fill="none"/><path d="M571.6 782.5h0m-.3 1.2h0m3.8 .9h0m-3.8 .7h0m.8 0h0m.2 0h0m1.2 0h0m.7 0h0m.1 0h0m-2.1 .7h0m-1.6 .6h0m.9 1.1h0m.8 0h0m.9 0h0m.2 0h0m-3.1 1h0m-.2 2h0m.6 0h0m1 0h0m.3 0h0m1 0h0m2 0h0m-4.4 1.4h0m.6 0h0m-1 2.1h0m1.8-.4h0m-1.8 .7h0m.5 0h0m.2 0h0m.4 0h0m.8 0h0m.4 0h0m.3 0h0m.8 0h0m.6 0h0m.2 0h0m.6 0h0m-4.6 5.3h0m3.3 0h0m1 0h0m.1 0h0m.2 9.2h0m-3.3 30.3h0m.4 0h0m.7 0h0m1.4 0h0m.3 0h0" stroke="#4187bf" stroke-width="2.50" stroke-linecap="round" fill="none"/><path d="M579.2 784.2h0m-4 .9h0m-.1 .2h0m1.8 0h0m.7 0h0m.2 0h0m2.2 0h0m-4.8 .6h0m.1-.1h0m-.1 1.9h0m.4 0h0m1.6 0h0m1-.2h0m.7 0h0m.8 .2h0m-4.1 2.3h0m-.1 .7h0m.7 0h0m.4 0h0m.6 0h0m.9 0h0m.3 0h0m1 0h0m-1.7 1.1h0m-2.4 2.7h0m.6 0h0m.4 0h0m.7 0h0m.6 0h0m.2 0h0m.5 0h0m.5 0h0m.7 0h0m.5 0h0m-4.1 5.3h0m.4 0h0m.5 0h0m.9 0h0m.8 0h0m1.2 0h0m-1.8 9.2h0m-.5 30.3h0m.8 0h0m.2 0h0" stroke="#448dc6" stroke-width="2.50" stroke-linecap="round" fill="none"/><path d="M580.3 785.3h0m1 0h0m-.7 2.4h0m-.5 3h0m.9 0h0m2.8 0h0m-3 3.8h0m4 0h0m-4.7 5.3h0m1.4 39.5h0" stroke="#4793ce" stroke-width="2.50" stroke-linecap="round" fill="none"/><path d="M589.5 778.9h0m-.6 1.8h0m-.2 2h0m-.7 3.4h0m-2.5 1.5h0m2.5 .1h0m1.6 0h0m-1.7 .6h0m1.6 0h0m-3.7 2.4h0m2.3 0h0m1.1 0h0m.2 0h0m.5 0h0m-1.5 2.6h0m.7 .8h0m-2.9 .4h0m.4 0h0m.7 0h0m2.2 0h0m-4 5.3h0m1 0h0m.6 0h0m.4 0h0m.4 0h0m2.1 0h0" stroke="#4a99d6" stroke-width="2.50" stroke-linecap="round" fill="none"/><path d="M594.1 776.5h0m.5 1.9h0m-.4 .8h0m-3.6 .4h0m.8 .4h0m.4-.1h0m-1.6 .6h0m1.3 .5h0m.3 .6h0m-1 1.6h0m2.8 .5h0m-.1 .4h0m-2.6 .2h0m1.6 .4h0m1.4 .5h0m-2.5 1.6h0m3.1 0h0m-3.9 .9h0m.6 0h0m.7 0h0m.7 0h0m.6 0h0m.3-.1h0m1.2 .1h0m-2.3 .1h0m1.5 1.9h0m-1.5 .3h0m-1.3 .7h0m.2 0h0m1.4 0h0m.3-.4h0m.9 .4h0m1 0h0m-.1 .3h0m-.5 .6h0m-2.8 2h0m.6-.2h0m.4 .3h0m-2.1 .4h0m3.8-.3h0m-3.6 .7h0m.3 0h0m1.2 0h0m.3 0h0m.7 0h0m.5 0h0m.4 0h0m.6 0h0m.4 0h0m-4.8 .3h0m.5 5h0m1.7 0h0m.6 0h0m.4 0h0m.8 0h0m-2.3 9.2h0m2 0h0m.9 0h0m-4.5 30.3h0m1.8 0h0m.3 0h0" stroke="#4d9fde" stroke-width="2.50" stroke-linecap="round" fill="none"/><path d="M598.6 775.1h0m-3.1 2.8h0m1.8 .1h0m-.4 .4h0m-.4 1.3h0m.3-.4h0m-.9 .6h0m.7 .2h0m1.4-.3h0m2 .7h0m-4.4 .5h0m3.2 .1h0m-.6 .4h0m0 .3h0m1.2 .3h0m-3.5 .2h0m1.5 .5h0m2 .1h0m-2.8 .8h0m2.3 0h0m-3.8 .3h0m4.3 .2h0m-3.4 .4h0m2.8-.1h0m.6 .3h0m-.8 1h0m.8 1.3h0m-4.1 .6h0m.9 0h0m.3 0h0m.4 0h0m.4 0h0m.5 0h0m.8 0h0m.6 0h0m.7-.1h0m-1.8 1h0m.7 1.4h0m-2.7 .7h0m.4 0h0m.4 0h0m.5 0h0m.6-.4h0m.4 .4h0m.8 0h0m.8 0h0m-3.4 .8h0m.3-.1h0m2.9 .4h0M598 793h0m-.7 .3h0m2.7 .8h0m-4.8 .4h0m.5-.2h0m.5 .2h0m.3 0h0m.4 0h0m.5 0h0m.7 0h0m.5 0h0m.4 0h0m.5 0h0m.4 0h0m-2.2 .8h0m-2.6 4.5h0m.5 0h0m.3 0h0m.8 0h0m.8 0h0m.3 0h0m.7 0h0m.6 0h0m.5 0h0m-3 9.2h0m1 0h0m.6 0h0m.2 0h0m.7 0h0m.3 0h0m.4 0h0m-3.7 30.3h0m.4 0h0m1 0h0m1.2 0h0m.5 0h0m.3 0h0" stroke="#50a5e7" stroke-width="2.50" stroke-linecap="round" fill="none"/><path d="M602.5 771.7h0m0 2.2h0m-1.7 .9h0m-.1 1.7h0m1.6 2.4h0m-1 .7h0m2.4-.2h0m1-.1h0m-2.8 .7h0m.5-.1h0m1.2 .8h0m-.3 .4h0m1.5-.1h0m-2 1.1h0m1.7-.3h0m-3.9 .5h0m4.1 .1h0m-2.2 .8h0m.3 .2h0m1.7 0h0m-1.8 .8h0m0 .5h0m1.4-.3h0m.4 .2h0m-2.8 .2h0m1.7 .2h0m.6 0h0m-1.4 .5h0m1.8-.1h0m-.5 1h0m.7 .2h0m-2.4 .3h0m.6-.1h0m.6 .3h0m-3.3 .6h0m.3-.3h0m.8 .3h0m.1 0h0m.5 0h0m.5 0h0m.6-.2h0m.5 .2h0m.5 0h0m1.1 0h0m-1.5 .3h0m-1.2 .7h0m2-.3h0m-3.9 .4h0m2.7 .4h0m.9 0h0m.2 .4h0m.7-.3h0m-3 1.4h0m.5 0h0m.4 0h0m1 0h0m1 0h0m-.3 .3h0m-2.3 .6h0m-.8 .4h0m1.5-.2h0m.9 0h0m-1 .6h0m1.2-.1h0m.3 0h0m-2.1 .6h0m2 .1h0m0 .4h0m.1-.1h0m0 .8h0m-4.2 .4h0m.4 0h0m.3 0h0m.5 0h0m1.3 0h0m.2 0h0m.5 0h0m.8 0h0m.5 0h0m.3 0h0m-4.5 .9h0m1.1 .3h0m2.3 .8h0m-2.6 .3h0m-1 3h0m.3 0h0m.7 0h0m.3 0h0m.4 0h0m.4 0h0m.6 0h0m.5 0h0m.4 0h0m.5 0h0m.7 0h0m-4.9 9.2h0m1.1 0h0m.5 0h0m.5 0h0m.1 0h0m.7 0h0m.7 0h0m.5 0h0m.1 0h0m.6 0h0m-4.8 30.3h0m.7 0h0m1.6 0h0m.4 0h0m.8 0h0m.4 0h0m.5 0h0m.5 0h0" stroke="#53abef" stroke-width="2.50" stroke-linecap="round" fill="none"/><path d="M605.2 772.7h0m-.1 3.4h0m.7 1.7h0m.5 .4h0m-.7 .6h0m1.2 0h0m-1 .7h0m.8-.2h0m-1.5 .8h0m0 .2h0m.9 .1h0m.4 .2h0m.4-.2h0m-1.4 .9h0m.8 .7h0m-.2 1.4h0m0 .5h0m.6 .6h0m-1.2 1.1h0m1.2-.1h0m-.7 1h0m.4 .4h0m-.7 .4h0m.3 .4h0m.4 0h0m-.5 2.1h0m-.7 .9h0m.5 0h0m.6 0h0m.5 0h0m-1.6 2.1h0m.9 0h0m.3 .1h0m-.9 .4h0m1.1 .6h0m-1.4 .6h0m.5 0h0m.3 0h0m.5 0h0m.4 0h0m-.3 .3h0m-.5 .8h0m.4 .5h0m-.8 .3h0m-.5 3.4h0m.2 0h0m.5 0h0m.9 0h0m.1 0h0m-1.7 9.2h0m.4 0h0m.4 0h0m.4 0h0m.5 0h0m-.8 30.3h0m.4 0h0" stroke="#56b1f7" stroke-width="2.50" stroke-linecap="round" fill="none"/><path d="M487.6 795.0 L489.6 795.0 L491.6 795.0 L493.7 794.9 L495.7 794.9 L497.7 794.9 L499.7 794.8 L501.7 794.8 L503.8 794.7 L505.8 794.7 L507.8 794.6 L509.8 794.6 L511.8 794.5 L513.9 794.4 L515.9 794.3 L517.9 794.2 L519.9 794.0 L522.0 793.9 L524.0 793.8 L526.0 793.6 L528.0 793.3 L530.0 793.0 L532.1 792.7 L534.1 792.3 L536.1 791.9 L538.1 791.5 L540.1 791.1 L542.2 790.7 L544.2 790.2 L546.2 789.8 L548.2 789.3 L550.2 788.7 L552.3 788.2 L554.3 787.7 L556.3 787.2 L558.3 786.8 L560.3 786.4 L562.4 786.0 L564.4 785.6 L566.4 785.2 L568.4 784.8 L570.5 784.4 L572.5 784.1 L574.5 783.9 L576.5 783.8 L578.5 783.8 L580.6 783.8 L582.6 783.8 L584.6 783.9 L586.6 784.0 L588.6 784.1 L590.7 784.2 L592.7 784.6 L594.7 785.1 L596.7 785.6 L598.7 786.2 L600.8 786.9 L602.8 787.6 L604.8 788.5 L606.8 789.5" stroke="#000" stroke-width="0.9" fill="none"/><line x1="482.3" y1="861.0" x2="482.3" y2="940.5" stroke="#333" stroke-width="0.70"/><line x1="480.1" y1="861.6" x2="482.3" y2="861.6" stroke="#333" stroke-width="0.70"/><text x="479.1" y="864.0" font-size="6.90" fill="#4d4d4d" text-anchor="end" font-family='"Liberation Sans", sans-serif' >10.0</text><line x1="480.1" y1="899.0" x2="482.3" y2="899.0" stroke="#333" stroke-width="0.70"/><text x="479.1" y="901.4" font-size="6.90" fill="#4d4d4d" text-anchor="end" font-family='"Liberation Sans", sans-serif' >1.0</text><line x1="480.1" y1="936.4" x2="482.3" y2="936.4" stroke="#333" stroke-width="0.70"/><text x="479.1" y="938.8" font-size="6.90" fill="#4d4d4d" text-anchor="end" font-family='"Liberation Sans", sans-serif' >0.1</text><text x="547.2" y="857.2" font-size="6.90" fill="#1a1a1a" text-anchor="middle" font-family='"Liberation Sans", sans-serif' >PRDX1</text><path d="M488.8 881.2h0m.8 0h0m-.9 6.5h0m.2 0h0m.4 0h0m.7 0h0m-2.2 11.3h0m.6 0h0m.6 0h0m.3 0h0m.5 0h0m-1.6 37.4h0m.3 0h0m.3 0h0m.8 0h0m.3 0h0" stroke="#132b43" stroke-width="2.50" stroke-linecap="round" fill="none"/><path d="M493.6 876.5h0m-3.3 4.7h0m2.5 0h0m-2.2 6.5h0m.5 0h0m1.3 0h0m.7 0h0m.2 0h0m.5 0h0m.5 0h0m.7 0h0m-4.8 11.3h0m.5 0h0m.5 0h0m.3 0h0m.6 0h0m.6 0h0m.1 0h0m.7 0h0m.7 0h0m.3 0h0m.6 0h0m-4.9 37.4h0m.2 0h0m.7 0h0m.2 0h0m.8 0h0m.3 0h0m.8 0h0m.5 0h0m.1 0h0m.8 0h0m.5 0h0" stroke="#15304a" stroke-width="2.50" stroke-linecap="round" fill="none"/><path d="M498.5 881.2h0m-3.3 6.5h0m.3 0h0m.9 0h0m.6 0h0m.4 0h0m.5 0h0m.6 0h0m.4 0h0m.5 0h0m.4 0h0m-4.6 11.3h0m.3 0h0m.4 0h0m.6 0h0m.3 0h0m.8 0h0m.2 0h0m.9 0h0m.2 0h0m.5 0h0m.4 0h0m-4.7 37.4h0m.5 0h0m.4 0h0m.3 0h0m.6 0h0m.5 0h0m.4 0h0m.6 0h0m.7 0h0m.6 0h0m.2 0h0" stroke="#183550" stroke-width="2.50" stroke-linecap="round" fill="none"/><path d="M500.1 887.7h0m.3 0h0m.6 0h0m.4 0h0m2.3 0h0m-3.5 11.3h0m.4 0h0m.5 0h0m.6 0h0m.4 0h0m.5 0h0m.2 0h0m.5 0h0m.8 0h0m.6 0h0m.2 0h0m-4.7 37.4h0m.1 0h0m.8 0h0m.6 0h0m.2 0h0m.8 0h0m.1 0h0m.7 0h0m.6 0h0m.5 0h0m.4 0h0" stroke="#1b3a57" stroke-width="2.50" stroke-linecap="round" fill="none"/><path d="M506.1 887.7h0m.6 0h0m1.3 0h0m-2.6 11.3h0m.7 0h0m.2 0h0m.9 0h0m.4 0h0m.9 0h0m.4 0h0m.4 0h0m.8 0h0m-4.5 37.4h0m.2 0h0m1.2 0h0m1 0h0m.4 0h0m.6 0h0m.6 0h0m.5 0h0" stroke="#1d3f5e" stroke-width="2.50" stroke-linecap="round" fill="none"/><path d="M511.2 887.7h0m2.5 0h0m.3 0h0m-3.9 11.3h0m.4 0h0m.5 0h0m.4 0h0m.4 0h0m.6 0h0m.4 0h0m.9 0h0m.5 0h0m.2 0h0m.6 0h0m-4.3 37.4h0m.4 0h0m.5 0h0m.2 0h0m.9 0h0m.4 0h0m.5 0h0m.5 0h0m.6 0h0" stroke="#204465" stroke-width="2.50" stroke-linecap="round" fill="none"/><path d="M518.2 881.2h0m-2.8 6.5h0m.7 0h0m1.5 0h0m.5 0h0m.5 0h0m1.3 0h0m-4.7 11.3h0m.4 0h0m.2 0h0m.6 0h0m.7 0h0m.6 0h0m.3 0h0m.6 0h0m.4 0h0m.5 0h0m.5 0h0m-4.8 37.4h0m.1 0h0m.9 0h0m1.1 0h0m.9 0h0m.5 0h0m.3 0h0m.6 0h0m.4 0h0" stroke="#22496c" stroke-width="2.50" stroke-linecap="round" fill="none"/><path d="M521.8 881.2h0m-1.3 6.5h0m.8 0h0m2.3 0h0m.6 0h0m.3 0h0m-4.1 11.3h0m.5 0h0m.4 0h0m.9 0h0m.9 0h0m.8 0h0m.8 0h0m.2 0h0m-4.2 37.4h0m.1 0h0m1.3 0h0m.3 0h0m.5 0h0m.5 0h0m.6 0h0m.4 0h0m.5 0h0" stroke="#254f73" stroke-width="2.50" stroke-linecap="round" fill="none"/><path d="M526.5 887.7h0m.9 0h0m2.2 0h0m-4 11.3h0m.7 0h0m.5 0h0m.5 0h0m.9 0h0m.1 0h0m.8 0h0m.2 0h0m.7 0h0m-4.8 37.4h0m.5 0h0m.3 0h0m.5 0h0m.7 0h0m.2 0h0m.8 0h0m.4 0h0m.2 0h0m.6 0h0" stroke="#28547a" stroke-width="2.50" stroke-linecap="round" fill="none"/><path d="M531.1 881.2h0m.7 6.5h0m-1.3 11.3h0m.3 0h0m.7 0h0m.3 0h0m.8 0h0m.4 0h0m.5 0h0m.3 0h0m.7 0h0m.6 0h0m-4.9 37.4h0m.2 0h0m.7 0h0m.3 0h0m.6 0h0m.6 0h0m.5 0h0m.6 0h0m.5 0h0m.1 0h0m.6 0h0" stroke="#2a5a82" stroke-width="2.50" stroke-linecap="round" fill="none"/><path d="M535.9 881.2h0m2.2 0h0m-2.9 6.5h0m1.7 0h0m.6 0h0m.6 0h0m1.4 0h0m-4.3 11.3h0m.1 0h0m.8 0h0m.6 0h0m.4 0h0m.4 0h0m.7 0h0m.3 0h0m.6 0h0m.2 0h0m.6 0h0m-4.2 37.4h0m.1 0h0m.9 0h0m.2 0h0m.8 0h0m.3 0h0m.7 0h0m.1 0h0m.7 0h0m.5 0h0" stroke="#2d5f89" stroke-width="2.50" stroke-linecap="round" fill="none"/><path d="M540.8 887.7h0m.7 0h0m1.6 0h0m.3 0h0m.4 0h0m-3.4 11.3h0m.5 0h0m.8 0h0m.3 0h0m.7 0h0m.1 0h0m.5 0h0m.8 0h0m.2 0h0m.7 0h0m-4.8 37.4h0m.5 0h0m.2 0h0m.6 0h0m.4 0h0m.8 0h0m.5 0h0m.2 0h0m.4 0h0m.8 0h0" stroke="#306590" stroke-width="2.50" stroke-linecap="round" fill="none"/><path d="M546 876.5h0m.3 0h0m1.8 0h0m1.8 0h0m-3.6 4.7h0m.5 0h0m.8 0h0m.6 0h0m.6 0h0m.9 0h0m-4.1 6.5h0m.9 0h0m.3 0h0m.9 0h0m.2 0h0m.7 0h0m.5 0h0m.2 0h0m-4.1 11.3h0m.4 0h0m.2 0h0m.9 0h0m.9 0h0m.3 0h0m.8 0h0m.6 0h0m.6 0h0m-4.7 37.4h0m.1 0h0m.7 0h0m.5 0h0m1 0h0m1.2 0h0m.6 0h0m.6 0h0" stroke="#336a98" stroke-width="2.50" stroke-linecap="round" fill="none"/><path d="M553 869h0m-2.6 7.5h0m1.4 0h0m1.1 0h0m1.7 0h0m.2 0h0m-4.1 4.7h0m1.6 0h0m.6 0h0m.4 0h0m1.4 0h0m-2.5 6.5h0m.7 0h0m.8 0h0m.7 0h0m-1.7 11.3h0m.7 0h0m.6 0h0m.3 0h0m.7 0h0m-3.9 37.4h0m.2 0h0m.7 0h0m.5 0h0m.6 0h0m.5 0h0m.5 0h0m.2 0h0m.7 0h0" stroke="#3670a0" stroke-width="2.50" stroke-linecap="round" fill="none"/><path d="M555.3 871.3h0m3.2 .8h0m-2 4.4h0m1.7 0h0m1.7 0h0m-4.7 4.7h0m1.7 0h0m.6 0h0m.5 0h0m.3 0h0m.8 0h0m.2 0h0m-3.8 6.5h0m.4 0h0m1.1 0h0m.4 0h0m.7 0h0m.2 0h0m.5 0h0m.9 0h0m.3 0h0m-4.8 11.3h0m.5 0h0m.2 0h0m.8 0h0m.2 0h0m.8 0h0m.3 0h0m.3 0h0m1.1 0h0m.5 0h0m-4.6 37.4h0m.8 0h0m.3 0h0m.5 0h0m.7 0h0m.3 0h0m.8 0h0m.4 0h0m.5 0h0m.3 0h0" stroke="#3875a7" stroke-width="2.50" stroke-linecap="round" fill="none"/><path d="M560.4 870.8h0m0 5.7h0m.8 0h0m.4 0h0m1.8 0h0m1 0h0m-3.9 4.7h0m1.1 0h0m.9 0h0m1.4 0h0m.4 0h0m.5 0h0m-4.2 6.5h0m1.1 0h0m.5 0h0m.1 0h0m.9 0h0m.8 0h0m.4 0h0m.4 0h0m-4.6 11.3h0m.1 0h0m.5 0h0m.6 0h0m.8 0h0m.1 0h0m.7 0h0m.3 0h0m.9 0h0m.2 0h0m.5 0h0m-4.8 37.4h0m.5 0h0m.2 0h0m.9 0h0m.1 0h0m.5 0h0m.6 0h0m.7 0h0m.3 0h0m.7 0h0m.2 0h0" stroke="#3b7baf" stroke-width="2.50" stroke-linecap="round" fill="none"/><path d="M565.2 870.5h0m4.4 .5h0m-2 5.5h0m-.6 4.7h0m1.7 0h0m-1.7 6.5h0m2.1 0h0m-3.3 11.3h0m.6 0h0m1 0h0m.7 0h0m1.4 0h0m.5 0h0m-4.8 37.4h0m.9 0h0m1 0h0m.3 0h0m1.8 0h0m.1 0h0" stroke="#3e81b7" stroke-width="2.50" stroke-linecap="round" fill="none"/><path d="M570.1 876.5h0m2.3 0h0m2.1 0h0m-3.2 4.7h0m.8 0h0m.2 0h0m.5 0h0m.8 0h0m1.5 0h0m-4.9 6.5h0m.1 0h0m.6 0h0m.4 0h0m.8 0h0m.2 0h0m.7 0h0m.7 0h0m.4 0h0m.5 0h0m-4.4 11.3h0m.5 0h0m.9 0h0m.7 0h0m1.2 0h0m.7 0h0m.1 0h0m.7 0h0m-4.4 37.4h0m.6 0h0m.3 0h0m.7 0h0m.3 0h0m.3 0h0m.6 0h0m.8 0h0m.2 0h0m.6 0h0" stroke="#4187bf" stroke-width="2.50" stroke-linecap="round" fill="none"/><path d="M575.1 868.9h0m.1 12.3h0m.3 0h0m1.1 0h0m.4 0h0m.7 0h0m.7 0h0m-2.8 6.5h0m.6 0h0m.1 0h0m.6 0h0m.8 0h0m.7 0h0m1.2 0h0m.4 0h0m-4.7 11.3h0m1.9 0h0m.4 0h0m.6 0h0m.1 0h0m.6 0h0m-3.7 37.4h0m.1 0h0m.6 0h0m.4 0h0m.9 0h0m.5 0h0m.2 0h0m.9 0h0m.6 0h0m.6 0h0" stroke="#448dc6" stroke-width="2.50" stroke-linecap="round" fill="none"/><path d="M580.1 876.5h0m1.2 0h0m-.3 4.7h0m-.4 6.5h0m4.2 0h0m-4.7 48.7h0m.2 0h0m.5 0h0m.7 0h0m2.3 0h0" stroke="#4793ce" stroke-width="2.50" stroke-linecap="round" fill="none"/><path d="M587.9 876.5h0m.2 4.7h0m-2.3 6.5h0m1.3 0h0m.4 0h0m.5 0h0m.4 0h0m.3 11.3h0m.4 0h0m.4 0h0m.5 0h0m-4.5 37.4h0m.7 0h0m.4 0h0m1.4 0h0m1.2 0h0m.3 0h0m.4 0h0" stroke="#4a99d6" stroke-width="2.50" stroke-linecap="round" fill="none"/><path d="M590.2 866h0m1.2 .1h0m1.6 2.3h0m-2.1 8.1h0m.5 0h0m1.3 0h0m.9 0h0m1 0h0m-2.5 4.7h0m.3 0h0m.7 0h0m.8 0h0m.6 0h0m-3.8 6.5h0m1 0h0m.1 0h0m.8 0h0m.2 0h0m.8 0h0m.4 0h0m1 0h0m-4.6 11.3h0m.7 0h0m.8 0h0m.5 0h0m.4 0h0m.6 0h0m.5 0h0m.8 0h0m.1 0h0m-4.6 37.4h0m.1 0h0m.8 0h0m.4 0h0m.6 0h0m.4 0h0m.3 0h0m.7 0h0m.7 0h0m.4 0h0m.2 0h0" stroke="#4d9fde" stroke-width="2.50" stroke-linecap="round" fill="none"/><path d="M595.1 865.7h0m1.7 .5h0m2 2.8h0m-.4 1.1h0m-1.1 1.9h0m2.1 .2h0m-.8 .9h0m-1.2 .7h0m-1.9 2.7h0m1.1 0h0m1.6 0h0m.6 0h0m.8 0h0m-3.4 4.7h0m.5 0h0m1 0h0m.7 0h0m.8 0h0m.2 0h0m-3.7 6.5h0m.2 0h0m.6 0h0m.4 0h0m.5 0h0m.7 0h0m.5 0h0m.4 0h0m.4 0h0m.5 0h0m-4.7 11.3h0m.4 0h0m.3 0h0m.7 0h0m.3 0h0m.4 0h0m.9 0h0m.2 0h0m.4 0h0m.6 0h0m.5 0h0m-4.8 37.4h0m.2 0h0m.8 0h0m.5 0h0m.3 0h0m.8 0h0m.3 0h0m.5 0h0m.7 0h0m.2 0h0m.4 0h0" stroke="#50a5e7" stroke-width="2.50" stroke-linecap="round" fill="none"/><path d="M603.8 865.6h0m-2.2 1.3h0m.7 .1h0m2.6 1.1h0m-4.3 1h0m1.9-.2h0m1.1-.1h0m1.2 1.2h0m-1.3 2.2h0m-3.1 .7h0m3.9-.1h0m-2.6 .5h0m3 .5h0m-3 2.7h0m.5 0h0m.1 0h0m.8 0h0m.9 0h0m.3 0h0m.6 0h0m-4.5 4.7h0m.4 0h0m1.4 0h0m.4 0h0m.2 0h0m.9 0h0m.1 0h0m.6 0h0m.6 0h0m-4.8 6.5h0m.5 0h0m.5 0h0m.5 0h0m.2 0h0m.6 0h0m.5 0h0m.6 0h0m.4 0h0m.3 0h0m.6 0h0m-4.8 11.3h0m.4 0h0m.7 0h0m.2 0h0m.5 0h0m.7 0h0m.3 0h0m.5 0h0m.5 0h0m.4 0h0m.6 0h0m-4.7 37.4h0m.3 0h0m.7 0h0m.1 0h0m.5 0h0m.5 0h0m.5 0h0m.9 0h0m.4 0h0m.2 0h0m.6 0h0" stroke="#53abef" stroke-width="2.50" stroke-linecap="round" fill="none"/><path d="M605.9 864.3h0m0 1.6h0m.8 .5h0m-1.5 .4h0m.4 .3h0m.4 2.5h0m-.2 .5h0m.9 1.8h0m-1.6 4.6h0m.5 0h0m.8 0h0m-1.1 4.7h0m.9 0h0m.2 0h0m.4 0h0m-1.6 6.5h0m.4 0h0m.2 0h0m.7 0h0m.3 0h0m-1.7 11.3h0m.3 0h0m.4 0h0m.6 0h0m.4 0h0m-1.7 37.4h0m.3 0h0m.6 0h0m.3 0h0m.5 0h0" stroke="#56b1f7" stroke-width="2.50" stroke-linecap="round" fill="none"/><path d="M487.6 906.5 L489.6 907.3 L491.6 908.1 L493.7 908.9 L495.7 909.6 L497.7 910.3 L499.7 910.9 L501.7 911.5 L503.8 912.0 L505.8 912.5 L507.8 912.9 L509.8 913.4 L511.8 913.8 L513.9 914.3 L515.9 914.6 L517.9 915.0 L519.9 915.3 L522.0 915.5 L524.0 915.6 L526.0 915.6 L528.0 915.6 L530.0 915.4 L532.1 915.2 L534.1 914.9 L536.1 914.5 L538.1 914.1 L540.1 913.7 L542.2 913.2 L544.2 912.7 L546.2 912.3 L548.2 911.7 L550.2 911.0 L552.3 910.3 L554.3 909.4 L556.3 908.6 L558.3 907.7 L560.3 906.9 L562.4 906.1 L564.4 905.4 L566.4 904.7 L568.4 904.0 L570.5 903.3 L572.5 902.6 L574.5 901.9 L576.5 901.2 L578.5 900.6 L580.6 900.0 L582.6 899.5 L584.6 898.8 L586.6 898.2 L588.6 897.6 L590.7 897.1 L592.7 896.7 L594.7 896.4 L596.7 896.4 L598.7 896.4 L600.8 896.5 L602.8 896.7 L604.8 896.9 L606.8 897.3" stroke="#000" stroke-width="0.9" fill="none"/><line x1="482.0" y1="940.0" x2="612.8" y2="940.0" stroke="#333" stroke-width="0.70"/><line x1="487.6" y1="940.0" x2="487.6" y2="942.2" stroke="#333" stroke-width="0.70"/><text x="487.6" y="949.7" font-size="6.90" fill="#4d4d4d" text-anchor="middle" font-family='"Liberation Sans", sans-serif' >0</text><line x1="523.7" y1="940.0" x2="523.7" y2="942.2" stroke="#333" stroke-width="0.70"/><text x="523.7" y="949.7" font-size="6.90" fill="#4d4d4d" text-anchor="middle" font-family='"Liberation Sans", sans-serif' >10</text><line x1="559.9" y1="940.0" x2="559.9" y2="942.2" stroke="#333" stroke-width="0.70"/><text x="559.9" y="949.7" font-size="6.90" fill="#4d4d4d" text-anchor="middle" font-family='"Liberation Sans", sans-serif' >20</text><line x1="596.0" y1="940.0" x2="596.0" y2="942.2" stroke="#333" stroke-width="0.70"/><text x="596.0" y="949.7" font-size="6.90" fill="#4d4d4d" text-anchor="middle" font-family='"Liberation Sans", sans-serif' >30</text><text x="547.2" y="959.4" font-size="8.70" fill="#000" text-anchor="middle" font-family='"Liberation Sans", sans-serif' >Pseudo−time</text><text x="0.0" y="0.0" font-size="8.70" fill="#000" text-anchor="middle" font-family='"Liberation Sans", sans-serif' transform="translate(460.7 853.0) rotate(-90)">Relative Expression</text><text x="179.7" y="839.0" font-size="8.70" fill="#000" text-anchor="start" font-family='"Liberation Sans", sans-serif' >CellType_1</text><circle cx="186.8" cy="852.0" r="1.3" fill="#ec7469"/><text x="198.0" y="854.0" font-size="7.00" fill="#000" text-anchor="start" font-family='"Liberation Sans", sans-serif' >Monocytes</text><circle cx="186.8" cy="865.4" r="1.3" fill="#1bb3c1"/><text x="198.0" y="867.4" font-size="7.00" fill="#000" text-anchor="start" font-family='"Liberation Sans", sans-serif' >Neutrophils</text><text x="418.7" y="819.0" font-size="8.70" fill="#000" text-anchor="start" font-family='"Liberation Sans", sans-serif' >State</text><circle cx="425.8" cy="831.3" r="1.3" fill="#e9756c"/><text x="438.9" y="833.8" font-size="7.00" fill="#000" text-anchor="middle" font-family='"Liberation Sans", sans-serif' >1</text><circle cx="425.8" cy="845.0" r="1.3" fill="#a0a21e"/><text x="438.9" y="847.5" font-size="7.00" fill="#000" text-anchor="middle" font-family='"Liberation Sans", sans-serif' >2</text><circle cx="425.8" cy="858.7" r="1.3" fill="#32b47a"/><text x="438.9" y="861.2" font-size="7.00" fill="#000" text-anchor="middle" font-family='"Liberation Sans", sans-serif' >3</text><circle cx="425.8" cy="872.3" r="1.3" fill="#2aa8e2"/><text x="438.9" y="874.8" font-size="7.00" fill="#000" text-anchor="middle" font-family='"Liberation Sans", sans-serif' >4</text><circle cx="425.8" cy="886.0" r="1.3" fill="#b57db9"/><text x="438.9" y="888.5" font-size="7.00" fill="#000" text-anchor="middle" font-family='"Liberation Sans", sans-serif' >5</text><text x="625.8" y="819.0" font-size="8.70" fill="#000" text-anchor="start" font-family='"Liberation Sans", sans-serif' >Pseudotime</text><rect x="626.0" y="824.0" width="13.6" height="68.6" fill="url(#gE)"/><line x1="626.0" y1="892.6" x2="628.7" y2="892.6" stroke="#fff" stroke-width="0.70"/><line x1="636.9" y1="892.6" x2="639.6" y2="892.6" stroke="#fff" stroke-width="0.70"/><text x="644.2" y="895.0" font-size="6.90" fill="#333" text-anchor="start" font-family='"Liberation Sans", sans-serif' >0</text><line x1="626.0" y1="871.9" x2="628.7" y2="871.9" stroke="#fff" stroke-width="0.70"/><line x1="636.9" y1="871.9" x2="639.6" y2="871.9" stroke="#fff" stroke-width="0.70"/><text x="644.2" y="874.3" font-size="6.90" fill="#333" text-anchor="start" font-family='"Liberation Sans", sans-serif' >10</text><line x1="626.0" y1="851.3" x2="628.7" y2="851.3" stroke="#fff" stroke-width="0.70"/><line x1="636.9" y1="851.3" x2="639.6" y2="851.3" stroke="#fff" stroke-width="0.70"/><text x="644.2" y="853.7" font-size="6.90" fill="#333" text-anchor="start" font-family='"Liberation Sans", sans-serif' >20</text><line x1="626.0" y1="830.6" x2="628.7" y2="830.6" stroke="#fff" stroke-width="0.70"/><line x1="636.9" y1="830.6" x2="639.6" y2="830.6" stroke="#fff" stroke-width="0.70"/><text x="644.2" y="833.0" font-size="6.90" fill="#333" text-anchor="start" font-family='"Liberation Sans", sans-serif' >30</text></svg>
</div></body></html>
